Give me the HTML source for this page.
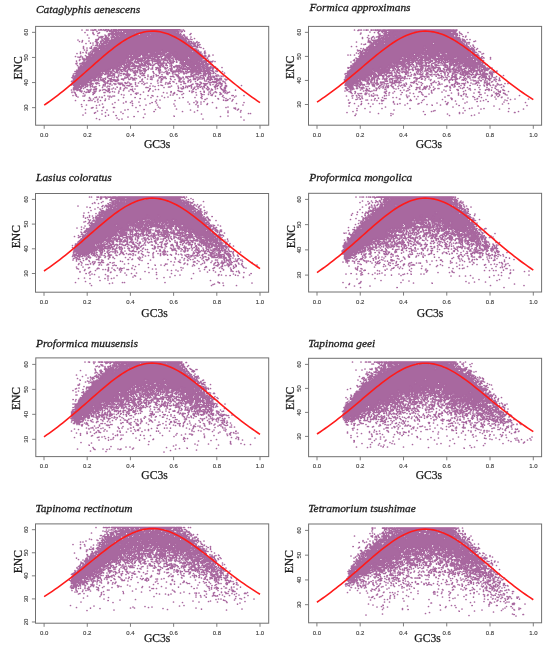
<!DOCTYPE html>
<html><head><meta charset="utf-8"><title>ENC plots</title>
<style>
html,body{margin:0;padding:0;background:#fff;}
svg{display:block;}
.ti{font-family:"Liberation Serif",serif;font-style:italic;font-size:11.4px;fill:#1a1a1a;stroke:#1a1a1a;stroke-width:0.3px;}
.lb{font-family:"Liberation Serif",serif;font-size:11.6px;fill:#1a1a1a;stroke:#1a1a1a;stroke-width:0.25px;}
.tk{font-family:"Liberation Sans",sans-serif;font-size:6.0px;fill:#2a2a2a;stroke:#555;stroke-width:0.12px;}
</style></head><body>
<svg width="550" height="648" viewBox="0 0 550 648">
<defs><filter id="bl" x="-2%" y="-2%" width="104%" height="104%"><feGaussianBlur stdDeviation="0.45"/></filter></defs>
<rect width="550" height="648" fill="#fff"/>
<g filter="url(#bl)"><path d="M94 29.5h2m4 0h2m1 0h1m1 0h2m1 0h1m2 0h1m1 0h4m1 0h62M93 30.5h1m10 0h2m2 0h4m1 0h64M107 31.5h1m1 0h8m1 0h1m2 0h1m1 0h56m2 0h2m1 0h1M112 32.5h2m1 0h4m1 0h15m1 0h40m1 0h2M93 33.5h1m4 0h1m10 0h8m1 0h1m1 0h4m2 0h53m1 0h1M108 34.5h2m1 0h8m1 0h17m3 0h10m1 0h30m9 0h1M105 35.5h1m2 0h2m2 0h2m1 0h3m1 0h32m2 0h5m1 0h22m3 0h1M101 36.5h2m2 0h2m5 0h3m1 0h3m1 0h27m1 0h35M99 37.5h1m2 0h1m2 0h3m3 0h73m1 0h1M104 38.5h5m2 0h1m2 0h70m1 0h3m6 0h1M96 39.5h3m5 0h5m3 0h74m2 0h1m2 0h1M82 40.5h1m13 0h1m5 0h2m2 0h81M82 41.5h1m13 0h1m4 0h1m2 0h4m1 0h78m1 0h4M96 42.5h1m3 0h1m3 0h86m1 0h1M90 43.5h1m6 0h1m3 0h6m1 0h88M97 44.5h1m1 0h1m1 0h3m2 0h81m1 0h3m3 0h1m2 0h1M96 45.5h2m1 0h88m2 0h3m2 0h2m1 0h2M83 46.5h1m7 0h1m8 0h98M83 47.5h1m7 0h1m2 0h3m2 0h6m1 0h87m4 0h1M83 48.5h1m6 0h2m2 0h3m1 0h95m10 0h1M93 49.5h6m1 0h97M93 50.5h101m1 0h2m1 0h1M92 51.5h69m1 0h30m2 0h5m5 0h1M80 52.5h1m5 0h1m3 0h1m1 0h1m2 0h39m2 0h19m1 0h5m1 0h5m2 0h32m3 0h1M80 53.5h1m10 0h2m3 0h52m2 0h15m2 0h8m1 0h16m1 0h8m3 0h1M89 54.5h1m1 0h57m2 0h12m1 0h2m1 0h4m2 0h30M89 55.5h39m2 0h2m1 0h8m1 0h11m1 0h4m2 0h1m2 0h37m1 0h2m2 0h1M86 56.5h5m1 0h48m3 0h2m3 0h10m1 0h4m2 0h6m2 0h33m2 0h1M79 57.5h1m2 0h1m3 0h47m1 0h4m5 0h8m3 0h6m1 0h1m3 0h6m4 0h13m1 0h13M86 58.5h43m2 0h17m1 0h1m4 0h1m2 0h2m2 0h1m2 0h2m2 0h2m1 0h2m2 0h13m2 0h13m2 0h1m1 0h1M83 59.5h43m1 0h2m2 0h3m1 0h8m1 0h2m2 0h1m3 0h4m1 0h3m2 0h4m2 0h2m3 0h1m1 0h1m1 0h25m3 0h2M79 60.5h1m4 0h1m2 0h39m1 0h6m2 0h1m1 0h8m2 0h3m1 0h2m3 0h3m5 0h4m2 0h1m2 0h1m5 0h23m2 0h3m1 0h1M76 61.5h1m9 0h39m2 0h4m3 0h8m3 0h2m1 0h1m3 0h1m3 0h1m2 0h2m8 0h2m2 0h2m1 0h1m3 0h1m1 0h2m1 0h13m1 0h8m1 0h3m1 0h1M82 62.5h1m1 0h48m4 0h3m5 0h4m4 0h1m4 0h1m1 0h2m2 0h1m3 0h1m2 0h4m2 0h1m3 0h20m1 0h6m3 0h1M76 63.5h1m3 0h43m5 0h6m4 0h1m2 0h2m1 0h5m7 0h3m1 0h2m1 0h1m6 0h2m8 0h11m1 0h12m1 0h3M82 64.5h37m1 0h5m1 0h1m1 0h3m2 0h2m4 0h4m1 0h2m1 0h4m3 0h1m3 0h1m2 0h2m3 0h1m14 0h16m1 0h6m1 0h4m1 0h1M84 65.5h38m2 0h3m1 0h2m2 0h3m4 0h6m5 0h1m1 0h2m4 0h4m1 0h1m2 0h2m3 0h1m4 0h4m2 0h4m1 0h8m1 0h5m2 0h2m1 0h2m4 0h1M80 66.5h40m1 0h1m2 0h6m2 0h9m7 0h1m10 0h2m1 0h1m8 0h1m1 0h1m1 0h3m1 0h1m1 0h1m1 0h4m3 0h10m1 0h3m1 0h3m2 0h1M78 67.5h40m1 0h2m1 0h1m1 0h6m5 0h1m2 0h1m1 0h1m11 0h1m7 0h1m4 0h1m5 0h1m5 0h1m1 0h3m1 0h1m2 0h3m1 0h11m1 0h3m1 0h5m2 0h3M78 68.5h42m3 0h4m1 0h2m4 0h1m2 0h1m6 0h1m3 0h1m3 0h1m3 0h3m6 0h2m4 0h1m5 0h1m2 0h6m1 0h3m1 0h10m2 0h3m3 0h2m1 0h2m2 0h2M79 69.5h32m1 0h2m2 0h6m2 0h2m2 0h4m6 0h2m3 0h3m2 0h1m7 0h1m1 0h1m1 0h1m9 0h2m4 0h1m1 0h2m2 0h15m1 0h4m1 0h2m1 0h1m1 0h2m2 0h1M77 70.5h29m1 0h2m3 0h2m3 0h2m2 0h1m2 0h1m2 0h1m2 0h1m1 0h1m2 0h1m1 0h1m2 0h2m2 0h3m11 0h3m9 0h2m4 0h1m1 0h3m6 0h1m2 0h12m1 0h6m1 0h3M75 71.5h34m1 0h2m4 0h2m4 0h1m2 0h1m1 0h1m6 0h1m1 0h2m6 0h2m7 0h1m5 0h1m5 0h1m5 0h1m1 0h4m1 0h4m1 0h1m2 0h1m2 0h9m1 0h11m2 0h2m3 0h1M76 72.5h25m1 0h1m2 0h2m1 0h1m1 0h2m3 0h3m9 0h1m5 0h3m6 0h1m16 0h1m7 0h1m1 0h1m2 0h2m9 0h1m3 0h2m2 0h2m3 0h5m3 0h2m1 0h4M75 73.5h28m3 0h1m1 0h1m4 0h1m9 0h1m3 0h1m6 0h2m4 0h1m1 0h1m23 0h2m16 0h1m6 0h2m3 0h1m1 0h3m2 0h3m1 0h4m2 0h1M76 74.5h26m2 0h2m7 0h2m8 0h1m1 0h1m1 0h3m5 0h1m31 0h1m7 0h2m14 0h1m2 0h5m4 0h3m2 0h3M73 75.5h1m1 0h24m1 0h2m6 0h5m1 0h1m3 0h1m7 0h4m12 0h1m10 0h1m2 0h1m1 0h1m17 0h3m12 0h3m7 0h3m1 0h1m2 0h1m1 0h1m5 0h1M73 76.5h24m2 0h2m6 0h2m5 0h1m3 0h1m8 0h1m23 0h1m18 0h1m1 0h2m3 0h2m7 0h1m1 0h6m9 0h1m4 0h3m2 0h2m1 0h1m4 0h1M72 77.5h1m1 0h23m1 0h4m5 0h1m8 0h2m8 0h2m3 0h1m13 0h1m13 0h2m4 0h1m12 0h2m3 0h1m2 0h2m8 0h1m3 0h1m6 0h2m1 0h2m1 0h2M73 78.5h23m2 0h1m5 0h2m3 0h3m12 0h1m7 0h1m3 0h1m24 0h1m4 0h1m3 0h1m8 0h3m12 0h2m6 0h1m1 0h1m2 0h2m1 0h2m3 0h1m4 0h2M73 79.5h18m2 0h3m2 0h1m3 0h2m1 0h1m4 0h2m1 0h2m6 0h3m5 0h1m3 0h2m7 0h1m7 0h2m10 0h1m16 0h2m9 0h1m3 0h2m2 0h1m5 0h1m2 0h6m1 0h4m7 0h1M73 80.5h16m1 0h1m2 0h4m4 0h4m3 0h1m1 0h1m2 0h4m1 0h1m42 0h1m17 0h1m9 0h1m7 0h1m12 0h1m5 0h3M73 81.5h16m1 0h2m11 0h2m2 0h2m1 0h1m4 0h1m24 0h1m38 0h1m3 0h1m4 0h1m19 0h1m3 0h1m2 0h2m6 0h1M72 82.5h17m1 0h1m6 0h1m6 0h1m2 0h1m17 0h1m9 0h1m64 0h1m8 0h3m2 0h3m3 0h1M74 83.5h13m3 0h3m2 0h2m1 0h1m6 0h1m4 0h1m7 0h4m3 0h2m41 0h3m5 0h1m7 0h2m10 0h1m4 0h1m2 0h1m1 0h2m11 0h3m3 0h1M71 84.5h17m2 0h2m13 0h1m14 0h1m1 0h1m7 0h1m4 0h1m56 0h1m4 0h1m1 0h1m4 0h2m4 0h1m5 0h1m4 0h1M73 85.5h7m1 0h3m1 0h1m1 0h1m2 0h1m1 0h1m6 0h1m3 0h1m20 0h1m4 0h1m28 0h1m2 0h2m27 0h2m12 0h2m9 0h1m1 0h2m7 0h1M74 86.5h10m2 0h2m2 0h1m40 0h2m50 0h1m5 0h1m1 0h1m6 0h1m2 0h1m1 0h2m10 0h1m1 0h1m2 0h1m4 0h2M74 87.5h8m3 0h1m8 0h1m7 0h1m14 0h1m2 0h1m4 0h1m20 0h2m30 0h1m4 0h1m1 0h1m1 0h1m12 0h1m6 0h1m7 0h1m4 0h1m3 0h2M73 88.5h5m2 0h2m1 0h1m12 0h1m23 0h1m3 0h1m25 0h1m27 0h1m3 0h2m10 0h1m7 0h1m3 0h1m14 0h1m2 0h2M73 89.5h4m2 0h2m6 0h1m2 0h1m2 0h2m1 0h1m6 0h2m3 0h2m20 0h3m16 0h1m8 0h1m34 0h1m13 0h2m2 0h2m8 0h1M77 90.5h1m1 0h2m7 0h1m1 0h1m9 0h1m5 0h1m1 0h2m13 0h1m8 0h1m15 0h1m74 0h3m9 0h1M80 91.5h2m6 0h1m5 0h2m11 0h2m3 0h1m35 0h1m22 0h1m7 0h1m9 0h1m3 0h1m10 0h1m10 0h1m7 0h2M74 92.5h1m11 0h1m1 0h2m14 0h1m58 0h1m40 0h1m20 0h1m1 0h2M75 93.5h1m7 0h1m9 0h2m40 0h2m36 0h2m26 0h1m8 0h1m9 0h1M75 94.5h1m17 0h1m27 0h1m14 0h1m65 0h1m5 0h1m3 0h1M152 95.5h1m58 0h1m20 0h2M76 96.5h1m80 0h1m57 0h1m6 0h1M89 97.5h1m5 0h2m5 0h1m32 0h1m28 0h1m18 0h1m17 0h1M140 98.5h1m77 0h1M205 99.5h1M75 100.5h1m8 0h1m3 0h2m15 0h1m117 0h1m1 0h1m1 0h1m4 0h1M155 101.5h1M130 102.5h1m21 0h1m44 0h1m14 0h1M207 103.5h1m28 0h1M81 104.5h1m125 0h1M132 105.5h1M92 107.5h1m20 0h2m101 0h1M234 108.5h2M144 109.5h1m93 0h1M154 111.5h1m27 0h1M95 112.5h1m9 0h1M94 113.5h1m153 0h1M108 115.5h1m7 0h1M105 116.5h1m28 0h1m39 0h1m45 0h1M143 117.5h1M96 118.5h1" stroke="#a8679f" stroke-width="1" fill="none" shape-rendering="crispEdges"/><path d="M82 30h0m4.5 0h0m1.5 0h0m3 0h0m1.5 0h0m1.5 0h0m1 0h0m.5 0h0m.5 0h0m2.5 0h0m.5 0h0m1 0h0m.5 0h0m.5 0h0m.5 0h0m1.5 0h0m.5 0h0m1 0h0m1 0h0m.5 0h0m.5 0h0m.5 0h0m.5 0h0m.5 0h0m.5 0h0m.5 0h0m2 0h0m.5 0h0m1 0h0m.5 0h0m.5 0h0m.5 0h0m.5 0h0m.5 0h0m.5 0h0m.5 0h0m.5 0h0m.5 0h0m1 0h0m.5 0h0m.5 0h0m.5 0h0m.5 0h0m.5 0h0m.5 0h0m.5 0h0m.5 0h0m.5 0h0m.5 0h0m.5 0h0m.5 0h0m.5 0h0m.5 0h0m.5 0h0m.5 0h0m.5 0h0m.5 0h0m.5 0h0m.5 0h0m.5 0h0m.5 0h0m.5 0h0m.5 0h0m.5 0h0m.5 0h0m.5 0h0m.5 0h0m.5 0h0m.5 0h0m.5 0h0m.5 0h0m.5 0h0m.5 0h0m.5 0h0m.5 0h0m.5 0h0m.5 0h0m.5 0h0m.5 0h0m.5 0h0m.5 0h0m.5 0h0m.5 0h0m.5 0h0m.5 0h0m.5 0h0m.5 0h0m.5 0h0m.5 0h0m.5 0h0m.5 0h0m.5 0h0m.5 0h0m.5 0h0m.5 0h0m.5 0h0m.5 0h0m.5 0h0m.5 0h0m.5 0h0m.5 0h0m.5 0h0m.5 0h0m.5 0h0m.5 0h0m.5 0h0m.5 0h0m.5 0h0m.5 0h0m.5 0h0m.5 0h0m.5 0h0m.5 0h0m.5 0h0m.5 0h0m.5 0h0m.5 0h0m.5 0h0m.5 0h0m.5 0h0m.5 0h0m.5 0h0m.5 0h0m.5 0h0m.5 0h0m.5 0h0m.5 0h0m.5 0h0m.5 0h0m.5 0h0m.5 0h0m.5 0h0m.5 0h0m.5 0h0m.5 0h0m.5 0h0m.5 0h0m.5 0h0m.5 0h0m.5 0h0m.5 0h0m.5 0h0m.5 0h0m.5 0h0m.5 0h0m.5 0h0m.5 0h0m.5 0h0m.5 0h0m.5 0h0m.5 0h0m.5 0h0m.5 0h0m.5 0h0m.5 0h0m.5 0h0m.5 0h0m.5 0h0m.5 0h0m.5 0h0m.5 0h0m.5 0h0m1 0h0m.5 0h0m2 0h0m.5 0h0m-90.5 .5h0m12 0h0m3.5 0h0m1.5 0h0m9.5 0h0m2.5 0h0m-3 .5h0m5 0h0m52.5 0h0m8 0h0m-87.5 .5h0m10 0h0m3 0h0m1.5 0h0m1.5 0h0m3 0h0m2 0h0m3 0h0m56 0h0m.5 0h0m1.5 0h0m2 0h0m1 0h0m-64 .5h0m7.5 0h0m8.5 0h0m.5 0h0m41 0h0m3 0h0m.5 0h0m2.5 0h0m-96.5 .5h0m8 0h0m6.5 0h0m12.5 0h0m.5 0h0m6.5 0h0m1.5 0h0m4 0h0m54 0h0m-85.5 .5h0m6 0h0m12.5 0h0m3.5 0h0m2.5 0h0m2.5 0h0m4 0h0m2.5 0h0m8 0h0m1 0h0m.5 0h0m1 0h0m13 0h0m25.5 0h0m1.5 0h0m-84 .5h0m5 0h0m11 0h0m1.5 0h0m1 0h0m7 0h0m5.5 0h0m2.5 0h0m11.5 0h0m.5 0h0m.5 0h0m11 0h0m26.5 0h0m4 0h0m10.5 0h0m-82.5 .5h0m2.5 0h0m.5 0h0m3 0h0m2 0h0m1.5 0h0m.5 0h0m.5 0h0m4 0h0m1 0h0m2.5 0h0m8.5 0h0m1 0h0m.5 0h0m4 0h0m8.5 0h0m3 0h0m.5 0h0m.5 0h0m23.5 0h0m2 0h0m-84.5 .5h0m15.5 0h0m4.5 0h0m6 0h0m.5 0h0m.5 0h0m4 0h0m27.5 0h0m6 0h0m21 0h0m1.5 0h0m3 0h0m6 0h0m-102.5 .5h0m17.5 0h0m3.5 0h0m7 0h0m2 0h0m3 0h0m4 0h0m11.5 0h0m2 0h0m2.5 0h0m9 0h0m.5 0h0m1 0h0m1.5 0h0m5 0h0m1 0h0m21 0h0m4 0h0m-86 .5h0m12 0h0m2.5 0h0m8 0h0m17 0h0m1.5 0h0m.5 0h0m11.5 0h0m9 0h0m21 0h0m4 0h0m-79 .5h0m1 0h0m2 0h0m10 0h0m.5 0h0m18.5 0h0m1 0h0m1 0h0m11 0h0m2.5 0h0m6.5 0h0m21.5 0h0m1.5 0h0m-81.5 .5h0m1 0h0m1 0h0m3 0h0m6.5 0h0m2 0h0m2 0h0m.5 0h0m1.5 0h0m2.5 0h0m25.5 0h0m2 0h0m3 0h0m.5 0h0m6.5 0h0m24 0h0m2.5 0h0m-86 .5h0m6.5 0h0m5.5 0h0m1.5 0h0m1.5 0h0m6.5 0h0m26 0h0m.5 0h0m5 0h0m30 0h0m5 0h0m4 0h0m-91 .5h0m12 0h0m1 0h0m3 0h0m31 0h0m.5 0h0m36 0h0m2 0h0m-96.5 .5h0m12.5 0h0m.5 0h0m6.5 0h0m3 0h0m3.5 0h0m5 0h0m66.5 0h0m-88 .5h0m5.5 0h0m5 0h0m5.5 0h0m69.5 0h0m2 0h0m8.5 0h0m-82.5 .5h0m72.5 0h0m3 0h0m3 0h0m-94.5 .5h0m1 0h0m1 0h0m4 0h0m3 0h0m1 0h0m6.5 0h0m1 0h0m71 0h0m3.5 0h0m4 0h0m-114 .5h0m25 0h0m5.5 0h0m.5 0h0m2 0h0m1 0h0m1 0h0m73 0h0m3 0h0m-106.5 .5h0m13.5 0h0m1 0h0m6.5 0h0m6 0h0m1.5 0h0m75.5 0h0m-97.5 .5h0m12 0h0m1 0h0m1.5 0h0m2 0h0m.5 0h0m-26.5 .5h0m16 0h0m5 0h0m1 0h0m4 0h0m2 0h0m79 0h0m2 0h0m1.5 0h0m.5 0h0m.5 0h0m6 0h0m-115 .5h0m15 0h0m8 0h0m.5 0h0m2 0h0m1.5 0h0m1 0h0m76.5 0h0m5 0h0m2 0h0m-95.5 .5h0m3 0h0m2.5 0h0m84 0h0m2 0h0m7 0h0m2.5 0h0m-108.5 .5h0m2.5 0h0m3.5 0h0m7.5 0h0m4.5 0h0m83.5 0h0m3 0h0m3 0h0m-112 .5h0m11.5 0h0m3.5 0h0m.5 0h0m1 0h0m1 0h0m1 0h0m1 0h0m1 0h0m2 0h0m79 0h0m3.5 0h0m3 0h0m1 0h0m-95.5 .5h0m3.5 0h0m.5 0h0m3 0h0m1.5 0h0m85 0h0m-85.5 .5h0m78.5 0h0m2.5 0h0m.5 0h0m1.5 0h0m3.5 0h0m1 0h0m2.5 0h0m2.5 0h0m-107 .5h0m3.5 0h0m.5 0h0m2.5 0h0m4.5 0h0m2 0h0m2 0h0m78.5 0h0m.5 0h0m4 0h0m3 0h0m5 0h0m-103.5 .5h0m4 0h0m.5 0h0m5.5 0h0m81 0h0m3 0h0m2 0h0m2.5 0h0m-96.5 .5h0m1 0h0m6 0h0m.5 0h0m.5 0h0m81.5 0h0m1.5 0h0m1 0h0m1.5 0h0m1 0h0m3.5 0h0m2 0h0m-114 .5h0m8 0h0m8.5 0h0m.5 0h0m5 0h0m.5 0h0m87.5 0h0m.5 0h0m1.5 0h0m1 0h0m-105 .5h0m14 0h0m1 0h0m86 0h0m4 0h0m3 0h0m-116 .5h0m11 0h0m.5 0h0m1.5 0h0m2.5 0h0m5 0h0m2.5 0h0m85.5 0h0m.5 0h0m5 0h0m3.5 0h0m-114 .5h0m3 0h0m4 0h0m2 0h0m1 0h0m2.5 0h0m4.5 0h0m2 0h0m.5 0h0m.5 0h0m85.5 0h0m-109 .5h0m8 0h0m4.5 0h0m2.5 0h0m93.5 0h0m.5 0h0m2.5 0h0m8.5 0h0m-109 .5h0m2 0h0m96 0h0m1 0h0m3 0h0m-103.5 .5h0m4 0h0m.5 0h0m.5 0h0m2.5 0h0m94.5 0h0m.5 0h0m.5 0h0m-111.5 .5h0m2.5 0h0m6.5 0h0m4 0h0m3 0h0m61.5 0h0m30.5 0h0m3 0h0m.5 0h0m2 0h0m-111 .5h0m106.5 0h0m-102 .5h0m.5 0h0m7.5 0h0m56 0h0m5.5 0h0m6.5 0h0m.5 0h0m.5 0h0m.5 0h0m22.5 0h0m2.5 0h0m1 0h0m.5 0h0m1.5 0h0m1.5 0h0m6.5 0h0m-112 .5h0m.5 0h0m.5 0h0m1 0h0m41 0h0m19.5 0h0m7.5 0h0m28.5 0h0m3 0h0m-114 .5h0m5.5 0h0m4.5 0h0m2.5 0h0m2 0h0m38 0h0m.5 0h0m15.5 0h0m7 0h0m.5 0h0m6 0h0m3.5 0h0m9.5 0h0m18 0h0m.5 0h0m.5 0h0m3 0h0m.5 0h0m1.5 0h0m1.5 0h0m3.5 0h0m-121.5 .5h0m7.5 0h0m5 0h0m39 0h0m1.5 0h0m12.5 0h0m7.5 0h0m.5 0h0m.5 0h0m4 0h0m2 0h0m2.5 0h0m1 0h0m2.5 0h0m6.5 0h0m.5 0h0m16.5 0h0m.5 0h0m.5 0h0m7 0h0m-114 .5h0m2.5 0h0m1.5 0h0m1.5 0h0m4 0h0m37.5 0h0m1.5 0h0m15 0h0m10 0h0m1.5 0h0m1.5 0h0m1.5 0h0m.5 0h0m4 0h0m7 0h0m.5 0h0m14.5 0h0m9 0h0m4.5 0h0m1 0h0m-128.5 .5h0m3.5 0h0m11.5 0h0m2.5 0h0m1.5 0h0m38 0h0m1 0h0m.5 0h0m12 0h0m8.5 0h0m6.5 0h0m5 0h0m1 0h0m2 0h0m4 0h0m2 0h0m16.5 0h0m.5 0h0m-105 .5h0m5.5 0h0m.5 0h0m38 0h0m8.5 0h0m10 0h0m7 0h0m1 0h0m2.5 0h0m.5 0h0m1 0h0m1.5 0h0m7 0h0m.5 0h0m20 0h0m8 0h0m.5 0h0m1.5 0h0m-112 .5h0m1.5 0h0m4 0h0m34 0h0m11.5 0h0m9 0h0m3.5 0h0m10.5 0h0m2.5 0h0m2.5 0h0m.5 0h0m.5 0h0m5.5 0h0m16.5 0h0m9 0h0m-112 .5h0m3 0h0m1 0h0m1 0h0m33 0h0m.5 0h0m3 0h0m.5 0h0m9.5 0h0m5 0h0m2.5 0h0m.5 0h0m1 0h0m2.5 0h0m1 0h0m.5 0h0m9.5 0h0m.5 0h0m.5 0h0m.5 0h0m.5 0h0m1 0h0m26.5 0h0m12.5 0h0m4 0h0m4 0h0m-127.5 .5h0m4.5 0h0m1 0h0m1 0h0m35.5 0h0m.5 0h0m.5 0h0m2 0h0m3 0h0m.5 0h0m6 0h0m3 0h0m2 0h0m.5 0h0m1.5 0h0m2.5 0h0m4.5 0h0m3 0h0m.5 0h0m3 0h0m10.5 0h0m1 0h0m.5 0h0m27 0h0m1 0h0m1.5 0h0m-121 .5h0m10 0h0m36 0h0m1 0h0m2.5 0h0m.5 0h0m9 0h0m5 0h0m3 0h0m.5 0h0m3.5 0h0m9.5 0h0m1 0h0m2.5 0h0m.5 0h0m4.5 0h0m4 0h0m1 0h0m25 0h0m3.5 0h0m1 0h0m1.5 0h0m3.5 0h0m-134 .5h0m11 0h0m2 0h0m2 0h0m2 0h0m35.5 0h0m.5 0h0m.5 0h0m3.5 0h0m.5 0h0m.5 0h0m.5 0h0m9 0h0m1 0h0m1 0h0m6.5 0h0m1 0h0m1 0h0m.5 0h0m3.5 0h0m1.5 0h0m1.5 0h0m1 0h0m4.5 0h0m4 0h0m.5 0h0m.5 0h0m2.5 0h0m15 0h0m.5 0h0m14 0h0m.5 0h0m1.5 0h0m3.5 0h0m-130.5 .5h0m2 0h0m.5 0h0m2 0h0m5 0h0m1.5 0h0m40.5 0h0m3 0h0m4.5 0h0m1 0h0m5 0h0m2 0h0m1.5 0h0m4 0h0m2 0h0m3 0h0m2 0h0m2 0h0m1.5 0h0m5 0h0m2 0h0m2.5 0h0m3 0h0m14 0h0m-108 .5h0m3 0h0m47 0h0m1 0h0m1.5 0h0m.5 0h0m10.5 0h0m2.5 0h0m2 0h0m.5 0h0m1 0h0m6 0h0m1 0h0m.5 0h0m8.5 0h0m.5 0h0m1.5 0h0m.5 0h0m7.5 0h0m.5 0h0m-89 .5h0m5 0h0m36.5 0h0m5.5 0h0m.5 0h0m.5 0h0m6 0h0m.5 0h0m1.5 0h0m3 0h0m.5 0h0m.5 0h0m.5 0h0m.5 0h0m.5 0h0m9.5 0h0m.5 0h0m1 0h0m6.5 0h0m.5 0h0m1.5 0h0m.5 0h0m3 0h0m1.5 0h0m4 0h0m11 0h0m2.5 0h0m.5 0h0m11 0h0m.5 0h0m3 0h0m2 0h0m.5 0h0m-123.5 .5h0m3 0h0m40 0h0m1 0h0m3 0h0m2.5 0h0m1.5 0h0m4 0h0m1 0h0m6.5 0h0m3 0h0m.5 0h0m1.5 0h0m1 0h0m1 0h0m.5 0h0m7.5 0h0m2.5 0h0m.5 0h0m3.5 0h0m3.5 0h0m4 0h0m12.5 0h0m2 0h0m1 0h0m12.5 0h0m1.5 0h0m-122.5 .5h0m3.5 0h0m.5 0h0m40.5 0h0m1 0h0m3.5 0h0m5 0h0m2 0h0m1 0h0m1.5 0h0m1 0h0m2.5 0h0m4 0h0m3 0h0m3.5 0h0m2.5 0h0m5 0h0m2.5 0h0m.5 0h0m3 0h0m1 0h0m3.5 0h0m.5 0h0m14.5 0h0m14 0h0m.5 0h0m-122.5 .5h0m4 0h0m1 0h0m1.5 0h0m39 0h0m2 0h0m3 0h0m3 0h0m11 0h0m3.5 0h0m5.5 0h0m3.5 0h0m6.5 0h0m5 0h0m1 0h0m.5 0h0m3.5 0h0m2.5 0h0m1.5 0h0m1 0h0m11 0h0m16.5 0h0m.5 0h0m-127 .5h0m5 0h0m.5 0h0m42.5 0h0m.5 0h0m1 0h0m2.5 0h0m1 0h0m3 0h0m12.5 0h0m4.5 0h0m2 0h0m1 0h0m2 0h0m2.5 0h0m1 0h0m1 0h0m3.5 0h0m1 0h0m3.5 0h0m11.5 0h0m3 0h0m3.5 0h0m10.5 0h0m8 0h0m2 0h0m-129 .5h0m7.5 0h0m38 0h0m2 0h0m.5 0h0m5 0h0m10 0h0m1 0h0m.5 0h0m3 0h0m2 0h0m2 0h0m1 0h0m4 0h0m1.5 0h0m1.5 0h0m5 0h0m1 0h0m1.5 0h0m1 0h0m2 0h0m.5 0h0m1 0h0m2 0h0m.5 0h0m5.5 0h0m.5 0h0m1.5 0h0m17 0h0m3.5 0h0m2.5 0h0m4 0h0m-131.5 .5h0m7 0h0m1 0h0m2.5 0h0m.5 0h0m.5 0h0m37.5 0h0m2 0h0m2 0h0m1 0h0m5 0h0m5 0h0m1.5 0h0m1 0h0m.5 0h0m.5 0h0m1.5 0h0m7.5 0h0m16.5 0h0m1 0h0m2.5 0h0m3.5 0h0m6 0h0m.5 0h0m16.5 0h0m1 0h0m2 0h0m1 0h0m9.5 0h0m-126.5 .5h0m.5 0h0m37 0h0m7 0h0m3.5 0h0m.5 0h0m1 0h0m1 0h0m3 0h0m7 0h0m1.5 0h0m.5 0h0m3.5 0h0m2 0h0m1.5 0h0m2 0h0m2.5 0h0m3 0h0m7.5 0h0m3 0h0m2.5 0h0m5.5 0h0m4 0h0m14 0h0m2 0h0m1.5 0h0m2.5 0h0m.5 0h0m2 0h0m1.5 0h0m1 0h0m4 0h0m-89 .5h0m5 0h0m3.5 0h0m7 0h0m7.5 0h0m8 0h0m2.5 0h0m.5 0h0m.5 0h0m7 0h0m3 0h0m.5 0h0m5.5 0h0m.5 0h0m3.5 0h0m1 0h0m.5 0h0m.5 0h0m.5 0h0m2.5 0h0m6 0h0m5.5 0h0m.5 0h0m.5 0h0m2 0h0m11 0h0m1 0h0m-129.5 .5h0m1.5 0h0m1.5 0h0m37.5 0h0m3 0h0m1 0h0m5.5 0h0m2.5 0h0m9 0h0m3 0h0m21 0h0m3 0h0m.5 0h0m.5 0h0m.5 0h0m.5 0h0m8.5 0h0m16.5 0h0m.5 0h0m.5 0h0m5.5 0h0m.5 0h0m5 0h0m-133 .5h0m5 0h0m37.5 0h0m5.5 0h0m2 0h0m2 0h0m3 0h0m4.5 0h0m1.5 0h0m.5 0h0m6 0h0m8 0h0m6 0h0m1 0h0m1.5 0h0m1.5 0h0m2 0h0m.5 0h0m4 0h0m4 0h0m7 0h0m1 0h0m3.5 0h0m7.5 0h0m7.5 0h0m6 0h0m.5 0h0m-130 .5h0m4 0h0m.5 0h0m3.5 0h0m38.5 0h0m2 0h0m2 0h0m6 0h0m9 0h0m.5 0h0m3 0h0m1.5 0h0m2 0h0m.5 0h0m1 0h0m5.5 0h0m2 0h0m1 0h0m2 0h0m.5 0h0m2.5 0h0m3 0h0m4 0h0m20 0h0m2 0h0m4.5 0h0m6 0h0m-126.5 .5h0m3.5 0h0m2 0h0m2 0h0m36 0h0m2.5 0h0m.5 0h0m.5 0h0m3.5 0h0m3 0h0m3 0h0m1 0h0m5.5 0h0m5 0h0m3.5 0h0m.5 0h0m.5 0h0m1 0h0m8 0h0m4.5 0h0m7.5 0h0m1.5 0h0m14.5 0h0m6 0h0m.5 0h0m4.5 0h0m3 0h0m1 0h0m1 0h0m6.5 0h0m.5 0h0m-125.5 .5h0m36 0h0m3.5 0h0m5.5 0h0m2 0h0m3 0h0m1 0h0m5 0h0m.5 0h0m.5 0h0m2 0h0m5.5 0h0m1 0h0m1 0h0m4 0h0m.5 0h0m7 0h0m20 0h0m13.5 0h0m1 0h0m.5 0h0m1.5 0h0m.5 0h0m.5 0h0m6 0h0m.5 0h0m2.5 0h0m2.5 0h0m1.5 0h0m-130 .5h0m2.5 0h0m.5 0h0m34.5 0h0m4 0h0m1 0h0m2 0h0m2.5 0h0m4 0h0m7.5 0h0m2.5 0h0m.5 0h0m.5 0h0m1 0h0m3.5 0h0m2 0h0m.5 0h0m1 0h0m6.5 0h0m1.5 0h0m1 0h0m2 0h0m2.5 0h0m19.5 0h0m2.5 0h0m7 0h0m3 0h0m.5 0h0m2.5 0h0m2.5 0h0m.5 0h0m4 0h0m-130 .5h0m3 0h0m4 0h0m41.5 0h0m1.5 0h0m4.5 0h0m3 0h0m1.5 0h0m2.5 0h0m1 0h0m1 0h0m1 0h0m4 0h0m7.5 0h0m5.5 0h0m2 0h0m5.5 0h0m.5 0h0m4.5 0h0m.5 0h0m4 0h0m.5 0h0m1.5 0h0m1 0h0m.5 0h0m.5 0h0m8 0h0m1.5 0h0m14.5 0h0m2 0h0m1 0h0m.5 0h0m-124 .5h0m.5 0h0m34 0h0m3 0h0m9 0h0m4.5 0h0m3 0h0m1.5 0h0m1.5 0h0m2.5 0h0m1.5 0h0m15 0h0m3.5 0h0m7 0h0m.5 0h0m7 0h0m.5 0h0m.5 0h0m3.5 0h0m.5 0h0m1.5 0h0m.5 0h0m1 0h0m4 0h0m1 0h0m4 0h0m2 0h0m5.5 0h0m1 0h0m1 0h0m4 0h0m4 0h0m-130.5 .5h0m.5 0h0m1 0h0m1 0h0m35 0h0m.5 0h0m2 0h0m3 0h0m7 0h0m1.5 0h0m.5 0h0m3 0h0m1 0h0m1.5 0h0m.5 0h0m8.5 0h0m12 0h0m2.5 0h0m12 0h0m1.5 0h0m5.5 0h0m2 0h0m2.5 0h0m10 0h0m4 0h0m2 0h0m1.5 0h0m2 0h0m5 0h0m-132 .5h0m1 0h0m2.5 0h0m1.5 0h0m38.5 0h0m5 0h0m11 0h0m.5 0h0m1.5 0h0m6.5 0h0m6 0h0m8 0h0m3.5 0h0m9.5 0h0m3.5 0h0m2 0h0m5 0h0m2 0h0m3.5 0h0m10.5 0h0m1 0h0m6 0h0m8.5 0h0m-136 .5h0m40.5 0h0m3 0h0m4.5 0h0m2 0h0m5.5 0h0m3.5 0h0m2.5 0h0m11.5 0h0m3.5 0h0m1.5 0h0m2.5 0h0m5 0h0m2.5 0h0m4 0h0m3 0h0m3 0h0m2.5 0h0m.5 0h0m1.5 0h0m4.5 0h0m.5 0h0m1 0h0m13 0h0m6 0h0m2.5 0h0m1.5 0h0m2 0h0m1 0h0m8 0h0m-110.5 .5h0m3 0h0m3 0h0m1.5 0h0m19 0h0m10.5 0h0m.5 0h0m3.5 0h0m5.5 0h0m.5 0h0m19 0h0m2 0h0m2 0h0m6 0h0m2.5 0h0m10.5 0h0m2.5 0h0m1 0h0m1 0h0m1.5 0h0m.5 0h0m1.5 0h0m.5 0h0m3 0h0m.5 0h0m-134 .5h0m36.5 0h0m.5 0h0m8.5 0h0m2 0h0m2.5 0h0m5 0h0m.5 0h0m.5 0h0m.5 0h0m2.5 0h0m5.5 0h0m1.5 0h0m.5 0h0m11.5 0h0m8.5 0h0m.5 0h0m1 0h0m3.5 0h0m1.5 0h0m.5 0h0m5.5 0h0m3.5 0h0m3.5 0h0m3.5 0h0m4 0h0m5 0h0m.5 0h0m3 0h0m2.5 0h0m2 0h0m5 0h0m3.5 0h0m3 0h0m1 0h0m-104.5 .5h0m2 0h0m.5 0h0m.5 0h0m1 0h0m3 0h0m5.5 0h0m3.5 0h0m1.5 0h0m2 0h0m7.5 0h0m4.5 0h0m6.5 0h0m1 0h0m.5 0h0m6 0h0m1.5 0h0m5.5 0h0m12.5 0h0m5 0h0m2 0h0m1 0h0m4 0h0m11.5 0h0m1 0h0m.5 0h0m4 0h0m1.5 0h0m1 0h0m.5 0h0m2.5 0h0m-103.5 .5h0m.5 0h0m3 0h0m7 0h0m2 0h0m1.5 0h0m6 0h0m.5 0h0m1.5 0h0m.5 0h0m7 0h0m5.5 0h0m1.5 0h0m2.5 0h0m8 0h0m16 0h0m4.5 0h0m2.5 0h0m3.5 0h0m.5 0h0m2 0h0m4.5 0h0m1 0h0m5.5 0h0m2.5 0h0m.5 0h0m4.5 0h0m.5 0h0m-127 .5h0m1.5 0h0m.5 0h0m27 0h0m1.5 0h0m2.5 0h0m3 0h0m.5 0h0m4 0h0m3 0h0m4 0h0m3 0h0m12 0h0m4.5 0h0m2 0h0m14.5 0h0m8 0h0m2 0h0m6 0h0m4 0h0m17.5 0h0m.5 0h0m5 0h0m.5 0h0m1 0h0m2.5 0h0m1 0h0m4 0h0m.5 0h0m4 0h0m-139.5 .5h0m28.5 0h0m2 0h0m.5 0h0m4 0h0m4 0h0m1 0h0m1 0h0m2.5 0h0m3 0h0m6.5 0h0m5 0h0m2 0h0m3.5 0h0m1 0h0m4 0h0m12.5 0h0m1 0h0m12 0h0m5.5 0h0m14 0h0m6 0h0m1.5 0h0m2.5 0h0m.5 0h0m5.5 0h0m3.5 0h0m1.5 0h0m.5 0h0m-136 .5h0m25 0h0m3 0h0m1.5 0h0m1.5 0h0m1 0h0m3.5 0h0m1 0h0m3.5 0h0m.5 0h0m8 0h0m.5 0h0m.5 0h0m1.5 0h0m3.5 0h0m2 0h0m1 0h0m2 0h0m4 0h0m1.5 0h0m2.5 0h0m16 0h0m6.5 0h0m4.5 0h0m2.5 0h0m1 0h0m1 0h0m3 0h0m.5 0h0m.5 0h0m1 0h0m1.5 0h0m4 0h0m11 0h0m6 0h0m.5 0h0m5 0h0m1 0h0m2.5 0h0m.5 0h0m3 0h0m-140.5 .5h0m1.5 0h0m24.5 0h0m.5 0h0m2 0h0m.5 0h0m1 0h0m1 0h0m4 0h0m4.5 0h0m7 0h0m.5 0h0m.5 0h0m3.5 0h0m10 0h0m1.5 0h0m2.5 0h0m13 0h0m12.5 0h0m7 0h0m3 0h0m1.5 0h0m3 0h0m.5 0h0m.5 0h0m2 0h0m2.5 0h0m1.5 0h0m2 0h0m1 0h0m.5 0h0m2.5 0h0m2.5 0h0m3.5 0h0m2 0h0m1.5 0h0m10.5 0h0m4 0h0m5.5 0h0m-146 .5h0m30 0h0m.5 0h0m1 0h0m.5 0h0m9 0h0m2 0h0m16.5 0h0m9 0h0m14 0h0m3 0h0m5.5 0h0m5 0h0m2 0h0m1 0h0m3 0h0m2.5 0h0m2 0h0m4 0h0m3 0h0m4 0h0m1.5 0h0m.5 0h0m1.5 0h0m-91 .5h0m4 0h0m1 0h0m4 0h0m1 0h0m17 0h0m2 0h0m2 0h0m16 0h0m6.5 0h0m4 0h0m9 0h0m8 0h0m6.5 0h0m.5 0h0m3.5 0h0m5.5 0h0m1.5 0h0m6 0h0m3 0h0m3 0h0m3 0h0m.5 0h0m-113.5 .5h0m2 0h0m3 0h0m7 0h0m5.5 0h0m9 0h0m.5 0h0m12.5 0h0m2 0h0m.5 0h0m24 0h0m1.5 0h0m1 0h0m.5 0h0m3 0h0m11 0h0m1 0h0m.5 0h0m7.5 0h0m.5 0h0m3.5 0h0m3.5 0h0m3.5 0h0m7 0h0m14 0h0m-149.5 .5h0m1 0h0m25.5 0h0m2 0h0m3 0h0m1.5 0h0m.5 0h0m2.5 0h0m3 0h0m6 0h0m1.5 0h0m2 0h0m1 0h0m10 0h0m1 0h0m6.5 0h0m2.5 0h0m9.5 0h0m5.5 0h0m19.5 0h0m7.5 0h0m5.5 0h0m7.5 0h0m1.5 0h0m2.5 0h0m2.5 0h0m1.5 0h0m3.5 0h0m2 0h0m2.5 0h0m-142 .5h0m25.5 0h0m2.5 0h0m.5 0h0m4 0h0m1.5 0h0m2.5 0h0m3.5 0h0m1 0h0m10.5 0h0m2 0h0m1.5 0h0m12 0h0m3 0h0m23.5 0h0m.5 0h0m5.5 0h0m2 0h0m9 0h0m7 0h0m4.5 0h0m2.5 0h0m.5 0h0m5.5 0h0m1.5 0h0m4.5 0h0m-133.5 .5h0m28.5 0h0m8 0h0m1 0h0m9.5 0h0m6 0h0m.5 0h0m5.5 0h0m20.5 0h0m6 0h0m6 0h0m8 0h0m18.5 0h0m.5 0h0m1.5 0h0m.5 0h0m.5 0h0m1 0h0m7 0h0m.5 0h0m3.5 0h0m-133.5 .5h0m24.5 0h0m1.5 0h0m6.5 0h0m1 0h0m4.5 0h0m.5 0h0m4 0h0m.5 0h0m7 0h0m.5 0h0m3 0h0m6.5 0h0m12 0h0m29.5 0h0m.5 0h0m13 0h0m2.5 0h0m5 0h0m6 0h0m4 0h0m8.5 0h0m1 0h0m-145 .5h0m2.5 0h0m21.5 0h0m2 0h0m2 0h0m9.5 0h0m.5 0h0m1 0h0m1 0h0m8 0h0m13.5 0h0m7.5 0h0m1.5 0h0m1 0h0m9 0h0m4.5 0h0m18.5 0h0m16 0h0m8.5 0h0m1 0h0m.5 0h0m1 0h0m7 0h0m5.5 0h0m-142 .5h0m24 0h0m2 0h0m7.5 0h0m2.5 0h0m18 0h0m1 0h0m9.5 0h0m18 0h0m16.5 0h0m5 0h0m13.5 0h0m3.5 0h0m10.5 0h0m5 0h0m2.5 0h0m6 0h0m2 0h0m2 0h0m-150 .5h0m1.5 0h0m24.5 0h0m1 0h0m7.5 0h0m1 0h0m6 0h0m4 0h0m29.5 0h0m3.5 0h0m9.5 0h0m1.5 0h0m8 0h0m1.5 0h0m5.5 0h0m8.5 0h0m2 0h0m1 0h0m2 0h0m2 0h0m7 0h0m3.5 0h0m5 0h0m1.5 0h0m3 0h0m1 0h0m.5 0h0m2 0h0m.5 0h0m6 0h0m-148.5 .5h0m22 0h0m.5 0h0m2 0h0m2 0h0m6.5 0h0m4.5 0h0m4.5 0h0m8.5 0h0m2 0h0m13 0h0m10.5 0h0m3 0h0m6 0h0m5 0h0m1 0h0m8.5 0h0m5.5 0h0m3.5 0h0m3.5 0h0m3.5 0h0m6.5 0h0m1.5 0h0m10.5 0h0m1.5 0h0m1.5 0h0m3 0h0m-142.5 .5h0m2.5 0h0m22.5 0h0m2 0h0m1 0h0m1.5 0h0m6 0h0m6.5 0h0m3 0h0m.5 0h0m13.5 0h0m1 0h0m8 0h0m5 0h0m15 0h0m3.5 0h0m15 0h0m1 0h0m3.5 0h0m3 0h0m1 0h0m11 0h0m3 0h0m3 0h0m3.5 0h0m3 0h0m3 0h0m1 0h0m-141.5 .5h0m1.5 0h0m18.5 0h0m2 0h0m5.5 0h0m5 0h0m20.5 0h0m2.5 0h0m6.5 0h0m17 0h0m7 0h0m5 0h0m14.5 0h0m.5 0h0m2 0h0m12.5 0h0m.5 0h0m2 0h0m3.5 0h0m3 0h0m5 0h0m4 0h0m9.5 0h0m-130 .5h0m1 0h0m12 0h0m5 0h0m2 0h0m13.5 0h0m8 0h0m1 0h0m3 0h0m25 0h0m4.5 0h0m4.5 0h0m9.5 0h0m1.5 0h0m6.5 0h0m6 0h0m.5 0h0m9.5 0h0m4 0h0m2.5 0h0m4.5 0h0m2 0h0m2.5 0h0m.5 0h0m-146.5 .5h0m16 0h0m4 0h0m4.5 0h0m4.5 0h0m3 0h0m4.5 0h0m.5 0h0m7.5 0h0m3.5 0h0m1 0h0m.5 0h0m7.5 0h0m12 0h0m5 0h0m3 0h0m12 0h0m17.5 0h0m1 0h0m3 0h0m11 0h0m.5 0h0m2.5 0h0m2 0h0m2 0h0m6.5 0h0m.5 0h0m7 0h0m4 0h0m.5 0h0m1 0h0m3.5 0h0m-151.5 .5h0m17.5 0h0m2.5 0h0m.5 0h0m1 0h0m1 0h0m4.5 0h0m2.5 0h0m9 0h0m1.5 0h0m1 0h0m8.5 0h0m6 0h0m5.5 0h0m7.5 0h0m10 0h0m10.5 0h0m8.5 0h0m4 0h0m15.5 0h0m3 0h0m.5 0h0m1 0h0m3 0h0m9 0h0m2 0h0m3 0h0m2.5 0h0m3.5 0h0m9 0h0m-153 .5h0m19 0h0m.5 0h0m1.5 0h0m1 0h0m2.5 0h0m3 0h0m10 0h0m4 0h0m1.5 0h0m1.5 0h0m5 0h0m9.5 0h0m2 0h0m23 0h0m3 0h0m.5 0h0m17.5 0h0m1 0h0m9 0h0m8.5 0h0m7 0h0m12.5 0h0m1.5 0h0m.5 0h0m2 0h0m5 0h0m-152.5 .5h0m15 0h0m1.5 0h0m1.5 0h0m1.5 0h0m3 0h0m1 0h0m4 0h0m1.5 0h0m2 0h0m3.5 0h0m2 0h0m3.5 0h0m28.5 0h0m68 0h0m6.5 0h0m2.5 0h0m-147 .5h0m1.5 0h0m.5 0h0m14.5 0h0m3 0h0m3 0h0m4.5 0h0m4 0h0m12 0h0m2.5 0h0m24.5 0h0m15.5 0h0m22 0h0m3.5 0h0m5 0h0m3 0h0m14 0h0m1.5 0h0m11 0h0m5.5 0h0m-151.5 .5h0m19 0h0m14.5 0h0m2.5 0h0m.5 0h0m2.5 0h0m1.5 0h0m4 0h0m24 0h0m30 0h0m3 0h0m6 0h0m5 0h0m11.5 0h0m13 0h0m4 0h0m1.5 0h0m9 0h0m-149 .5h0m17 0h0m13 0h0m1 0h0m2.5 0h0m20.5 0h0m15.5 0h0m17 0h0m1 0h0m12.5 0h0m6.5 0h0m1 0h0m6.5 0h0m2.5 0h0m9.5 0h0m8.5 0h0m4 0h0m2.5 0h0m5 0h0m4.5 0h0m.5 0h0m-152.5 .5h0m1 0h0m14 0h0m1.5 0h0m1.5 0h0m6.5 0h0m8 0h0m20 0h0m10.5 0h0m30.5 0h0m18 0h0m17 0h0m9 0h0m1 0h0m3 0h0m1 0h0m1.5 0h0m-142.5 .5h0m13 0h0m3 0h0m1 0h0m4.5 0h0m2.5 0h0m8.5 0h0m11.5 0h0m.5 0h0m1.5 0h0m2 0h0m5 0h0m2.5 0h0m9 0h0m8.5 0h0m11 0h0m10 0h0m1.5 0h0m31.5 0h0m.5 0h0m17 0h0m.5 0h0m1.5 0h0m-146.5 .5h0m1 0h0m16 0h0m1 0h0m1 0h0m5 0h0m.5 0h0m.5 0h0m9 0h0m2 0h0m.5 0h0m3.5 0h0m6 0h0m1 0h0m4.5 0h0m16.5 0h0m3 0h0m6 0h0m19 0h0m6.5 0h0m7.5 0h0m1.5 0h0m10.5 0h0m1 0h0m6.5 0h0m1.5 0h0m2.5 0h0m9.5 0h0m2.5 0h0m.5 0h0m.5 0h0m1.5 0h0m3.5 0h0m-153.5 .5h0m1.5 0h0m.5 0h0m.5 0h0m6 0h0m6 0h0m5 0h0m1.5 0h0m3.5 0h0m8.5 0h0m10 0h0m.5 0h0m.5 0h0m3 0h0m3 0h0m8.5 0h0m1 0h0m4 0h0m30 0h0m2.5 0h0m25 0h0m5 0h0m6.5 0h0m1.5 0h0m4 0h0m10.5 0h0m.5 0h0m-147.5 .5h0m7 0h0m.5 0h0m6 0h0m3.5 0h0m13 0h0m6.5 0h0m5 0h0m5 0h0m3 0h0m21 0h0m37 0h0m11 0h0m7.5 0h0m1 0h0m12.5 0h0m-141.5 .5h0m2 0h0m.5 0h0m5 0h0m2.5 0h0m2.5 0h0m.5 0h0m.5 0h0m2.5 0h0m.5 0h0m1.5 0h0m22.5 0h0m18 0h0m31 0h0m36 0h0m7.5 0h0m1.5 0h0m4.5 0h0m5 0h0m1 0h0m2 0h0m3.5 0h0m-142.5 .5h0m20 0h0m5.5 0h0m18 0h0m1.5 0h0m2.5 0h0m1 0h0m30.5 0h0m4 0h0m28 0h0m.5 0h0m8.5 0h0m5 0h0m13.5 0h0m7.5 0h0m1 0h0m15 0h0m-158 .5h0m2.5 0h0m6 0h0m.5 0h0m10.5 0h0m2 0h0m3 0h0m16.5 0h0m4.5 0h0m7 0h0m1.5 0h0m12.5 0h0m3 0h0m18.5 0h0m6.5 0h0m8 0h0m2.5 0h0m.5 0h0m.5 0h0m14.5 0h0m17.5 0h0m4.5 0h0m-146 .5h0m3.5 0h0m2.5 0h0m1.5 0h0m3 0h0m5.5 0h0m13.5 0h0m22 0h0m1 0h0m22.5 0h0m28 0h0m4.5 0h0m4 0h0m5.5 0h0m1 0h0m3.5 0h0m2 0h0m.5 0h0m3.5 0h0m7 0h0m1 0h0m1.5 0h0m3.5 0h0m6 0h0m-152.5 .5h0m.5 0h0m5 0h0m2.5 0h0m8.5 0h0m2.5 0h0m1.5 0h0m.5 0h0m12 0h0m10 0h0m51.5 0h0m1 0h0m.5 0h0m21.5 0h0m3.5 0h0m3 0h0m2 0h0m15.5 0h0m9.5 0h0m-146.5 .5h0m6.5 0h0m17.5 0h0m18 0h0m5 0h0m20.5 0h0m.5 0h0m1.5 0h0m16 0h0m14.5 0h0m7 0h0m2 0h0m17 0h0m3.5 0h0m7 0h0m5.5 0h0m4 0h0m-151 .5h0m40 0h0m13.5 0h0m54 0h0m2.5 0h0m8 0h0m2.5 0h0m8.5 0h0m23 0h0m-152 .5h0m4.5 0h0m3 0h0m2.5 0h0m12.5 0h0m.5 0h0m12.5 0h0m15.5 0h0m25.5 0h0m28.5 0h0m3.5 0h0m1.5 0h0m10.5 0h0m4 0h0m8.5 0h0m2.5 0h0m8.5 0h0m3.5 0h0m3.5 0h0m-148 .5h0m14.5 0h0m3.5 0h0m13.5 0h0m1.5 0h0m2.5 0h0m3.5 0h0m4.5 0h0m.5 0h0m3.5 0h0m8.5 0h0m2.5 0h0m15 0h0m32 0h0m21 0h0m6 0h0m2.5 0h0m4 0h0m6 0h0m-148 .5h0m.5 0h0m1.5 0h0m3.5 0h0m.5 0h0m7.5 0h0m4 0h0m2.5 0h0m1 0h0m1.5 0h0m8 0h0m1 0h0m25.5 0h0m1.5 0h0m23.5 0h0m3 0h0m34.5 0h0m3 0h0m11.5 0h0m4 0h0m11.5 0h0m2 0h0m-153.5 .5h0m2.5 0h0m3.5 0h0m1.5 0h0m1.5 0h0m7.5 0h0m1.5 0h0m10.5 0h0m2.5 0h0m105.5 0h0m4 0h0m.5 0h0m10 0h0m13 0h0m-158.5 .5h0m29 0h0m.5 0h0m2 0h0m.5 0h0m14.5 0h0m9 0h0m16.5 0h0m29 0h0m45.5 0h0m-143.5 .5h0m1 0h0m1 0h0m8.5 0h0m3.5 0h0m2 0h0m3.5 0h0m8.5 0h0m11 0h0m10 0h0m19.5 0h0m4.5 0h0m26 0h0m10.5 0h0m2.5 0h0m12 0h0m6.5 0h0m13 0h0m.5 0h0m2 0h0m-141.5 .5h0m4 0h0m7 0h0m12 0h0m.5 0h0m4.5 0h0m6.5 0h0m14.5 0h0m37.5 0h0m9.5 0h0m1.5 0h0m11.5 0h0m7 0h0m15 0h0m-143.5 .5h0m2 0h0m7.5 0h0m5.5 0h0m1.5 0h0m1 0h0m5.5 0h0m15 0h0m4.5 0h0m29 0h0m60.5 0h0m5 0h0m6 0h0m8.5 0h0m6 0h0m-157.5 .5h0m3 0h0m11 0h0m7 0h0m11 0h0m1 0h0m4.5 0h0m54 0h0m7.5 0h0m3.5 0h0m17.5 0h0m4 0h0m20.5 0h0m3.5 0h0m5.5 0h0m2 0h0m.5 0h0m-153 .5h0m19.5 0h0m24 0h0m18 0h0m1.5 0h0m29 0h0m43.5 0h0m3 0h0m7 0h0m4.5 0h0m-141.5 .5h0m10 0h0m42 0h0m.5 0h0m37.5 0h0m1 0h0m9 0h0m17.5 0h0m26 0h0m-90.5 .5h0m72 0h0m13 0h0m-145.5 .5h0m17 0h0m28.5 0h0m9.5 0h0m9.5 0h0m36.5 0h0m5 0h0m20 0h0m2 0h0m4.5 0h0m4 0h0m7.5 0h0m-144.5 .5h0m9.5 0h0m39 0h0m46.5 0h0m2.5 0h0m23.5 0h0m5 0h0m9.5 0h0m-138 .5h0m31.5 0h0m43.5 0h0m4 0h0m60 0h0m11 0h0m9 0h0m1 0h0m11 0h0m-167.5 .5h0m6.5 0h0m1.5 0h0m23.5 0h0m2 0h0m3 0h0m1.5 0h0m38.5 0h0m9 0h0m53.5 0h0m20.5 0h0m-78.5 .5h0m44.5 0h0m20.5 0h0m-144.5 .5h0m18.5 0h0m3 0h0m2.5 0h0m7.5 0h0m2 0h0m56.5 0h0m66.5 0h0m-145 .5h0m5.5 0h0m1 0h0m6 0h0m21.5 0h0m11.5 0h0m16 0h0m13.5 0h0m18.5 0h0m12 0h0m6 0h0m23 0h0m-134.5 .5h0m90 0h0m-39.5 .5h0m62 0h0m5 0h0m11 0h0m8 0h0m4 0h0m-139.5 .5h0m3 0h0m4.5 0h0m7.5 0h0m3.5 0h0m36 0h0m73.5 0h0m-13.5 .5h0m.5 0h0m22.5 0h0m5 0h0m-135.5 .5h0m21 0h0m38 0h0m3.5 0h0m63.5 0h0m4 0h0m-152 .5h0m8.5 0h0m4.5 0h0m1.5 0h0m2 0h0m8.5 0h0m4.5 0h0m70 0h0m50.5 0h0m1 0h0m-94.5 .5h0m64 0h0m36 0h0m-137 .5h0m31 0h0m6 0h0m23.5 0h0m48.5 0h0m-106 .5h0m28 0h0m13 0h0m49 0h0m9.5 0h0m3.5 0h0m-86 .5h0m15.5 0h0m21.5 0h0m42 0h0m18.5 0h0m31.5 0h0m-120.5 .5h0m33 0h0m40.5 0h0m-64.5 .5h0m17.5 0h0m57.5 0h0m29 0h0m-134 .5h0m10 0h0m61.5 0h0m15.5 0h0m11.5 0h0m-119.5 .5h0m114.5 0h0m11 0h0m-120.5 .5h0m13 0h0m46.5 0h0m11.5 0h0m85.5 0h0m-146.5 .5h0m36 0h0m7.5 0h0m58 0h0m-23 .5h0m-93 .5h0m21.5 .5h0m55 0h0m39.5 0h0m30 0h0m-135 .5h0m10 0h0m10.5 0h0m1 0h0m21.5 0h0m80.5 0h0m9.5 0h0m-134.5 .5h0m.5 0h0m4.5 0h0m63.5 0h0m56.5 0h0m17.5 0h0m1.5 0h0m-59 1h0m59 0h0m3 0h0m-153 .5h0m42.5 0h0m16 0h0m11.5 0h0m-48.5 .5h0m18 0h0m65.5 0h0m47 0h0m-135.5 .5h0m95.5 0h0m43.5 0h0m-143.5 .5h0m130.5 0h0m-90 .5h0m16 0h0m28.5 0h0m-69 .5h0m7.5 0h0m73.5 0h0m46 0h0m-145 .5h0m10 0h0m122.5 0h0m-142.5 .5h0m9 0h0m28.5 .5h0m125.5 0h0m2 0h0m-148.5 .5h0m43 0h0m56.5 0h0m-118.5 1h0m25.5 0h0m7.5 .5h0m-10.5 .5h0m68.5 0h0m54 0h0m-94 .5h0m86.5 0h0m-92.5 .5h0m113 0h0m-97.5 .5h0m-26.5 .5h0m-20.5 .5h0m25.5 .5h0m81 0h0m-103.5 .5h0m19.5 0h0m125 .5h0" stroke="#a8679f" stroke-width="1.7" stroke-linecap="round" fill="none"/></g>
<polyline points="44.2,105.14 46.9,103.27 49.6,101.35 52.29,99.38 54.99,97.37 57.69,95.32 60.39,93.23 63.08,91.09 65.78,88.91 68.48,86.7 71.18,84.45 73.87,82.16 76.57,79.85 79.27,77.51 81.97,75.15 84.66,72.77 87.36,70.38 90.06,67.99 92.76,65.6 95.45,63.21 98.15,60.84 100.85,58.49 103.55,56.18 106.24,53.9 108.94,51.68 111.64,49.51 114.34,47.42 117.03,45.41 119.73,43.49 122.43,41.68 125.13,39.97 127.82,38.39 130.52,36.95 133.22,35.64 135.92,34.49 138.61,33.49 141.31,32.66 144.01,32 146.71,31.52 149.4,31.22 152.1,31.1 154.8,31.15 157.5,31.4 160.19,31.82 162.89,32.41 165.59,33.18 168.29,34.11 170.98,35.2 173.68,36.44 176.38,37.83 179.07,39.34 181.77,40.99 184.47,42.74 187.17,44.59 189.87,46.54 192.56,48.57 195.26,50.67 197.96,52.83 200.66,55.05 203.35,57.3 206.05,59.58 208.75,61.89 211.44,64.22 214.14,66.55 216.84,68.88 219.54,71.2 222.24,73.52 224.93,75.82 227.63,78.09 230.33,80.34 233.03,82.56 235.72,84.75 238.42,86.9 241.12,89.02 243.81,91.09 246.51,93.12 249.21,95.11 251.91,97.06 254.61,98.96 257.3,100.82 260,102.63" fill="none" stroke="#ff1a1a" stroke-width="1.6" stroke-linejoin="round"/>
<rect x="35.6" y="26.4" width="233.1" height="98.8" fill="none" stroke="#707070" stroke-width="1"/>
<path d="M44.2 125.2v3.6M87.36 125.2v3.6M130.52 125.2v3.6M173.68 125.2v3.6M216.84 125.2v3.6M260 125.2v3.6M32 107.65h3.6M32 82.55h3.6M32 57.45h3.6M32 32.35h3.6" stroke="#707070" stroke-width="0.9" fill="none"/>
<text x="44.2" y="136.93" class="tk" text-anchor="middle">0.0</text>
<text x="87.36" y="136.93" class="tk" text-anchor="middle">0.2</text>
<text x="130.52" y="136.93" class="tk" text-anchor="middle">0.4</text>
<text x="173.68" y="136.93" class="tk" text-anchor="middle">0.6</text>
<text x="216.84" y="136.93" class="tk" text-anchor="middle">0.8</text>
<text x="260" y="136.93" class="tk" text-anchor="middle">1.0</text>
<text class="tk" text-anchor="middle" transform="translate(28.03 107.65) rotate(-90)">30</text>
<text class="tk" text-anchor="middle" transform="translate(28.03 82.55) rotate(-90)">40</text>
<text class="tk" text-anchor="middle" transform="translate(28.03 57.45) rotate(-90)">50</text>
<text class="tk" text-anchor="middle" transform="translate(28.03 32.35) rotate(-90)">60</text>
<text x="36" y="12.75" class="ti">Cataglyphis aenescens</text>
<text x="157.1" y="147.9" class="lb" text-anchor="middle">GC3s</text>
<text class="lb" text-anchor="middle" transform="translate(22.4 67.9) rotate(-90)">ENC</text>
<g filter="url(#bl)"><path d="M358 30.5h1m7 0h1m4 0h1m3 0h1m1 0h4m1 0h75M378 31.5h1m2 0h1m1 0h4m3 0h1m1 0h12m1 0h12m1 0h38M374 32.5h1m3 0h1m3 0h1m2 0h5m2 0h59m2 0h3m3 0h1M378 33.5h1m5 0h3m1 0h69m3 0h1M379 34.5h1m4 0h3m1 0h70M379 35.5h1m1 0h2m1 0h70m2 0h2m1 0h1M373 36.5h1m4 0h2m3 0h1m1 0h1m1 0h1m1 0h6m1 0h58m2 0h1m6 0h1m1 0h1M362 37.5h1m9 0h1m5 0h2m2 0h2m1 0h25m1 0h49M362 38.5h1m8 0h1m6 0h82M378 39.5h3m2 0h78m2 0h1M368 40.5h1m3 0h12m1 0h72m2 0h2m1 0h3M368 41.5h3m4 0h9m1 0h77m2 0h2m8 0h1M369 42.5h3m2 0h3m1 0h85m5 0h2M372 43.5h2m1 0h9m1 0h48m1 0h30m2 0h1M365 44.5h1m5 0h3m1 0h90m1 0h1M370 45.5h4m2 0h91M356 46.5h1m11 0h101m4 0h1M367 47.5h5m1 0h51m1 0h44M367 48.5h1m1 0h105m3 0h1M364 49.5h3m1 0h58m1 0h41m1 0h5m2 0h1M358 50.5h2m2 0h1m2 0h106m1 0h3M360 51.5h3m2 0h2m1 0h56m1 0h44m3 0h3M360 52.5h2m1 0h3m1 0h72m1 0h30m1 0h6M360 53.5h3m1 0h75m2 0h4m2 0h24m1 0h3M360 54.5h3m2 0h49m1 0h4m1 0h1m1 0h18m2 0h4m1 0h24m1 0h4m1 0h1M360 55.5h4m1 0h46m1 0h10m2 0h3m1 0h12m1 0h38M359 56.5h52m1 0h7m2 0h2m2 0h2m2 0h7m1 0h10m1 0h23m1 0h3m7 0h1M360 57.5h42m2 0h8m1 0h4m1 0h2m1 0h15m2 0h1m1 0h3m1 0h12m1 0h10m1 0h8m1 0h2m2 0h1m1 0h1M356 58.5h1m2 0h44m2 0h1m1 0h10m1 0h1m1 0h3m2 0h6m1 0h22m3 0h25M357 59.5h44m1 0h8m1 0h4m1 0h2m1 0h4m2 0h6m4 0h5m1 0h14m1 0h17m1 0h7M354 60.5h1m2 0h43m2 0h21m1 0h5m1 0h3m2 0h2m1 0h5m1 0h4m1 0h27m1 0h4m2 0h1M356 61.5h54m2 0h2m4 0h1m1 0h2m3 0h1m3 0h4m3 0h4m3 0h1m1 0h1m3 0h2m1 0h24m2 0h3M355 62.5h50m2 0h7m4 0h1m1 0h3m2 0h3m1 0h2m3 0h2m2 0h1m2 0h1m1 0h5m2 0h1m1 0h6m1 0h17m1 0h6M354 63.5h38m1 0h12m1 0h4m2 0h1m3 0h7m2 0h2m1 0h1m3 0h2m4 0h1m3 0h1m1 0h1m4 0h5m2 0h7m1 0h17m1 0h1M353 64.5h39m2 0h1m1 0h2m2 0h6m2 0h6m2 0h1m2 0h3m4 0h1m8 0h2m7 0h2m3 0h3m1 0h5m1 0h1m3 0h11m1 0h8M353 65.5h42m1 0h2m3 0h5m3 0h2m2 0h1m7 0h2m1 0h2m2 0h2m1 0h1m3 0h4m4 0h5m2 0h2m1 0h4m2 0h1m3 0h14m3 0h4M351 66.5h37m1 0h1m1 0h7m2 0h1m2 0h4m2 0h1m1 0h1m5 0h1m2 0h3m3 0h3m4 0h1m11 0h1m3 0h1m4 0h1m4 0h3m1 0h15m2 0h5M348 67.5h1m1 0h43m3 0h3m4 0h1m1 0h4m6 0h1m5 0h2m9 0h8m5 0h3m1 0h1m7 0h3m5 0h1m3 0h2m1 0h6m1 0h1m2 0h4M348 68.5h1m2 0h29m1 0h5m2 0h2m2 0h3m3 0h1m2 0h1m4 0h1m1 0h1m6 0h1m4 0h3m2 0h1m2 0h2m3 0h1m5 0h2m7 0h2m2 0h2m4 0h1m1 0h2m2 0h3m2 0h6m2 0h1m5 0h7M351 69.5h35m1 0h3m3 0h1m1 0h1m1 0h3m2 0h1m2 0h1m2 0h1m3 0h1m2 0h5m1 0h2m2 0h1m1 0h1m2 0h1m2 0h1m4 0h1m1 0h1m3 0h1m1 0h3m1 0h1m1 0h5m4 0h4m5 0h5m6 0h8M349 70.5h23m1 0h16m3 0h2m3 0h3m6 0h1m6 0h1m3 0h2m2 0h1m3 0h3m2 0h2m1 0h1m3 0h1m2 0h1m5 0h1m2 0h1m3 0h1m1 0h3m1 0h1m2 0h1m1 0h2m3 0h11m1 0h2m1 0h4M348 71.5h25m1 0h15m8 0h1m5 0h1m16 0h1m8 0h3m5 0h1m2 0h4m5 0h2m3 0h2m3 0h1m2 0h4m1 0h1m1 0h3m2 0h1m1 0h1m2 0h3m14 0h1M347 72.5h27m4 0h14m2 0h1m2 0h2m3 0h1m1 0h4m2 0h1m25 0h1m7 0h1m9 0h3m3 0h1m2 0h6m2 0h1m1 0h1m6 0h1m2 0h2m4 0h2m2 0h1M345 73.5h1m2 0h25m2 0h1m2 0h5m1 0h1m2 0h1m1 0h3m7 0h1m5 0h1m8 0h1m2 0h1m9 0h1m16 0h1m3 0h1m3 0h2m6 0h1m2 0h1m1 0h5m2 0h1m3 0h2m2 0h1m1 0h5m2 0h4M348 74.5h29m1 0h2m1 0h1m3 0h2m18 0h2m7 0h2m4 0h3m3 0h1m3 0h2m2 0h1m2 0h2m13 0h1m2 0h2m3 0h4m1 0h3m2 0h4m1 0h6m1 0h6m3 0h2M346 75.5h26m1 0h1m1 0h4m1 0h4m2 0h1m4 0h1m3 0h2m2 0h2m7 0h1m29 0h2m12 0h1m2 0h1m7 0h1m1 0h1m5 0h1m3 0h2m4 0h4m7 0h1M346 76.5h19m1 0h2m2 0h2m1 0h1m1 0h4m3 0h2m4 0h2m3 0h1m1 0h3m2 0h1m3 0h2m15 0h4m2 0h2m7 0h1m15 0h4m8 0h1m2 0h2m5 0h2m3 0h2m1 0h5m2 0h1m2 0h1M345 77.5h24m3 0h4m2 0h1m4 0h1m12 0h4m2 0h1m11 0h2m4 0h1m6 0h1m13 0h1m1 0h1m2 0h1m4 0h2m1 0h3m3 0h1m2 0h1m4 0h1m3 0h4m6 0h5m2 0h1M347 78.5h19m2 0h2m1 0h4m2 0h2m4 0h1m2 0h1m3 0h3m4 0h2m2 0h1m7 0h1m6 0h4m5 0h1m25 0h1m4 0h2m1 0h1m4 0h2m12 0h1m6 0h3m1 0h1m9 0h1M345 79.5h13m1 0h7m2 0h2m1 0h2m1 0h1m9 0h3m4 0h1m5 0h1m2 0h1m15 0h1m4 0h1m23 0h1m4 0h3m2 0h2m5 0h3m20 0h1m2 0h2m4 0h1m4 0h1M344 80.5h17m1 0h4m1 0h2m2 0h1m2 0h1m1 0h2m14 0h1m1 0h3m33 0h1m13 0h1m4 0h1m2 0h1m2 0h1m7 0h1m1 0h1m15 0h1m7 0h1m9 0h1M345 81.5h16m6 0h1m2 0h1m3 0h1m10 0h3m4 0h1m1 0h3m2 0h1m14 0h1m19 0h1m3 0h1m16 0h1m11 0h1M346 82.5h12m2 0h2m5 0h2m2 0h1m2 0h1m2 0h1m3 0h3m6 0h3m1 0h7m10 0h2m1 0h1m6 0h1m11 0h1m21 0h2m10 0h1m10 0h1m5 0h2M346 83.5h8m1 0h3m2 0h2m5 0h3m5 0h3m9 0h1m4 0h3m11 0h1m9 0h1m5 0h1m16 0h1m15 0h1m1 0h1m1 0h1m2 0h1m1 0h1m10 0h2m10 0h3m7 0h1M345 84.5h2m1 0h6m3 0h1m1 0h6m7 0h2m3 0h2m2 0h1m22 0h1m1 0h1m32 0h1m12 0h1m1 0h1m2 0h1m6 0h1m21 0h2m1 0h1m8 0h1M345 85.5h8m1 0h2m1 0h1m2 0h1m11 0h3m5 0h1m7 0h1m2 0h1m9 0h1m2 0h1m16 0h1m30 0h1m1 0h1m9 0h1m5 0h1m6 0h1m6 0h1m2 0h1M348 86.5h5m3 0h1m2 0h1m19 0h1m7 0h2m3 0h1m18 0h1m12 0h1m2 0h1m1 0h1m15 0h2m7 0h1m4 0h1M346 87.5h1m2 0h4m6 0h1m2 0h2m14 0h1m6 0h1m1 0h2m13 0h1m14 0h1m6 0h3m23 0h1m50 0h1M345 88.5h2m3 0h4m2 0h2m3 0h2m13 0h1m2 0h1m18 0h1m25 0h2m12 0h1m56 0h1M346 89.5h1m5 0h1m13 0h2m17 0h1m23 0h1m6 0h1m16 0h1m23 0h1m30 0h2m6 0h1M347 90.5h1m17 0h2m1 0h1m7 0h1m73 0h1m7 0h1m6 0h1m19 0h1m5 0h1m11 0h2M350 91.5h1m4 0h1m14 0h1m15 0h1m7 0h1m25 0h1m42 0h1m34 0h3M350 92.5h2m3 0h1m28 0h1m4 0h1m12 0h1m75 0h2m20 0h1M365 93.5h2m6 0h1m11 0h1m72 0h1m37 0h3m4 0h2M365 94.5h1m56 0h1m35 0h1m4 0h1m2 0h1m13 0h1m15 0h1m8 0h1M356 95.5h1m2 0h1m11 0h1m5 0h1m70 0h1m12 0h1m25 0h1m4 0h1m6 0h1m19 0h1M373 96.5h1m40 0h1m11 0h1m46 0h1m5 0h1m18 0h1M407 97.5h1m66 0h1m6 0h1M362 98.5h1m12 0h1m2 0h1m5 0h1m66 0h1m25 0h1M356 99.5h1m3 0h1m49 0h1m40 0h1m58 0h1M382 100.5h2m26 0h2m10 0h1M393 101.5h1m83 0h1m10 0h1M393 102.5h1m27 0h1m103 0h1M349 103.5h1m4 0h1m6 0h1m17 0h1m67 0h1m60 0h1M361 104.5h1m35 0h1M432 105.5h1m26 0h1M370 106.5h1M469 108.5h1M423 111.5h1m7 0h1m76 0h1m9 0h1M514 112.5h1M459 113.5h1M425 114.5h1M355 115.5h1m115 0h1" stroke="#a8679f" stroke-width="1" fill="none" shape-rendering="crispEdges"/><path d="M354.5 30h0m4 0h0m1.5 0h0m1.5 0h0m2.5 0h0m2 0h0m.5 0h0m.5 0h0m1 0h0m3 0h0m.5 0h0m.5 0h0m1.5 0h0m1.5 0h0m.5 0h0m.5 0h0m1 0h0m.5 0h0m.5 0h0m.5 0h0m1 0h0m.5 0h0m.5 0h0m1.5 0h0m1 0h0m.5 0h0m.5 0h0m.5 0h0m.5 0h0m.5 0h0m1 0h0m1 0h0m.5 0h0m.5 0h0m.5 0h0m.5 0h0m.5 0h0m.5 0h0m.5 0h0m.5 0h0m.5 0h0m.5 0h0m.5 0h0m.5 0h0m.5 0h0m.5 0h0m.5 0h0m.5 0h0m.5 0h0m.5 0h0m.5 0h0m.5 0h0m.5 0h0m.5 0h0m.5 0h0m.5 0h0m.5 0h0m.5 0h0m.5 0h0m.5 0h0m.5 0h0m.5 0h0m.5 0h0m.5 0h0m.5 0h0m.5 0h0m.5 0h0m.5 0h0m.5 0h0m.5 0h0m.5 0h0m.5 0h0m.5 0h0m.5 0h0m.5 0h0m.5 0h0m.5 0h0m.5 0h0m.5 0h0m.5 0h0m.5 0h0m.5 0h0m.5 0h0m.5 0h0m.5 0h0m.5 0h0m.5 0h0m.5 0h0m.5 0h0m.5 0h0m.5 0h0m.5 0h0m.5 0h0m.5 0h0m.5 0h0m.5 0h0m.5 0h0m.5 0h0m.5 0h0m.5 0h0m.5 0h0m.5 0h0m.5 0h0m.5 0h0m.5 0h0m.5 0h0m.5 0h0m.5 0h0m.5 0h0m.5 0h0m.5 0h0m.5 0h0m.5 0h0m.5 0h0m.5 0h0m.5 0h0m.5 0h0m.5 0h0m.5 0h0m.5 0h0m.5 0h0m.5 0h0m.5 0h0m.5 0h0m.5 0h0m.5 0h0m.5 0h0m.5 0h0m.5 0h0m.5 0h0m.5 0h0m.5 0h0m.5 0h0m.5 0h0m.5 0h0m.5 0h0m.5 0h0m.5 0h0m.5 0h0m.5 0h0m.5 0h0m.5 0h0m.5 0h0m.5 0h0m.5 0h0m.5 0h0m.5 0h0m.5 0h0m.5 0h0m.5 0h0m.5 0h0m.5 0h0m.5 0h0m.5 0h0m.5 0h0m.5 0h0m.5 0h0m.5 0h0m.5 0h0m.5 0h0m1 0h0m.5 0h0m.5 0h0m.5 0h0m1 0h0m1 0h0m.5 0h0m.5 0h0m-99 .5h0m18 0h0m8.5 0h0m7 0h0m3.5 0h0m.5 0h0m2.5 0h0m1 0h0m1 0h0m1 0h0m2 0h0m2.5 0h0m.5 0h0m.5 0h0m1 0h0m.5 0h0m1 0h0m2 0h0m1.5 0h0m.5 0h0m1 0h0m.5 0h0m1 0h0m1 0h0m1 0h0m.5 0h0m.5 0h0m.5 0h0m.5 0h0m1.5 0h0m.5 0h0m1 0h0m.5 0h0m1 0h0m.5 0h0m.5 0h0m.5 0h0m1 0h0m.5 0h0m2 0h0m.5 0h0m1 0h0m2.5 0h0m.5 0h0m.5 0h0m.5 0h0m.5 0h0m1 0h0m2.5 0h0m1.5 0h0m.5 0h0m.5 0h0m1 0h0m.5 0h0m.5 0h0m1 0h0m.5 0h0m1 0h0m1 0h0m.5 0h0m1 0h0m.5 0h0m.5 0h0m1.5 0h0m3 0h0m2 0h0m-77 .5h0m1 0h0m3.5 0h0m1.5 0h0m1 0h0m1 0h0m4.5 0h0m1 0h0m1 0h0m2.5 0h0m4 0h0m1 0h0m3.5 0h0m1.5 0h0m3 0h0m3 0h0m.5 0h0m1.5 0h0m3 0h0m.5 0h0m.5 0h0m1.5 0h0m1 0h0m2.5 0h0m3 0h0m2 0h0m.5 0h0m7 0h0m1.5 0h0m1 0h0m.5 0h0m.5 0h0m.5 0h0m1 0h0m1 0h0m.5 0h0m2 0h0m2 0h0m.5 0h0m.5 0h0m.5 0h0m1 0h0m2.5 0h0m3 0h0m1 0h0m-75.5 .5h0m2.5 0h0m1 0h0m1.5 0h0m5 0h0m14.5 0h0m15 0h0m32.5 0h0m1 0h0m4 0h0m-86 .5h0m15 0h0m5 0h0m3 0h0m10.5 0h0m1 0h0m1.5 0h0m49.5 0h0m4 0h0m-85 .5h0m3.5 0h0m4.5 0h0m4.5 0h0m1.5 0h0m.5 0h0m1 0h0m1.5 0h0m.5 0h0m12 0h0m1 0h0m12 0h0m38.5 0h0m12.5 0h0m-107 .5h0m24 0h0m1.5 0h0m4.5 0h0m.5 0h0m58.5 0h0m3 0h0m2.5 0h0m-77 .5h0m5.5 0h0m.5 0h0m6 0h0m.5 0h0m1 0h0m59.5 0h0m.5 0h0m5 0h0m3 0h0m1 0h0m-100.5 .5h0m18.5 0h0m1 0h0m4 0h0m1 0h0m1 0h0m.5 0h0m2 0h0m68.5 0h0m.5 0h0m-78 .5h0m7.5 0h0m68.5 0h0m6.5 0h0m-77 .5h0m2.5 0h0m.5 0h0m7.5 0h0m60.5 0h0m-87.5 .5h0m11 0h0m1.5 0h0m1.5 0h0m3.5 0h0m.5 0h0m1 0h0m.5 0h0m65.5 0h0m2.5 0h0m1 0h0m2.5 0h0m-80.5 .5h0m4.5 0h0m.5 0h0m1.5 0h0m.5 0h0m1.5 0h0m2.5 0h0m20.5 0h0m.5 0h0m42 0h0m13 0h0m-92.5 .5h0m4.5 0h0m3 0h0m4 0h0m5 0h0m4 0h0m2 0h0m.5 0h0m14 0h0m46 0h0m6.5 0h0m-90.5 .5h0m4 0h0m3 0h0m3.5 0h0m4.5 0h0m1.5 0h0m.5 0h0m.5 0h0m5 0h0m1 0h0m13 0h0m2.5 0h0m42 0h0m1.5 0h0m1 0h0m9.5 0h0m-103 .5h0m5 0h0m11 0h0m1 0h0m2 0h0m1 0h0m2.5 0h0m1 0h0m.5 0h0m.5 0h0m1 0h0m.5 0h0m20.5 0h0m.5 0h0m46 0h0m1.5 0h0m1 0h0m1.5 0h0m-88 .5h0m3 0h0m7 0h0m.5 0h0m1.5 0h0m2 0h0m10 0h0m13.5 0h0m1.5 0h0m1 0h0m44 0h0m-93 .5h0m6.5 0h0m9.5 0h0m2.5 0h0m1.5 0h0m2 0h0m26.5 0h0m-39.5 .5h0m11 0h0m.5 0h0m27.5 0h0m47.5 0h0m.5 0h0m.5 0h0m1.5 0h0m2 0h0m-84.5 .5h0m2 0h0m.5 0h0m3.5 0h0m73.5 0h0m1 0h0m5.5 0h0m3 0h0m3 0h0m-101.5 .5h0m3.5 0h0m2 0h0m2 0h0m1 0h0m1.5 0h0m1.5 0h0m2.5 0h0m1 0h0m2 0h0m73 0h0m1 0h0m3 0h0m2 0h0m-96 .5h0m6 0h0m.5 0h0m6.5 0h0m1 0h0m.5 0h0m2.5 0h0m70.5 0h0m1 0h0m2 0h0m1 0h0m.5 0h0m2.5 0h0m2 0h0m-95 .5h0m3.5 0h0m1.5 0h0m2 0h0m.5 0h0m3.5 0h0m4.5 0h0m70.5 0h0m1.5 0h0m2.5 0h0m15.5 0h0m-105 .5h0m5 0h0m1.5 0h0m.5 0h0m.5 0h0m5 0h0m.5 0h0m.5 0h0m.5 0h0m73.5 0h0m1 0h0m3 0h0m2 0h0m1.5 0h0m8.5 0h0m-117.5 .5h0m11.5 0h0m1 0h0m6 0h0m1 0h0m2 0h0m5.5 0h0m.5 0h0m.5 0h0m49 0h0m.5 0h0m27.5 0h0m4 0h0m-96 .5h0m2 0h0m2 0h0m1.5 0h0m3.5 0h0m89.5 0h0m1 0h0m.5 0h0m-99 .5h0m1 0h0m3 0h0m11 0h0m49 0h0m29.5 0h0m2.5 0h0m-94 .5h0m3 0h0m2 0h0m8 0h0m.5 0h0m49 0h0m28.5 0h0m3 0h0m-105 .5h0m4 0h0m9.5 0h0m8 0h0m.5 0h0m1.5 0h0m47.5 0h0m34.5 0h0m2 0h0m-105 .5h0m7.5 0h0m2 0h0m10.5 0h0m.5 0h0m48.5 0h0m1 0h0m30 0h0m.5 0h0m-94.5 .5h0m.5 0h0m3 0h0m3 0h0m7.5 0h0m.5 0h0m.5 0h0m48 0h0m.5 0h0m33 0h0m6.5 0h0m-96.5 .5h0m89 0h0m1.5 0h0m-97.5 .5h0m6 0h0m49.5 0h0m40.5 0h0m5 0h0m3 0h0m-122 .5h0m5 0h0m12 0h0m3.5 0h0m3 0h0m.5 0h0m48.5 0h0m.5 0h0m42.5 0h0m.5 0h0m.5 0h0m-99.5 .5h0m2.5 0h0m.5 0h0m3.5 0h0m50.5 0h0m43 0h0m-101.5 .5h0m1 0h0m5.5 0h0m51.5 0h0m43.5 0h0m3.5 0h0m2.5 0h0m-102 .5h0m51 0h0m2 0h0m43 0h0m1 0h0m-108.5 .5h0m2.5 0h0m4 0h0m2 0h0m.5 0h0m2.5 0h0m.5 0h0m52 0h0m1 0h0m.5 0h0m42 0h0m2.5 0h0m2.5 0h0m4 0h0m-111 .5h0m2.5 0h0m3.5 0h0m.5 0h0m52 0h0m1 0h0m42 0h0m1.5 0h0m-104 .5h0m3 0h0m103.5 0h0m2 0h0m2.5 0h0m-119 .5h0m5.5 0h0m1.5 0h0m3 0h0m.5 0h0m56.5 0h0m1 0h0m42 0h0m6.5 0h0m-115 .5h0m1 0h0m5 0h0m.5 0h0m.5 0h0m102 0h0m1 0h0m1.5 0h0m2 0h0m2 0h0m-116.5 .5h0m2.5 0h0m62.5 0h0m4 0h0m-65 .5h0m4 0h0m2 0h0m55.5 0h0m2 0h0m14 0h0m.5 0h0m28 0h0m.5 0h0m4 0h0m6.5 0h0m-116 .5h0m2.5 0h0m2 0h0m55.5 0h0m1.5 0h0m20.5 0h0m.5 0h0m1 0h0m22 0h0m.5 0h0m3 0h0m3 0h0m5.5 0h0m-120.5 .5h0m1 0h0m3 0h0m.5 0h0m.5 0h0m2.5 0h0m.5 0h0m56 0h0m14 0h0m8.5 0h0m.5 0h0m22 0h0m2 0h0m5 0h0m.5 0h0m-120 .5h0m9.5 0h0m.5 0h0m53 0h0m1.5 0h0m17.5 0h0m.5 0h0m1.5 0h0m.5 0h0m.5 0h0m28 0h0m-111 .5h0m3.5 0h0m.5 0h0m1.5 0h0m2.5 0h0m47.5 0h0m5.5 0h0m.5 0h0m1 0h0m17 0h0m6 0h0m1 0h0m2.5 0h0m23.5 0h0m2 0h0m10.5 0h0m-123 .5h0m4 0h0m1.5 0h0m.5 0h0m52.5 0h0m1.5 0h0m1 0h0m.5 0h0m1 0h0m16.5 0h0m3 0h0m30.5 0h0m1.5 0h0m3.5 0h0m4 0h0m-117 .5h0m1 0h0m45.5 0h0m4.5 0h0m2 0h0m.5 0h0m2 0h0m2 0h0m5 0h0m15 0h0m4.5 0h0m.5 0h0m22.5 0h0m2 0h0m.5 0h0m3 0h0m1.5 0h0m-129 .5h0m2.5 0h0m4 0h0m5.5 0h0m.5 0h0m5 0h0m44.5 0h0m1.5 0h0m.5 0h0m3.5 0h0m3.5 0h0m1 0h0m4.5 0h0m2 0h0m10 0h0m2.5 0h0m3 0h0m3.5 0h0m1 0h0m1.5 0h0m22.5 0h0m2.5 0h0m3 0h0m-115.5 .5h0m2.5 0h0m.5 0h0m2.5 0h0m46 0h0m.5 0h0m2.5 0h0m6 0h0m5 0h0m11 0h0m4 0h0m.5 0h0m.5 0h0m4.5 0h0m.5 0h0m24 0h0m7 0h0m-117 .5h0m3.5 0h0m39 0h0m.5 0h0m6 0h0m.5 0h0m1.5 0h0m3 0h0m2.5 0h0m2 0h0m2.5 0h0m2 0h0m1 0h0m3.5 0h0m1 0h0m6 0h0m4.5 0h0m.5 0h0m.5 0h0m6.5 0h0m22.5 0h0m5 0h0m2 0h0m2 0h0m-120 .5h0m.5 0h0m5 0h0m.5 0h0m37 0h0m1 0h0m7.5 0h0m1.5 0h0m5.5 0h0m3.5 0h0m.5 0h0m4.5 0h0m.5 0h0m3 0h0m.5 0h0m5.5 0h0m2 0h0m2 0h0m4 0h0m.5 0h0m4.5 0h0m.5 0h0m18.5 0h0m6.5 0h0m8 0h0m-122 .5h0m43.5 0h0m.5 0h0m.5 0h0m6 0h0m.5 0h0m.5 0h0m1 0h0m1 0h0m5 0h0m.5 0h0m3.5 0h0m.5 0h0m.5 0h0m.5 0h0m3 0h0m4.5 0h0m8.5 0h0m.5 0h0m2 0h0m.5 0h0m14 0h0m1 0h0m16.5 0h0m3 0h0m-76 .5h0m9.5 0h0m8 0h0m1.5 0h0m7 0h0m.5 0h0m1 0h0m11.5 0h0m4.5 0h0m2.5 0h0m7.5 0h0m2 0h0m.5 0h0m9 0h0m4.5 0h0m.5 0h0m.5 0h0m3.5 0h0m2.5 0h0m1 0h0m4.5 0h0m7 0h0m-134.5 .5h0m3.5 0h0m42 0h0m3 0h0m6 0h0m.5 0h0m9.5 0h0m2.5 0h0m.5 0h0m1.5 0h0m3.5 0h0m2 0h0m1 0h0m2.5 0h0m6 0h0m14 0h0m3.5 0h0m9.5 0h0m8.5 0h0m1.5 0h0m2.5 0h0m.5 0h0m.5 0h0m.5 0h0m3 0h0m-127 .5h0m2 0h0m42.5 0h0m6 0h0m3.5 0h0m1.5 0h0m2.5 0h0m1.5 0h0m1.5 0h0m4.5 0h0m12 0h0m2 0h0m3 0h0m4 0h0m10 0h0m4 0h0m24.5 0h0m-124 .5h0m42 0h0m2 0h0m1 0h0m.5 0h0m12.5 0h0m.5 0h0m5.5 0h0m3 0h0m.5 0h0m4.5 0h0m3.5 0h0m3.5 0h0m.5 0h0m1.5 0h0m5 0h0m12 0h0m11.5 0h0m5 0h0m4 0h0m4.5 0h0m9.5 0h0m-136 .5h0m2.5 0h0m.5 0h0m1 0h0m41.5 0h0m.5 0h0m2 0h0m2 0h0m2 0h0m2.5 0h0m2.5 0h0m3 0h0m2 0h0m.5 0h0m2.5 0h0m5.5 0h0m.5 0h0m4.5 0h0m5 0h0m1 0h0m3.5 0h0m2 0h0m2.5 0h0m5 0h0m-90 .5h0m43.5 0h0m8 0h0m1 0h0m5.5 0h0m5.5 0h0m5 0h0m3 0h0m4 0h0m4.5 0h0m1 0h0m.5 0h0m4 0h0m2 0h0m1 0h0m7.5 0h0m.5 0h0m1 0h0m18.5 0h0m.5 0h0m1.5 0h0m-123.5 .5h0m1 0h0m2 0h0m.5 0h0m.5 0h0m.5 0h0m45 0h0m7.5 0h0m4.5 0h0m1 0h0m1.5 0h0m1 0h0m5.5 0h0m.5 0h0m1.5 0h0m1.5 0h0m3.5 0h0m.5 0h0m.5 0h0m.5 0h0m3.5 0h0m2.5 0h0m3 0h0m.5 0h0m4 0h0m.5 0h0m.5 0h0m2.5 0h0m1.5 0h0m22 0h0m7.5 0h0m.5 0h0m1.5 0h0m1 0h0m-126.5 .5h0m49.5 0h0m3 0h0m4.5 0h0m4 0h0m2 0h0m9 0h0m7 0h0m6.5 0h0m7.5 0h0m-50 .5h0m.5 0h0m.5 0h0m1 0h0m4 0h0m.5 0h0m3 0h0m3 0h0m1 0h0m2 0h0m6 0h0m.5 0h0m7.5 0h0m1.5 0h0m.5 0h0m.5 0h0m3.5 0h0m1 0h0m1 0h0m4 0h0m2 0h0m2 0h0m3 0h0m.5 0h0m2 0h0m1.5 0h0m22.5 0h0m-124 .5h0m4 0h0m1.5 0h0m49 0h0m6 0h0m2 0h0m5 0h0m2 0h0m4.5 0h0m5 0h0m9.5 0h0m8 0h0m.5 0h0m3 0h0m3 0h0m.5 0h0m3 0h0m1.5 0h0m16 0h0m2.5 0h0m.5 0h0m3 0h0m-77 .5h0m.5 0h0m3.5 0h0m2 0h0m6 0h0m6 0h0m1 0h0m2.5 0h0m1 0h0m1.5 0h0m7 0h0m.5 0h0m.5 0h0m5 0h0m3.5 0h0m1.5 0h0m4 0h0m2 0h0m3 0h0m5 0h0m16.5 0h0m5 0h0m1.5 0h0m-128 .5h0m36.5 0h0m.5 0h0m1.5 0h0m2.5 0h0m2 0h0m1.5 0h0m5 0h0m3 0h0m9.5 0h0m.5 0h0m.5 0h0m1.5 0h0m1.5 0h0m4.5 0h0m1 0h0m7 0h0m4.5 0h0m1 0h0m2 0h0m2 0h0m9.5 0h0m3.5 0h0m4 0h0m.5 0h0m.5 0h0m13.5 0h0m-120.5 .5h0m.5 0h0m36.5 0h0m4 0h0m3 0h0m1.5 0h0m7.5 0h0m2.5 0h0m7 0h0m1.5 0h0m4.5 0h0m3 0h0m1 0h0m2.5 0h0m3.5 0h0m6 0h0m4 0h0m2.5 0h0m4.5 0h0m2 0h0m1.5 0h0m8 0h0m.5 0h0m1.5 0h0m11 0h0m2 0h0m7 0h0m-130.5 .5h0m1.5 0h0m37 0h0m.5 0h0m3 0h0m1 0h0m.5 0h0m1 0h0m1 0h0m1.5 0h0m1 0h0m5.5 0h0m2 0h0m1.5 0h0m2 0h0m.5 0h0m.5 0h0m4 0h0m.5 0h0m2 0h0m12.5 0h0m3.5 0h0m14.5 0h0m1.5 0h0m2 0h0m5 0h0m1 0h0m.5 0h0m1.5 0h0m4 0h0m11 0h0m1.5 0h0m4.5 0h0m-91 .5h0m.5 0h0m.5 0h0m5 0h0m3 0h0m.5 0h0m4.5 0h0m5 0h0m9 0h0m7 0h0m9 0h0m.5 0h0m1 0h0m8 0h0m.5 0h0m8 0h0m.5 0h0m1.5 0h0m.5 0h0m.5 0h0m3.5 0h0m3.5 0h0m10.5 0h0m.5 0h0m1.5 0h0m3.5 0h0m2.5 0h0m4 0h0m1.5 0h0m-133 .5h0m36.5 0h0m3 0h0m1 0h0m2 0h0m.5 0h0m1 0h0m4 0h0m6.5 0h0m4.5 0h0m.5 0h0m6.5 0h0m.5 0h0m1 0h0m.5 0h0m2 0h0m7.5 0h0m3.5 0h0m2 0h0m4 0h0m2 0h0m3.5 0h0m3.5 0h0m1 0h0m2 0h0m4.5 0h0m5.5 0h0m.5 0h0m11.5 0h0m3 0h0m1 0h0m1 0h0m2.5 0h0m-131.5 .5h0m2.5 0h0m35.5 0h0m1 0h0m2 0h0m1.5 0h0m1 0h0m3 0h0m4.5 0h0m3 0h0m4.5 0h0m.5 0h0m.5 0h0m6 0h0m8 0h0m1.5 0h0m2.5 0h0m1 0h0m2.5 0h0m4 0h0m2 0h0m1 0h0m5 0h0m1 0h0m2.5 0h0m3.5 0h0m2.5 0h0m3 0h0m2.5 0h0m4 0h0m1 0h0m10.5 0h0m.5 0h0m1.5 0h0m.5 0h0m4 0h0m3 0h0m-132 .5h0m.5 0h0m38 0h0m.5 0h0m3 0h0m1 0h0m.5 0h0m.5 0h0m10.5 0h0m7.5 0h0m9 0h0m2 0h0m2 0h0m1.5 0h0m.5 0h0m7 0h0m8.5 0h0m3 0h0m7 0h0m5.5 0h0m1.5 0h0m3 0h0m4 0h0m2.5 0h0m3.5 0h0m2 0h0m5 0h0m3 0h0m-133.5 .5h0m40 0h0m.5 0h0m3 0h0m2.5 0h0m2 0h0m1.5 0h0m3 0h0m3.5 0h0m2 0h0m2.5 0h0m5 0h0m1 0h0m2.5 0h0m6.5 0h0m2 0h0m4.5 0h0m16.5 0h0m.5 0h0m5 0h0m3.5 0h0m.5 0h0m.5 0h0m1 0h0m3 0h0m2.5 0h0m1 0h0m1 0h0m3 0h0m6 0h0m2.5 0h0m5.5 0h0m-104.5 .5h0m7 0h0m1 0h0m.5 0h0m3.5 0h0m1 0h0m3.5 0h0m.5 0h0m1 0h0m.5 0h0m3.5 0h0m.5 0h0m.5 0h0m1 0h0m1 0h0m10 0h0m5.5 0h0m1 0h0m7 0h0m2 0h0m1 0h0m2 0h0m12.5 0h0m3.5 0h0m4.5 0h0m2.5 0h0m1 0h0m1 0h0m6.5 0h0m.5 0h0m1.5 0h0m1 0h0m1 0h0m2.5 0h0m5 0h0m1 0h0m1.5 0h0m2.5 0h0m-134 .5h0m2 0h0m41 0h0m.5 0h0m5.5 0h0m1 0h0m9.5 0h0m.5 0h0m1 0h0m4 0h0m2 0h0m.5 0h0m6.5 0h0m.5 0h0m.5 0h0m10 0h0m1.5 0h0m1 0h0m.5 0h0m.5 0h0m1.5 0h0m1.5 0h0m5.5 0h0m2.5 0h0m6 0h0m5 0h0m11.5 0h0m3 0h0m3 0h0m.5 0h0m-128.5 .5h0m.5 0h0m30.5 0h0m7.5 0h0m1.5 0h0m1.5 0h0m1 0h0m2 0h0m2 0h0m11.5 0h0m1 0h0m1 0h0m.5 0h0m12.5 0h0m.5 0h0m1.5 0h0m2.5 0h0m3.5 0h0m9.5 0h0m1.5 0h0m8 0h0m1 0h0m8 0h0m.5 0h0m1.5 0h0m.5 0h0m1 0h0m.5 0h0m.5 0h0m13 0h0m1 0h0m.5 0h0m1 0h0m2.5 0h0m.5 0h0m1 0h0m2.5 0h0m2.5 0h0m1.5 0h0m2 0h0m.5 0h0m2 0h0m-140.5 .5h0m30 0h0m12.5 0h0m.5 0h0m.5 0h0m3 0h0m3.5 0h0m1.5 0h0m9.5 0h0m9.5 0h0m.5 0h0m5.5 0h0m1 0h0m2 0h0m2 0h0m.5 0h0m1.5 0h0m5 0h0m3.5 0h0m4 0h0m1 0h0m.5 0h0m.5 0h0m.5 0h0m11.5 0h0m3 0h0m1 0h0m1 0h0m2.5 0h0m2 0h0m1 0h0m2.5 0h0m12 0h0m1 0h0m2 0h0m-138.5 .5h0m29 0h0m.5 0h0m.5 0h0m4.5 0h0m.5 0h0m2 0h0m1 0h0m4.5 0h0m2 0h0m2.5 0h0m3.5 0h0m2 0h0m1.5 0h0m11 0h0m1.5 0h0m.5 0h0m.5 0h0m2 0h0m2 0h0m3 0h0m2 0h0m1.5 0h0m.5 0h0m1 0h0m8 0h0m1.5 0h0m12 0h0m2 0h0m.5 0h0m1 0h0m3 0h0m2.5 0h0m3 0h0m10.5 0h0m3.5 0h0m6 0h0m-132.5 .5h0m21.5 0h0m7.5 0h0m5 0h0m.5 0h0m1.5 0h0m.5 0h0m7.5 0h0m2 0h0m11.5 0h0m1 0h0m2 0h0m1 0h0m2.5 0h0m.5 0h0m3 0h0m2.5 0h0m12 0h0m10.5 0h0m.5 0h0m2 0h0m4 0h0m5 0h0m1 0h0m2.5 0h0m2 0h0m1.5 0h0m2 0h0m15 0h0m2 0h0m1.5 0h0m5.5 0h0m-138.5 .5h0m23 0h0m7.5 0h0m12.5 0h0m5.5 0h0m1 0h0m2.5 0h0m4 0h0m.5 0h0m2 0h0m.5 0h0m4 0h0m4.5 0h0m3.5 0h0m5 0h0m1.5 0h0m3.5 0h0m2 0h0m4.5 0h0m1 0h0m6 0h0m3.5 0h0m1.5 0h0m5.5 0h0m1 0h0m3 0h0m1.5 0h0m4 0h0m4 0h0m4 0h0m.5 0h0m2 0h0m3.5 0h0m4 0h0m4 0h0m-137 .5h0m1.5 0h0m36 0h0m3 0h0m4 0h0m3.5 0h0m1.5 0h0m7 0h0m7 0h0m6 0h0m7.5 0h0m4 0h0m3.5 0h0m6.5 0h0m1.5 0h0m13 0h0m1.5 0h0m1 0h0m4.5 0h0m2.5 0h0m8 0h0m1.5 0h0m1.5 0h0m1 0h0m1 0h0m3.5 0h0m3.5 0h0m3 0h0m6.5 0h0m-146 .5h0m1 0h0m2 0h0m21.5 0h0m2 0h0m1.5 0h0m13 0h0m3 0h0m4.5 0h0m3.5 0h0m4 0h0m13.5 0h0m3 0h0m2 0h0m2 0h0m1.5 0h0m2.5 0h0m2.5 0h0m15.5 0h0m3 0h0m1.5 0h0m2 0h0m.5 0h0m1 0h0m5 0h0m3 0h0m3.5 0h0m3.5 0h0m6.5 0h0m1 0h0m5 0h0m3 0h0m6 0h0m6 0h0m-149 .5h0m.5 0h0m26 0h0m1.5 0h0m1 0h0m1 0h0m10.5 0h0m14.5 0h0m3 0h0m2 0h0m12.5 0h0m9.5 0h0m1 0h0m4 0h0m2 0h0m2.5 0h0m2 0h0m1.5 0h0m.5 0h0m6 0h0m6 0h0m3 0h0m4 0h0m1.5 0h0m4 0h0m3 0h0m2.5 0h0m.5 0h0m2 0h0m3.5 0h0m.5 0h0m1 0h0m12 0h0m-145.5 .5h0m25.5 0h0m1.5 0h0m3 0h0m17 0h0m2.5 0h0m4.5 0h0m3 0h0m2.5 0h0m9.5 0h0m2 0h0m12 0h0m1 0h0m.5 0h0m4.5 0h0m8.5 0h0m4.5 0h0m1 0h0m4 0h0m1.5 0h0m5 0h0m1.5 0h0m4.5 0h0m2 0h0m2 0h0m2.5 0h0m3.5 0h0m3 0h0m3 0h0m1.5 0h0m5 0h0m6.5 0h0m-148 .5h0m37.5 0h0m3 0h0m1 0h0m1 0h0m1 0h0m3 0h0m4.5 0h0m3.5 0h0m8 0h0m10.5 0h0m6 0h0m8.5 0h0m8.5 0h0m3.5 0h0m6.5 0h0m2 0h0m1.5 0h0m3 0h0m4 0h0m4 0h0m8.5 0h0m3 0h0m10 0h0m1 0h0m2.5 0h0m.5 0h0m-145.5 .5h0m29.5 0h0m3 0h0m2.5 0h0m4 0h0m.5 0h0m4 0h0m3.5 0h0m3 0h0m7.5 0h0m1 0h0m1.5 0h0m8.5 0h0m6 0h0m3.5 0h0m1.5 0h0m17 0h0m7.5 0h0m5.5 0h0m5.5 0h0m1.5 0h0m3.5 0h0m4 0h0m4 0h0m6.5 0h0m.5 0h0m1 0h0m7.5 0h0m-146 .5h0m1.5 0h0m1 0h0m24.5 0h0m1.5 0h0m.5 0h0m.5 0h0m14 0h0m1.5 0h0m8.5 0h0m6.5 0h0m8.5 0h0m26.5 0h0m7.5 0h0m5 0h0m6.5 0h0m2.5 0h0m3 0h0m.5 0h0m11.5 0h0m3 0h0m2 0h0m3 0h0m1 0h0m3 0h0m2.5 0h0m-147 .5h0m27.5 0h0m.5 0h0m6.5 0h0m5 0h0m2 0h0m5.5 0h0m4.5 0h0m9 0h0m9.5 0h0m2.5 0h0m1.5 0h0m.5 0h0m1 0h0m7.5 0h0m4 0h0m6 0h0m7 0h0m8 0h0m2 0h0m6 0h0m6.5 0h0m1.5 0h0m.5 0h0m.5 0h0m6 0h0m1.5 0h0m7.5 0h0m1 0h0m1 0h0m.5 0h0m3.5 0h0m-142.5 .5h0m25.5 0h0m2 0h0m2.5 0h0m2.5 0h0m.5 0h0m5 0h0m19.5 0h0m5.5 0h0m8.5 0h0m2 0h0m.5 0h0m3.5 0h0m.5 0h0m3.5 0h0m4 0h0m1 0h0m2 0h0m11 0h0m4.5 0h0m3 0h0m1 0h0m4 0h0m.5 0h0m4.5 0h0m.5 0h0m6 0h0m1.5 0h0m2 0h0m3.5 0h0m1.5 0h0m5 0h0m1.5 0h0m.5 0h0m3.5 0h0m1.5 0h0m-145 .5h0m.5 0h0m.5 0h0m19.5 0h0m3 0h0m2.5 0h0m5.5 0h0m2 0h0m4.5 0h0m.5 0h0m6 0h0m3 0h0m13 0h0m6 0h0m1.5 0h0m11 0h0m4 0h0m8 0h0m6.5 0h0m11 0h0m.5 0h0m5.5 0h0m1 0h0m1 0h0m1.5 0h0m6 0h0m4.5 0h0m.5 0h0m5 0h0m.5 0h0m.5 0h0m2 0h0m7 0h0m-145.5 .5h0m19.5 0h0m4 0h0m5.5 0h0m.5 0h0m1.5 0h0m3 0h0m3.5 0h0m3 0h0m2.5 0h0m1.5 0h0m1.5 0h0m4.5 0h0m2.5 0h0m.5 0h0m.5 0h0m.5 0h0m38.5 0h0m.5 0h0m2 0h0m6 0h0m4.5 0h0m3 0h0m.5 0h0m16 0h0m20.5 0h0m11.5 0h0m-155.5 .5h0m27.5 0h0m1.5 0h0m1 0h0m.5 0h0m4 0h0m.5 0h0m1 0h0m4.5 0h0m6 0h0m3 0h0m3 0h0m7.5 0h0m2 0h0m1 0h0m10 0h0m2 0h0m5 0h0m4 0h0m4 0h0m16.5 0h0m12 0h0m3 0h0m1.5 0h0m6 0h0m.5 0h0m10.5 0h0m3 0h0m.5 0h0m-143.5 .5h0m1 0h0m19 0h0m1 0h0m1 0h0m2.5 0h0m.5 0h0m2.5 0h0m2 0h0m7.5 0h0m4 0h0m2 0h0m4 0h0m3 0h0m4.5 0h0m4 0h0m.5 0h0m17 0h0m3 0h0m2 0h0m15.5 0h0m6.5 0h0m6.5 0h0m12 0h0m1 0h0m5.5 0h0m6.5 0h0m2 0h0m2.5 0h0m1 0h0m6 0h0m4.5 0h0m-151 .5h0m19.5 0h0m1 0h0m.5 0h0m7 0h0m1 0h0m8.5 0h0m5.5 0h0m8.5 0h0m3 0h0m2 0h0m18.5 0h0m1 0h0m3 0h0m2.5 0h0m1.5 0h0m.5 0h0m12.5 0h0m4 0h0m6.5 0h0m2 0h0m2.5 0h0m3.5 0h0m.5 0h0m.5 0h0m9 0h0m4 0h0m1.5 0h0m4 0h0m6.5 0h0m3.5 0h0m2.5 0h0m-146 .5h0m.5 0h0m.5 0h0m18 0h0m1 0h0m.5 0h0m2.5 0h0m6 0h0m1 0h0m2 0h0m5.5 0h0m14.5 0h0m1 0h0m6 0h0m9.5 0h0m1 0h0m25.5 0h0m2.5 0h0m3.5 0h0m4.5 0h0m3 0h0m9 0h0m4.5 0h0m4.5 0h0m.5 0h0m.5 0h0m1.5 0h0m7.5 0h0m.5 0h0m1 0h0m2 0h0m8 0h0m-148.5 .5h0m1 0h0m1 0h0m11 0h0m7.5 0h0m1.5 0h0m.5 0h0m1 0h0m2.5 0h0m1 0h0m14 0h0m8.5 0h0m1.5 0h0m2 0h0m.5 0h0m3 0h0m1.5 0h0m10.5 0h0m3 0h0m2.5 0h0m18.5 0h0m1.5 0h0m7.5 0h0m4.5 0h0m4 0h0m10 0h0m13 0h0m.5 0h0m2.5 0h0m5 0h0m9 0h0m4 0h0m-152.5 .5h0m.5 0h0m.5 0h0m10.5 0h0m14.5 0h0m.5 0h0m4 0h0m1 0h0m5.5 0h0m2 0h0m1 0h0m3 0h0m1 0h0m1 0h0m1 0h0m7.5 0h0m4.5 0h0m2 0h0m2.5 0h0m8 0h0m4.5 0h0m3.5 0h0m26 0h0m5 0h0m3 0h0m5 0h0m5.5 0h0m8.5 0h0m7 0h0m2 0h0m2 0h0m1.5 0h0m-144 .5h0m10 0h0m.5 0h0m2 0h0m9 0h0m.5 0h0m5.5 0h0m5 0h0m3 0h0m.5 0h0m8 0h0m6.5 0h0m7 0h0m11.5 0h0m5.5 0h0m1 0h0m6.5 0h0m13 0h0m15.5 0h0m9 0h0m22 0h0m-144 .5h0m1 0h0m1.5 0h0m10.5 0h0m2.5 0h0m1.5 0h0m.5 0h0m4 0h0m5.5 0h0m2.5 0h0m11 0h0m1 0h0m.5 0h0m3 0h0m11 0h0m16.5 0h0m14 0h0m14 0h0m2 0h0m3 0h0m.5 0h0m1.5 0h0m1 0h0m2 0h0m1 0h0m.5 0h0m6.5 0h0m1.5 0h0m18.5 0h0m2.5 0h0m9 0h0m2 0h0m3 0h0m-142.5 .5h0m7.5 0h0m3 0h0m1 0h0m1.5 0h0m2 0h0m4.5 0h0m1 0h0m15 0h0m3.5 0h0m2 0h0m27 0h0m25 0h0m2.5 0h0m9.5 0h0m1.5 0h0m7.5 0h0m2 0h0m6.5 0h0m10.5 0h0m4 0h0m1 0h0m-136.5 .5h0m1.5 0h0m2.5 0h0m1.5 0h0m8 0h0m22.5 0h0m2 0h0m4 0h0m.5 0h0m2 0h0m27.5 0h0m14 0h0m4.5 0h0m16.5 0h0m9.5 0h0m6 0h0m4 0h0m4.5 0h0m9.5 0h0m1 0h0m-155.5 .5h0m.5 0h0m14 0h0m6.5 0h0m1.5 0h0m7.5 0h0m10.5 0h0m1.5 0h0m1 0h0m2.5 0h0m2.5 0h0m22.5 0h0m1.5 0h0m18 0h0m14.5 0h0m6.5 0h0m18.5 0h0m2 0h0m2 0h0m3 0h0m6 0h0m-128.5 .5h0m9.5 0h0m2.5 0h0m6.5 0h0m22.5 0h0m14.5 0h0m24.5 0h0m29 0h0m25 0h0m3.5 0h0m-138 .5h0m1 0h0m1.5 0h0m6.5 0h0m4.5 0h0m9 0h0m1.5 0h0m1.5 0h0m8.5 0h0m2.5 0h0m2.5 0h0m1.5 0h0m1 0h0m19.5 0h0m15 0h0m21.5 0h0m1 0h0m28 0h0m.5 0h0m2 0h0m4.5 0h0m-145.5 .5h0m1 0h0m7.5 0h0m7 0h0m9.5 0h0m1 0h0m2 0h0m.5 0h0m9.5 0h0m6 0h0m.5 0h0m1 0h0m4.5 0h0m1 0h0m3 0h0m1 0h0m10 0h0m1 0h0m2.5 0h0m6.5 0h0m12 0h0m3 0h0m13.5 0h0m6 0h0m2 0h0m10.5 0h0m8.5 0h0m1.5 0h0m.5 0h0m7 0h0m-139.5 .5h0m.5 0h0m8 0h0m6.5 0h0m7 0h0m8.5 0h0m.5 0h0m.5 0h0m3 0h0m1.5 0h0m2 0h0m8.5 0h0m.5 0h0m6 0h0m.5 0h0m6.5 0h0m7.5 0h0m26 0h0m18.5 0h0m7.5 0h0m5.5 0h0m5.5 0h0m2.5 0h0m5.5 0h0m5 0h0m-144 .5h0m1.5 0h0m6 0h0m1 0h0m1.5 0h0m2 0h0m.5 0h0m2.5 0h0m7 0h0m2 0h0m6 0h0m.5 0h0m9 0h0m2 0h0m1 0h0m6 0h0m.5 0h0m22 0h0m6 0h0m8.5 0h0m.5 0h0m7.5 0h0m16 0h0m4.5 0h0m2.5 0h0m1.5 0h0m12 0h0m12 0h0m.5 0h0m9.5 0h0m7.5 0h0m3 0h0m-159.5 .5h0m4.5 0h0m.5 0h0m2.5 0h0m1 0h0m1.5 0h0m.5 0h0m2.5 0h0m.5 0h0m5 0h0m5 0h0m1.5 0h0m4 0h0m.5 0h0m.5 0h0m13.5 0h0m12 0h0m2.5 0h0m35.5 0h0m12.5 0h0m2.5 0h0m2 0h0m5 0h0m9 0h0m2 0h0m11.5 0h0m.5 0h0m.5 0h0m1 0h0m-142.5 .5h0m1 0h0m2 0h0m13.5 0h0m2 0h0m4.5 0h0m8 0h0m5 0h0m35.5 0h0m22.5 0h0m12 0h0m2 0h0m10.5 0h0m25 0h0m9 0h0m3 0h0m-156.5 .5h0m2 0h0m1 0h0m4.5 0h0m1.5 0h0m6.5 0h0m2 0h0m1 0h0m1 0h0m8.5 0h0m.5 0h0m1 0h0m2.5 0h0m4 0h0m3 0h0m2.5 0h0m5 0h0m4 0h0m3.5 0h0m3 0h0m2.5 0h0m6 0h0m11 0h0m10 0h0m6.5 0h0m13.5 0h0m26 0h0m6.5 0h0m9 0h0m.5 0h0m3.5 0h0m3 0h0m-153.5 .5h0m.5 0h0m.5 0h0m8 0h0m1 0h0m1 0h0m15 0h0m7.5 0h0m8.5 0h0m2.5 0h0m13 0h0m43 0h0m5.5 0h0m8.5 0h0m3.5 0h0m5.5 0h0m10 0h0m7 0h0m3.5 0h0m-143 .5h0m5 0h0m6 0h0m1 0h0m13.5 0h0m27.5 0h0m4 0h0m1 0h0m6 0h0m15.5 0h0m2.5 0h0m18 0h0m7.5 0h0m29.5 0h0m11 0h0m8 0h0m-154.5 .5h0m3.5 0h0m4 0h0m9.5 0h0m2 0h0m6.5 0h0m4.5 0h0m4 0h0m4 0h0m.5 0h0m1 0h0m3.5 0h0m1 0h0m5 0h0m26.5 0h0m20.5 0h0m1 0h0m4 0h0m5 0h0m4 0h0m37 0h0m8 0h0m-156 .5h0m.5 0h0m4.5 0h0m4 0h0m2.5 0h0m3.5 0h0m18 0h0m2.5 0h0m2 0h0m24 0h0m10.5 0h0m5.5 0h0m8 0h0m20.5 0h0m-108.5 .5h0m.5 0h0m3 0h0m1 0h0m9.5 0h0m2 0h0m17 0h0m9 0h0m.5 0h0m5 0h0m9.5 0h0m14 0h0m1.5 0h0m6 0h0m2.5 0h0m3.5 0h0m20 0h0m13.5 0h0m.5 0h0m3.5 0h0m11.5 0h0m8 0h0m5 0h0m9.5 0h0m-152 .5h0m3.5 0h0m8 0h0m1.5 0h0m1.5 0h0m12 0h0m7 0h0m34 0h0m2.5 0h0m6 0h0m25 0h0m10 0h0m34.5 0h0m-149.5 .5h0m.5 0h0m.5 0h0m5 0h0m5 0h0m.5 0h0m.5 0h0m9 0h0m3 0h0m7.5 0h0m2.5 0h0m14.5 0h0m4.5 0h0m9.5 0h0m17.5 0h0m9.5 0h0m3 0h0m1 0h0m23.5 0h0m7.5 0h0m-123.5 .5h0m3.5 0h0m4 0h0m8 0h0m.5 0h0m22.5 0h0m1 0h0m10 0h0m24 0h0m3.5 0h0m2 0h0m3.5 0h0m40 0h0m19.5 0h0m.5 0h0m-141 .5h0m4.5 0h0m14 0h0m1 0h0m9 0h0m8.5 0h0m24.5 0h0m6.5 0h0m.5 0h0m6 0h0m11.5 0h0m23 0h0m1 0h0m17 0h0m5 0h0m6.5 0h0m1.5 0h0m8.5 0h0m6.5 0h0m-152 .5h0m9.5 0h0m13.5 0h0m30 0h0m29.5 0h0m10.5 0h0m6 0h0m20.5 0h0m15 0h0m3.5 0h0m2.5 0h0m6.5 0h0m5 0h0m-156 .5h0m18.5 0h0m2.5 0h0m1 0h0m5 0h0m2 0h0m24.5 0h0m7.5 0h0m23.5 0h0m26.5 0h0m7.5 0h0m23.5 0h0m15.5 0h0m-159.5 .5h0m5.5 0h0m13 0h0m3 0h0m2.5 0h0m3 0h0m14.5 0h0m20 0h0m39.5 0h0m54.5 0h0m-151.5 .5h0m6 0h0m15.5 0h0m24 0h0m25.5 0h0m43.5 0h0m35 0h0m10 0h0m-157.5 .5h0m4.5 0h0m29 0h0m1 0h0m33.5 0h0m12.5 0h0m10.5 0h0m36.5 0h0m1 0h0m14.5 0h0m5.5 0h0m.5 0h0m-149.5 .5h0m34 0h0m5 0h0m12.5 0h0m19.5 0h0m58 0h0m-114 .5h0m1.5 0h0m22 0h0m4 0h0m17 0h0m22 0h0m19.5 0h0m7 0h0m15.5 0h0m11 0h0m11.5 0h0m7 0h0m-151.5 .5h0m3 0h0m3 0h0m2 0h0m1.5 0h0m12 0h0m12.5 0h0m27.5 0h0m45 0h0m5.5 0h0m31.5 0h0m3 0h0m6 0h0m.5 0h0m-140 .5h0m4 0h0m53 0h0m7 0h0m37 0h0m31 0h0m-131.5 .5h0m.5 0h0m35 0h0m62.5 0h0m16.5 0h0m1 0h0m18.5 0h0m6 0h0m-147 .5h0m13 0h0m3.5 0h0m2 0h0m12 0h0m17.5 0h0m16.5 0h0m35.5 0h0m33.5 0h0m4.5 0h0m10.5 0h0m-154 .5h0m3.5 0h0m21 0h0m7 0h0m2 0h0m61.5 0h0m1 0h0m12 0h0m26.5 0h0m12 0h0m20 0h0m-173 .5h0m5.5 0h0m8 0h0m2 0h0m7.5 0h0m2.5 0h0m1.5 0h0m11 0h0m24.5 0h0m52.5 0h0m4.5 0h0m25.5 0h0m-84.5 .5h0m7.5 0h0m3.5 0h0m7 0h0m1.5 0h0m46.5 0h0m6 0h0m19 0h0m-141 .5h0m88 0h0m22.5 0h0m27.5 0h0m7 0h0m-143 .5h0m3 0h0m20.5 0h0m10.5 0h0m3.5 0h0m11 0h0m67 0h0m7 0h0m20 0h0m-149 .5h0m26 0h0m72.5 0h0m57 0h0m-145.5 .5h0m12.5 0h0m9.5 0h0m1.5 0h0m66 0h0m25.5 0h0m-120 .5h0m2.5 0h0m.5 0h0m39 0h0m.5 0h0m16.5 0h0m46.5 0h0m14 0h0m19 0h0m19 0h0m13.5 0h0m-172.5 .5h0m54.5 0h0m13.5 0h0m18.5 0h0m9.5 0h0m23 0h0m11 0h0m24.5 0h0m-162 .5h0m17.5 0h0m1.5 0h0m4 0h0m3 0h0m7 0h0m123.5 0h0m-128 .5h0m6.5 0h0m26.5 0h0m1 0h0m11.5 0h0m61 0h0m23.5 0h0m-125 .5h0m73.5 0h0m25 0h0m-119 .5h0m32 0h0m52 0h0m31.5 0h0m11 0h0m-21 .5h0m37 0h0m-154 .5h0m43.5 0h0m28 0h0m26.5 0h0m77.5 0h0m-176.5 .5h0m88 0h0m28 0h0m-110.5 .5h0m7 0h0m7 0h0m11 0h0m2.5 0h0m18 0h0m7.5 0h0m11.5 0h0m28.5 0h0m61 0h0m-135.5 .5h0m21.5 0h0m3 0h0m20.5 0h0m28.5 0h0m10 0h0m46 0h0m-141.5 .5h0m66 0h0m20 0h0m-42 .5h0m27 0h0m8.5 0h0m18.5 .5h0m68 0h0m-178 .5h0m9.5 0h0m119.5 0h0m16 0h0m-123.5 .5h0m15 .5h0m67.5 0h0m10.5 1h0m8.5 0h0m-115 .5h0m8 0h0m17 0h0m28 0h0m59.5 0h0m14.5 0h0m25 0h0m-28 .5h0m18.5 0h0m24 0h0m-129.5 1h0m-37 .5h0m78 0h0m30 0h0m-31.5 .5h0m-80.5 .5h0m70.5 0h0m8 0h0m77 0h0m10 0h0m-148.5 .5h0m-23 .5h0m112.5 0h0m55 0h0m.5 0h0m-52 .5h0m16 0h0m-100.5 .5h0m12.5 0h0m68.5 0h0m-103.5 .5h0m37 0h0m54.5 0h0m-22.5 .5h0m49.5 .5h0m-119.5 .5h0m36 0h0m58.5 0h0m22 0h0" stroke="#a8679f" stroke-width="1.7" stroke-linecap="round" fill="none"/></g>
<polyline points="317,102.09 319.7,100.3 322.41,98.46 325.11,96.58 327.81,94.65 330.52,92.69 333.22,90.68 335.93,88.63 338.63,86.54 341.33,84.42 344.04,82.27 346.74,80.08 349.44,77.86 352.15,75.62 354.85,73.36 357.56,71.08 360.26,68.79 362.96,66.5 365.67,64.2 368.37,61.92 371.07,59.65 373.78,57.4 376.48,55.18 379.19,53 381.89,50.87 384.59,48.8 387.3,46.79 390,44.86 392.7,43.03 395.41,41.29 398.11,39.65 400.82,38.14 403.52,36.75 406.22,35.5 408.93,34.4 411.63,33.44 414.33,32.65 417.04,32.02 419.74,31.56 422.45,31.26 425.15,31.15 427.85,31.2 430.56,31.44 433.26,31.84 435.96,32.41 438.67,33.14 441.37,34.04 444.08,35.08 446.78,36.27 449.48,37.6 452.19,39.05 454.89,40.62 457.59,42.3 460.3,44.08 463,45.95 465.71,47.89 468.41,49.91 471.11,51.98 473.82,54.1 476.52,56.25 479.22,58.44 481.93,60.66 484.63,62.88 487.34,65.12 490.04,67.35 492.74,69.58 495.45,71.8 498.15,74 500.86,76.18 503.56,78.33 506.26,80.46 508.97,82.56 511.67,84.62 514.37,86.65 517.08,88.63 519.78,90.58 522.49,92.49 525.19,94.35 527.89,96.18 530.6,97.95 533.3,99.69" fill="none" stroke="#ff1a1a" stroke-width="1.6" stroke-linejoin="round"/>
<rect x="308.5" y="26.4" width="233.1" height="98.8" fill="none" stroke="#707070" stroke-width="1"/>
<path d="M317 125.2v3.6M360.26 125.2v3.6M403.52 125.2v3.6M446.78 125.2v3.6M490.04 125.2v3.6M533.3 125.2v3.6M304.9 104.5h3.6M304.9 80.45h3.6M304.9 56.4h3.6M304.9 32.35h3.6" stroke="#707070" stroke-width="0.9" fill="none"/>
<text x="317" y="136.93" class="tk" text-anchor="middle">0.0</text>
<text x="360.26" y="136.93" class="tk" text-anchor="middle">0.2</text>
<text x="403.52" y="136.93" class="tk" text-anchor="middle">0.4</text>
<text x="446.78" y="136.93" class="tk" text-anchor="middle">0.6</text>
<text x="490.04" y="136.93" class="tk" text-anchor="middle">0.8</text>
<text x="533.3" y="136.93" class="tk" text-anchor="middle">1.0</text>
<text class="tk" text-anchor="middle" transform="translate(300.93 104.5) rotate(-90)">30</text>
<text class="tk" text-anchor="middle" transform="translate(300.93 80.45) rotate(-90)">40</text>
<text class="tk" text-anchor="middle" transform="translate(300.93 56.4) rotate(-90)">50</text>
<text class="tk" text-anchor="middle" transform="translate(300.93 32.35) rotate(-90)">60</text>
<text x="309.4" y="10.75" class="ti">Formica approximans</text>
<text x="428.9" y="147.7" class="lb" text-anchor="middle">GC3s</text>
<text class="lb" text-anchor="middle" transform="translate(294.1 67.45) rotate(-90)">ENC</text>
<g filter="url(#bl)"><path d="M97 197.5h2m1 0h2m3 0h2m1 0h77M101 198.5h1m4 0h1m4 0h3m1 0h10m2 0h53M110 199.5h2m4 0h9m2 0h1m1 0h15m2 0h35M111 200.5h1m3 0h1m1 0h2m1 0h64M112 201.5h2m1 0h4m1 0h2m2 0h1m1 0h56m2 0h1m2 0h2M112 202.5h2m1 0h10m1 0h63m1 0h3M92 203.5h1m15 0h1m3 0h2m1 0h74M112 204.5h1m2 0h1m1 0h68m1 0h3m1 0h1m3 0h1m2 0h1M105 205.5h2m2 0h2m1 0h1m2 0h76m2 0h1M102 206.5h1m3 0h4m1 0h2m2 0h79m5 0h1M90 207.5h1m17 0h1m1 0h6m1 0h78m3 0h1M102 208.5h1m7 0h2m1 0h83M100 209.5h1m5 0h88m2 0h1m3 0h1M101 210.5h3m3 0h85m2 0h1m3 0h1m1 0h1M101 211.5h95m1 0h4M88 212.5h1m10 0h95m1 0h6m4 0h1M99 213.5h1m2 0h90m1 0h9m4 0h1M99 214.5h3m2 0h98m2 0h1M83 215.5h1m5 0h1m7 0h6m1 0h98M96 216.5h1m2 0h48m1 0h10m1 0h43m10 0h1M93 217.5h1m1 0h6m2 0h99m1 0h1m3 0h1M85 218.5h1m10 0h110m2 0h1M96 219.5h50m4 0h52m1 0h3m2 0h2M89 220.5h1m3 0h1m2 0h47m2 0h1m2 0h2m1 0h22m1 0h33M85 221.5h1m3 0h1m5 0h4m1 0h38m1 0h7m1 0h5m2 0h13m1 0h7m1 0h28m3 0h1M89 222.5h1m1 0h1m4 0h42m1 0h5m2 0h12m1 0h2m1 0h42m2 0h3M91 223.5h1m1 0h36m1 0h5m1 0h8m2 0h8m1 0h3m1 0h1m2 0h2m1 0h3m1 0h38m2 0h1M91 224.5h37m2 0h6m1 0h5m1 0h5m1 0h11m2 0h1m2 0h2m2 0h40M89 225.5h27m1 0h23m1 0h2m1 0h21m1 0h2m1 0h5m2 0h5m2 0h24m2 0h3m1 0h2M90 226.5h39m3 0h1m2 0h8m4 0h2m1 0h15m3 0h6m1 0h6m2 0h25m1 0h3M90 227.5h39m1 0h1m2 0h1m1 0h7m1 0h4m1 0h4m5 0h6m1 0h1m3 0h4m3 0h2m1 0h30m1 0h2m2 0h1m2 0h1M89 228.5h40m4 0h1m1 0h1m2 0h3m1 0h7m12 0h1m2 0h1m1 0h2m2 0h2m3 0h1m4 0h3m1 0h2m1 0h24m2 0h3M86 229.5h35m1 0h9m1 0h4m4 0h1m1 0h7m1 0h1m12 0h1m2 0h1m3 0h2m4 0h1m2 0h4m1 0h3m1 0h25m2 0h1M86 230.5h1m1 0h31m1 0h12m3 0h4m3 0h2m2 0h5m4 0h5m2 0h6m5 0h1m3 0h3m2 0h5m1 0h3m1 0h14m1 0h5m3 0h3m2 0h1M84 231.5h38m1 0h2m5 0h3m3 0h1m4 0h4m3 0h3m4 0h5m3 0h2m1 0h3m4 0h1m10 0h27m1 0h1m4 0h1m2 0h1M81 232.5h1m2 0h2m1 0h30m2 0h8m3 0h1m1 0h1m3 0h1m5 0h2m2 0h1m2 0h2m6 0h3m1 0h1m1 0h5m2 0h2m1 0h2m3 0h2m1 0h2m2 0h1m2 0h23m1 0h2m3 0h1m1 0h1M87 233.5h30m2 0h8m3 0h1m4 0h4m2 0h3m4 0h2m3 0h2m3 0h1m5 0h2m1 0h1m3 0h2m1 0h1m1 0h7m2 0h1m3 0h3m3 0h21M85 234.5h1m1 0h29m1 0h1m2 0h7m4 0h2m2 0h2m2 0h2m1 0h2m2 0h2m5 0h2m3 0h1m1 0h1m1 0h4m3 0h1m4 0h3m3 0h1m1 0h1m2 0h8m4 0h18m1 0h1m2 0h2M83 235.5h36m1 0h7m7 0h3m1 0h1m4 0h2m1 0h3m2 0h1m1 0h2m3 0h1m3 0h3m2 0h1m1 0h1m7 0h2m1 0h1m1 0h5m1 0h5m2 0h1m1 0h17m2 0h5m2 0h1M82 236.5h31m2 0h1m3 0h4m3 0h2m1 0h1m2 0h1m4 0h2m14 0h2m8 0h2m1 0h2m6 0h1m6 0h4m2 0h6m2 0h2m1 0h2m4 0h12m1 0h3M78 237.5h1m3 0h25m1 0h4m2 0h1m3 0h2m3 0h1m1 0h2m2 0h3m5 0h2m14 0h1m1 0h1m9 0h2m1 0h1m5 0h1m1 0h1m3 0h1m5 0h7m3 0h5m1 0h14m1 0h3M81 238.5h1m1 0h23m2 0h3m1 0h4m2 0h2m6 0h2m1 0h3m6 0h1m8 0h1m6 0h1m2 0h1m6 0h2m2 0h1m2 0h1m6 0h1m6 0h3m5 0h2m3 0h4m3 0h3m1 0h2m1 0h2m1 0h1m1 0h1m1 0h2M80 239.5h31m3 0h7m6 0h1m2 0h3m2 0h1m8 0h1m3 0h2m7 0h1m5 0h1m7 0h1m8 0h1m1 0h1m13 0h2m2 0h2m1 0h1m2 0h12m1 0h2m6 0h1M79 240.5h33m4 0h2m2 0h2m2 0h2m1 0h1m3 0h1m13 0h1m9 0h1m10 0h1m2 0h1m11 0h2m1 0h1m2 0h1m2 0h2m1 0h5m3 0h5m1 0h11m1 0h2M78 241.5h26m2 0h8m2 0h2m2 0h2m1 0h5m2 0h1m20 0h1m2 0h2m14 0h1m10 0h1m2 0h1m3 0h1m2 0h2m6 0h6m2 0h1m1 0h3m1 0h5M79 242.5h1m1 0h21m5 0h1m1 0h1m2 0h2m13 0h1m4 0h2m6 0h1m8 0h1m5 0h1m4 0h1m14 0h1m1 0h1m2 0h2m2 0h1m2 0h3m2 0h1m7 0h8m2 0h1m2 0h6m1 0h2m4 0h1M77 243.5h22m1 0h2m7 0h1m3 0h1m13 0h1m5 0h1m3 0h1m1 0h1m4 0h1m11 0h1m10 0h1m8 0h2m5 0h1m2 0h1m2 0h1m5 0h1m5 0h12m2 0h7m4 0h1M75 244.5h20m1 0h1m1 0h1m2 0h5m4 0h4m2 0h1m2 0h1m1 0h2m2 0h3m5 0h2m26 0h1m2 0h3m5 0h1m4 0h1m2 0h1m1 0h1m6 0h2m1 0h1m5 0h2m4 0h3m1 0h4m1 0h1m1 0h2m1 0h4M72 245.5h1m2 0h1m1 0h18m2 0h8m3 0h4m2 0h1m8 0h3m26 0h1m18 0h2m4 0h1m13 0h1m4 0h1m3 0h1m2 0h1m1 0h2m1 0h2m1 0h4m1 0h1m1 0h4m2 0h2m3 0h1M75 246.5h21m1 0h13m1 0h1m2 0h1m16 0h1m2 0h3m4 0h1m12 0h1m3 0h2m6 0h1m6 0h1m4 0h1m5 0h1m6 0h1m3 0h2m4 0h1m4 0h4m1 0h2m2 0h5m1 0h2m1 0h3m1 0h2M75 247.5h28m1 0h2m2 0h5m3 0h1m2 0h3m9 0h2m21 0h2m6 0h1m16 0h1m3 0h3m5 0h1m2 0h1m1 0h1m9 0h1m1 0h2m1 0h1m4 0h2m1 0h1m1 0h2m3 0h1M73 248.5h24m1 0h5m1 0h4m2 0h1m2 0h1m2 0h1m2 0h1m2 0h1m5 0h2m7 0h2m13 0h1m1 0h1m23 0h1m6 0h1m1 0h1m1 0h1m2 0h1m3 0h1m1 0h1m7 0h1m9 0h1m1 0h2m1 0h1m4 0h1M74 249.5h24m2 0h3m9 0h1m24 0h1m7 0h1m1 0h1m24 0h1m1 0h1m7 0h1m2 0h1m10 0h2m9 0h1m5 0h4m1 0h2m1 0h1m2 0h2m2 0h1M74 250.5h23m2 0h4m1 0h1m3 0h1m6 0h1m5 0h1m7 0h1m2 0h2m26 0h1m3 0h1m7 0h1m2 0h1m11 0h1m9 0h2m2 0h1m1 0h1m4 0h1m2 0h1m2 0h1m2 0h6m1 0h2M74 251.5h19m1 0h1m5 0h1m1 0h1m4 0h1m7 0h1m5 0h1m9 0h2m1 0h1m7 0h1m13 0h1m7 0h2m18 0h1m13 0h1m1 0h1m3 0h2m1 0h1m5 0h1m5 0h2m4 0h3m1 0h3m1 0h1M73 252.5h1m3 0h16m1 0h1m1 0h1m3 0h3m4 0h1m7 0h1m1 0h1m3 0h2m15 0h1m14 0h1m42 0h4m4 0h1m4 0h1m8 0h3m3 0h2M76 253.5h10m1 0h1m1 0h1m1 0h4m6 0h1m3 0h1m2 0h1m11 0h1m12 0h1m42 0h1m17 0h1m2 0h2m5 0h3m3 0h4m4 0h2m5 0h4M74 254.5h3m1 0h11m2 0h1m1 0h2m6 0h1m6 0h1m14 0h1m4 0h1m13 0h1m17 0h1m2 0h3m4 0h1m16 0h2m8 0h1m4 0h1m7 0h2m6 0h3m1 0h2m2 0h5m2 0h1M73 255.5h8m1 0h3m1 0h1m6 0h3m1 0h1m6 0h1m3 0h3m5 0h1m43 0h1m6 0h1m3 0h1m13 0h1m5 0h2m3 0h2m4 0h1m7 0h2m2 0h3m1 0h4m2 0h1m3 0h3m6 0h1M72 256.5h1m1 0h1m2 0h3m1 0h2m5 0h1m9 0h2m5 0h1m3 0h1m76 0h1m1 0h1m2 0h1m13 0h1m5 0h2m1 0h1m3 0h4m2 0h1m3 0h3m7 0h1M75 257.5h2m2 0h1m8 0h1m1 0h1m8 0h1m9 0h1m3 0h1m11 0h1m27 0h1m33 0h1m12 0h1m2 0h1m8 0h1m1 0h4m1 0h3m2 0h2m3 0h1M86 258.5h1m11 0h1m9 0h1m5 0h1m23 0h1m36 0h1m8 0h1m23 0h1m15 0h2m4 0h1m7 0h2M78 259.5h2m6 0h1m9 0h3m33 0h1m6 0h1m50 0h1m15 0h3m15 0h1m1 0h1m2 0h2M83 260.5h1m18 0h1m94 0h1m5 0h1m20 0h1m1 0h3m1 0h1m6 0h1M101 261.5h1m18 0h1m73 0h1m41 0h1m5 0h1M81 262.5h1m17 0h1m2 0h2m6 0h1m68 0h2m23 0h1m10 0h1m1 0h1m3 0h1m1 0h2m4 0h1m1 0h2M90 263.5h1m3 0h1m33 0h1m19 0h1m35 0h1m29 0h1m7 0h2m14 0h1M78 264.5h1m8 0h1m5 0h1m14 0h1m56 0h1m21 0h1m5 0h1m24 0h1m9 0h1m1 0h1m4 0h1m5 0h1M116 265.5h1m38 0h1m61 0h1m4 0h1m5 0h2m6 0h1m5 0h1M135 266.5h1m70 0h1m14 0h2m5 0h1m4 0h1m2 0h1M205 267.5h1m8 0h1m19 0h1m8 0h1M77 268.5h1m19 0h1m10 0h1m11 0h1m1 0h1m90 0h1m8 0h1m10 0h1M105 269.5h1m2 0h1m10 0h1m7 0h2m5 0h1m69 0h1m26 0h1M95 270.5h1m12 0h1m62 0h1m37 0h1m21 0h1M90 271.5h1m129 0h1m11 0h1m3 0h1M89 272.5h1m20 0h1m128 0h1M86 273.5h1m44 0h1m61 0h1m57 0h1M105 274.5h1m50 0h1M218 275.5h1m11 0h1m4 0h1M243 277.5h1M78 278.5h1M210 280.5h1M122 282.5h1m1 0h1m93 0h2M109 283.5h1M91 285.5h1m119 0h1m11 0h1m12 0h1" stroke="#a8679f" stroke-width="1" fill="none" shape-rendering="crispEdges"/><path d="M89.5 197h0m2 0h0m5.5 0h0m1 0h0m.5 0h0m2 0h0m.5 0h0m.5 0h0m1.5 0h0m1.5 0h0m.5 0h0m.5 0h0m.5 0h0m1.5 0h0m1 0h0m1 0h0m1 0h0m.5 0h0m1.5 0h0m.5 0h0m.5 0h0m.5 0h0m.5 0h0m.5 0h0m.5 0h0m.5 0h0m1 0h0m1 0h0m.5 0h0m.5 0h0m.5 0h0m.5 0h0m.5 0h0m.5 0h0m.5 0h0m.5 0h0m.5 0h0m.5 0h0m.5 0h0m.5 0h0m.5 0h0m.5 0h0m.5 0h0m.5 0h0m.5 0h0m.5 0h0m.5 0h0m.5 0h0m.5 0h0m.5 0h0m.5 0h0m.5 0h0m.5 0h0m.5 0h0m.5 0h0m.5 0h0m.5 0h0m.5 0h0m.5 0h0m.5 0h0m.5 0h0m.5 0h0m.5 0h0m.5 0h0m.5 0h0m.5 0h0m.5 0h0m.5 0h0m.5 0h0m.5 0h0m.5 0h0m.5 0h0m.5 0h0m.5 0h0m.5 0h0m.5 0h0m.5 0h0m.5 0h0m.5 0h0m.5 0h0m.5 0h0m.5 0h0m.5 0h0m.5 0h0m.5 0h0m.5 0h0m.5 0h0m.5 0h0m.5 0h0m.5 0h0m.5 0h0m.5 0h0m.5 0h0m.5 0h0m.5 0h0m.5 0h0m.5 0h0m.5 0h0m.5 0h0m.5 0h0m.5 0h0m.5 0h0m.5 0h0m.5 0h0m.5 0h0m.5 0h0m.5 0h0m.5 0h0m.5 0h0m.5 0h0m.5 0h0m.5 0h0m.5 0h0m.5 0h0m.5 0h0m.5 0h0m.5 0h0m.5 0h0m.5 0h0m.5 0h0m.5 0h0m.5 0h0m.5 0h0m.5 0h0m.5 0h0m.5 0h0m.5 0h0m.5 0h0m.5 0h0m.5 0h0m.5 0h0m.5 0h0m.5 0h0m.5 0h0m.5 0h0m.5 0h0m.5 0h0m.5 0h0m.5 0h0m.5 0h0m.5 0h0m.5 0h0m.5 0h0m.5 0h0m.5 0h0m.5 0h0m.5 0h0m.5 0h0m.5 0h0m.5 0h0m.5 0h0m.5 0h0m.5 0h0m.5 0h0m.5 0h0m1.5 0h0m.5 0h0m.5 0h0m.5 0h0m2 0h0m-86 .5h0m12 0h0m1 0h0m4.5 0h0m3.5 0h0m1 0h0m3.5 0h0m1 0h0m1 0h0m1 0h0m1 0h0m1.5 0h0m1 0h0m.5 0h0m2 0h0m3.5 0h0m1.5 0h0m1 0h0m2 0h0m1 0h0m2.5 0h0m.5 0h0m.5 0h0m1.5 0h0m1.5 0h0m.5 0h0m.5 0h0m1.5 0h0m1 0h0m1 0h0m.5 0h0m2.5 0h0m.5 0h0m.5 0h0m.5 0h0m.5 0h0m1 0h0m.5 0h0m3.5 0h0m.5 0h0m1 0h0m2 0h0m.5 0h0m3 0h0m.5 0h0m.5 0h0m1.5 0h0m.5 0h0m4.5 0h0m2 0h0m.5 0h0m.5 0h0m-69.5 .5h0m1 0h0m1.5 0h0m2.5 0h0m3.5 0h0m2 0h0m1 0h0m3 0h0m6.5 0h0m8 0h0m1.5 0h0m.5 0h0m1 0h0m.5 0h0m.5 0h0m.5 0h0m2.5 0h0m.5 0h0m3 0h0m.5 0h0m1.5 0h0m.5 0h0m1.5 0h0m1 0h0m2.5 0h0m.5 0h0m.5 0h0m1.5 0h0m1 0h0m.5 0h0m.5 0h0m1.5 0h0m1 0h0m1 0h0m1.5 0h0m3 0h0m3 0h0m1 0h0m1 0h0m-76 .5h0m4.5 0h0m1 0h0m4 0h0m1 0h0m1.5 0h0m.5 0h0m13 0h0m.5 0h0m1 0h0m51.5 0h0m5 0h0m6 0h0m-90.5 .5h0m10.5 0h0m8 0h0m5.5 0h0m.5 0h0m2 0h0m.5 0h0m.5 0h0m1.5 0h0m.5 0h0m16 0h0m1 0h0m32.5 0h0m-82.5 .5h0m19 0h0m10.5 0h0m16.5 0h0m.5 0h0m2.5 0h0m42.5 0h0m4.5 0h0m-83 .5h0m1 0h0m.5 0h0m6.5 0h0m2.5 0h0m2 0h0m2.5 0h0m.5 0h0m.5 0h0m18.5 0h0m1 0h0m34.5 0h0m.5 0h0m1.5 0h0m1 0h0m3.5 0h0m-72.5 .5h0m1.5 0h0m4.5 0h0m2.5 0h0m1 0h0m1.5 0h0m.5 0h0m1 0h0m1.5 0h0m.5 0h0m.5 0h0m15 0h0m37.5 0h0m2 0h0m.5 0h0m2 0h0m-74 .5h0m.5 0h0m1.5 0h0m2.5 0h0m2 0h0m3.5 0h0m4 0h0m2 0h0m55.5 0h0m-80.5 .5h0m12.5 0h0m1 0h0m.5 0h0m1 0h0m6 0h0m2.5 0h0m54.5 0h0m.5 0h0m2.5 0h0m.5 0h0m3 0h0m6 0h0m10 0h0m-91 .5h0m1 0h0m5.5 0h0m1.5 0h0m1.5 0h0m1.5 0h0m.5 0h0m2 0h0m55.5 0h0m.5 0h0m4 0h0m2.5 0h0m1.5 0h0m-95.5 .5h0m7 0h0m8.5 0h0m5.5 0h0m3.5 0h0m4.5 0h0m2.5 0h0m.5 0h0m55.5 0h0m1 0h0m.5 0h0m5 0h0m-93.5 .5h0m16.5 0h0m.5 0h0m.5 0h0m1 0h0m1 0h0m1 0h0m1 0h0m5.5 0h0m.5 0h0m.5 0h0m1.5 0h0m1 0h0m.5 0h0m56 0h0m1 0h0m1 0h0m1.5 0h0m3 0h0m2.5 0h0m1 0h0m.5 0h0m-100 .5h0m6 0h0m9.5 0h0m17.5 0h0m63 0h0m-80 .5h0m4 0h0m2.5 0h0m2.5 0h0m.5 0h0m7.5 0h0m60.5 0h0m2.5 0h0m2 0h0m-80 .5h0m2.5 0h0m1.5 0h0m2.5 0h0m69.5 0h0m4 0h0m4 0h0m3 0h0m-88.5 .5h0m.5 0h0m.5 0h0m.5 0h0m1.5 0h0m.5 0h0m.5 0h0m2 0h0m.5 0h0m2 0h0m66.5 0h0m2.5 0h0m3.5 0h0m5 0h0m6 0h0m-98 .5h0m2.5 0h0m.5 0h0m.5 0h0m.5 0h0m3.5 0h0m2.5 0h0m2 0h0m.5 0h0m1.5 0h0m68.5 0h0m.5 0h0m3 0h0m2.5 0h0m2 0h0m-115.5 .5h0m28 0h0m.5 0h0m2.5 0h0m2.5 0h0m.5 0h0m4 0h0m73.5 0h0m1 0h0m3 0h0m3 0h0m3 0h0m-97.5 .5h0m6 0h0m3.5 0h0m3.5 0h0m1.5 0h0m.5 0h0m75.5 0h0m-105.5 .5h0m17.5 0h0m2.5 0h0m.5 0h0m1 0h0m2 0h0m2.5 0h0m1 0h0m1.5 0h0m83 0h0m5.5 0h0m-114 .5h0m8 0h0m12.5 0h0m1.5 0h0m1.5 0h0m.5 0h0m1 0h0m2.5 0h0m77 0h0m4 0h0m-90 .5h0m2 0h0m3.5 0h0m1 0h0m.5 0h0m83.5 0h0m-96.5 .5h0m9 0h0m5 0h0m78.5 0h0m-100 .5h0m5 0h0m6.5 0h0m3 0h0m.5 0h0m1.5 0h0m4.5 0h0m76.5 0h0m1 0h0m.5 0h0m2 0h0m4.5 0h0m.5 0h0m-94.5 .5h0m1 0h0m1 0h0m1 0h0m3.5 0h0m83 0h0m1.5 0h0m-96.5 .5h0m6.5 0h0m1 0h0m.5 0h0m91 0h0m-109 .5h0m10.5 0h0m1.5 0h0m4 0h0m84 0h0m.5 0h0m3 0h0m10 0h0m-102 .5h0m2.5 0h0m1.5 0h0m85 0h0m.5 0h0m1.5 0h0m.5 0h0m.5 0h0m1 0h0m3 0h0m2.5 0h0m-96 .5h0m1 0h0m89.5 0h0m2 0h0m2 0h0m-100 .5h0m1.5 0h0m3 0h0m1.5 0h0m87 0h0m9.5 0h0m5 0h0m-118.5 .5h0m11.5 0h0m1.5 0h0m91.5 0h0m3 0h0m4.5 0h0m4.5 0h0m-121 .5h0m15 0h0m.5 0h0m94 0h0m.5 0h0m1.5 0h0m1 0h0m-100.5 .5h0m3.5 0h0m2 0h0m.5 0h0m1.5 0h0m88.5 0h0m1.5 0h0m13 0h0m-107 .5h0m.5 0h0m2 0h0m1.5 0h0m.5 0h0m87 0h0m1.5 0h0m.5 0h0m1.5 0h0m6.5 0h0m3.5 0h0m-106.5 1h0m3.5 0h0m.5 0h0m45.5 0h0m11 0h0m34.5 0h0m8.5 0h0m.5 0h0m.5 0h0m-119 .5h0m6 0h0m9.5 0h0m4 0h0m1 0h0m1 0h0m43 0h0m11 0h0m-66.5 .5h0m3.5 0h0m6 0h0m.5 0h0m1 0h0m.5 0h0m97 0h0m1 0h0m-102.5 .5h0m2 0h0m1.5 0h0m1 0h0m42.5 0h0m1.5 0h0m.5 0h0m.5 0h0m10 0h0m.5 0h0m44.5 0h0m8 0h0m-128.5 .5h0m6 0h0m8 0h0m60.5 0h0m1.5 0h0m47.5 0h0m.5 0h0m-120 .5h0m8 0h0m2.5 0h0m.5 0h0m2 0h0m3 0h0m.5 0h0m43.5 0h0m55.5 0h0m4 0h0m-121.5 .5h0m7.5 0h0m.5 0h0m4 0h0m3.5 0h0m3 0h0m45 0h0m9.5 0h0m43.5 0h0m2 0h0m1.5 0h0m2.5 0h0m-112 .5h0m5.5 0h0m1 0h0m43.5 0h0m.5 0h0m1 0h0m56.5 0h0m-108 .5h0m.5 0h0m6.5 0h0m43 0h0m.5 0h0m.5 0h0m1 0h0m2 0h0m.5 0h0m23 0h0m32 0h0m3 0h0m-120 .5h0m8 0h0m46.5 0h0m.5 0h0m1 0h0m.5 0h0m.5 0h0m5 0h0m51.5 0h0m1 0h0m2.5 0h0m.5 0h0m-115.5 .5h0m3 0h0m.5 0h0m44 0h0m.5 0h0m7.5 0h0m3.5 0h0m2.5 0h0m.5 0h0m1.5 0h0m13 0h0m5.5 0h0m2.5 0h0m27 0h0m.5 0h0m1.5 0h0m4.5 0h0m1 0h0m.5 0h0m-117 .5h0m3.5 0h0m.5 0h0m2.5 0h0m43 0h0m5.5 0h0m.5 0h0m3 0h0m2 0h0m18.5 0h0m4 0h0m28 0h0m1.5 0h0m1 0h0m3.5 0h0m6 0h0m-126.5 .5h0m4 0h0m1.5 0h0m.5 0h0m5.5 0h0m38.5 0h0m5.5 0h0m2 0h0m.5 0h0m1.5 0h0m2 0h0m11 0h0m12 0h0m3 0h0m27 0h0m.5 0h0m-119 .5h0m10 0h0m41.5 0h0m9.5 0h0m.5 0h0m4.5 0h0m1.5 0h0m5.5 0h0m7.5 0h0m.5 0h0m2.5 0h0m6.5 0h0m29 0h0m3 0h0m-123.5 .5h0m8 0h0m4.5 0h0m.5 0h0m2.5 0h0m.5 0h0m29.5 0h0m6.5 0h0m3.5 0h0m.5 0h0m4 0h0m2 0h0m.5 0h0m8 0h0m.5 0h0m2 0h0m2 0h0m8.5 0h0m.5 0h0m.5 0h0m.5 0h0m4 0h0m.5 0h0m34 0h0m1 0h0m-119.5 .5h0m.5 0h0m2 0h0m5 0h0m.5 0h0m33 0h0m8.5 0h0m1 0h0m4 0h0m.5 0h0m10 0h0m1 0h0m2.5 0h0m2 0h0m5 0h0m3 0h0m1 0h0m7.5 0h0m27 0h0m3.5 0h0m2 0h0m-113.5 .5h0m.5 0h0m.5 0h0m3.5 0h0m.5 0h0m28.5 0h0m2 0h0m4 0h0m.5 0h0m3 0h0m1.5 0h0m3.5 0h0m2.5 0h0m7 0h0m2.5 0h0m.5 0h0m2 0h0m2.5 0h0m1.5 0h0m1 0h0m5.5 0h0m1.5 0h0m6 0h0m29 0h0m.5 0h0m.5 0h0m.5 0h0m3 0h0m-121 .5h0m2.5 0h0m1 0h0m1.5 0h0m1 0h0m1 0h0m1 0h0m32 0h0m.5 0h0m1.5 0h0m1 0h0m3 0h0m2.5 0h0m.5 0h0m6 0h0m3 0h0m1 0h0m1.5 0h0m7.5 0h0m1.5 0h0m2 0h0m3.5 0h0m4.5 0h0m2 0h0m35.5 0h0m.5 0h0m-114 .5h0m2 0h0m1.5 0h0m32 0h0m3.5 0h0m10 0h0m1 0h0m2 0h0m3 0h0m.5 0h0m.5 0h0m1.5 0h0m6.5 0h0m6.5 0h0m3 0h0m1 0h0m3.5 0h0m5 0h0m30.5 0h0m1 0h0m1.5 0h0m1.5 0h0m-117 .5h0m24.5 0h0m.5 0h0m12.5 0h0m.5 0h0m.5 0h0m6.5 0h0m.5 0h0m.5 0h0m2 0h0m5 0h0m1 0h0m4 0h0m4.5 0h0m4.5 0h0m7 0h0m.5 0h0m2.5 0h0m.5 0h0m.5 0h0m5 0h0m.5 0h0m6 0h0m1.5 0h0m25 0h0m-118.5 .5h0m2 0h0m1.5 0h0m22.5 0h0m2.5 0h0m10 0h0m2 0h0m1.5 0h0m5 0h0m.5 0h0m4 0h0m.5 0h0m1 0h0m1.5 0h0m1.5 0h0m4.5 0h0m11 0h0m2 0h0m1.5 0h0m5 0h0m6.5 0h0m4 0h0m30.5 0h0m.5 0h0m2 0h0m5 0h0m-128 .5h0m28 0h0m10.5 0h0m1 0h0m1.5 0h0m.5 0h0m3 0h0m5 0h0m2.5 0h0m.5 0h0m4 0h0m.5 0h0m1 0h0m1.5 0h0m.5 0h0m11.5 0h0m.5 0h0m2 0h0m3.5 0h0m5.5 0h0m.5 0h0m3 0h0m4 0h0m3 0h0m.5 0h0m25 0h0m1 0h0m4.5 0h0m-129.5 .5h0m30.5 0h0m2 0h0m10.5 0h0m.5 0h0m.5 0h0m2 0h0m.5 0h0m8 0h0m13.5 0h0m4 0h0m4 0h0m1 0h0m1 0h0m.5 0h0m1.5 0h0m1.5 0h0m1 0h0m1 0h0m.5 0h0m3.5 0h0m.5 0h0m.5 0h0m7 0h0m.5 0h0m26 0h0m2 0h0m2 0h0m9.5 0h0m-130 .5h0m.5 0h0m25.5 0h0m16.5 0h0m2 0h0m1 0h0m4.5 0h0m4.5 0h0m2.5 0h0m3.5 0h0m2 0h0m.5 0h0m1.5 0h0m1 0h0m12 0h0m.5 0h0m.5 0h0m6.5 0h0m7.5 0h0m.5 0h0m23.5 0h0m1.5 0h0m.5 0h0m.5 0h0m.5 0h0m1 0h0m2 0h0m-131.5 .5h0m46.5 0h0m.5 0h0m5 0h0m3 0h0m6 0h0m1.5 0h0m.5 0h0m1.5 0h0m2.5 0h0m3 0h0m7.5 0h0m1.5 0h0m8 0h0m13 0h0m1 0h0m1 0h0m-93 .5h0m40 0h0m5 0h0m1 0h0m.5 0h0m.5 0h0m3.5 0h0m9 0h0m.5 0h0m.5 0h0m.5 0h0m10.5 0h0m2 0h0m3.5 0h0m13.5 0h0m2 0h0m24 0h0m2 0h0m1 0h0m4 0h0m2 0h0m.5 0h0m-139.5 .5h0m7 0h0m5.5 0h0m41.5 0h0m2 0h0m2.5 0h0m11 0h0m9.5 0h0m1.5 0h0m.5 0h0m4.5 0h0m2 0h0m1.5 0h0m1.5 0h0m1 0h0m.5 0h0m3 0h0m3 0h0m1.5 0h0m3 0h0m1 0h0m1 0h0m1 0h0m1 0h0m2 0h0m1.5 0h0m23 0h0m.5 0h0m3.5 0h0m-127 .5h0m2 0h0m33 0h0m6.5 0h0m7 0h0m2.5 0h0m1 0h0m1.5 0h0m2 0h0m6 0h0m12 0h0m.5 0h0m.5 0h0m.5 0h0m4 0h0m6 0h0m10 0h0m2 0h0m.5 0h0m1 0h0m1.5 0h0m23.5 0h0m2.5 0h0m1.5 0h0m1 0h0m-129 .5h0m1 0h0m.5 0h0m1.5 0h0m30.5 0h0m9.5 0h0m4.5 0h0m1 0h0m.5 0h0m4 0h0m.5 0h0m7.5 0h0m.5 0h0m15.5 0h0m3.5 0h0m3 0h0m1 0h0m.5 0h0m4 0h0m.5 0h0m6 0h0m2 0h0m23 0h0m8.5 0h0m-134 .5h0m5 0h0m33.5 0h0m.5 0h0m1.5 0h0m8 0h0m2 0h0m3 0h0m6 0h0m1 0h0m1 0h0m8 0h0m12 0h0m3.5 0h0m5 0h0m4.5 0h0m3.5 0h0m1 0h0m.5 0h0m1.5 0h0m2.5 0h0m1 0h0m2 0h0m.5 0h0m.5 0h0m2.5 0h0m14.5 0h0m5.5 0h0m1.5 0h0m3 0h0m-128.5 .5h0m31 0h0m2.5 0h0m1 0h0m3 0h0m3.5 0h0m2 0h0m1 0h0m3 0h0m.5 0h0m3.5 0h0m4 0h0m3 0h0m1 0h0m2.5 0h0m.5 0h0m3.5 0h0m2.5 0h0m.5 0h0m2.5 0h0m1 0h0m7 0h0m5 0h0m2 0h0m2.5 0h0m1 0h0m.5 0h0m3 0h0m.5 0h0m2 0h0m.5 0h0m31.5 0h0m2 0h0m3.5 0h0m1 0h0m-135.5 .5h0m2.5 0h0m.5 0h0m31.5 0h0m2.5 0h0m2.5 0h0m1 0h0m.5 0h0m1 0h0m1 0h0m6.5 0h0m1 0h0m.5 0h0m1.5 0h0m.5 0h0m3.5 0h0m.5 0h0m1 0h0m5 0h0m1.5 0h0m5 0h0m1.5 0h0m2 0h0m3.5 0h0m1.5 0h0m1 0h0m2.5 0h0m6 0h0m.5 0h0m5 0h0m3.5 0h0m4 0h0m4 0h0m2.5 0h0m14.5 0h0m.5 0h0m3.5 0h0m.5 0h0m-127 .5h0m32 0h0m.5 0h0m.5 0h0m.5 0h0m6.5 0h0m2 0h0m3 0h0m2 0h0m.5 0h0m.5 0h0m3 0h0m1.5 0h0m2 0h0m.5 0h0m1.5 0h0m1 0h0m4 0h0m1.5 0h0m1.5 0h0m6 0h0m2 0h0m.5 0h0m6 0h0m2 0h0m1 0h0m6 0h0m5 0h0m1.5 0h0m5.5 0h0m1 0h0m1 0h0m1.5 0h0m2.5 0h0m1 0h0m13.5 0h0m6.5 0h0m3.5 0h0m1 0h0m1.5 0h0m2 0h0m-135.5 .5h0m2 0h0m.5 0h0m30 0h0m2 0h0m2 0h0m.5 0h0m1.5 0h0m7.5 0h0m1 0h0m4.5 0h0m8.5 0h0m3.5 0h0m2.5 0h0m6 0h0m3 0h0m5 0h0m2.5 0h0m4 0h0m13.5 0h0m7 0h0m18.5 0h0m3 0h0m4 0h0m4.5 0h0m-140.5 .5h0m7 0h0m28 0h0m1 0h0m1.5 0h0m6 0h0m24 0h0m9 0h0m2 0h0m1.5 0h0m2 0h0m3.5 0h0m2 0h0m4.5 0h0m1.5 0h0m7.5 0h0m3.5 0h0m3 0h0m6 0h0m11.5 0h0m.5 0h0m.5 0h0m-123 .5h0m.5 0h0m.5 0h0m2.5 0h0m29 0h0m2.5 0h0m3 0h0m3.5 0h0m1 0h0m4 0h0m2 0h0m10 0h0m1 0h0m3 0h0m17 0h0m2 0h0m2.5 0h0m2 0h0m1.5 0h0m1.5 0h0m4.5 0h0m.5 0h0m1 0h0m.5 0h0m1.5 0h0m2 0h0m3 0h0m7 0h0m2 0h0m15.5 0h0m2 0h0m1 0h0m4 0h0m2 0h0m-137.5 .5h0m34 0h0m3.5 0h0m6.5 0h0m1 0h0m3 0h0m8 0h0m3.5 0h0m5 0h0m4 0h0m.5 0h0m3.5 0h0m7 0h0m3.5 0h0m3 0h0m3 0h0m3.5 0h0m4 0h0m.5 0h0m1 0h0m2 0h0m1 0h0m1 0h0m6 0h0m4.5 0h0m2.5 0h0m15 0h0m2 0h0m.5 0h0m10 0h0m-138 .5h0m30 0h0m3 0h0m.5 0h0m21 0h0m2 0h0m5.5 0h0m1 0h0m3.5 0h0m1.5 0h0m3.5 0h0m9 0h0m4.5 0h0m1.5 0h0m3.5 0h0m1 0h0m1.5 0h0m2 0h0m8.5 0h0m4.5 0h0m1.5 0h0m16 0h0m3.5 0h0m.5 0h0m-128.5 .5h0m30.5 0h0m2.5 0h0m6.5 0h0m6 0h0m2.5 0h0m1 0h0m2.5 0h0m.5 0h0m3.5 0h0m11.5 0h0m6 0h0m2 0h0m1.5 0h0m4.5 0h0m6.5 0h0m1 0h0m4.5 0h0m.5 0h0m1.5 0h0m3 0h0m4 0h0m1 0h0m7 0h0m22.5 0h0m-138 .5h0m1 0h0m3 0h0m31.5 0h0m11.5 0h0m2 0h0m.5 0h0m3.5 0h0m2 0h0m2.5 0h0m1.5 0h0m2.5 0h0m3 0h0m1 0h0m6.5 0h0m4.5 0h0m2 0h0m1.5 0h0m4.5 0h0m3.5 0h0m4.5 0h0m11.5 0h0m1 0h0m1.5 0h0m7 0h0m1.5 0h0m1 0h0m17 0h0m2 0h0m3 0h0m-136.5 .5h0m.5 0h0m1.5 0h0m28.5 0h0m.5 0h0m2.5 0h0m1 0h0m.5 0h0m5.5 0h0m1.5 0h0m8 0h0m2 0h0m5.5 0h0m4 0h0m2 0h0m.5 0h0m4.5 0h0m3.5 0h0m1.5 0h0m6 0h0m5 0h0m2 0h0m4.5 0h0m2 0h0m1.5 0h0m3 0h0m2.5 0h0m3.5 0h0m6 0h0m8.5 0h0m1 0h0m1 0h0m.5 0h0m10 0h0m3 0h0m2 0h0m2 0h0m.5 0h0m1.5 0h0m-144 .5h0m5.5 0h0m2 0h0m28 0h0m2.5 0h0m3.5 0h0m6 0h0m9 0h0m8 0h0m4 0h0m1.5 0h0m10 0h0m3.5 0h0m2 0h0m14.5 0h0m1.5 0h0m4 0h0m1.5 0h0m3.5 0h0m3.5 0h0m4 0h0m3.5 0h0m1.5 0h0m1 0h0m15.5 0h0m1 0h0m2 0h0m-136.5 .5h0m2 0h0m27 0h0m7 0h0m9.5 0h0m2.5 0h0m3.5 0h0m1.5 0h0m.5 0h0m3 0h0m2 0h0m7.5 0h0m1.5 0h0m.5 0h0m1 0h0m.5 0h0m1 0h0m7 0h0m4.5 0h0m1 0h0m1.5 0h0m13 0h0m3 0h0m3.5 0h0m4 0h0m3.5 0h0m1.5 0h0m.5 0h0m.5 0h0m4.5 0h0m2 0h0m9 0h0m1.5 0h0m.5 0h0m2 0h0m.5 0h0m1.5 0h0m3.5 0h0m-149 .5h0m6 0h0m2 0h0m25 0h0m5 0h0m6.5 0h0m3 0h0m.5 0h0m4 0h0m.5 0h0m1 0h0m4.5 0h0m.5 0h0m5 0h0m1 0h0m10 0h0m11 0h0m3.5 0h0m1.5 0h0m6 0h0m3 0h0m8 0h0m1.5 0h0m1 0h0m2.5 0h0m1 0h0m5 0h0m2 0h0m.5 0h0m1 0h0m2 0h0m.5 0h0m.5 0h0m18 0h0m.5 0h0m-138.5 .5h0m27 0h0m.5 0h0m1.5 0h0m3 0h0m4.5 0h0m2.5 0h0m.5 0h0m.5 0h0m9.5 0h0m2 0h0m6.5 0h0m15.5 0h0m12 0h0m.5 0h0m1 0h0m1.5 0h0m.5 0h0m6.5 0h0m.5 0h0m4.5 0h0m1 0h0m4 0h0m2 0h0m5 0h0m.5 0h0m4 0h0m2.5 0h0m1.5 0h0m1 0h0m2.5 0h0m.5 0h0m4.5 0h0m6 0h0m.5 0h0m4.5 0h0m-141.5 .5h0m4.5 0h0m25.5 0h0m2.5 0h0m.5 0h0m7 0h0m5 0h0m1 0h0m1.5 0h0m3.5 0h0m.5 0h0m.5 0h0m8 0h0m6.5 0h0m8.5 0h0m2 0h0m2.5 0h0m16 0h0m2.5 0h0m2 0h0m10 0h0m2 0h0m.5 0h0m7 0h0m2 0h0m2 0h0m1.5 0h0m5.5 0h0m2.5 0h0m3 0h0m.5 0h0m2.5 0h0m.5 0h0m1 0h0m.5 0h0m2.5 0h0m-138.5 .5h0m25 0h0m3 0h0m2 0h0m1 0h0m8.5 0h0m4.5 0h0m3.5 0h0m.5 0h0m.5 0h0m3.5 0h0m3 0h0m5 0h0m4 0h0m.5 0h0m3 0h0m14.5 0h0m3 0h0m2 0h0m14.5 0h0m1.5 0h0m3 0h0m1 0h0m2.5 0h0m.5 0h0m11 0h0m.5 0h0m5 0h0m3 0h0m4.5 0h0m-134 .5h0m.5 0h0m21.5 0h0m2.5 0h0m5 0h0m.5 0h0m.5 0h0m2 0h0m3.5 0h0m7 0h0m3 0h0m8.5 0h0m16 0h0m3.5 0h0m6.5 0h0m7.5 0h0m2.5 0h0m4 0h0m2.5 0h0m6 0h0m.5 0h0m.5 0h0m6.5 0h0m5 0h0m.5 0h0m.5 0h0m6 0h0m3.5 0h0m7 0h0m4 0h0m-139.5 .5h0m.5 0h0m1 0h0m23 0h0m1 0h0m4 0h0m2 0h0m2.5 0h0m2 0h0m1 0h0m2.5 0h0m9.5 0h0m.5 0h0m1.5 0h0m10 0h0m2.5 0h0m1.5 0h0m10 0h0m2.5 0h0m2.5 0h0m2 0h0m5.5 0h0m10.5 0h0m2 0h0m1 0h0m1 0h0m3 0h0m.5 0h0m10.5 0h0m.5 0h0m3.5 0h0m6.5 0h0m4 0h0m.5 0h0m1.5 0h0m1.5 0h0m1 0h0m1 0h0m2 0h0m.5 0h0m8 0h0m-145.5 .5h0m.5 0h0m25 0h0m7.5 0h0m2 0h0m2 0h0m.5 0h0m2.5 0h0m3 0h0m2.5 0h0m8 0h0m9 0h0m4 0h0m.5 0h0m2.5 0h0m20.5 0h0m8 0h0m.5 0h0m2 0h0m14 0h0m1 0h0m2.5 0h0m1 0h0m1 0h0m1.5 0h0m2.5 0h0m2.5 0h0m3 0h0m4.5 0h0m1 0h0m5 0h0m-116 .5h0m2 0h0m6 0h0m2 0h0m4 0h0m5 0h0m7 0h0m.5 0h0m5 0h0m7.5 0h0m1 0h0m11.5 0h0m6 0h0m3 0h0m18 0h0m3 0h0m2.5 0h0m3.5 0h0m1.5 0h0m5 0h0m2.5 0h0m2.5 0h0m2 0h0m1.5 0h0m4 0h0m6.5 0h0m1 0h0m1 0h0m2 0h0m2 0h0m-145.5 .5h0m25 0h0m.5 0h0m6.5 0h0m.5 0h0m9 0h0m3.5 0h0m1 0h0m29.5 0h0m12 0h0m2.5 0h0m5.5 0h0m6 0h0m1.5 0h0m1.5 0h0m1 0h0m1.5 0h0m.5 0h0m4 0h0m2 0h0m1 0h0m3 0h0m1 0h0m2 0h0m2.5 0h0m.5 0h0m2.5 0h0m11.5 0h0m2.5 0h0m1 0h0m-117 .5h0m10 0h0m3 0h0m3.5 0h0m3.5 0h0m.5 0h0m.5 0h0m1 0h0m1.5 0h0m.5 0h0m3.5 0h0m6.5 0h0m5.5 0h0m2.5 0h0m9 0h0m1.5 0h0m32 0h0m.5 0h0m3.5 0h0m4 0h0m1.5 0h0m4 0h0m6 0h0m4 0h0m1.5 0h0m6.5 0h0m.5 0h0m8 0h0m-147.5 .5h0m22 0h0m.5 0h0m3.5 0h0m.5 0h0m4 0h0m6.5 0h0m2 0h0m1 0h0m1 0h0m5 0h0m4 0h0m21 0h0m11 0h0m3.5 0h0m4 0h0m11 0h0m1 0h0m1.5 0h0m8 0h0m8.5 0h0m4 0h0m2.5 0h0m1 0h0m2 0h0m4.5 0h0m3.5 0h0m-139.5 .5h0m1.5 0h0m20 0h0m2 0h0m7.5 0h0m3 0h0m11 0h0m1 0h0m3 0h0m4 0h0m1.5 0h0m1 0h0m6.5 0h0m7.5 0h0m2.5 0h0m2 0h0m9 0h0m14 0h0m2 0h0m3 0h0m4.5 0h0m8.5 0h0m6.5 0h0m5 0h0m2 0h0m3.5 0h0m4.5 0h0m7 0h0m4.5 0h0m-147 .5h0m2.5 0h0m18 0h0m1.5 0h0m2 0h0m2 0h0m4 0h0m.5 0h0m3 0h0m1 0h0m16 0h0m2.5 0h0m4 0h0m3.5 0h0m.5 0h0m5 0h0m10.5 0h0m4.5 0h0m21 0h0m3.5 0h0m2.5 0h0m1 0h0m1 0h0m1 0h0m2.5 0h0m8.5 0h0m4.5 0h0m2 0h0m3 0h0m2.5 0h0m5 0h0m2 0h0m1.5 0h0m5 0h0m-147.5 .5h0m1 0h0m1.5 0h0m.5 0h0m16 0h0m9.5 0h0m6 0h0m6.5 0h0m7.5 0h0m5 0h0m8 0h0m8 0h0m8 0h0m5.5 0h0m5.5 0h0m9 0h0m.5 0h0m18 0h0m7 0h0m4 0h0m2 0h0m3 0h0m.5 0h0m6.5 0h0m.5 0h0m1.5 0h0m1.5 0h0m1.5 0h0m4 0h0m-149.5 .5h0m2.5 0h0m15.5 0h0m.5 0h0m2.5 0h0m.5 0h0m2 0h0m5.5 0h0m3 0h0m.5 0h0m3 0h0m14 0h0m6 0h0m4.5 0h0m2 0h0m5 0h0m11.5 0h0m9 0h0m2 0h0m16 0h0m3 0h0m.5 0h0m2.5 0h0m.5 0h0m.5 0h0m12.5 0h0m9.5 0h0m3.5 0h0m4 0h0m2 0h0m4 0h0m4.5 0h0m-154.5 .5h0m.5 0h0m20 0h0m5.5 0h0m2 0h0m1 0h0m2.5 0h0m3.5 0h0m9.5 0h0m2 0h0m5 0h0m6 0h0m1 0h0m5 0h0m27.5 0h0m10.5 0h0m18 0h0m3 0h0m1.5 0h0m2 0h0m6.5 0h0m1.5 0h0m1 0h0m.5 0h0m.5 0h0m1.5 0h0m3.5 0h0m2 0h0m2.5 0h0m5 0h0m-127.5 .5h0m2.5 0h0m1 0h0m4 0h0m5 0h0m.5 0h0m.5 0h0m1.5 0h0m2.5 0h0m.5 0h0m.5 0h0m4.5 0h0m.5 0h0m.5 0h0m3 0h0m1.5 0h0m1 0h0m30 0h0m3.5 0h0m3 0h0m1 0h0m6.5 0h0m.5 0h0m4.5 0h0m3.5 0h0m8 0h0m2 0h0m1.5 0h0m7 0h0m5 0h0m2.5 0h0m2 0h0m7.5 0h0m6 0h0m4 0h0m-150.5 .5h0m21.5 0h0m3 0h0m4.5 0h0m3.5 0h0m2.5 0h0m4.5 0h0m3 0h0m5 0h0m6 0h0m6 0h0m8.5 0h0m2 0h0m6 0h0m1 0h0m18.5 0h0m1.5 0h0m10 0h0m6.5 0h0m9.5 0h0m5 0h0m.5 0h0m4.5 0h0m1 0h0m3 0h0m.5 0h0m1 0h0m.5 0h0m2 0h0m4.5 0h0m4.5 0h0m4 0h0m-157 .5h0m5 0h0m.5 0h0m16.5 0h0m2.5 0h0m.5 0h0m2 0h0m.5 0h0m9.5 0h0m.5 0h0m14 0h0m1 0h0m6 0h0m8 0h0m3 0h0m29 0h0m1 0h0m1 0h0m3.5 0h0m1 0h0m14 0h0m4.5 0h0m4 0h0m5.5 0h0m2.5 0h0m1.5 0h0m2 0h0m2 0h0m.5 0h0m2 0h0m2.5 0h0m2 0h0m1.5 0h0m1.5 0h0m1.5 0h0m-150 .5h0m2 0h0m17 0h0m.5 0h0m.5 0h0m2.5 0h0m2 0h0m4.5 0h0m13 0h0m18 0h0m1.5 0h0m18 0h0m7 0h0m4 0h0m11.5 0h0m7.5 0h0m7 0h0m4 0h0m6 0h0m4.5 0h0m5.5 0h0m1 0h0m2 0h0m2.5 0h0m.5 0h0m1 0h0m.5 0h0m1 0h0m.5 0h0m4 0h0m1.5 0h0m7.5 0h0m-157 .5h0m19 0h0m8 0h0m2 0h0m1.5 0h0m2 0h0m2.5 0h0m2.5 0h0m5.5 0h0m8 0h0m4 0h0m3 0h0m6.5 0h0m17 0h0m2 0h0m6.5 0h0m12 0h0m.5 0h0m22.5 0h0m5.5 0h0m2.5 0h0m2 0h0m3.5 0h0m2.5 0h0m2 0h0m2 0h0m1 0h0m1.5 0h0m4.5 0h0m1 0h0m-153.5 .5h0m20 0h0m1 0h0m5.5 0h0m3 0h0m5.5 0h0m1.5 0h0m9 0h0m11 0h0m3.5 0h0m.5 0h0m.5 0h0m3.5 0h0m14 0h0m1 0h0m18 0h0m6 0h0m6.5 0h0m11 0h0m9.5 0h0m1.5 0h0m4 0h0m4.5 0h0m9 0h0m2 0h0m2 0h0m-157 .5h0m32.5 0h0m4.5 0h0m1 0h0m1.5 0h0m7 0h0m1.5 0h0m11.5 0h0m6.5 0h0m23 0h0m.5 0h0m.5 0h0m21 0h0m1 0h0m1 0h0m6 0h0m2.5 0h0m15 0h0m2 0h0m10.5 0h0m1 0h0m3.5 0h0m-151.5 .5h0m.5 0h0m1 0h0m20 0h0m2 0h0m1 0h0m3 0h0m1 0h0m2 0h0m.5 0h0m.5 0h0m1.5 0h0m.5 0h0m.5 0h0m1.5 0h0m6.5 0h0m.5 0h0m3 0h0m1.5 0h0m.5 0h0m2.5 0h0m4 0h0m5.5 0h0m3 0h0m1 0h0m5.5 0h0m14.5 0h0m7 0h0m5.5 0h0m7 0h0m1.5 0h0m17 0h0m2.5 0h0m4.5 0h0m3 0h0m3 0h0m1 0h0m6 0h0m3.5 0h0m.5 0h0m1 0h0m2.5 0h0m3 0h0m-153 .5h0m25 0h0m.5 0h0m7 0h0m7.5 0h0m2.5 0h0m3.5 0h0m8.5 0h0m1.5 0h0m9.5 0h0m13.5 0h0m2.5 0h0m16.5 0h0m3.5 0h0m6 0h0m4 0h0m2 0h0m2.5 0h0m3 0h0m22 0h0m1 0h0m2.5 0h0m1 0h0m3 0h0m4.5 0h0m-130 .5h0m1 0h0m6.5 0h0m3.5 0h0m.5 0h0m2 0h0m2.5 0h0m1.5 0h0m23 0h0m5.5 0h0m11.5 0h0m19.5 0h0m5.5 0h0m6 0h0m3 0h0m9 0h0m2 0h0m8 0h0m6 0h0m1.5 0h0m.5 0h0m.5 0h0m1 0h0m2.5 0h0m3 0h0m2 0h0m4.5 0h0m-153.5 .5h0m25.5 0h0m3 0h0m9 0h0m7.5 0h0m2 0h0m15 0h0m8.5 0h0m2 0h0m12.5 0h0m12 0h0m10 0h0m14 0h0m7.5 0h0m5 0h0m5 0h0m.5 0h0m1 0h0m7 0h0m2.5 0h0m1 0h0m-151 .5h0m.5 0h0m21 0h0m1 0h0m2.5 0h0m1.5 0h0m.5 0h0m1 0h0m12.5 0h0m.5 0h0m6 0h0m7.5 0h0m4.5 0h0m30.5 0h0m.5 0h0m7.5 0h0m2 0h0m1.5 0h0m16.5 0h0m5 0h0m9.5 0h0m2 0h0m2 0h0m.5 0h0m4 0h0m3 0h0m.5 0h0m1 0h0m9 0h0m-154.5 .5h0m21.5 0h0m3.5 0h0m10 0h0m32 0h0m31.5 0h0m13 0h0m2.5 0h0m7 0h0m2.5 0h0m.5 0h0m1 0h0m2.5 0h0m10.5 0h0m2 0h0m3 0h0m3.5 0h0m.5 0h0m3 0h0m-132 .5h0m1.5 0h0m2.5 0h0m8.5 0h0m3 0h0m.5 0h0m8 0h0m1 0h0m8 0h0m5 0h0m2 0h0m1 0h0m23.5 0h0m3 0h0m1 0h0m4.5 0h0m11.5 0h0m4.5 0h0m2.5 0h0m1 0h0m3 0h0m15.5 0h0m1 0h0m1.5 0h0m7 0h0m2.5 0h0m2 0h0m2 0h0m1 0h0m2.5 0h0m3.5 0h0m3.5 0h0m-155 .5h0m1.5 0h0m16 0h0m2 0h0m6 0h0m2.5 0h0m5 0h0m3.5 0h0m2 0h0m2 0h0m6 0h0m10.5 0h0m3 0h0m1.5 0h0m3 0h0m3.5 0h0m21 0h0m4 0h0m17.5 0h0m15.5 0h0m7 0h0m1.5 0h0m4 0h0m6.5 0h0m.5 0h0m6 0h0m.5 0h0m1 0h0m2.5 0h0m1.5 0h0m2 0h0m-160 .5h0m1.5 0h0m2 0h0m13 0h0m11.5 0h0m1 0h0m4.5 0h0m6 0h0m8 0h0m1 0h0m16.5 0h0m9 0h0m15 0h0m1.5 0h0m1.5 0h0m19 0h0m9 0h0m2.5 0h0m3 0h0m.5 0h0m5.5 0h0m19.5 0h0m1 0h0m15 0h0m-167 .5h0m3.5 0h0m11.5 0h0m2.5 0h0m6 0h0m12.5 0h0m8 0h0m5.5 0h0m26 0h0m4.5 0h0m40.5 0h0m5.5 0h0m10.5 0h0m1 0h0m1.5 0h0m2.5 0h0m3.5 0h0m.5 0h0m1 0h0m.5 0h0m12.5 0h0m-159.5 .5h0m3 0h0m9.5 0h0m1 0h0m2.5 0h0m3 0h0m1.5 0h0m.5 0h0m1.5 0h0m4.5 0h0m1.5 0h0m6 0h0m7 0h0m.5 0h0m23 0h0m37.5 0h0m21.5 0h0m1 0h0m6 0h0m7 0h0m3 0h0m4 0h0m6 0h0m1 0h0m3 0h0m-152 .5h0m8.5 0h0m2.5 0h0m5.5 0h0m.5 0h0m.5 0h0m7 0h0m4 0h0m15.5 0h0m2 0h0m4 0h0m6.5 0h0m8.5 0h0m11.5 0h0m5 0h0m2.5 0h0m3.5 0h0m29.5 0h0m.5 0h0m11 0h0m1 0h0m.5 0h0m7 0h0m3 0h0m9.5 0h0m1 0h0m.5 0h0m1.5 0h0m4 0h0m-159 .5h0m2 0h0m12.5 0h0m3 0h0m2.5 0h0m7.5 0h0m7 0h0m15 0h0m6 0h0m1 0h0m3 0h0m29.5 0h0m3 0h0m10 0h0m5 0h0m12 0h0m17.5 0h0m1.5 0h0m1 0h0m5.5 0h0m8 0h0m3 0h0m-154.5 .5h0m.5 0h0m.5 0h0m2.5 0h0m6.5 0h0m1 0h0m.5 0h0m1.5 0h0m3.5 0h0m3 0h0m2 0h0m12.5 0h0m10.5 0h0m4.5 0h0m4.5 0h0m2.5 0h0m11.5 0h0m18 0h0m4.5 0h0m5.5 0h0m8 0h0m8.5 0h0m1.5 0h0m9 0h0m5 0h0m.5 0h0m15.5 0h0m1.5 0h0m2 0h0m1 0h0m1 0h0m3.5 0h0m2 0h0m-156.5 .5h0m2 0h0m1.5 0h0m6.5 0h0m3 0h0m8 0h0m3.5 0h0m2.5 0h0m1.5 0h0m.5 0h0m8 0h0m.5 0h0m1 0h0m4.5 0h0m19.5 0h0m8 0h0m9.5 0h0m11 0h0m3.5 0h0m4 0h0m10.5 0h0m3 0h0m4 0h0m10.5 0h0m9 0h0m1.5 0h0m4.5 0h0m.5 0h0m1.5 0h0m1 0h0m3.5 0h0m3 0h0m3.5 0h0m1.5 0h0m1.5 0h0m3 0h0m4 0h0m-164 .5h0m2 0h0m1.5 0h0m3 0h0m3.5 0h0m.5 0h0m.5 0h0m4.5 0h0m4 0h0m4.5 0h0m6.5 0h0m.5 0h0m12.5 0h0m16 0h0m15.5 0h0m12 0h0m30.5 0h0m1.5 0h0m3 0h0m1 0h0m5.5 0h0m9 0h0m.5 0h0m3.5 0h0m1 0h0m5.5 0h0m9 0h0m-153 .5h0m1.5 0h0m3.5 0h0m4.5 0h0m8 0h0m13 0h0m1.5 0h0m36 0h0m40.5 0h0m8 0h0m3 0h0m1 0h0m12.5 0h0m.5 0h0m2 0h0m1.5 0h0m10 0h0m4 0h0m5.5 0h0m4 0h0m-165.5 .5h0m2 0h0m3 0h0m1 0h0m2.5 0h0m.5 0h0m1 0h0m2.5 0h0m3.5 0h0m10 0h0m7 0h0m83 0h0m3 0h0m11.5 0h0m2 0h0m13 0h0m3 0h0m2 0h0m5.5 0h0m2.5 0h0m-142.5 .5h0m1.5 0h0m6.5 0h0m2.5 0h0m.5 0h0m1 0h0m9.5 0h0m3 0h0m26.5 0h0m3 0h0m10.5 0h0m.5 0h0m34 0h0m2.5 0h0m16 0h0m6 0h0m8 0h0m1 0h0m-145.5 .5h0m.5 0h0m3.5 0h0m11 0h0m8.5 0h0m6 0h0m4.5 0h0m3.5 0h0m12.5 0h0m4.5 0h0m23.5 0h0m21.5 0h0m7 0h0m5.5 0h0m13 0h0m3 0h0m5 0h0m3.5 0h0m1.5 0h0m.5 0h0m1.5 0h0m1.5 0h0m7 0h0m2 0h0m3 0h0m-154 .5h0m2 0h0m9.5 0h0m.5 0h0m3 0h0m9 0h0m39 0h0m2.5 0h0m54 0h0m1 0h0m7.5 0h0m16 0h0m2 0h0m2 0h0m1.5 0h0m1 0h0m7.5 0h0m-159.5 .5h0m4 0h0m5.5 0h0m3.5 0h0m12 0h0m10 0h0m6 0h0m70 0h0m4.5 0h0m20 0h0m15.5 0h0m1.5 0h0m4 0h0m.5 0h0m8.5 0h0m-160 .5h0m7 0h0m1 0h0m21.5 0h0m24 0h0m6.5 0h0m36.5 0h0m26.5 0h0m24.5 0h0m9 0h0m2.5 0h0m-161.5 .5h0m2 0h0m1.5 0h0m6 0h0m10.5 0h0m1.5 0h0m30 0h0m.5 0h0m3.5 0h0m36 0h0m22.5 0h0m2.5 0h0m13 0h0m1 0h0m1.5 0h0m15.5 0h0m6 0h0m-157 .5h0m26 0h0m2.5 0h0m.5 0h0m38 0h0m10.5 0h0m29.5 0h0m4 0h0m3.5 0h0m28 0h0m.5 0h0m1.5 0h0m10.5 0h0m1 0h0m1.5 0h0m7 0h0m3 0h0m1.5 0h0m-158.5 .5h0m5.5 0h0m14 0h0m39 0h0m46 0h0m9.5 0h0m6 0h0m3.5 0h0m17.5 0h0m2 0h0m.5 0h0m1 0h0m9 0h0m-160.5 .5h0m44 0h0m91.5 0h0m10 0h0m13.5 0h0m-155 .5h0m9 0h0m3.5 0h0m2 0h0m27.5 0h0m48.5 0h0m7.5 0h0m16 0h0m4.5 0h0m30 0h0m2 0h0m3 0h0m3 0h0m5.5 0h0m-147.5 .5h0m6.5 0h0m.5 0h0m72.5 0h0m5 0h0m14 0h0m1.5 0h0m9.5 0h0m13 0h0m4.5 0h0m2.5 0h0m1.5 0h0m-144.5 .5h0m11 0h0m6 0h0m1 0h0m3.5 0h0m.5 0h0m6.5 0h0m4 0h0m66.5 0h0m30.5 0h0m4.5 0h0m8 0h0m8.5 0h0m20 0h0m-170 .5h0m12.5 0h0m6 0h0m12 0h0m72.5 0h0m19.5 0h0m10.5 0h0m3.5 0h0m2.5 0h0m8.5 0h0m1.5 0h0m7.5 0h0m-159.5 .5h0m11.5 0h0m38 0h0m19.5 0h0m49 0h0m5.5 0h0m20 0h0m1 0h0m4 0h0m14.5 0h0m-151.5 .5h0m3 0h0m14.5 0h0m16.5 0h0m41 0h0m1.5 0h0m17 0h0m3.5 0h0m26.5 0h0m25 0h0m-160.5 .5h0m7.5 0h0m2 0h0m5.5 0h0m6 0h0m9 0h0m30.5 0h0m48.5 0h0m6 0h0m7.5 0h0m17 0h0m1 0h0m9.5 0h0m2 0h0m1 0h0m4 0h0m6 0h0m-160 .5h0m17.5 0h0m2.5 0h0m5.5 0h0m7.5 0h0m40.5 0h0m6 0h0m12.5 0h0m40.5 0h0m8.5 0h0m4.5 0h0m1.5 0h0m1 0h0m27.5 0h0m-144 .5h0m3 0h0m17 0h0m31.5 0h0m30 0h0m21.5 0h0m1.5 0h0m.5 0h0m7 0h0m4 0h0m7 0h0m6.5 0h0m-50 .5h0m25 0h0m4.5 0h0m11.5 0h0m-98 .5h0m70.5 0h0m15.5 0h0m1 0h0m6 0h0m7.5 0h0m7 0h0m-166.5 .5h0m6.5 0h0m123.5 0h0m14.5 0h0m-131.5 .5h0m19 0h0m40 0h0m32.5 0h0m24 0h0m9.5 0h0m20 0h0m9.5 0h0m-155.5 .5h0m9.5 0h0m14 0h0m5.5 0h0m3 0h0m3.5 0h0m8 0h0m51 0h0m31 0h0m5.5 0h0m11 0h0m3 0h0m12.5 0h0m-169 .5h0m22 0h0m23 0h0m10 0h0m67 0h0m14 0h0m9 0h0m-143.5 .5h0m18.5 0h0m11.5 0h0m11 0h0m1.5 0h0m31.5 0h0m3.5 0h0m-71 .5h0m18 0h0m2.5 0h0m8.5 0h0m13 0h0m1.5 0h0m6 0h0m70 0h0m19 0h0m7.5 0h0m-123 .5h0m11.5 0h0m48 0h0m8.5 0h0m5.5 0h0m28 0h0m14 0h0m-139 .5h0m11 0h0m13 0h0m6.5 0h0m6.5 0h0m50 0h0m42 0h0m-105.5 .5h0m70 0h0m22 0h0m31 0h0m1 0h0m6.5 0h0m-158.5 .5h0m10.5 0h0m54.5 0h0m75.5 0h0m12.5 0h0m3.5 0h0m-156.5 .5h0m10 0h0m21 0h0m9.5 0h0m87 0h0m8 0h0m23.5 0h0m-128.5 .5h0m38.5 0h0m7.5 0h0m87.5 0h0m-155 .5h0m36 0h0m11.5 0h0m103 0h0m-153.5 .5h0m45.5 0h0m40 0h0m22 0h0m57.5 0h0m-159 .5h0m141.5 0h0m-139 .5h0m11 0h0m51 0h0m62.5 0h0m-129 .5h0m36.5 0h0m53.5 0h0m38.5 0h0m3 0h0m14 0h0m14 0h0m-132.5 .5h0m17.5 0h0m40.5 0h0m43.5 0h0m7.5 0h0m4 0h0m8 0h0m-130.5 .5h0m1 0h0m27 0h0m-36.5 1h0m34 0h0m37 0h0m73.5 0h0m-79.5 .5h0m79.5 0h0m-159 .5h0m23.5 0h0m6 0h0m-35.5 .5h0m11.5 0h0m15 0h0m6.5 0h0m45.5 0h0m34.5 0h0m-51 .5h0m-32.5 1h0m-8 .5h0m110.5 0h0m-125 1h0m132.5 .5h0m-142.5 .5h0m47 0h0m2 0h0m40.5 0h0m53.5 0h0m-106 .5h0m107 0h0m3.5 0h0m29 0h0m-162 .5h0m19.5 0h0m105 .5h0m-1.5 .5h0m-121.5 1h0m120 0h0m12 0h0m13 0h0" stroke="#a8679f" stroke-width="1.7" stroke-linecap="round" fill="none"/></g>
<polyline points="44,271.03 46.7,269.19 49.4,267.3 52.1,265.36 54.8,263.39 57.5,261.37 60.2,259.3 62.9,257.2 65.6,255.06 68.3,252.88 71,250.66 73.7,248.42 76.4,246.14 79.1,243.84 81.8,241.52 84.5,239.18 87.2,236.83 89.9,234.47 92.6,232.12 95.3,229.77 98,227.43 100.7,225.12 103.4,222.85 106.1,220.61 108.8,218.42 111.5,216.29 114.2,214.23 116.9,212.25 119.6,210.36 122.3,208.58 125,206.9 127.7,205.35 130.4,203.92 133.1,202.64 135.8,201.5 138.5,200.52 141.2,199.71 143.9,199.06 146.6,198.58 149.3,198.29 152,198.16 154.7,198.22 157.4,198.46 160.1,198.87 162.8,199.46 165.5,200.21 168.2,201.13 170.9,202.21 173.6,203.43 176.3,204.79 179,206.28 181.7,207.9 184.4,209.62 187.1,211.45 189.8,213.37 192.5,215.36 195.2,217.43 197.9,219.56 200.6,221.73 203.3,223.95 206,226.2 208.7,228.47 211.4,230.76 214.1,233.05 216.8,235.35 219.5,237.63 222.2,239.91 224.9,242.17 227.6,244.41 230.3,246.63 233,248.81 235.7,250.97 238.4,253.08 241.1,255.16 243.8,257.21 246.5,259.21 249.2,261.16 251.9,263.08 254.6,264.95 257.3,266.78 260,268.56" fill="none" stroke="#ff1a1a" stroke-width="1.6" stroke-linejoin="round"/>
<rect x="35.5" y="193.5" width="233.1" height="98.7" fill="none" stroke="#707070" stroke-width="1"/>
<path d="M44 292.2v3.6M87.2 292.2v3.6M130.4 292.2v3.6M173.6 292.2v3.6M216.8 292.2v3.6M260 292.2v3.6M31.9 273.5h3.6M31.9 248.8h3.6M31.9 224.1h3.6M31.9 199.4h3.6" stroke="#707070" stroke-width="0.9" fill="none"/>
<text x="44" y="303.93" class="tk" text-anchor="middle">0.0</text>
<text x="87.2" y="303.93" class="tk" text-anchor="middle">0.2</text>
<text x="130.4" y="303.93" class="tk" text-anchor="middle">0.4</text>
<text x="173.6" y="303.93" class="tk" text-anchor="middle">0.6</text>
<text x="216.8" y="303.93" class="tk" text-anchor="middle">0.8</text>
<text x="260" y="303.93" class="tk" text-anchor="middle">1.0</text>
<text class="tk" text-anchor="middle" transform="translate(27.93 273.5) rotate(-90)">30</text>
<text class="tk" text-anchor="middle" transform="translate(27.93 248.8) rotate(-90)">40</text>
<text class="tk" text-anchor="middle" transform="translate(27.93 224.1) rotate(-90)">50</text>
<text class="tk" text-anchor="middle" transform="translate(27.93 199.4) rotate(-90)">60</text>
<text x="36.1" y="180.5" class="ti">Lasius coloratus</text>
<text x="154.5" y="316.7" class="lb" text-anchor="middle">GC3s</text>
<text class="lb" text-anchor="middle" transform="translate(19.75 236.7) rotate(-90)">ENC</text>
<g filter="url(#bl)"><path d="M370 197.5h1m3 0h80m1 0h1M381 198.5h1m3 0h4m1 0h63M381 199.5h1m1 0h2m1 0h4m1 0h23m1 0h40m1 0h1M384 200.5h3m1 0h64m2 0h4M377 201.5h1m2 0h1m3 0h68m2 0h3m3 0h1M372 202.5h1m7 0h1m2 0h1m1 0h72m2 0h2M369 203.5h1m11 0h1m2 0h1m1 0h66m2 0h4M380 204.5h78m1 0h1m3 0h1M374 205.5h1m2 0h1m2 0h3m1 0h11m2 0h55m1 0h1m1 0h2m2 0h3M380 206.5h3m1 0h72m3 0h3M369 207.5h1m5 0h1m3 0h79m1 0h3M369 208.5h1m5 0h1m2 0h80m1 0h5M373 209.5h1m1 0h78m1 0h6m2 0h1m1 0h2m2 0h1M370 210.5h2m1 0h80m2 0h5m1 0h1m2 0h2M368 211.5h4m1 0h1m1 0h91m2 0h1M357 212.5h1m4 0h1m3 0h3m3 0h64m1 0h29m1 0h1M352 213.5h1m12 0h1m1 0h1m4 0h87m2 0h8M368 214.5h1m2 0h96m3 0h1M351 215.5h1m13 0h1m2 0h2m2 0h95m7 0h1M368 216.5h53m1 0h48M365 217.5h1m2 0h64m1 0h38M363 218.5h5m1 0h57m2 0h42m3 0h1M350 219.5h1m12 0h1m1 0h49m1 0h12m1 0h13m1 0h26m1 0h3m1 0h1M363 220.5h1m2 0h48m1 0h14m2 0h39m2 0h2M361 221.5h2m1 0h48m2 0h1m1 0h3m2 0h3m4 0h1m2 0h39m2 0h1M362 222.5h50m2 0h1m1 0h9m1 0h1m2 0h1m2 0h3m3 0h3m1 0h8m1 0h22M361 223.5h63m1 0h2m2 0h1m2 0h1m1 0h2m2 0h1m3 0h8m1 0h22M361 224.5h42m1 0h12m4 0h5m3 0h3m3 0h6m2 0h1m2 0h31M359 225.5h45m1 0h10m8 0h2m1 0h2m1 0h2m1 0h3m1 0h6m1 0h31M359 226.5h42m4 0h7m1 0h6m1 0h11m1 0h2m2 0h2m1 0h2m2 0h24m2 0h2m1 0h3m1 0h1M348 227.5h1m5 0h1m2 0h55m2 0h20m3 0h1m2 0h2m2 0h5m2 0h13m1 0h10M357 228.5h3m2 0h47m3 0h4m3 0h1m2 0h1m5 0h2m6 0h3m1 0h7m1 0h23m1 0h3m10 0h1M354 229.5h1m2 0h34m1 0h3m1 0h2m2 0h1m2 0h1m2 0h1m5 0h4m3 0h1m2 0h1m5 0h2m6 0h1m1 0h2m1 0h6m1 0h1m2 0h1m2 0h14m1 0h8m2 0h1M348 230.5h1m5 0h47m2 0h2m1 0h1m2 0h1m2 0h3m2 0h2m4 0h1m1 0h2m1 0h5m1 0h1m2 0h3m1 0h4m10 0h19m1 0h2M355 231.5h32m1 0h15m3 0h2m5 0h1m6 0h2m1 0h1m5 0h1m3 0h2m2 0h3m6 0h2m1 0h1m2 0h1m1 0h4m1 0h7m1 0h2m1 0h3m2 0h1m1 0h1M353 232.5h34m3 0h4m5 0h3m1 0h1m2 0h1m1 0h1m3 0h2m1 0h2m1 0h1m9 0h3m6 0h2m5 0h5m3 0h2m1 0h5m3 0h2m2 0h9m1 0h3M344 233.5h1m4 0h1m2 0h1m2 0h35m1 0h2m1 0h2m7 0h1m2 0h1m5 0h1m1 0h1m2 0h1m7 0h3m2 0h1m7 0h1m5 0h7m1 0h3m2 0h3m1 0h1m2 0h1m2 0h10m2 0h1m2 0h1M350 234.5h1m1 0h40m2 0h2m6 0h3m3 0h1m5 0h1m1 0h1m7 0h3m6 0h4m6 0h2m1 0h2m4 0h15m1 0h4m1 0h3m1 0h4M351 235.5h1m1 0h34m1 0h6m1 0h4m2 0h2m1 0h1m5 0h1m12 0h2m1 0h1m3 0h4m1 0h2m3 0h3m2 0h2m3 0h1m3 0h2m1 0h6m1 0h5m2 0h1m1 0h5m3 0h1m2 0h1M351 236.5h36m2 0h8m4 0h1m2 0h1m14 0h1m3 0h2m8 0h1m1 0h2m5 0h2m1 0h1m3 0h3m6 0h2m1 0h1m2 0h3m1 0h1m2 0h8m2 0h3M347 237.5h2m2 0h37m3 0h3m1 0h2m4 0h1m3 0h1m2 0h3m1 0h1m2 0h3m2 0h1m10 0h1m2 0h2m4 0h1m1 0h1m6 0h4m9 0h3m3 0h2m1 0h1m1 0h5m3 0h3m1 0h1m3 0h1M348 238.5h37m2 0h1m3 0h1m1 0h2m2 0h1m1 0h1m3 0h2m1 0h1m5 0h2m6 0h1m10 0h2m2 0h4m2 0h2m4 0h1m1 0h4m3 0h3m3 0h1m2 0h1m3 0h3m1 0h7m1 0h2m2 0h1M347 239.5h30m2 0h8m3 0h1m7 0h2m2 0h1m11 0h2m20 0h1m1 0h1m2 0h1m7 0h3m3 0h1m2 0h2m1 0h2m2 0h1m3 0h3m1 0h3m1 0h3m1 0h2m1 0h2M348 240.5h25m2 0h4m10 0h2m11 0h1m6 0h2m3 0h2m6 0h2m3 0h1m8 0h1m7 0h1m6 0h1m3 0h1m3 0h4m2 0h10m2 0h3M348 241.5h24m2 0h2m1 0h4m2 0h2m3 0h1m1 0h1m2 0h2m4 0h1m2 0h2m5 0h1m22 0h2m4 0h1m1 0h1m20 0h2m2 0h1m1 0h2m2 0h4m1 0h3m1 0h1m1 0h1m1 0h1m1 0h1M345 242.5h1m2 0h22m1 0h4m2 0h1m4 0h1m1 0h4m4 0h1m1 0h1m4 0h2m1 0h3m2 0h2m7 0h2m32 0h1m5 0h1m2 0h1m1 0h2m4 0h2m6 0h2m1 0h1m5 0h3m1 0h1m10 0h1M345 243.5h27m2 0h2m1 0h2m1 0h8m7 0h3m1 0h2m2 0h1m4 0h1m9 0h2m10 0h1m2 0h1m11 0h2m13 0h1m1 0h1m4 0h2m2 0h1m1 0h1m2 0h1m1 0h3m3 0h2M344 244.5h29m2 0h2m1 0h3m5 0h3m5 0h1m2 0h1m3 0h2m2 0h1m7 0h2m9 0h1m1 0h2m11 0h1m5 0h2m20 0h3m3 0h1m2 0h3m1 0h1m1 0h1m2 0h2m2 0h1m3 0h1M343 245.5h27m5 0h2m2 0h2m4 0h2m1 0h1m2 0h2m3 0h1m8 0h1m2 0h1m4 0h1m7 0h1m4 0h1m18 0h1m3 0h1m12 0h1m6 0h1m2 0h1m4 0h1m1 0h1m2 0h6m5 0h2M343 246.5h21m2 0h1m2 0h1m5 0h1m5 0h1m1 0h1m2 0h1m1 0h1m2 0h4m3 0h1m2 0h1m2 0h1m21 0h1m3 0h1m14 0h2m4 0h1m8 0h1m2 0h1m13 0h1m1 0h1m3 0h7m4 0h1M343 247.5h23m1 0h1m1 0h2m2 0h1m1 0h1m11 0h1m16 0h1m10 0h1m18 0h1m11 0h1m12 0h4m5 0h1m6 0h2m2 0h1m4 0h5m3 0h1m2 0h2M344 248.5h22m2 0h5m12 0h1m16 0h1m2 0h2m2 0h2m4 0h1m5 0h2m9 0h1m11 0h1m3 0h1m5 0h1m12 0h2m7 0h1m2 0h2m3 0h1m1 0h1m4 0h2m1 0h4M343 249.5h18m1 0h1m2 0h1m2 0h1m1 0h3m13 0h1m5 0h1m3 0h2m4 0h1m8 0h1m10 0h1m16 0h1m15 0h2m11 0h1m1 0h1m3 0h1m1 0h1m4 0h2m2 0h1m5 0h3M343 250.5h15m1 0h2m2 0h3m3 0h1m11 0h1m4 0h1m8 0h1m5 0h2m3 0h1m4 0h2m10 0h1m3 0h1m3 0h2m24 0h1m12 0h1m4 0h1m2 0h1m3 0h2m3 0h1m3 0h1m4 0h2M342 251.5h16m2 0h5m5 0h1m12 0h3m9 0h2m12 0h1m21 0h1m22 0h1m20 0h3m8 0h2m8 0h3M342 252.5h16m1 0h3m13 0h1m3 0h1m5 0h1m2 0h2m5 0h1m25 0h1m24 0h1m26 0h2m1 0h2m1 0h3m13 0h1m1 0h2M342 253.5h1m1 0h9m2 0h2m1 0h1m11 0h1m13 0h1m1 0h1m1 0h1m2 0h1m9 0h1m15 0h1m24 0h1m3 0h1m5 0h1m13 0h2m3 0h2m7 0h1m1 0h1m12 0h1M344 254.5h12m5 0h1m2 0h1m5 0h1m13 0h4m23 0h2m15 0h2m4 0h1m14 0h1m11 0h1m9 0h1m20 0h1m5 0h1M345 255.5h10m9 0h1m43 0h1m58 0h1m3 0h1m10 0h1m6 0h1m4 0h1m1 0h1M344 256.5h7m5 0h1m5 0h1m22 0h1m12 0h1m9 0h2m6 0h1m41 0h1m12 0h1m7 0h2m13 0h1M344 257.5h9m22 0h1m15 0h1m17 0h1m13 0h1m10 0h1m44 0h2m25 0h1M344 258.5h6m3 0h1m7 0h2m10 0h1m4 0h1m18 0h1m6 0h1m47 0h1m38 0h1m17 0h1M345 259.5h2m13 0h1m20 0h1m9 0h1m85 0h1m16 0h1M346 260.5h3m14 0h2m8 0h1m17 0h2m33 0h1m9 0h1m3 0h2m20 0h1m25 0h1m5 0h1M346 261.5h2m6 0h1m3 0h2m18 0h1m8 0h1m8 0h1m45 0h1m7 0h1m13 0h1M375 262.5h1m1 0h1m18 0h1m104 0h1M377 263.5h3m29 0h1m10 0h1m81 0h1M361 264.5h1m22 0h1m3 0h1m9 0h1m4 0h2m8 0h1m26 0h1m31 0h1m12 0h1m19 0h1M390 265.5h1m4 0h2m6 0h1m38 0h1m41 0h1m24 0h1M436 266.5h1M502 267.5h1M357 268.5h1m3 0h1m31 0h1m5 0h1m2 0h1m8 0h1m9 0h1m37 0h1m46 0h1M356 269.5h2M364 270.5h2m11 0h1m7 0h1m23 0h1m17 0h1m56 0h1m4 0h1m13 0h1M452 271.5h1m71 0h1M449 272.5h1M351 273.5h1m27 0h1m130 0h1M362 274.5h1m9 0h1m38 0h1M391 275.5h1m78 0h1M489 277.5h1M499 279.5h1M360 282.5h1M359 283.5h1m72 0h1M349 284.5h1M360 287.5h1m36 0h1" stroke="#a8679f" stroke-width="1" fill="none" shape-rendering="crispEdges"/><path d="M356 197h0m4 0h0m2 0h0m1.5 0h0m3 0h0m2 0h0m1.5 0h0m.5 0h0m2 0h0m1 0h0m.5 0h0m.5 0h0m2 0h0m1 0h0m.5 0h0m.5 0h0m.5 0h0m.5 0h0m.5 0h0m.5 0h0m.5 0h0m.5 0h0m.5 0h0m.5 0h0m.5 0h0m.5 0h0m.5 0h0m.5 0h0m.5 0h0m.5 0h0m.5 0h0m.5 0h0m.5 0h0m.5 0h0m.5 0h0m.5 0h0m.5 0h0m.5 0h0m.5 0h0m.5 0h0m.5 0h0m.5 0h0m.5 0h0m.5 0h0m.5 0h0m.5 0h0m.5 0h0m.5 0h0m.5 0h0m.5 0h0m.5 0h0m.5 0h0m.5 0h0m.5 0h0m.5 0h0m.5 0h0m.5 0h0m.5 0h0m.5 0h0m.5 0h0m.5 0h0m.5 0h0m.5 0h0m.5 0h0m.5 0h0m.5 0h0m.5 0h0m.5 0h0m.5 0h0m.5 0h0m.5 0h0m.5 0h0m.5 0h0m.5 0h0m.5 0h0m.5 0h0m.5 0h0m.5 0h0m.5 0h0m.5 0h0m.5 0h0m.5 0h0m.5 0h0m.5 0h0m.5 0h0m.5 0h0m.5 0h0m.5 0h0m.5 0h0m.5 0h0m.5 0h0m.5 0h0m.5 0h0m.5 0h0m.5 0h0m.5 0h0m.5 0h0m.5 0h0m.5 0h0m.5 0h0m.5 0h0m.5 0h0m.5 0h0m.5 0h0m.5 0h0m.5 0h0m.5 0h0m.5 0h0m.5 0h0m.5 0h0m.5 0h0m.5 0h0m.5 0h0m.5 0h0m.5 0h0m.5 0h0m.5 0h0m.5 0h0m.5 0h0m.5 0h0m.5 0h0m.5 0h0m.5 0h0m.5 0h0m.5 0h0m.5 0h0m.5 0h0m.5 0h0m.5 0h0m.5 0h0m.5 0h0m.5 0h0m.5 0h0m.5 0h0m.5 0h0m.5 0h0m.5 0h0m.5 0h0m.5 0h0m.5 0h0m.5 0h0m.5 0h0m.5 0h0m.5 0h0m.5 0h0m.5 0h0m.5 0h0m.5 0h0m.5 0h0m.5 0h0m.5 0h0m.5 0h0m.5 0h0m.5 0h0m.5 0h0m.5 0h0m.5 0h0m.5 0h0m.5 0h0m.5 0h0m.5 0h0m.5 0h0m.5 0h0m.5 0h0m1 0h0m.5 0h0m1.5 0h0m-74.5 .5h0m3.5 0h0m.5 0h0m2.5 0h0m7 0h0m3 0h0m.5 0h0m1.5 0h0m1 0h0m1 0h0m1 0h0m1.5 0h0m.5 0h0m.5 0h0m3 0h0m.5 0h0m.5 0h0m1.5 0h0m1.5 0h0m1 0h0m2 0h0m.5 0h0m4 0h0m.5 0h0m.5 0h0m.5 0h0m.5 0h0m2 0h0m1 0h0m1 0h0m.5 0h0m1 0h0m.5 0h0m1.5 0h0m3 0h0m1 0h0m1 0h0m2.5 0h0m.5 0h0m.5 0h0m.5 0h0m1.5 0h0m.5 0h0m.5 0h0m1 0h0m.5 0h0m2 0h0m6 0h0m2 0h0m-77 .5h0m10.5 0h0m4 0h0m2 0h0m1 0h0m.5 0h0m2.5 0h0m1 0h0m.5 0h0m1.5 0h0m1 0h0m1.5 0h0m1.5 0h0m8.5 0h0m2.5 0h0m.5 0h0m.5 0h0m.5 0h0m.5 0h0m2 0h0m5.5 0h0m2.5 0h0m2 0h0m.5 0h0m1 0h0m.5 0h0m3 0h0m1 0h0m1.5 0h0m1.5 0h0m2.5 0h0m3 0h0m2.5 0h0m.5 0h0m.5 0h0m.5 0h0m1 0h0m5.5 0h0m-71 .5h0m9 0h0m.5 0h0m24 0h0m40 0h0m3 0h0m-73.5 .5h0m3 0h0m.5 0h0m.5 0h0m25.5 0h0m1 0h0m.5 0h0m37.5 0h0m-71.5 .5h0m2 0h0m1.5 0h0m1 0h0m.5 0h0m4.5 0h0m24.5 0h0m41 0h0m-73 .5h0m5 0h0m.5 0h0m1.5 0h0m61.5 0h0m2 0h0m1 0h0m.5 0h0m-79.5 .5h0m3.5 0h0m4.5 0h0m1 0h0m3.5 0h0m1.5 0h0m.5 0h0m64 0h0m-92 .5h0m9 0h0m9 0h0m4.5 0h0m2 0h0m1.5 0h0m2 0h0m24 0h0m.5 0h0m40 0h0m2.5 0h0m3.5 0h0m-93 .5h0m8.5 0h0m3.5 0h0m4 0h0m3.5 0h0m64.5 0h0m4 0h0m4.5 0h0m-82.5 .5h0m5 0h0m.5 0h0m.5 0h0m67.5 0h0m1 0h0m2.5 0h0m8 0h0m-103 .5h0m12.5 0h0m3 0h0m5.5 0h0m2.5 0h0m2 0h0m66.5 0h0m1.5 0h0m3.5 0h0m2.5 0h0m1.5 0h0m-91.5 .5h0m15.5 0h0m69.5 0h0m4.5 0h0m2.5 0h0m1 0h0m-81 .5h0m3 0h0m2.5 0h0m64 0h0m.5 0h0m2.5 0h0m.5 0h0m3 0h0m-89 .5h0m10 0h0m4 0h0m4 0h0m66 0h0m1 0h0m1 0h0m.5 0h0m2 0h0m-79.5 .5h0m3 0h0m1.5 0h0m.5 0h0m.5 0h0m1 0h0m1.5 0h0m.5 0h0m9 0h0m.5 0h0m.5 0h0m57.5 0h0m4 0h0m2 0h0m.5 0h0m3.5 0h0m-97.5 .5h0m5.5 0h0m3 0h0m6 0h0m5 0h0m11.5 0h0m62 0h0m-84.5 .5h0m2.5 0h0m7.5 0h0m12.5 0h0m.5 0h0m53.5 0h0m.5 0h0m4 0h0m.5 0h0m3.5 0h0m1.5 0h0m.5 0h0m-89.5 .5h0m2.5 0h0m.5 0h0m5 0h0m.5 0h0m4.5 0h0m10.5 0h0m1.5 0h0m1 0h0m53 0h0m.5 0h0m.5 0h0m2.5 0h0m.5 0h0m1 0h0m1.5 0h0m3 0h0m3.5 0h0m2.5 0h0m-82 .5h0m68.5 0h0m2 0h0m.5 0h0m-93 .5h0m7 0h0m.5 0h0m9.5 0h0m1.5 0h0m1 0h0m1 0h0m1.5 0h0m11 0h0m.5 0h0m.5 0h0m55.5 0h0m5 0h0m2.5 0h0m2 0h0m3 0h0m6.5 0h0m-99 .5h0m3.5 0h0m7.5 0h0m1 0h0m73.5 0h0m1.5 0h0m.5 0h0m1.5 0h0m.5 0h0m-92.5 .5h0m5 0h0m1.5 0h0m2.5 0h0m1.5 0h0m.5 0h0m73.5 0h0m3.5 0h0m4 0h0m-92 .5h0m6.5 0h0m3 0h0m74.5 0h0m.5 0h0m3.5 0h0m2 0h0m.5 0h0m.5 0h0m.5 0h0m2 0h0m4.5 0h0m-94 .5h0m.5 0h0m2.5 0h0m1 0h0m1 0h0m74.5 0h0m2 0h0m4.5 0h0m.5 0h0m2.5 0h0m.5 0h0m1 0h0m.5 0h0m4 0h0m-108 .5h0m15.5 0h0m1 0h0m76 0h0m.5 0h0m1.5 0h0m.5 0h0m7 0h0m3 0h0m.5 0h0m2.5 0h0m-98 .5h0m3 0h0m1 0h0m1.5 0h0m1.5 0h0m81 0h0m-86.5 .5h0m80.5 0h0m.5 0h0m2 0h0m.5 0h0m.5 0h0m4 0h0m1.5 0h0m.5 0h0m4 0h0m-97 .5h0m4.5 0h0m2.5 0h0m77.5 0h0m.5 0h0m1.5 0h0m4.5 0h0m1 0h0m3 0h0m.5 0h0m.5 0h0m.5 0h0m1 0h0m2 0h0m-99.5 .5h0m.5 0h0m1 0h0m1.5 0h0m82 0h0m1 0h0m9.5 0h0m-106.5 .5h0m8.5 0h0m2.5 0h0m4.5 0h0m.5 0h0m62 0h0m1.5 0h0m22 0h0m.5 0h0m1.5 0h0m1 0h0m.5 0h0m3 0h0m-103 .5h0m4 0h0m2 0h0m4 0h0m2.5 0h0m60.5 0h0m2.5 0h0m29 0h0m.5 0h0m-30 .5h0m-85 .5h0m13 0h0m2.5 0h0m4 0h0m.5 0h0m63.5 0h0m25 0h0m5.5 0h0m1 0h0m1 0h0m-103.5 .5h0m5.5 0h0m1.5 0h0m.5 0h0m.5 0h0m64 0h0m21 0h0m.5 0h0m1.5 0h0m2 0h0m4 0h0m9 0h0m-118 .5h0m14.5 0h0m88 0h0m.5 0h0m1 0h0m5 0h0m.5 0h0m3.5 0h0m-118.5 .5h0m17 0h0m.5 0h0m2.5 0h0m.5 0h0m49 0h0m38.5 0h0m7 0h0m-101.5 .5h0m3.5 0h0m1 0h0m52 0h0m.5 0h0m44 0h0m2 0h0m6.5 0h0m-107 .5h0m3 0h0m52 0h0m44 0h0m1 0h0m.5 0h0m1 0h0m-107 .5h0m58 0h0m13 0h0m37 0h0m-104 .5h0m2.5 0h0m52 0h0m1 0h0m.5 0h0m5 0h0m6 0h0m34.5 0h0m-99.5 .5h0m58 0h0m1.5 0h0m6.5 0h0m36.5 0h0m.5 0h0m-108 .5h0m.5 0h0m.5 0h0m2 0h0m1 0h0m1 0h0m1.5 0h0m45 0h0m.5 0h0m17 0h0m1 0h0m1 0h0m34.5 0h0m4.5 0h0m-117 .5h0m8.5 0h0m3 0h0m2.5 0h0m55.5 0h0m3 0h0m13 0h0m28 0h0m-104 .5h0m1 0h0m1 0h0m2 0h0m43.5 0h0m2.5 0h0m10 0h0m7 0h0m9.5 0h0m1 0h0m26.5 0h0m.5 0h0m3.5 0h0m.5 0h0m-123.5 .5h0m12.5 0h0m5 0h0m45 0h0m2 0h0m11 0h0m3 0h0m.5 0h0m10.5 0h0m2.5 0h0m27 0h0m2 0h0m.5 0h0m1 0h0m6.5 0h0m-116.5 .5h0m.5 0h0m2.5 0h0m49 0h0m5 0h0m1 0h0m5.5 0h0m1 0h0m3 0h0m9.5 0h0m29 0h0m-110 .5h0m8 0h0m46 0h0m.5 0h0m2 0h0m9 0h0m1 0h0m2 0h0m1 0h0m3.5 0h0m37 0h0m5 0h0m1.5 0h0m-114.5 .5h0m4.5 0h0m46 0h0m3 0h0m.5 0h0m3.5 0h0m.5 0h0m1.5 0h0m3 0h0m.5 0h0m2 0h0m2 0h0m9 0h0m4.5 0h0m.5 0h0m27 0h0m3.5 0h0m.5 0h0m-111 .5h0m.5 0h0m2 0h0m.5 0h0m46.5 0h0m20 0h0m3.5 0h0m.5 0h0m1.5 0h0m.5 0h0m4.5 0h0m8 0h0m19 0h0m.5 0h0m2.5 0h0m.5 0h0m-110 .5h0m1.5 0h0m.5 0h0m47.5 0h0m2 0h0m.5 0h0m2 0h0m1.5 0h0m3.5 0h0m2 0h0m2.5 0h0m2.5 0h0m8.5 0h0m1 0h0m1 0h0m.5 0h0m10 0h0m.5 0h0m1 0h0m-90.5 .5h0m51.5 0h0m2.5 0h0m5 0h0m1.5 0h0m3.5 0h0m1.5 0h0m2.5 0h0m1 0h0m4.5 0h0m.5 0h0m4.5 0h0m10 0h0m.5 0h0m2.5 0h0m19 0h0m1.5 0h0m-112 .5h0m1.5 0h0m.5 0h0m41.5 0h0m8.5 0h0m1.5 0h0m1 0h0m1 0h0m2 0h0m2 0h0m5.5 0h0m4 0h0m.5 0h0m2 0h0m3 0h0m5 0h0m.5 0h0m1.5 0h0m2 0h0m.5 0h0m7.5 0h0m18.5 0h0m2 0h0m4.5 0h0m-118.5 .5h0m3 0h0m51 0h0m1 0h0m1.5 0h0m1.5 0h0m.5 0h0m2 0h0m1 0h0m5.5 0h0m.5 0h0m3 0h0m3.5 0h0m2.5 0h0m1 0h0m2.5 0h0m4 0h0m9 0h0m21 0h0m.5 0h0m-111 .5h0m42.5 0h0m11 0h0m4.5 0h0m1.5 0h0m.5 0h0m6 0h0m4.5 0h0m1.5 0h0m2.5 0h0m.5 0h0m5.5 0h0m2 0h0m6 0h0m22.5 0h0m-117.5 .5h0m6 0h0m43.5 0h0m17 0h0m.5 0h0m1.5 0h0m6.5 0h0m5 0h0m4.5 0h0m5 0h0m29 0h0m1 0h0m1.5 0h0m-115.5 .5h0m.5 0h0m40.5 0h0m.5 0h0m18.5 0h0m1 0h0m2.5 0h0m2.5 0h0m2 0h0m5.5 0h0m2.5 0h0m.5 0h0m1.5 0h0m.5 0h0m2.5 0h0m.5 0h0m.5 0h0m8 0h0m22.5 0h0m-114 .5h0m42 0h0m.5 0h0m1 0h0m9 0h0m2.5 0h0m.5 0h0m9.5 0h0m1.5 0h0m1 0h0m5.5 0h0m2 0h0m6 0h0m3 0h0m.5 0h0m.5 0h0m24 0h0m3 0h0m.5 0h0m1.5 0h0m-113.5 .5h0m.5 0h0m51.5 0h0m5 0h0m.5 0h0m7.5 0h0m2.5 0h0m3 0h0m2 0h0m1 0h0m3 0h0m1 0h0m1.5 0h0m10.5 0h0m15.5 0h0m4.5 0h0m.5 0h0m2.5 0h0m4 0h0m-117 .5h0m.5 0h0m40.5 0h0m1.5 0h0m3.5 0h0m6 0h0m2 0h0m2.5 0h0m2 0h0m4 0h0m3.5 0h0m3.5 0h0m7.5 0h0m4 0h0m2.5 0h0m6.5 0h0m1.5 0h0m13.5 0h0m4 0h0m.5 0h0m-112 .5h0m1.5 0h0m2.5 0h0m41 0h0m3 0h0m.5 0h0m9.5 0h0m2 0h0m1.5 0h0m1 0h0m1 0h0m1 0h0m8.5 0h0m2 0h0m3 0h0m2 0h0m3.5 0h0m3 0h0m5 0h0m3 0h0m15 0h0m2.5 0h0m.5 0h0m2 0h0m3.5 0h0m-126.5 .5h0m6 0h0m2.5 0h0m1.5 0h0m2 0h0m.5 0h0m1 0h0m40 0h0m.5 0h0m.5 0h0m.5 0h0m1.5 0h0m5 0h0m1.5 0h0m4.5 0h0m2.5 0h0m2 0h0m3 0h0m.5 0h0m1.5 0h0m.5 0h0m2 0h0m2 0h0m1 0h0m1.5 0h0m1 0h0m6.5 0h0m1 0h0m3 0h0m3 0h0m.5 0h0m18 0h0m2 0h0m.5 0h0m3 0h0m-113.5 .5h0m3 0h0m2 0h0m29.5 0h0m6.5 0h0m2.5 0h0m1 0h0m2 0h0m4 0h0m1 0h0m1 0h0m1 0h0m6 0h0m2.5 0h0m1 0h0m6.5 0h0m4 0h0m6.5 0h0m1 0h0m1.5 0h0m2 0h0m4.5 0h0m1.5 0h0m1 0h0m1.5 0h0m2 0h0m11 0h0m1 0h0m3 0h0m1 0h0m2 0h0m-113 .5h0m5.5 0h0m32 0h0m3.5 0h0m1 0h0m.5 0h0m1.5 0h0m5.5 0h0m6.5 0h0m.5 0h0m2 0h0m6.5 0h0m6.5 0h0m1 0h0m6 0h0m3.5 0h0m3 0h0m4 0h0m3 0h0m.5 0h0m3 0h0m11.5 0h0m.5 0h0m7.5 0h0m4 0h0m.5 0h0m8.5 0h0m.5 0h0m-129 .5h0m5.5 0h0m28 0h0m10 0h0m1 0h0m2.5 0h0m2 0h0m2 0h0m4.5 0h0m16.5 0h0m.5 0h0m4 0h0m8.5 0h0m7 0h0m1.5 0h0m2 0h0m2 0h0m16 0h0m1.5 0h0m1 0h0m2 0h0m.5 0h0m.5 0h0m4 0h0m1 0h0m3.5 0h0m-131.5 .5h0m1.5 0h0m3.5 0h0m3 0h0m.5 0h0m.5 0h0m28.5 0h0m2 0h0m4 0h0m7 0h0m.5 0h0m2 0h0m7 0h0m2.5 0h0m.5 0h0m3 0h0m4 0h0m11 0h0m2 0h0m2 0h0m1.5 0h0m6.5 0h0m5 0h0m3.5 0h0m12.5 0h0m2.5 0h0m2 0h0m4.5 0h0m3 0h0m-122.5 .5h0m4 0h0m26.5 0h0m.5 0h0m3 0h0m.5 0h0m1 0h0m2.5 0h0m3.5 0h0m1.5 0h0m1.5 0h0m9 0h0m2 0h0m5 0h0m2 0h0m6.5 0h0m1 0h0m2 0h0m1.5 0h0m2 0h0m3 0h0m2.5 0h0m4 0h0m.5 0h0m.5 0h0m6.5 0h0m17.5 0h0m1.5 0h0m2 0h0m3 0h0m6.5 0h0m.5 0h0m-131.5 .5h0m6 0h0m1 0h0m.5 0h0m31.5 0h0m7.5 0h0m.5 0h0m3 0h0m2.5 0h0m2 0h0m3.5 0h0m6 0h0m5.5 0h0m5 0h0m2 0h0m4 0h0m1 0h0m.5 0h0m.5 0h0m1 0h0m3 0h0m4.5 0h0m2 0h0m1 0h0m10.5 0h0m5 0h0m10.5 0h0m1 0h0m6 0h0m.5 0h0m-121 .5h0m.5 0h0m.5 0h0m31 0h0m1 0h0m.5 0h0m3 0h0m5.5 0h0m1.5 0h0m1 0h0m1.5 0h0m3.5 0h0m2.5 0h0m2.5 0h0m4 0h0m.5 0h0m18.5 0h0m4.5 0h0m.5 0h0m2 0h0m2 0h0m1 0h0m1 0h0m2.5 0h0m6 0h0m8.5 0h0m1 0h0m5.5 0h0m.5 0h0m1 0h0m4 0h0m4.5 0h0m.5 0h0m3.5 0h0m-92 .5h0m.5 0h0m5 0h0m1 0h0m.5 0h0m5 0h0m1 0h0m.5 0h0m4.5 0h0m10.5 0h0m3.5 0h0m.5 0h0m7.5 0h0m.5 0h0m3.5 0h0m4 0h0m9 0h0m1.5 0h0m.5 0h0m1.5 0h0m5 0h0m2.5 0h0m.5 0h0m.5 0h0m4 0h0m3 0h0m2 0h0m1.5 0h0m2 0h0m2.5 0h0m1.5 0h0m.5 0h0m-121.5 .5h0m1.5 0h0m.5 0h0m.5 0h0m31 0h0m7 0h0m.5 0h0m12 0h0m4 0h0m2.5 0h0m5.5 0h0m2 0h0m.5 0h0m2.5 0h0m5.5 0h0m1 0h0m4.5 0h0m3 0h0m9 0h0m11 0h0m5.5 0h0m1 0h0m2.5 0h0m.5 0h0m2 0h0m6 0h0m.5 0h0m-89.5 .5h0m4 0h0m3.5 0h0m2.5 0h0m3 0h0m1.5 0h0m.5 0h0m2 0h0m.5 0h0m5 0h0m4 0h0m3 0h0m.5 0h0m10.5 0h0m1.5 0h0m1.5 0h0m1 0h0m7 0h0m.5 0h0m.5 0h0m6 0h0m.5 0h0m3.5 0h0m4 0h0m.5 0h0m.5 0h0m2.5 0h0m2.5 0h0m.5 0h0m4 0h0m10.5 0h0m1 0h0m2.5 0h0m.5 0h0m1 0h0m1 0h0m2.5 0h0m3 0h0m-141 .5h0m2 0h0m3.5 0h0m3.5 0h0m34.5 0h0m.5 0h0m1.5 0h0m3 0h0m11 0h0m2.5 0h0m8.5 0h0m4.5 0h0m6 0h0m2.5 0h0m10 0h0m7.5 0h0m.5 0h0m3 0h0m2 0h0m1 0h0m.5 0h0m5 0h0m1.5 0h0m.5 0h0m5.5 0h0m4.5 0h0m3.5 0h0m.5 0h0m1 0h0m.5 0h0m1.5 0h0m7 0h0m-128 .5h0m32.5 0h0m15.5 0h0m3.5 0h0m3.5 0h0m1.5 0h0m3 0h0m2.5 0h0m10 0h0m.5 0h0m.5 0h0m2 0h0m2.5 0h0m6 0h0m10 0h0m4.5 0h0m1.5 0h0m4.5 0h0m6 0h0m2 0h0m11.5 0h0m4 0h0m12.5 0h0m-146 .5h0m3.5 0h0m2.5 0h0m.5 0h0m33 0h0m6.5 0h0m10.5 0h0m3 0h0m4 0h0m5.5 0h0m6 0h0m2 0h0m1 0h0m8.5 0h0m1 0h0m6.5 0h0m.5 0h0m.5 0h0m8 0h0m.5 0h0m5 0h0m3 0h0m.5 0h0m.5 0h0m1 0h0m2 0h0m6 0h0m1 0h0m1 0h0m4.5 0h0m2 0h0m.5 0h0m.5 0h0m-130 .5h0m2 0h0m1 0h0m.5 0h0m.5 0h0m1 0h0m32 0h0m.5 0h0m3.5 0h0m1 0h0m2.5 0h0m1.5 0h0m6.5 0h0m1.5 0h0m2.5 0h0m10 0h0m7.5 0h0m1 0h0m1.5 0h0m7.5 0h0m3 0h0m7 0h0m2.5 0h0m1.5 0h0m4.5 0h0m2.5 0h0m1 0h0m6 0h0m2 0h0m1 0h0m.5 0h0m1 0h0m2 0h0m.5 0h0m1.5 0h0m5 0h0m4 0h0m-128.5 .5h0m36.5 0h0m4.5 0h0m4 0h0m1 0h0m1 0h0m.5 0h0m.5 0h0m2 0h0m3 0h0m10 0h0m2 0h0m.5 0h0m13.5 0h0m1.5 0h0m1 0h0m.5 0h0m2.5 0h0m6 0h0m1 0h0m8.5 0h0m4.5 0h0m2 0h0m3 0h0m1.5 0h0m1 0h0m4 0h0m.5 0h0m.5 0h0m1 0h0m4 0h0m.5 0h0m4 0h0m4 0h0m.5 0h0m-131 .5h0m.5 0h0m1.5 0h0m35.5 0h0m5 0h0m1 0h0m1 0h0m.5 0h0m.5 0h0m.5 0h0m5.5 0h0m6 0h0m2 0h0m.5 0h0m9 0h0m3.5 0h0m9 0h0m1 0h0m2 0h0m5 0h0m1 0h0m1 0h0m2.5 0h0m1.5 0h0m3 0h0m.5 0h0m4 0h0m8.5 0h0m.5 0h0m4.5 0h0m5 0h0m1 0h0m2.5 0h0m8 0h0m-131 .5h0m.5 0h0m32.5 0h0m1 0h0m7.5 0h0m2 0h0m3.5 0h0m5 0h0m4 0h0m1.5 0h0m12.5 0h0m1.5 0h0m2 0h0m3 0h0m.5 0h0m6 0h0m1 0h0m8.5 0h0m.5 0h0m9 0h0m6 0h0m4.5 0h0m3.5 0h0m2 0h0m.5 0h0m5.5 0h0m1 0h0m.5 0h0m2.5 0h0m1.5 0h0m8.5 0h0m-139.5 .5h0m.5 0h0m1 0h0m36.5 0h0m1 0h0m5.5 0h0m5.5 0h0m3.5 0h0m14 0h0m4 0h0m.5 0h0m9.5 0h0m6.5 0h0m3.5 0h0m.5 0h0m7.5 0h0m7 0h0m2 0h0m4.5 0h0m2 0h0m2 0h0m2.5 0h0m1 0h0m.5 0h0m8 0h0m3 0h0m-132 .5h0m.5 0h0m33.5 0h0m1 0h0m1.5 0h0m2 0h0m3 0h0m9 0h0m7 0h0m1.5 0h0m5.5 0h0m1 0h0m3 0h0m8.5 0h0m3 0h0m3 0h0m1 0h0m14 0h0m2 0h0m1 0h0m6.5 0h0m5 0h0m.5 0h0m.5 0h0m1 0h0m2 0h0m.5 0h0m.5 0h0m2 0h0m.5 0h0m2 0h0m4 0h0m4.5 0h0m3 0h0m8 0h0m-145.5 .5h0m3.5 0h0m36 0h0m8.5 0h0m1 0h0m8.5 0h0m.5 0h0m2.5 0h0m2 0h0m2.5 0h0m3 0h0m1.5 0h0m23.5 0h0m2 0h0m6 0h0m13.5 0h0m1.5 0h0m1 0h0m4 0h0m.5 0h0m1.5 0h0m1.5 0h0m5 0h0m1 0h0m2 0h0m6 0h0m3.5 0h0m.5 0h0m-141.5 .5h0m43 0h0m5.5 0h0m.5 0h0m2 0h0m1 0h0m.5 0h0m.5 0h0m2 0h0m7 0h0m.5 0h0m2.5 0h0m4 0h0m3.5 0h0m4.5 0h0m.5 0h0m6.5 0h0m2.5 0h0m.5 0h0m6.5 0h0m3 0h0m2.5 0h0m1 0h0m1.5 0h0m10 0h0m2.5 0h0m7 0h0m1 0h0m.5 0h0m5 0h0m2.5 0h0m3 0h0m1.5 0h0m-134 .5h0m1 0h0m.5 0h0m26.5 0h0m10 0h0m1.5 0h0m.5 0h0m4.5 0h0m1.5 0h0m2.5 0h0m7.5 0h0m1.5 0h0m4.5 0h0m1.5 0h0m3 0h0m15.5 0h0m1 0h0m3.5 0h0m1 0h0m1 0h0m1 0h0m3.5 0h0m14 0h0m1 0h0m1.5 0h0m7.5 0h0m3.5 0h0m1 0h0m1 0h0m1.5 0h0m.5 0h0m3.5 0h0m1.5 0h0m1 0h0m2 0h0m1 0h0m2.5 0h0m-137.5 .5h0m3 0h0m22.5 0h0m1 0h0m.5 0h0m2 0h0m8 0h0m1 0h0m.5 0h0m4.5 0h0m.5 0h0m2 0h0m6.5 0h0m14 0h0m.5 0h0m5.5 0h0m18.5 0h0m3 0h0m5.5 0h0m9.5 0h0m2.5 0h0m1.5 0h0m1.5 0h0m14 0h0m1.5 0h0m2.5 0h0m3 0h0m2 0h0m.5 0h0m.5 0h0m8.5 0h0m-120.5 .5h0m.5 0h0m4.5 0h0m.5 0h0m2 0h0m1.5 0h0m3 0h0m13 0h0m1 0h0m3 0h0m6 0h0m6.5 0h0m11 0h0m16 0h0m1.5 0h0m6 0h0m3.5 0h0m9 0h0m10 0h0m3.5 0h0m2.5 0h0m3.5 0h0m3 0h0m.5 0h0m-140.5 .5h0m3 0h0m28.5 0h0m.5 0h0m2 0h0m5 0h0m3 0h0m2.5 0h0m1.5 0h0m3.5 0h0m12 0h0m8.5 0h0m8 0h0m13.5 0h0m9 0h0m6 0h0m4 0h0m4 0h0m1.5 0h0m2 0h0m2 0h0m1.5 0h0m3 0h0m.5 0h0m3.5 0h0m1.5 0h0m3 0h0m4.5 0h0m-133.5 .5h0m24 0h0m5 0h0m.5 0h0m15.5 0h0m3.5 0h0m5 0h0m.5 0h0m6.5 0h0m1.5 0h0m13.5 0h0m3.5 0h0m6 0h0m3 0h0m7.5 0h0m7.5 0h0m3.5 0h0m7.5 0h0m5.5 0h0m11 0h0m.5 0h0m5.5 0h0m-136 .5h0m26 0h0m1 0h0m3.5 0h0m4.5 0h0m.5 0h0m9 0h0m3 0h0m7 0h0m11 0h0m1 0h0m2.5 0h0m13.5 0h0m2 0h0m5.5 0h0m21 0h0m5.5 0h0m1.5 0h0m1 0h0m3 0h0m1.5 0h0m.5 0h0m3.5 0h0m.5 0h0m.5 0h0m2.5 0h0m6.5 0h0m-138.5 .5h0m.5 0h0m22 0h0m1 0h0m2.5 0h0m1 0h0m2 0h0m1 0h0m2.5 0h0m3 0h0m5 0h0m1.5 0h0m4.5 0h0m5 0h0m3 0h0m7.5 0h0m2 0h0m20 0h0m6.5 0h0m1.5 0h0m1 0h0m6.5 0h0m12 0h0m2 0h0m1 0h0m2.5 0h0m3 0h0m3.5 0h0m1 0h0m2 0h0m3.5 0h0m2 0h0m2.5 0h0m2 0h0m-139 .5h0m.5 0h0m2.5 0h0m22 0h0m.5 0h0m.5 0h0m1.5 0h0m4.5 0h0m4.5 0h0m2 0h0m2 0h0m1 0h0m1 0h0m3.5 0h0m1 0h0m8.5 0h0m2.5 0h0m.5 0h0m3.5 0h0m9 0h0m1 0h0m27 0h0m6 0h0m8.5 0h0m3 0h0m3 0h0m10.5 0h0m1.5 0h0m1 0h0m6 0h0m.5 0h0m1 0h0m2 0h0m1 0h0m-140.5 .5h0m.5 0h0m22.5 0h0m.5 0h0m2 0h0m1 0h0m3 0h0m2 0h0m5 0h0m1 0h0m1.5 0h0m.5 0h0m7.5 0h0m3.5 0h0m1 0h0m3 0h0m6 0h0m5.5 0h0m3 0h0m17.5 0h0m8 0h0m14 0h0m4.5 0h0m.5 0h0m.5 0h0m7 0h0m6.5 0h0m3 0h0m7.5 0h0m2.5 0h0m7.5 0h0m3.5 0h0m-155 .5h0m3 0h0m.5 0h0m1 0h0m25 0h0m.5 0h0m.5 0h0m3.5 0h0m13.5 0h0m5 0h0m.5 0h0m3 0h0m3 0h0m14 0h0m1 0h0m1.5 0h0m5.5 0h0m5 0h0m7 0h0m2.5 0h0m5.5 0h0m4 0h0m4 0h0m3.5 0h0m2 0h0m8 0h0m.5 0h0m8.5 0h0m2.5 0h0m.5 0h0m1.5 0h0m.5 0h0m4 0h0m-140 .5h0m1 0h0m1 0h0m.5 0h0m.5 0h0m23 0h0m2.5 0h0m1.5 0h0m5.5 0h0m1 0h0m1.5 0h0m1 0h0m.5 0h0m1.5 0h0m1 0h0m8 0h0m1 0h0m3 0h0m1 0h0m8.5 0h0m2 0h0m7.5 0h0m13 0h0m2.5 0h0m12 0h0m.5 0h0m9.5 0h0m5 0h0m5.5 0h0m2 0h0m3.5 0h0m2 0h0m3.5 0h0m1.5 0h0m.5 0h0m5.5 0h0m1 0h0m-141 .5h0m2 0h0m23.5 0h0m1 0h0m.5 0h0m.5 0h0m3 0h0m2 0h0m1 0h0m4 0h0m1.5 0h0m4 0h0m3 0h0m4 0h0m2.5 0h0m.5 0h0m4 0h0m.5 0h0m1 0h0m.5 0h0m8 0h0m3.5 0h0m4 0h0m1 0h0m31.5 0h0m11 0h0m8.5 0h0m5.5 0h0m1 0h0m.5 0h0m8.5 0h0m3 0h0m3.5 0h0m-148.5 .5h0m27 0h0m4 0h0m4 0h0m9 0h0m13.5 0h0m3 0h0m8.5 0h0m.5 0h0m7.5 0h0m3 0h0m1.5 0h0m1 0h0m12 0h0m6 0h0m2 0h0m14 0h0m6.5 0h0m.5 0h0m1.5 0h0m3 0h0m.5 0h0m1 0h0m3.5 0h0m3 0h0m2 0h0m4.5 0h0m-143 .5h0m23.5 0h0m2 0h0m3 0h0m3 0h0m1 0h0m4 0h0m5 0h0m1.5 0h0m4.5 0h0m1 0h0m1.5 0h0m2 0h0m1 0h0m5 0h0m6.5 0h0m7.5 0h0m23.5 0h0m6.5 0h0m3.5 0h0m26.5 0h0m1.5 0h0m1.5 0h0m4.5 0h0m4 0h0m6 0h0m3 0h0m1.5 0h0m-129 .5h0m7 0h0m3.5 0h0m6 0h0m.5 0h0m2 0h0m16 0h0m2 0h0m2.5 0h0m4.5 0h0m8.5 0h0m5 0h0m11 0h0m3.5 0h0m21.5 0h0m7 0h0m2.5 0h0m7.5 0h0m2.5 0h0m3 0h0m3 0h0m6.5 0h0m-151.5 .5h0m20.5 0h0m5.5 0h0m1 0h0m9 0h0m4.5 0h0m5 0h0m.5 0h0m1 0h0m2.5 0h0m12 0h0m1.5 0h0m14.5 0h0m6 0h0m19 0h0m6 0h0m2 0h0m16 0h0m7.5 0h0m3 0h0m9.5 0h0m-126.5 .5h0m3.5 0h0m.5 0h0m6 0h0m2.5 0h0m6 0h0m5 0h0m2 0h0m5 0h0m1 0h0m2.5 0h0m1.5 0h0m.5 0h0m2.5 0h0m9.5 0h0m19.5 0h0m1 0h0m3 0h0m7.5 0h0m5 0h0m2 0h0m9.5 0h0m2 0h0m3 0h0m8 0h0m5.5 0h0m6.5 0h0m5 0h0m4 0h0m2 0h0m2 0h0m-133 .5h0m1.5 0h0m4.5 0h0m5.5 0h0m.5 0h0m1.5 0h0m2 0h0m4.5 0h0m3 0h0m.5 0h0m1 0h0m3.5 0h0m2 0h0m5.5 0h0m5 0h0m21.5 0h0m8.5 0h0m4 0h0m19 0h0m2 0h0m1 0h0m2 0h0m3 0h0m14.5 0h0m5 0h0m.5 0h0m9.5 0h0m-151 .5h0m20.5 0h0m1 0h0m2.5 0h0m3.5 0h0m2.5 0h0m16.5 0h0m17 0h0m8 0h0m19.5 0h0m26.5 0h0m7.5 0h0m.5 0h0m7 0h0m10 0h0m1.5 0h0m.5 0h0m4.5 0h0m3.5 0h0m-134 .5h0m3 0h0m.5 0h0m2.5 0h0m4.5 0h0m4 0h0m4 0h0m7.5 0h0m14.5 0h0m22 0h0m21.5 0h0m1 0h0m7 0h0m.5 0h0m3 0h0m9.5 0h0m2 0h0m6 0h0m4.5 0h0m1 0h0m6.5 0h0m1.5 0h0m3.5 0h0m3.5 0h0m-151 .5h0m17 0h0m3 0h0m.5 0h0m4 0h0m1 0h0m1 0h0m.5 0h0m1 0h0m3.5 0h0m9.5 0h0m17.5 0h0m2 0h0m1 0h0m3 0h0m1 0h0m1 0h0m4 0h0m6.5 0h0m1 0h0m2.5 0h0m6.5 0h0m1 0h0m12 0h0m4 0h0m13.5 0h0m3 0h0m3 0h0m.5 0h0m3.5 0h0m4.5 0h0m3 0h0m5 0h0m6.5 0h0m3 0h0m2 0h0m1.5 0h0m-139 .5h0m3.5 0h0m6.5 0h0m.5 0h0m1.5 0h0m.5 0h0m21.5 0h0m.5 0h0m6 0h0m16.5 0h0m2.5 0h0m4 0h0m1 0h0m5 0h0m9.5 0h0m11 0h0m3 0h0m4 0h0m12.5 0h0m.5 0h0m8 0h0m4.5 0h0m1 0h0m3.5 0h0m5.5 0h0m1.5 0h0m-148.5 .5h0m16 0h0m.5 0h0m2 0h0m3 0h0m5.5 0h0m2 0h0m9 0h0m4 0h0m10 0h0m1.5 0h0m5 0h0m37 0h0m17.5 0h0m13.5 0h0m4 0h0m7.5 0h0m3 0h0m2 0h0m-144 .5h0m20 0h0m1.5 0h0m3 0h0m3 0h0m4 0h0m4.5 0h0m3.5 0h0m13 0h0m6 0h0m1 0h0m9 0h0m1.5 0h0m57 0h0m4 0h0m1.5 0h0m2.5 0h0m4 0h0m1 0h0m1 0h0m7 0h0m1.5 0h0m1 0h0m3 0h0m-139 .5h0m1.5 0h0m.5 0h0m5.5 0h0m12 0h0m4 0h0m.5 0h0m25 0h0m16.5 0h0m4.5 0h0m3.5 0h0m1.5 0h0m22 0h0m24 0h0m1.5 0h0m2.5 0h0m5.5 0h0m3 0h0m-149 .5h0m.5 0h0m15 0h0m3.5 0h0m2.5 0h0m1 0h0m1 0h0m3.5 0h0m1 0h0m16 0h0m1 0h0m9 0h0m15.5 0h0m3 0h0m1.5 0h0m37.5 0h0m4.5 0h0m5.5 0h0m6 0h0m1.5 0h0m4.5 0h0m1 0h0m1.5 0h0m5 0h0m3.5 0h0m.5 0h0m10 0h0m.5 0h0m.5 0h0m-140.5 .5h0m2.5 0h0m2 0h0m.5 0h0m21 0h0m1 0h0m10.5 0h0m14.5 0h0m28 0h0m11 0h0m5.5 0h0m13 0h0m25 0h0m7 0h0m-146 .5h0m4 0h0m1 0h0m3 0h0m3 0h0m7 0h0m8 0h0m9.5 0h0m1 0h0m7 0h0m7 0h0m28 0h0m12.5 0h0m29 0h0m1.5 0h0m1.5 0h0m1.5 0h0m17 0h0m.5 0h0m-152.5 .5h0m12 0h0m2.5 0h0m2.5 0h0m2.5 0h0m13 0h0m4 0h0m9.5 0h0m6.5 0h0m17 0h0m9.5 0h0m24.5 0h0m15 0h0m12 0h0m3 0h0m.5 0h0m3.5 0h0m1.5 0h0m16 0h0m1 0h0m8.5 0h0m-154.5 .5h0m2.5 0h0m15 0h0m1 0h0m8.5 0h0m6.5 0h0m.5 0h0m15 0h0m41 0h0m4 0h0m5.5 0h0m15.5 0h0m5 0h0m5.5 0h0m1 0h0m1 0h0m2 0h0m4 0h0m9.5 0h0m-153 .5h0m2 0h0m10.5 0h0m.5 0h0m3 0h0m7.5 0h0m18 0h0m4.5 0h0m3 0h0m26 0h0m2 0h0m11.5 0h0m.5 0h0m11 0h0m4.5 0h0m5 0h0m5 0h0m9 0h0m5 0h0m1 0h0m2.5 0h0m8.5 0h0m6 0h0m-146 .5h0m.5 0h0m1 0h0m.5 0h0m7.5 0h0m1.5 0h0m1.5 0h0m1 0h0m5 0h0m2.5 0h0m5 0h0m1.5 0h0m21 0h0m18.5 0h0m2.5 0h0m9 0h0m2 0h0m6 0h0m20 0h0m30.5 0h0m2.5 0h0m-138 .5h0m.5 0h0m9.5 0h0m11 0h0m5 0h0m14 0h0m1 0h0m1 0h0m1 0h0m3.5 0h0m2 0h0m18 0h0m17.5 0h0m5.5 0h0m26.5 0h0m10.5 0h0m15.5 0h0m.5 0h0m1.5 0h0m3.5 0h0m6 0h0m1 0h0m4 0h0m-157 .5h0m5.5 0h0m1.5 0h0m1 0h0m.5 0h0m.5 0h0m9 0h0m14 0h0m30.5 0h0m53 0h0m3 0h0m28 0h0m2.5 0h0m-143.5 .5h0m1 0h0m2 0h0m10 0h0m33 0h0m21 0h0m6.5 0h0m34 0h0m8.5 0h0m4.5 0h0m10.5 0h0m6 0h0m2 0h0m5.5 0h0m4.5 0h0m-156 .5h0m.5 0h0m1 0h0m8 0h0m8.5 0h0m2.5 0h0m6.5 0h0m21.5 0h0m3 0h0m2 0h0m18.5 0h0m6.5 0h0m45 0h0m12 0h0m9.5 0h0m5 0h0m9 0h0m-159 .5h0m6 0h0m5.5 0h0m20 0h0m9.5 0h0m23 0h0m49.5 0h0m1 0h0m3.5 0h0m.5 0h0m8.5 0h0m8 0h0m15 0h0m3.5 0h0m-148 .5h0m16 0h0m4 0h0m5.5 0h0m3.5 0h0m3 0h0m9 0h0m12.5 0h0m5.5 0h0m.5 0h0m6.5 0h0m7 0h0m11.5 0h0m38.5 0h0m1.5 0h0m4.5 0h0m2 0h0m6 0h0m8 0h0m-150.5 .5h0m.5 0h0m5.5 0h0m1 0h0m3.5 0h0m8 0h0m12 0h0m.5 0h0m63.5 0h0m14.5 0h0m26.5 0h0m.5 0h0m25.5 0h0m-161.5 .5h0m3.5 0h0m1 0h0m3.5 0h0m12.5 0h0m11 0h0m2.5 0h0m5.5 0h0m20.5 0h0m54 0h0m10 0h0m21 0h0m2 0h0m18 0h0m-165 .5h0m3.5 0h0m.5 0h0m1.5 0h0m4 0h0m7 0h0m1 0h0m11 0h0m24.5 0h0m54.5 0h0m17 0h0m28 0h0m-140 .5h0m5 0h0m14 0h0m23 0h0m6 0h0m54.5 0h0m2 0h0m15 0h0m11 0h0m7 0h0m-149 .5h0m14.5 0h0m1 0h0m20.5 0h0m9.5 0h0m78 0h0m3.5 0h0m2 0h0m2.5 0h0m6 0h0m31 0h0m-167.5 .5h0m1 0h0m8.5 0h0m7.5 0h0m10 0h0m9.5 0h0m9.5 0h0m48 0h0m1 0h0m53.5 0h0m9.5 0h0m-158.5 .5h0m3 0h0m30.5 0h0m11.5 0h0m3 0h0m8 0h0m24.5 0h0m10 0h0m26 0h0m9.5 0h0m16.5 0h0m5 0h0m-144.5 .5h0m3.5 0h0m.5 0h0m11.5 0h0m1.5 0h0m1 0h0m1.5 0h0m16.5 0h0m2.5 0h0m4.5 0h0m40 0h0m18.5 0h0m9.5 0h0m12 0h0m-124.5 .5h0m7 0h0m3.5 0h0m1 0h0m11.5 0h0m7.5 0h0m18.5 0h0m4 0h0m42 0h0m22 0h0m40 0h0m-161.5 .5h0m3 0h0m29.5 0h0m2 0h0m49.5 0h0m42.5 0h0m.5 0h0m19 0h0m-122.5 .5h0m13.5 0h0m9 0h0m22.5 0h0m40.5 0h0m21.5 0h0m26 0h0m2 0h0m-154 .5h0m7 0h0m17.5 0h0m18.5 0h0m5.5 0h0m14 0h0m6.5 0h0m2.5 0h0m1.5 0h0m30 0h0m6 0h0m17.5 0h0m28 0h0m-144 .5h0m18.5 0h0m1.5 0h0m1 0h0m14 0h0m16 0h0m99 0h0m-148 .5h0m28.5 0h0m15.5 0h0m.5 0h0m90 0h0m8 0h0m3.5 0h0m-145 .5h0m23 0h0m4.5 0h0m9.5 0h0m5.5 0h0m9.5 0h0m17 0h0m10.5 0h0m32 0h0m4.5 0h0m8.5 0h0m5.5 0h0m6 0h0m8.5 0h0m-130 .5h0m21.5 0h0m11.5 0h0m2.5 0h0m1.5 0h0m1 0h0m1 0h0m45 0h0m3 0h0m22 0h0m21 0h0m-115.5 .5h0m5.5 0h0m8 0h0m34 0h0m5 0h0m67 0h0m-160.5 .5h0m36.5 0h0m36.5 0h0m80 0h0m-144 .5h0m25.5 0h0m26 0h0m27 0h0m20.5 0h0m10.5 0h0m28.5 0h0m8.5 0h0m-130 .5h0m23.5 0h0m2.5 0h0m-6.5 .5h0m55 0h0m37 0h0m14.5 0h0m2 0h0m-147 .5h0m2 0h0m36 0h0m70.5 0h0m-103 .5h0m31 0h0m7.5 0h0m3 0h0m9 0h0m10 0h0m31.5 0h0m6.5 0h0m3 0h0m29.5 0h0m14 0h0m1 0h0m-151 .5h0m6 0h0m25 0h0m39 0h0m-68.5 1h0m7.5 0h0m20 0h0m6 0h0m18.5 0h0m16 0h0m78 0h0m7 0h0m3 0h0m-149.5 .5h0m13.5 0h0m50 0h0m57 0h0m5 0h0m4 0h0m2.5 0h0m-136 .5h0m1 0h0m18.5 0h0m47.5 0h0m25 0h0m77 0h0m-118 .5h0m113.5 0h0m-98 .5h0m26 0h0m-90.5 .5h0m76 0h0m11.5 0h0m4.5 0h0m47.5 0h0m9 0h0m-135.5 .5h0m7 0h0m128.5 0h0m-159.5 .5h0m10 0h0m7.5 0h0m11 0h0m28 0h0m102.5 0h0m-164 .5h0m10.5 0h0m21 0h0m21.5 0h0m5.5 0h0m6.5 0h0m10 0h0m3 0h0m-61.5 .5h0m10 0h0m30.5 0h0m-42 .5h0m24 0h0m6.5 0h0m107 0h0m30.5 0h0m-128 .5h0m69.5 0h0m23.5 0h0m7.5 0h0m-50.5 .5h0m8.5 0h0m6 0h0m24 1h0m-16.5 1h0m36 0h0m-134 .5h0m-18 .5h0m122 .5h0m20.5 0h0m-96.5 .5h0m-22 .5h0m116 0h0m-88 .5h0m-48 .5h0m105 0h0m8.5 .5h0m11 0h0m-142.5 .5h0m17.5 0h0m40.5 0h0m-41 .5h0m53.5 0h0m18.5 0h0m37 0h0m-119.5 .5h0m9.5 0h0m155.5 .5h0m-165.5 .5h0m141.5 1h0m33.5 0h0m-169.5 .5h0m15.5 0h0m-24 1.5h0m14.5 0h0m36.5 0h0m107 0h0" stroke="#a8679f" stroke-width="1.7" stroke-linecap="round" fill="none"/></g>
<polyline points="317,272.58 319.7,270.69 322.41,268.76 325.11,266.79 327.81,264.77 330.52,262.71 333.22,260.6 335.93,258.45 338.63,256.26 341.33,254.03 344.04,251.77 346.74,249.48 349.44,247.15 352.15,244.8 354.85,242.43 357.56,240.04 360.26,237.64 362.96,235.23 365.67,232.82 368.37,230.42 371.07,228.04 373.78,225.68 376.48,223.35 379.19,221.07 381.89,218.83 384.59,216.66 387.3,214.55 390,212.53 392.7,210.6 395.41,208.78 398.11,207.06 400.82,205.47 403.52,204.02 406.22,202.71 408.93,201.55 411.63,200.55 414.33,199.71 417.04,199.05 419.74,198.57 422.45,198.26 425.15,198.14 427.85,198.2 430.56,198.44 433.26,198.86 435.96,199.46 438.67,200.23 441.37,201.17 444.08,202.27 446.78,203.51 449.48,204.91 452.19,206.43 454.89,208.08 457.59,209.84 460.3,211.71 463,213.67 465.71,215.71 468.41,217.82 471.11,219.99 473.82,222.22 476.52,224.48 479.22,226.78 481.93,229.1 484.63,231.43 487.34,233.78 490.04,236.12 492.74,238.46 495.45,240.79 498.15,243.1 500.86,245.38 503.56,247.65 506.26,249.88 508.97,252.08 511.67,254.24 514.37,256.37 517.08,258.45 519.78,260.5 522.49,262.5 525.19,264.45 527.89,266.37 530.6,268.23 533.3,270.05" fill="none" stroke="#ff1a1a" stroke-width="1.6" stroke-linejoin="round"/>
<rect x="308.6" y="193.3" width="233" height="98.7" fill="none" stroke="#707070" stroke-width="1"/>
<path d="M317 292v3.6M360.26 292v3.6M403.52 292v3.6M446.78 292v3.6M490.04 292v3.6M533.3 292v3.6M305 275.1h3.6M305 249.87h3.6M305 224.63h3.6M305 199.4h3.6" stroke="#707070" stroke-width="0.9" fill="none"/>
<text x="317" y="303.73" class="tk" text-anchor="middle">0.0</text>
<text x="360.26" y="303.73" class="tk" text-anchor="middle">0.2</text>
<text x="403.52" y="303.73" class="tk" text-anchor="middle">0.4</text>
<text x="446.78" y="303.73" class="tk" text-anchor="middle">0.6</text>
<text x="490.04" y="303.73" class="tk" text-anchor="middle">0.8</text>
<text x="533.3" y="303.73" class="tk" text-anchor="middle">1.0</text>
<text class="tk" text-anchor="middle" transform="translate(301.03 275.1) rotate(-90)">30</text>
<text class="tk" text-anchor="middle" transform="translate(301.03 249.87) rotate(-90)">40</text>
<text class="tk" text-anchor="middle" transform="translate(301.03 224.63) rotate(-90)">50</text>
<text class="tk" text-anchor="middle" transform="translate(301.03 199.4) rotate(-90)">60</text>
<text x="309.2" y="180.5" class="ti">Proformica mongolica</text>
<text x="430" y="316.9" class="lb" text-anchor="middle">GC3s</text>
<text class="lb" text-anchor="middle" transform="translate(295.05 236.55) rotate(-90)">ENC</text>
<g filter="url(#bl)"><path d="M89 362.5h1m9 0h1m1 0h2m2 0h4m1 0h2m1 0h69m4 0h1M110 363.5h1m3 0h1m1 0h4m1 0h6m1 0h12m1 0h25m1 0h13m1 0h1M114 364.5h1m1 0h1m1 0h6m2 0h53m3 0h2M101 365.5h2m7 0h1m2 0h4m2 0h60m2 0h3M96 366.5h1m2 0h1m8 0h3m3 0h23m1 0h43m1 0h3M108 367.5h1m1 0h4m2 0h2m1 0h9m1 0h52m1 0h1m1 0h1M105 368.5h1m2 0h2m1 0h3m1 0h2m1 0h65m2 0h2M95 369.5h1m8 0h79m1 0h1m1 0h1m3 0h2m4 0h1M80 370.5h1m14 0h1m4 0h2m3 0h80m1 0h1m5 0h2M100 371.5h2m3 0h1m1 0h7m1 0h67m1 0h6m3 0h1m1 0h1M96 372.5h1m3 0h2m4 0h7m1 0h69m1 0h2m2 0h1M103 373.5h83m2 0h2M98 374.5h2m2 0h86m1 0h3M96 375.5h1m3 0h1m1 0h89M82 376.5h1m12 0h4m2 0h92m2 0h2m1 0h1M90 377.5h1m2 0h1m2 0h2m3 0h92M92 378.5h2m4 0h97m1 0h1M92 379.5h1m6 0h92m1 0h3m1 0h1M80 380.5h1m15 0h49m2 0h17m1 0h33m4 0h1M93 381.5h103m1 0h2m1 0h1M90 382.5h65m1 0h38m1 0h1m2 0h1m1 0h1M92 383.5h62m2 0h40m1 0h3m1 0h2M79 384.5h1m12 0h54m2 0h11m1 0h4m3 0h31m4 0h3M78 385.5h1m13 0h43m1 0h9m1 0h4m2 0h14m1 0h31M91 386.5h42m1 0h8m1 0h6m1 0h6m1 0h47M86 387.5h53m1 0h2m1 0h4m1 0h8m2 0h44m3 0h1M76 388.5h1m9 0h1m2 0h42m1 0h3m2 0h7m1 0h13m1 0h4m1 0h16m1 0h1m2 0h10m1 0h12m1 0h1m1 0h1M89 389.5h42m1 0h2m2 0h3m1 0h2m1 0h4m1 0h5m1 0h1m2 0h6m1 0h5m3 0h7m3 0h12m1 0h2m2 0h1m1 0h3m1 0h1m2 0h1M87 390.5h42m1 0h4m2 0h5m2 0h5m1 0h4m3 0h5m1 0h1m3 0h3m2 0h31m1 0h2M83 391.5h1m2 0h41m1 0h8m1 0h2m3 0h2m1 0h3m2 0h1m2 0h2m1 0h5m3 0h1m1 0h3m2 0h3m2 0h1m1 0h21m1 0h2m1 0h2M82 392.5h2m2 0h33m2 0h6m1 0h8m1 0h2m3 0h1m2 0h1m1 0h2m1 0h4m4 0h1m2 0h4m1 0h7m2 0h4m2 0h15m1 0h8M84 393.5h35m2 0h8m1 0h6m3 0h1m4 0h2m1 0h5m1 0h3m1 0h2m1 0h1m5 0h1m5 0h1m2 0h2m3 0h4m2 0h19m1 0h2m5 0h2M83 394.5h51m5 0h1m3 0h10m2 0h2m3 0h1m1 0h1m3 0h1m5 0h1m3 0h1m1 0h6m2 0h19M82 395.5h36m1 0h7m1 0h2m1 0h2m4 0h1m3 0h2m1 0h1m1 0h5m2 0h1m3 0h1m1 0h2m5 0h4m1 0h3m7 0h1m1 0h3m1 0h1m1 0h4m1 0h1m1 0h10m1 0h2m1 0h2M82 396.5h37m1 0h6m1 0h2m3 0h1m1 0h1m1 0h1m3 0h2m5 0h2m1 0h1m4 0h1m6 0h1m5 0h7m1 0h2m2 0h1m2 0h10m2 0h4m2 0h6m2 0h1M80 397.5h1m1 0h32m1 0h4m1 0h2m2 0h4m2 0h1m2 0h1m4 0h3m2 0h1m4 0h3m3 0h2m5 0h1m1 0h8m5 0h1m4 0h12m1 0h5m2 0h9m1 0h1M80 398.5h39m5 0h5m2 0h1m1 0h3m2 0h1m1 0h1m4 0h1m8 0h4m1 0h5m4 0h2m6 0h1m4 0h20m1 0h4m1 0h5M73 399.5h1m5 0h41m1 0h8m2 0h1m1 0h3m1 0h5m3 0h2m5 0h1m4 0h2m3 0h2m4 0h1m1 0h1m1 0h2m4 0h1m2 0h4m1 0h2m1 0h12m1 0h1m3 0h4m2 0h1m1 0h1M79 400.5h43m1 0h1m2 0h1m1 0h4m2 0h1m5 0h1m3 0h1m1 0h2m2 0h3m4 0h2m11 0h1m1 0h1m8 0h4m2 0h2m1 0h4m1 0h9m2 0h4m2 0h1M78 401.5h46m2 0h3m3 0h3m16 0h1m5 0h1m1 0h1m2 0h1m7 0h2m2 0h1m7 0h1m1 0h1m2 0h6m2 0h9m2 0h6M78 402.5h24m1 0h1m1 0h5m1 0h3m6 0h4m5 0h6m3 0h1m2 0h1m4 0h1m1 0h2m4 0h3m7 0h1m3 0h1m9 0h1m1 0h2m3 0h4m1 0h3m3 0h2m2 0h1m1 0h3m1 0h5M77 403.5h24m3 0h5m3 0h3m3 0h1m1 0h3m2 0h1m2 0h1m4 0h3m4 0h2m2 0h2m2 0h2m5 0h2m7 0h1m2 0h1m9 0h2m2 0h1m1 0h1m1 0h2m2 0h3m3 0h3m5 0h13M75 404.5h30m2 0h4m3 0h2m1 0h1m1 0h10m5 0h3m1 0h1m1 0h1m5 0h1m1 0h1m6 0h2m4 0h3m3 0h1m5 0h1m3 0h1m7 0h1m4 0h2m4 0h6m1 0h1m2 0h1m1 0h1m2 0h4M75 405.5h27m1 0h5m8 0h1m2 0h4m7 0h1m3 0h3m4 0h1m1 0h1m2 0h1m10 0h1m2 0h2m1 0h1m1 0h1m1 0h1m3 0h1m1 0h1m1 0h2m5 0h1m7 0h1m3 0h6m2 0h2m1 0h7m1 0h1m2 0h1M75 406.5h18m1 0h8m2 0h2m3 0h4m4 0h1m3 0h2m2 0h1m3 0h1m2 0h1m1 0h1m1 0h1m1 0h1m4 0h1m2 0h2m2 0h1m9 0h2m2 0h1m1 0h1m11 0h1m13 0h4m2 0h2m1 0h4m2 0h2m2 0h3m2 0h2M73 407.5h1m1 0h29m1 0h1m4 0h3m1 0h1m1 0h1m1 0h1m2 0h1m14 0h1m3 0h1m1 0h2m1 0h1m30 0h1m1 0h2m5 0h1m4 0h3m2 0h3m2 0h2m4 0h1m1 0h2m3 0h1M75 408.5h25m1 0h2m2 0h3m3 0h1m4 0h3m4 0h1m9 0h1m4 0h4m37 0h1m1 0h1m3 0h1m4 0h3m1 0h3m2 0h2m8 0h3m12 0h1M73 409.5h21m1 0h3m3 0h1m5 0h1m5 0h1m14 0h1m2 0h2m7 0h1m13 0h1m3 0h2m10 0h1m10 0h1m3 0h1m1 0h1m4 0h1m6 0h2m2 0h1m1 0h1m1 0h1m1 0h3M72 410.5h1m2 0h19m1 0h3m2 0h1m8 0h1m5 0h3m2 0h1m2 0h3m2 0h4m1 0h1m40 0h1m12 0h3m4 0h1m2 0h2m5 0h1m3 0h1m1 0h2M72 411.5h22m1 0h4m3 0h1m5 0h1m5 0h1m1 0h1m2 0h2m2 0h1m3 0h1m5 0h3m5 0h1m31 0h2m3 0h1m10 0h1m4 0h2m1 0h1m1 0h1m1 0h3m1 0h1m1 0h3m1 0h1m4 0h2m5 0h1M71 412.5h20m1 0h4m2 0h2m2 0h1m2 0h1m1 0h1m2 0h1m7 0h1m4 0h1m9 0h2m17 0h1m9 0h1m6 0h1m7 0h2m9 0h1m6 0h1m1 0h1m5 0h2m1 0h2m1 0h1m1 0h1M71 413.5h21m1 0h1m3 0h2m5 0h2m4 0h1m7 0h1m2 0h1m6 0h1m7 0h1m3 0h1m9 0h3m27 0h1m2 0h1m1 0h1m7 0h1m1 0h1m2 0h1m5 0h1m1 0h1m4 0h3m4 0h1M71 414.5h18m2 0h1m7 0h1m4 0h2m4 0h3m3 0h1m3 0h1m5 0h1m1 0h1m22 0h4m8 0h1m1 0h1m16 0h1m5 0h1m4 0h2m3 0h1m2 0h3m7 0h3m4 0h1m5 0h1M72 415.5h18m1 0h3m2 0h1m2 0h5m3 0h1m2 0h2m14 0h1m4 0h1m17 0h2m16 0h1m6 0h1m7 0h1m4 0h1m5 0h2m6 0h1m6 0h2m2 0h1m7 0h1m1 0h2m3 0h1M72 416.5h10m1 0h7m1 0h3m2 0h4m1 0h2m16 0h1m6 0h1m29 0h1m26 0h1m7 0h1m4 0h1m25 0h1M72 417.5h14m1 0h3m6 0h1m7 0h1m12 0h1m44 0h1m10 0h1m1 0h1m8 0h1m6 0h1m14 0h1M71 418.5h1m1 0h11m4 0h1m8 0h1m6 0h1m4 0h1m13 0h1m20 0h1m55 0h1m16 0h2m5 0h1M74 419.5h10m13 0h1m10 0h1m26 0h1m33 0h1m6 0h1m9 0h1m15 0h1m10 0h1m2 0h1m1 0h1M72 420.5h1m1 0h6m3 0h1m28 0h1m14 0h1m13 0h1m8 0h2m50 0h1m4 0h1m4 0h1m8 0h4M74 421.5h9m8 0h1m5 0h1m29 0h1m13 0h1m28 0h2m2 0h1m9 0h1m24 0h1M74 422.5h1m1 0h5m15 0h1m25 0h1m4 0h1m42 0h1m3 0h2m8 0h1m15 0h1m8 0h1m12 0h1m1 0h1M73 423.5h2m2 0h1m1 0h1m6 0h2m33 0h1m7 0h1m6 0h1m3 0h1m38 0h2m2 0h1m19 0h1m5 0h1m1 0h1m10 0h1m3 0h1M79 424.5h1m2 0h1m4 0h1m22 0h1m19 0h1m6 0h2m9 0h1m20 0h1M81 425.5h2m5 0h1m10 0h1m7 0h2m28 0h1m20 0h1m20 0h1m3 0h1m20 0h1m14 0h1m5 0h1m1 0h1M194 426.5h2M92 427.5h1m5 0h1m19 0h1m14 0h1m59 0h1m28 0h1M119 428.5h1m31 0h1m5 0h1m6 0h1m5 0h1M78 429.5h1m55 0h1m3 0h1m9 0h1m60 0h1M98 430.5h1m38 0h2m9 0h1M156 431.5h1m1 0h1m53 0h1m22 0h1M96 432.5h1m2 0h1m20 0h1m112 0h1M80 433.5h1m6 0h1m45 0h1m96 0h1M192 434.5h1M80 435.5h1m59 0h1m9 0h1m11 0h1M104 436.5h1m99 0h1M74 437.5h1m22 0h2m14 0h1m90 0h1m33 0h1M105 438.5h1m15 0h1m22 0h1m42 0h1m50 0h1M153 439.5h1m29 0h1m54 0h1M108 440.5h1m30 0h1M184 441.5h1M230 442.5h1M230 443.5h1M250 444.5h1M89 445.5h1M93 448.5h1m93 0h1m28 0h1M94 449.5h1m25 0h1M170 450.5h1" stroke="#a8679f" stroke-width="1" fill="none" shape-rendering="crispEdges"/><path d="M85 362h0m3.5 0h0m1 0h0m4 0h0m1.5 0h0m3.5 0h0m1 0h0m.5 0h0m1 0h0m.5 0h0m.5 0h0m.5 0h0m2 0h0m1 0h0m1 0h0m.5 0h0m.5 0h0m1 0h0m1 0h0m.5 0h0m.5 0h0m1 0h0m1 0h0m.5 0h0m1 0h0m1 0h0m.5 0h0m.5 0h0m.5 0h0m.5 0h0m.5 0h0m.5 0h0m.5 0h0m.5 0h0m.5 0h0m.5 0h0m.5 0h0m.5 0h0m.5 0h0m.5 0h0m.5 0h0m.5 0h0m.5 0h0m.5 0h0m.5 0h0m.5 0h0m.5 0h0m.5 0h0m.5 0h0m.5 0h0m.5 0h0m.5 0h0m.5 0h0m.5 0h0m.5 0h0m.5 0h0m.5 0h0m.5 0h0m.5 0h0m.5 0h0m.5 0h0m.5 0h0m.5 0h0m.5 0h0m.5 0h0m.5 0h0m.5 0h0m.5 0h0m.5 0h0m.5 0h0m.5 0h0m.5 0h0m.5 0h0m.5 0h0m.5 0h0m.5 0h0m.5 0h0m.5 0h0m.5 0h0m.5 0h0m.5 0h0m.5 0h0m.5 0h0m.5 0h0m.5 0h0m.5 0h0m.5 0h0m.5 0h0m.5 0h0m.5 0h0m.5 0h0m.5 0h0m.5 0h0m.5 0h0m.5 0h0m.5 0h0m.5 0h0m.5 0h0m.5 0h0m.5 0h0m.5 0h0m.5 0h0m.5 0h0m.5 0h0m.5 0h0m.5 0h0m.5 0h0m.5 0h0m.5 0h0m.5 0h0m.5 0h0m.5 0h0m.5 0h0m.5 0h0m.5 0h0m.5 0h0m.5 0h0m.5 0h0m.5 0h0m.5 0h0m.5 0h0m.5 0h0m.5 0h0m.5 0h0m.5 0h0m.5 0h0m.5 0h0m.5 0h0m.5 0h0m.5 0h0m.5 0h0m.5 0h0m.5 0h0m.5 0h0m.5 0h0m.5 0h0m.5 0h0m.5 0h0m.5 0h0m.5 0h0m.5 0h0m.5 0h0m.5 0h0m.5 0h0m.5 0h0m.5 0h0m.5 0h0m.5 0h0m.5 0h0m.5 0h0m.5 0h0m.5 0h0m.5 0h0m.5 0h0m.5 0h0m.5 0h0m1 0h0m.5 0h0m.5 0h0m-68.5 .5h0m1 0h0m1.5 0h0m2.5 0h0m1 0h0m3 0h0m1.5 0h0m1 0h0m.5 0h0m1 0h0m1 0h0m1.5 0h0m1 0h0m3.5 0h0m1 0h0m1 0h0m1 0h0m1 0h0m3.5 0h0m3 0h0m1 0h0m2.5 0h0m.5 0h0m3 0h0m1 0h0m.5 0h0m1.5 0h0m1 0h0m1 0h0m1 0h0m.5 0h0m2 0h0m1 0h0m.5 0h0m1.5 0h0m1 0h0m.5 0h0m.5 0h0m2.5 0h0m1 0h0m.5 0h0m2.5 0h0m1.5 0h0m.5 0h0m.5 0h0m1.5 0h0m.5 0h0m1 0h0m1 0h0m3.5 0h0m5 0h0m.5 0h0m-79 .5h0m3 0h0m5 0h0m.5 0h0m2 0h0m3 0h0m3 0h0m.5 0h0m.5 0h0m.5 0h0m3 0h0m.5 0h0m1.5 0h0m2 0h0m2 0h0m1 0h0m1 0h0m1 0h0m1 0h0m5.5 0h0m1.5 0h0m2 0h0m1.5 0h0m.5 0h0m1 0h0m6 0h0m1 0h0m.5 0h0m2.5 0h0m1.5 0h0m.5 0h0m3.5 0h0m1 0h0m1 0h0m1 0h0m2.5 0h0m1 0h0m2 0h0m.5 0h0m-81 .5h0m12 0h0m4 0h0m4 0h0m3.5 0h0m7 0h0m1 0h0m2.5 0h0m11.5 0h0m40 0h0m1.5 0h0m-65 .5h0m5.5 0h0m5 0h0m1 0h0m.5 0h0m13.5 0h0m23.5 0h0m3 0h0m11 0h0m.5 0h0m2.5 0h0m1.5 0h0m-82.5 .5h0m13 0h0m4.5 0h0m2 0h0m3 0h0m17 0h0m.5 0h0m26 0h0m15.5 0h0m-80 .5h0m10 0h0m3 0h0m10.5 0h0m11.5 0h0m29.5 0h0m14.5 0h0m1.5 0h0m.5 0h0m-82 .5h0m9 0h0m2.5 0h0m3.5 0h0m.5 0h0m2 0h0m.5 0h0m5 0h0m.5 0h0m12 0h0m41.5 0h0m.5 0h0m2 0h0m7.5 0h0m-91 .5h0m5.5 0h0m11 0h0m2 0h0m12.5 0h0m7.5 0h0m44.5 0h0m-84.5 .5h0m3.5 0h0m5.5 0h0m3 0h0m1 0h0m1 0h0m4 0h0m1 0h0m1 0h0m1.5 0h0m1 0h0m18.5 0h0m43.5 0h0m2 0h0m1 0h0m1 0h0m3 0h0m-88.5 .5h0m13 0h0m.5 0h0m1.5 0h0m2.5 0h0m.5 0h0m1.5 0h0m.5 0h0m18 0h0m.5 0h0m.5 0h0m.5 0h0m41.5 0h0m3 0h0m.5 0h0m.5 0h0m-79 .5h0m3.5 0h0m2 0h0m1 0h0m2 0h0m3.5 0h0m2.5 0h0m8 0h0m9.5 0h0m44 0h0m-73 .5h0m3 0h0m1 0h0m1.5 0h0m2.5 0h0m.5 0h0m12 0h0m.5 0h0m8.5 0h0m42.5 0h0m1 0h0m1.5 0h0m2.5 0h0m-79 .5h0m2.5 0h0m2 0h0m.5 0h0m.5 0h0m7.5 0h0m63.5 0h0m3 0h0m.5 0h0m4 0h0m-95 .5h0m9.5 0h0m4 0h0m1 0h0m5.5 0h0m1.5 0h0m1.5 0h0m1 0h0m10 0h0m52.5 0h0m4.5 0h0m4.5 0h0m-83.5 .5h0m1 0h0m2.5 0h0m7 0h0m66.5 0h0m7.5 0h0m4.5 0h0m1 0h0m-96 .5h0m5.5 0h0m8 0h0m67.5 0h0m1 0h0m4 0h0m-106.5 .5h0m15 0h0m4.5 0h0m5.5 0h0m1 0h0m8 0h0m69 0h0m.5 0h0m2 0h0m1 0h0m5.5 0h0m.5 0h0m-93 .5h0m1 0h0m6.5 0h0m5.5 0h0m1.5 0h0m1 0h0m67 0h0m.5 0h0m.5 0h0m3 0h0m8 0h0m-93.5 .5h0m1.5 0h0m3.5 0h0m2 0h0m5 0h0m2.5 0h0m.5 0h0m70 0h0m2 0h0m4 0h0m-96 .5h0m5 0h0m.5 0h0m4 0h0m2 0h0m7.5 0h0m70.5 0h0m.5 0h0m2 0h0m5.5 0h0m-93 .5h0m5 0h0m1.5 0h0m5.5 0h0m2 0h0m68.5 0h0m2 0h0m3 0h0m.5 0h0m.5 0h0m-94 .5h0m2.5 0h0m3 0h0m3.5 0h0m9.5 0h0m1.5 0h0m67.5 0h0m1 0h0m.5 0h0m.5 0h0m.5 0h0m.5 0h0m-84 .5h0m1.5 0h0m1 0h0m1.5 0h0m7.5 0h0m.5 0h0m.5 0h0m69.5 0h0m2.5 0h0m2 0h0m1 0h0m-5.5 .5h0m3 0h0m3 0h0m1 0h0m4.5 0h0m-96.5 .5h0m.5 0h0m87 0h0m.5 0h0m.5 0h0m2.5 0h0m.5 0h0m.5 0h0m.5 0h0m-114.5 .5h0m9.5 0h0m10.5 0h0m3.5 0h0m2 0h0m84.5 0h0m5 0h0m-91.5 .5h0m2 0h0m86.5 0h0m2 0h0m3.5 0h0m-98.5 .5h0m2.5 0h0m2.5 0h0m97.5 0h0m-115.5 .5h0m12 0h0m4 0h0m2.5 0h0m91 0h0m3 0h0m1.5 0h0m-106 .5h0m6.5 0h0m4 0h0m-8.5 .5h0m1 0h0m3 0h0m1.5 0h0m3.5 0h0m91 0h0m2.5 0h0m2.5 0h0m-109.5 .5h0m3 0h0m1 0h0m6.5 0h0m1 0h0m.5 0h0m.5 0h0m.5 0h0m93.5 0h0m2 0h0m1.5 0h0m1 0h0m-121.5 .5h0m15 0h0m1.5 0h0m6 0h0m93.5 0h0m-94.5 .5h0m.5 0h0m.5 0h0m45.5 0h0m19 0h0m27.5 0h0m-99.5 .5h0m7 0h0m91 0h0m1.5 0h0m2.5 0h0m1.5 0h0m-116 .5h0m10.5 0h0m6.5 0h0m.5 0h0m2 0h0m.5 0h0m44 0h0m2.5 0h0m1 0h0m16 0h0m28 0h0m4.5 0h0m1.5 0h0m6 0h0m-107.5 .5h0m.5 0h0m48 0h0m3 0h0m16 0h0m2.5 0h0m25 0h0m5 0h0m6.5 0h0m-115 .5h0m6 0h0m.5 0h0m2 0h0m1.5 0h0m47 0h0m.5 0h0m2.5 0h0m7.5 0h0m8.5 0h0m1.5 0h0m1 0h0m25 0h0m3.5 0h0m1 0h0m.5 0h0m1 0h0m-108 .5h0m5 0h0m.5 0h0m.5 0h0m1 0h0m50 0h0m10 0h0m39 0h0m.5 0h0m2.5 0h0m2.5 0h0m.5 0h0m-115.5 .5h0m5.5 0h0m1 0h0m1 0h0m52 0h0m11 0h0m39 0h0m2.5 0h0m-106.5 .5h0m63.5 0h0m44 0h0m1.5 0h0m4 0h0m1 0h0m-116 .5h0m3.5 0h0m.5 0h0m53 0h0m1 0h0m.5 0h0m9 0h0m.5 0h0m8 0h0m1 0h0m.5 0h0m27 0h0m1.5 0h0m2.5 0h0m1 0h0m3 0h0m-54 .5h0m16.5 0h0m.5 0h0m2 0h0m.5 0h0m27.5 0h0m4 0h0m1 0h0m2.5 0h0m1 0h0m-123.5 .5h0m12.5 0h0m60 0h0m8 0h0m1 0h0m5.5 0h0m28 0h0m1 0h0m1.5 0h0m1 0h0m4.5 0h0m-109.5 .5h0m55 0h0m2 0h0m1 0h0m3.5 0h0m.5 0h0m.5 0h0m.5 0h0m2.5 0h0m2 0h0m3.5 0h0m3 0h0m1 0h0m29.5 0h0m4.5 0h0m1 0h0m1 0h0m6.5 0h0m-132.5 .5h0m1 0h0m54.5 0h0m3.5 0h0m7 0h0m2 0h0m2.5 0h0m8 0h0m4 0h0m7 0h0m29.5 0h0m8 0h0m-112.5 .5h0m.5 0h0m41 0h0m2.5 0h0m6 0h0m4 0h0m1 0h0m1.5 0h0m3 0h0m.5 0h0m4.5 0h0m7.5 0h0m1 0h0m34.5 0h0m-108.5 .5h0m.5 0h0m40 0h0m.5 0h0m9 0h0m1 0h0m.5 0h0m2 0h0m6.5 0h0m4 0h0m1 0h0m2.5 0h0m.5 0h0m5 0h0m33.5 0h0m.5 0h0m2.5 0h0m-117 .5h0m7 0h0m1 0h0m43 0h0m.5 0h0m.5 0h0m7.5 0h0m.5 0h0m4 0h0m2.5 0h0m.5 0h0m4.5 0h0m2.5 0h0m8.5 0h0m.5 0h0m32.5 0h0m1.5 0h0m1.5 0h0m-115.5 .5h0m2 0h0m1 0h0m41 0h0m3 0h0m1 0h0m.5 0h0m11.5 0h0m1 0h0m1 0h0m.5 0h0m45 0h0m.5 0h0m3.5 0h0m2 0h0m.5 0h0m2.5 0h0m1.5 0h0m1 0h0m-118.5 .5h0m.5 0h0m2.5 0h0m41 0h0m2 0h0m.5 0h0m2.5 0h0m1.5 0h0m2.5 0h0m1 0h0m1.5 0h0m.5 0h0m1.5 0h0m4 0h0m.5 0h0m5.5 0h0m8 0h0m17.5 0h0m.5 0h0m1 0h0m.5 0h0m12 0h0m7 0h0m-122.5 .5h0m7.5 0h0m2 0h0m1.5 0h0m40.5 0h0m8 0h0m2.5 0h0m.5 0h0m2 0h0m2 0h0m8 0h0m2 0h0m2 0h0m1 0h0m3.5 0h0m1.5 0h0m.5 0h0m16 0h0m.5 0h0m1.5 0h0m.5 0h0m11.5 0h0m1 0h0m.5 0h0m2.5 0h0m.5 0h0m5 0h0m2.5 0h0m2 0h0m-131.5 .5h0m56 0h0m5 0h0m.5 0h0m1.5 0h0m.5 0h0m2.5 0h0m1 0h0m2 0h0m2.5 0h0m7.5 0h0m1 0h0m6 0h0m2 0h0m.5 0h0m5 0h0m.5 0h0m9.5 0h0m2 0h0m2 0h0m1 0h0m8.5 0h0m7 0h0m1.5 0h0m2.5 0h0m2 0h0m4 0h0m-135 .5h0m11 0h0m3 0h0m39.5 0h0m1.5 0h0m2 0h0m2 0h0m2.5 0h0m2 0h0m2.5 0h0m.5 0h0m3.5 0h0m12 0h0m1.5 0h0m1 0h0m2 0h0m.5 0h0m2 0h0m1 0h0m3.5 0h0m3 0h0m6.5 0h0m15 0h0m3.5 0h0m2 0h0m3.5 0h0m6 0h0m-125.5 .5h0m6 0h0m40.5 0h0m.5 0h0m.5 0h0m2.5 0h0m3.5 0h0m.5 0h0m1.5 0h0m2 0h0m3 0h0m4 0h0m14 0h0m.5 0h0m2.5 0h0m.5 0h0m7 0h0m6.5 0h0m.5 0h0m2.5 0h0m1 0h0m.5 0h0m.5 0h0m10.5 0h0m2.5 0h0m2 0h0m3 0h0m2 0h0m2.5 0h0m-117 .5h0m39.5 0h0m2 0h0m1.5 0h0m8.5 0h0m.5 0h0m6 0h0m2.5 0h0m3 0h0m.5 0h0m1 0h0m2.5 0h0m2 0h0m.5 0h0m3.5 0h0m.5 0h0m1.5 0h0m4 0h0m6 0h0m3.5 0h0m.5 0h0m1 0h0m.5 0h0m1 0h0m1.5 0h0m1 0h0m11.5 0h0m1.5 0h0m.5 0h0m.5 0h0m2 0h0m4 0h0m-130.5 .5h0m14.5 0h0m1 0h0m39 0h0m3 0h0m.5 0h0m.5 0h0m2 0h0m1 0h0m5 0h0m1 0h0m2 0h0m1.5 0h0m5 0h0m7 0h0m4.5 0h0m5.5 0h0m9 0h0m2 0h0m4.5 0h0m.5 0h0m12 0h0m.5 0h0m.5 0h0m3 0h0m.5 0h0m2 0h0m3.5 0h0m.5 0h0m-126 .5h0m8 0h0m.5 0h0m1 0h0m32.5 0h0m.5 0h0m10 0h0m5 0h0m.5 0h0m.5 0h0m3 0h0m3 0h0m1 0h0m1 0h0m2 0h0m2.5 0h0m19.5 0h0m2 0h0m.5 0h0m2.5 0h0m4 0h0m3 0h0m17 0h0m3.5 0h0m2 0h0m1 0h0m2 0h0m-123 .5h0m2.5 0h0m34.5 0h0m.5 0h0m5 0h0m2.5 0h0m6.5 0h0m2 0h0m1 0h0m4 0h0m.5 0h0m3 0h0m1 0h0m1 0h0m3 0h0m2 0h0m1 0h0m.5 0h0m2.5 0h0m1.5 0h0m2 0h0m3 0h0m1.5 0h0m2 0h0m2.5 0h0m2.5 0h0m7.5 0h0m2 0h0m19.5 0h0m4 0h0m-128.5 .5h0m50 0h0m.5 0h0m2 0h0m1 0h0m9 0h0m6.5 0h0m6 0h0m1.5 0h0m.5 0h0m5.5 0h0m3 0h0m.5 0h0m1 0h0m.5 0h0m2.5 0h0m2 0h0m5 0h0m3.5 0h0m2.5 0h0m2 0h0m3 0h0m2 0h0m11.5 0h0m1.5 0h0m2 0h0m2.5 0h0m-121.5 .5h0m.5 0h0m35.5 0h0m3 0h0m6 0h0m2 0h0m.5 0h0m5.5 0h0m.5 0h0m1.5 0h0m.5 0h0m1.5 0h0m6 0h0m2 0h0m1 0h0m4 0h0m4 0h0m6 0h0m1 0h0m1 0h0m3.5 0h0m.5 0h0m2 0h0m1 0h0m4.5 0h0m2.5 0h0m3.5 0h0m2.5 0h0m.5 0h0m15 0h0m3 0h0m2 0h0m4.5 0h0m-125.5 .5h0m1 0h0m1 0h0m1 0h0m31.5 0h0m8 0h0m1 0h0m.5 0h0m1 0h0m6.5 0h0m1 0h0m4.5 0h0m1.5 0h0m1 0h0m2.5 0h0m.5 0h0m1.5 0h0m2.5 0h0m2 0h0m1 0h0m1 0h0m6.5 0h0m3 0h0m5 0h0m3.5 0h0m5 0h0m.5 0h0m3 0h0m.5 0h0m.5 0h0m.5 0h0m1 0h0m1 0h0m13 0h0m2 0h0m1 0h0m6.5 0h0m4 0h0m3.5 0h0m-94.5 .5h0m2.5 0h0m23 0h0m.5 0h0m9.5 0h0m3 0h0m8 0h0m1 0h0m5.5 0h0m2 0h0m1 0h0m.5 0h0m.5 0h0m4 0h0m24 0h0m3 0h0m6 0h0m1 0h0m-130.5 .5h0m1 0h0m33.5 0h0m.5 0h0m1.5 0h0m1 0h0m18 0h0m.5 0h0m4.5 0h0m1 0h0m2 0h0m2 0h0m1.5 0h0m3 0h0m3 0h0m3.5 0h0m6 0h0m9.5 0h0m3 0h0m8.5 0h0m.5 0h0m8.5 0h0m-77 .5h0m6.5 0h0m.5 0h0m3.5 0h0m3 0h0m2.5 0h0m.5 0h0m3.5 0h0m2.5 0h0m1 0h0m.5 0h0m7 0h0m2 0h0m2.5 0h0m1 0h0m6.5 0h0m9.5 0h0m4 0h0m2.5 0h0m1 0h0m2 0h0m.5 0h0m1 0h0m.5 0h0m.5 0h0m2.5 0h0m1 0h0m5.5 0h0m1 0h0m.5 0h0m.5 0h0m10 0h0m-129 .5h0m1 0h0m40.5 0h0m1.5 0h0m9 0h0m5.5 0h0m3 0h0m.5 0h0m9.5 0h0m2.5 0h0m2.5 0h0m4.5 0h0m.5 0h0m.5 0h0m1.5 0h0m6.5 0h0m1.5 0h0m.5 0h0m.5 0h0m3 0h0m.5 0h0m1 0h0m6.5 0h0m2 0h0m3 0h0m2.5 0h0m.5 0h0m1.5 0h0m11.5 0h0m5 0h0m2.5 0h0m3 0h0m.5 0h0m-128.5 .5h0m1 0h0m34 0h0m3 0h0m6 0h0m1.5 0h0m1 0h0m2 0h0m6.5 0h0m3 0h0m.5 0h0m.5 0h0m4.5 0h0m.5 0h0m3 0h0m3.5 0h0m7 0h0m8.5 0h0m4.5 0h0m8 0h0m6 0h0m2 0h0m2.5 0h0m.5 0h0m2 0h0m2 0h0m3.5 0h0m1 0h0m7 0h0m.5 0h0m3 0h0m-87 .5h0m1.5 0h0m3.5 0h0m3 0h0m5 0h0m4.5 0h0m2.5 0h0m2 0h0m1 0h0m1 0h0m2.5 0h0m5 0h0m1 0h0m13 0h0m4 0h0m7.5 0h0m4 0h0m1.5 0h0m6.5 0h0m3 0h0m5.5 0h0m4.5 0h0m2 0h0m1.5 0h0m-95 .5h0m1 0h0m3.5 0h0m4 0h0m1.5 0h0m1.5 0h0m1 0h0m1.5 0h0m4 0h0m2 0h0m6.5 0h0m2 0h0m20.5 0h0m7 0h0m2 0h0m.5 0h0m2 0h0m2 0h0m1 0h0m5.5 0h0m.5 0h0m1.5 0h0m.5 0h0m9 0h0m1.5 0h0m2.5 0h0m7 0h0m.5 0h0m3.5 0h0m.5 0h0m5 0h0m-132 .5h0m31 0h0m4 0h0m2.5 0h0m1 0h0m.5 0h0m2 0h0m1.5 0h0m1 0h0m1 0h0m5.5 0h0m5 0h0m2 0h0m2 0h0m5.5 0h0m.5 0h0m2.5 0h0m3 0h0m2 0h0m5.5 0h0m4 0h0m1 0h0m1.5 0h0m1.5 0h0m5 0h0m2.5 0h0m1 0h0m1 0h0m4 0h0m5 0h0m4.5 0h0m2.5 0h0m6.5 0h0m.5 0h0m3.5 0h0m1 0h0m2.5 0h0m3.5 0h0m-131.5 .5h0m1.5 0h0m36 0h0m3 0h0m.5 0h0m8.5 0h0m14 0h0m4 0h0m.5 0h0m2.5 0h0m10 0h0m2 0h0m1 0h0m1.5 0h0m1 0h0m4.5 0h0m5 0h0m3 0h0m1.5 0h0m1.5 0h0m10.5 0h0m2 0h0m3.5 0h0m9 0h0m10 0h0m-135.5 .5h0m32 0h0m.5 0h0m2 0h0m4.5 0h0m4.5 0h0m3.5 0h0m.5 0h0m1.5 0h0m3 0h0m1.5 0h0m3.5 0h0m1.5 0h0m5.5 0h0m4 0h0m5 0h0m.5 0h0m1.5 0h0m4 0h0m1.5 0h0m1.5 0h0m7 0h0m12 0h0m3.5 0h0m6 0h0m6 0h0m.5 0h0m2 0h0m9 0h0m1.5 0h0m3 0h0m-96 .5h0m.5 0h0m2.5 0h0m10 0h0m9.5 0h0m6.5 0h0m7 0h0m2 0h0m1.5 0h0m.5 0h0m3.5 0h0m8 0h0m5 0h0m1.5 0h0m5.5 0h0m.5 0h0m17 0h0m.5 0h0m3.5 0h0m1 0h0m1 0h0m.5 0h0m4.5 0h0m3.5 0h0m4.5 0h0m-138.5 .5h0m1.5 0h0m.5 0h0m42.5 0h0m1.5 0h0m2.5 0h0m.5 0h0m2.5 0h0m2 0h0m1 0h0m3.5 0h0m1.5 0h0m6.5 0h0m7 0h0m1 0h0m1 0h0m.5 0h0m4.5 0h0m.5 0h0m1.5 0h0m.5 0h0m1.5 0h0m3 0h0m2.5 0h0m3.5 0h0m9.5 0h0m12.5 0h0m11 0h0m1.5 0h0m.5 0h0m5 0h0m-139.5 .5h0m3 0h0m43.5 0h0m2.5 0h0m1 0h0m2.5 0h0m2.5 0h0m3 0h0m5 0h0m1.5 0h0m.5 0h0m1.5 0h0m2 0h0m10 0h0m5.5 0h0m6 0h0m5 0h0m4.5 0h0m5.5 0h0m1 0h0m5 0h0m.5 0h0m1.5 0h0m3.5 0h0m13 0h0m6.5 0h0m3 0h0m2 0h0m-135 .5h0m.5 0h0m39.5 0h0m2 0h0m7.5 0h0m1.5 0h0m1.5 0h0m8 0h0m5 0h0m1 0h0m1 0h0m11.5 0h0m12.5 0h0m3 0h0m3 0h0m.5 0h0m1.5 0h0m3.5 0h0m2 0h0m3.5 0h0m1.5 0h0m13.5 0h0m.5 0h0m3 0h0m.5 0h0m3 0h0m-85.5 .5h0m2.5 0h0m3.5 0h0m2 0h0m1.5 0h0m1.5 0h0m9 0h0m2.5 0h0m1.5 0h0m2 0h0m2.5 0h0m.5 0h0m4.5 0h0m1 0h0m9.5 0h0m4.5 0h0m6.5 0h0m1.5 0h0m3 0h0m4 0h0m.5 0h0m2.5 0h0m11.5 0h0m2 0h0m8.5 0h0m-137 .5h0m3 0h0m23.5 0h0m2.5 0h0m6 0h0m4 0h0m1 0h0m2 0h0m3 0h0m2 0h0m5 0h0m1.5 0h0m5.5 0h0m5.5 0h0m.5 0h0m11 0h0m5.5 0h0m5 0h0m7.5 0h0m1 0h0m3.5 0h0m8.5 0h0m7.5 0h0m.5 0h0m2.5 0h0m2.5 0h0m4.5 0h0m1 0h0m8.5 0h0m.5 0h0m1.5 0h0m6 0h0m-115 .5h0m8 0h0m4 0h0m1.5 0h0m1 0h0m.5 0h0m2 0h0m3 0h0m5 0h0m1 0h0m3.5 0h0m2 0h0m4.5 0h0m1.5 0h0m11.5 0h0m5.5 0h0m2 0h0m6 0h0m5.5 0h0m.5 0h0m3.5 0h0m10.5 0h0m2 0h0m5 0h0m.5 0h0m3 0h0m3.5 0h0m2.5 0h0m5 0h0m.5 0h0m4 0h0m-132 .5h0m24 0h0m2 0h0m1 0h0m3.5 0h0m6.5 0h0m2 0h0m2 0h0m2.5 0h0m1 0h0m2.5 0h0m6 0h0m.5 0h0m5 0h0m1.5 0h0m2.5 0h0m2 0h0m.5 0h0m2.5 0h0m2 0h0m.5 0h0m2.5 0h0m2.5 0h0m8 0h0m9 0h0m4.5 0h0m4.5 0h0m2 0h0m4 0h0m1.5 0h0m5 0h0m.5 0h0m6 0h0m1 0h0m3 0h0m1 0h0m2 0h0m7 0h0m-110 .5h0m2.5 0h0m6 0h0m2 0h0m16 0h0m2 0h0m1 0h0m.5 0h0m2 0h0m3 0h0m7.5 0h0m10 0h0m1 0h0m9.5 0h0m2 0h0m10.5 0h0m11.5 0h0m2.5 0h0m4 0h0m1.5 0h0m12.5 0h0m-132.5 .5h0m23 0h0m4 0h0m13 0h0m2.5 0h0m8 0h0m9.5 0h0m3.5 0h0m.5 0h0m2.5 0h0m4 0h0m.5 0h0m1.5 0h0m5 0h0m8.5 0h0m4 0h0m12.5 0h0m3 0h0m2 0h0m.5 0h0m1 0h0m2 0h0m6 0h0m.5 0h0m2 0h0m10.5 0h0m1.5 0h0m2 0h0m1 0h0m-135 .5h0m22.5 0h0m.5 0h0m4 0h0m.5 0h0m.5 0h0m1 0h0m.5 0h0m2 0h0m1.5 0h0m2 0h0m1.5 0h0m11.5 0h0m7.5 0h0m1 0h0m1.5 0h0m5 0h0m5 0h0m.5 0h0m11 0h0m8 0h0m2.5 0h0m2.5 0h0m6.5 0h0m4.5 0h0m2 0h0m3.5 0h0m3.5 0h0m5 0h0m8.5 0h0m1 0h0m1.5 0h0m4.5 0h0m1.5 0h0m.5 0h0m2 0h0m1 0h0m-142.5 .5h0m1.5 0h0m1.5 0h0m28 0h0m.5 0h0m.5 0h0m2.5 0h0m1 0h0m.5 0h0m.5 0h0m1 0h0m.5 0h0m2 0h0m1.5 0h0m.5 0h0m2.5 0h0m1.5 0h0m1 0h0m2.5 0h0m1 0h0m1 0h0m3.5 0h0m8 0h0m2.5 0h0m1.5 0h0m6.5 0h0m15 0h0m1.5 0h0m2 0h0m8.5 0h0m4 0h0m1.5 0h0m2.5 0h0m3.5 0h0m7 0h0m8 0h0m8.5 0h0m3 0h0m2.5 0h0m3 0h0m8 0h0m-148.5 .5h0m25.5 0h0m.5 0h0m.5 0h0m4.5 0h0m2 0h0m1.5 0h0m4 0h0m.5 0h0m7.5 0h0m1 0h0m2.5 0h0m1 0h0m.5 0h0m1 0h0m6 0h0m13.5 0h0m7 0h0m.5 0h0m3 0h0m8.5 0h0m9.5 0h0m.5 0h0m17 0h0m2 0h0m2.5 0h0m2 0h0m3 0h0m4 0h0m6 0h0m-137.5 .5h0m25 0h0m.5 0h0m1.5 0h0m3 0h0m6 0h0m1.5 0h0m2.5 0h0m6 0h0m1 0h0m1.5 0h0m4.5 0h0m4 0h0m3 0h0m3 0h0m6.5 0h0m10.5 0h0m6 0h0m1 0h0m10 0h0m2 0h0m10 0h0m4.5 0h0m1 0h0m5.5 0h0m2.5 0h0m3.5 0h0m7.5 0h0m1.5 0h0m-135.5 .5h0m27.5 0h0m1.5 0h0m1 0h0m13 0h0m1 0h0m1 0h0m9.5 0h0m4.5 0h0m1.5 0h0m5 0h0m15.5 0h0m3.5 0h0m1 0h0m3.5 0h0m.5 0h0m2 0h0m2 0h0m2 0h0m2.5 0h0m4 0h0m4 0h0m12 0h0m1.5 0h0m8 0h0m1 0h0m2 0h0m7 0h0m3 0h0m-141.5 .5h0m17 0h0m3 0h0m6.5 0h0m3 0h0m1 0h0m.5 0h0m1.5 0h0m3.5 0h0m9.5 0h0m14 0h0m3 0h0m1 0h0m4.5 0h0m.5 0h0m3 0h0m4 0h0m10.5 0h0m6 0h0m3.5 0h0m5.5 0h0m4 0h0m12.5 0h0m1 0h0m9 0h0m.5 0h0m2 0h0m2.5 0h0m3.5 0h0m-136 .5h0m.5 0h0m16.5 0h0m.5 0h0m11.5 0h0m1.5 0h0m.5 0h0m3 0h0m.5 0h0m1 0h0m1.5 0h0m4.5 0h0m5 0h0m1.5 0h0m2.5 0h0m3.5 0h0m3.5 0h0m14.5 0h0m.5 0h0m17 0h0m2 0h0m11.5 0h0m6.5 0h0m7.5 0h0m2.5 0h0m1 0h0m.5 0h0m2 0h0m3 0h0m7 0h0m3.5 0h0m.5 0h0m1 0h0m3.5 0h0m1 0h0m-142.5 .5h0m.5 0h0m18.5 0h0m14 0h0m3 0h0m1 0h0m.5 0h0m.5 0h0m.5 0h0m.5 0h0m1.5 0h0m1 0h0m1 0h0m1.5 0h0m6.5 0h0m1 0h0m5 0h0m5 0h0m4 0h0m3.5 0h0m5.5 0h0m4.5 0h0m6 0h0m7 0h0m9.5 0h0m1.5 0h0m2 0h0m6 0h0m2 0h0m4 0h0m1.5 0h0m2 0h0m.5 0h0m1 0h0m1 0h0m1.5 0h0m3 0h0m1 0h0m.5 0h0m2 0h0m1 0h0m1.5 0h0m7 0h0m-142.5 .5h0m2 0h0m.5 0h0m18.5 0h0m9 0h0m2.5 0h0m8.5 0h0m10.5 0h0m11.5 0h0m4 0h0m2 0h0m.5 0h0m.5 0h0m2.5 0h0m9.5 0h0m2 0h0m18.5 0h0m3 0h0m.5 0h0m7 0h0m4.5 0h0m1.5 0h0m5.5 0h0m3.5 0h0m4.5 0h0m3.5 0h0m1 0h0m3.5 0h0m-138 .5h0m18.5 0h0m10 0h0m6 0h0m6 0h0m5.5 0h0m1 0h0m1 0h0m.5 0h0m9.5 0h0m5.5 0h0m28.5 0h0m26.5 0h0m6.5 0h0m6 0h0m2.5 0h0m2.5 0h0m-135.5 .5h0m19 0h0m3 0h0m1.5 0h0m1.5 0h0m.5 0h0m.5 0h0m3 0h0m.5 0h0m.5 0h0m.5 0h0m1 0h0m4 0h0m2.5 0h0m2.5 0h0m1.5 0h0m9 0h0m2 0h0m3 0h0m6 0h0m1.5 0h0m2 0h0m17.5 0h0m20.5 0h0m2 0h0m4 0h0m2.5 0h0m3.5 0h0m3.5 0h0m1.5 0h0m3 0h0m1 0h0m10.5 0h0m.5 0h0m13 0h0m-131 .5h0m1 0h0m3.5 0h0m.5 0h0m4 0h0m3 0h0m2 0h0m24.5 0h0m.5 0h0m3.5 0h0m5 0h0m9.5 0h0m15.5 0h0m4.5 0h0m17.5 0h0m2 0h0m2.5 0h0m2.5 0h0m1 0h0m9.5 0h0m4 0h0m2 0h0m-137 .5h0m.5 0h0m18.5 0h0m4.5 0h0m3 0h0m12 0h0m15.5 0h0m1.5 0h0m24.5 0h0m3.5 0h0m1.5 0h0m10 0h0m12.5 0h0m17.5 0h0m3.5 0h0m4 0h0m2 0h0m-136.5 .5h0m.5 0h0m3 0h0m23.5 0h0m1 0h0m9 0h0m2.5 0h0m.5 0h0m2 0h0m9 0h0m7.5 0h0m.5 0h0m8.5 0h0m39 0h0m6 0h0m1.5 0h0m.5 0h0m4.5 0h0m6.5 0h0m1.5 0h0m1 0h0m4 0h0m3 0h0m4.5 0h0m1 0h0m7.5 0h0m-145 .5h0m18 0h0m2 0h0m2.5 0h0m2.5 0h0m2 0h0m2 0h0m11 0h0m.5 0h0m1.5 0h0m.5 0h0m2.5 0h0m4 0h0m1 0h0m3.5 0h0m4.5 0h0m2 0h0m4.5 0h0m34.5 0h0m6.5 0h0m7.5 0h0m1 0h0m5 0h0m2.5 0h0m.5 0h0m1 0h0m2.5 0h0m10 0h0m-138.5 .5h0m2.5 0h0m18 0h0m3 0h0m.5 0h0m1 0h0m10.5 0h0m1 0h0m.5 0h0m5.5 0h0m1 0h0m.5 0h0m6.5 0h0m6.5 0h0m4.5 0h0m3.5 0h0m3.5 0h0m9 0h0m10 0h0m6 0h0m7 0h0m1 0h0m1 0h0m14 0h0m10 0h0m2 0h0m1 0h0m2 0h0m1.5 0h0m2.5 0h0m2.5 0h0m1.5 0h0m4.5 0h0m.5 0h0m6.5 0h0m-151 .5h0m1 0h0m1 0h0m.5 0h0m16.5 0h0m.5 0h0m1 0h0m.5 0h0m1.5 0h0m3 0h0m.5 0h0m4 0h0m6 0h0m.5 0h0m5.5 0h0m2 0h0m3 0h0m1 0h0m7.5 0h0m5 0h0m2.5 0h0m6.5 0h0m10 0h0m26.5 0h0m13.5 0h0m2 0h0m2 0h0m5 0h0m2 0h0m6 0h0m9 0h0m4 0h0m-150.5 .5h0m1 0h0m1.5 0h0m1 0h0m17 0h0m.5 0h0m2.5 0h0m15.5 0h0m8 0h0m4.5 0h0m3.5 0h0m6.5 0h0m19.5 0h0m3.5 0h0m2 0h0m4.5 0h0m6.5 0h0m20 0h0m8.5 0h0m2 0h0m4 0h0m2.5 0h0m1 0h0m4.5 0h0m5.5 0h0m2 0h0m-126 .5h0m1 0h0m5 0h0m.5 0h0m5.5 0h0m.5 0h0m2 0h0m16 0h0m11 0h0m43 0h0m1 0h0m9.5 0h0m7.5 0h0m8 0h0m.5 0h0m.5 0h0m2.5 0h0m2.5 0h0m9.5 0h0m-123.5 .5h0m1.5 0h0m1 0h0m.5 0h0m3.5 0h0m3.5 0h0m4.5 0h0m17 0h0m1 0h0m1.5 0h0m11 0h0m40 0h0m2.5 0h0m15 0h0m9 0h0m4.5 0h0m5.5 0h0m-145 .5h0m18 0h0m.5 0h0m1 0h0m2 0h0m.5 0h0m10.5 0h0m1 0h0m12.5 0h0m3 0h0m8 0h0m7 0h0m2.5 0h0m12 0h0m1.5 0h0m31 0h0m1.5 0h0m.5 0h0m8.5 0h0m2 0h0m3 0h0m6 0h0m2 0h0m5.5 0h0m1.5 0h0m4.5 0h0m-146.5 .5h0m22.5 0h0m13.5 0h0m4 0h0m.5 0h0m2 0h0m6.5 0h0m8 0h0m25.5 0h0m25.5 0h0m2.5 0h0m6.5 0h0m4.5 0h0m1.5 0h0m2.5 0h0m6.5 0h0m1 0h0m6 0h0m10.5 0h0m-132.5 .5h0m2.5 0h0m5 0h0m3 0h0m3 0h0m1 0h0m2 0h0m1.5 0h0m3 0h0m1.5 0h0m5.5 0h0m7 0h0m2.5 0h0m9 0h0m17 0h0m11.5 0h0m1.5 0h0m6 0h0m12 0h0m17.5 0h0m1.5 0h0m6.5 0h0m10.5 0h0m4 0h0m1.5 0h0m-141.5 .5h0m13 0h0m4 0h0m4 0h0m2.5 0h0m3 0h0m2 0h0m.5 0h0m39 0h0m2.5 0h0m11 0h0m29 0h0m5 0h0m3 0h0m1.5 0h0m6 0h0m4.5 0h0m2.5 0h0m6.5 0h0m1.5 0h0m2 0h0m6 0h0m-160 .5h0m.5 0h0m9.5 0h0m.5 0h0m.5 0h0m6.5 0h0m2.5 0h0m.5 0h0m1 0h0m7 0h0m.5 0h0m6.5 0h0m19 0h0m3.5 0h0m1.5 0h0m18 0h0m1.5 0h0m9 0h0m7.5 0h0m7 0h0m8 0h0m5 0h0m21 0h0m4 0h0m7.5 0h0m.5 0h0m.5 0h0m6 0h0m1.5 0h0m-157 .5h0m20 0h0m1 0h0m4 0h0m2.5 0h0m3.5 0h0m8 0h0m9 0h0m7 0h0m44.5 0h0m20 0h0m3.5 0h0m15 0h0m13 0h0m-150 .5h0m14 0h0m.5 0h0m5 0h0m1 0h0m.5 0h0m4.5 0h0m4 0h0m7.5 0h0m5 0h0m5 0h0m.5 0h0m25 0h0m11 0h0m27.5 0h0m7.5 0h0m5 0h0m14.5 0h0m11.5 0h0m-149.5 .5h0m11 0h0m1.5 0h0m1.5 0h0m2.5 0h0m5 0h0m2 0h0m.5 0h0m3 0h0m2.5 0h0m1 0h0m1.5 0h0m2 0h0m27 0h0m12 0h0m6 0h0m4 0h0m7 0h0m1 0h0m21 0h0m2.5 0h0m19.5 0h0m4 0h0m-114.5 .5h0m16 0h0m3 0h0m2 0h0m5 0h0m51 0h0m2 0h0m14 0h0m2.5 0h0m15 0h0m13.5 0h0m9 0h0m-157.5 .5h0m1 0h0m9.5 0h0m.5 0h0m1.5 0h0m1 0h0m3 0h0m1.5 0h0m8.5 0h0m6 0h0m3 0h0m7 0h0m3 0h0m27 0h0m49.5 0h0m19 0h0m5 0h0m1 0h0m-147.5 .5h0m2.5 0h0m10 0h0m4.5 0h0m9 0h0m11.5 0h0m1.5 0h0m13.5 0h0m7.5 0h0m36 0h0m19 0h0m14.5 0h0m4 0h0m6.5 0h0m11.5 0h0m2 0h0m.5 0h0m-153 .5h0m9.5 0h0m1.5 0h0m1 0h0m19.5 0h0m1 0h0m4.5 0h0m20 0h0m12 0h0m8 0h0m35.5 0h0m2 0h0m15.5 0h0m1 0h0m6 0h0m5 0h0m2.5 0h0m2 0h0m6 0h0m-150.5 .5h0m1 0h0m5 0h0m2 0h0m1 0h0m.5 0h0m9 0h0m5 0h0m3.5 0h0m15 0h0m12.5 0h0m7 0h0m2 0h0m3.5 0h0m28.5 0h0m6 0h0m1.5 0h0m9 0h0m26.5 0h0m3.5 0h0m-141 .5h0m4 0h0m4 0h0m2.5 0h0m23 0h0m12 0h0m4 0h0m1 0h0m25 0h0m4.5 0h0m63.5 0h0m5 0h0m-151.5 .5h0m.5 0h0m1.5 0h0m9 0h0m5 0h0m2.5 0h0m.5 0h0m11.5 0h0m10 0h0m14.5 0h0m14.5 0h0m57.5 0h0m3.5 0h0m5 0h0m5 0h0m8.5 0h0m.5 0h0m1 0h0m-146.5 .5h0m4 0h0m3 0h0m20 0h0m35 0h0m4 0h0m7.5 0h0m2 0h0m22.5 0h0m5 0h0m6 0h0m4.5 0h0m27 0h0m8 0h0m2.5 0h0m-151 .5h0m5 0h0m.5 0h0m.5 0h0m9.5 0h0m5.5 0h0m1 0h0m9.5 0h0m20 0h0m7 0h0m7.5 0h0m24 0h0m5 0h0m38.5 0h0m-138 .5h0m3.5 0h0m1.5 0h0m5.5 0h0m11 0h0m17 0h0m17 0h0m14 0h0m11.5 0h0m6.5 0h0m12.5 0h0m4.5 0h0m8.5 0h0m15.5 0h0m9 0h0m1 0h0m8 0h0m5 0h0m1.5 0h0m-150 .5h0m3.5 0h0m8.5 0h0m10 0h0m26.5 0h0m8 0h0m39.5 0h0m4 0h0m47.5 0h0m5.5 0h0m-151 .5h0m2.5 0h0m.5 0h0m5 0h0m2 0h0m34.5 0h0m8 0h0m7 0h0m10.5 0h0m37 0h0m6.5 0h0m19.5 0h0m17 0h0m4 0h0m-157 .5h0m.5 0h0m.5 0h0m3.5 0h0m9.5 0h0m13.5 0h0m1.5 0h0m2.5 0h0m16 0h0m19.5 0h0m22.5 0h0m14.5 0h0m1.5 0h0m1 0h0m23.5 0h0m8 0h0m11 0h0m-145.5 .5h0m9 0h0m43.5 0h0m1 0h0m7 0h0m32 0h0m18 0h0m8 0h0m9 0h0m5 0h0m5.5 0h0m8.5 0h0m-146.5 .5h0m2 0h0m.5 0h0m3 0h0m5 0h0m23 0h0m1.5 0h0m36.5 0h0m11.5 0h0m61 0h0m-139.5 .5h0m18 0h0m7 0h0m1.5 0h0m23 0h0m5.5 0h0m2 0h0m20 0h0m7.5 0h0m7.5 0h0m6 0h0m4 0h0m7.5 0h0m23 0h0m5.5 0h0m5 0h0m3 0h0m4 0h0m-149.5 .5h0m6.5 0h0m19 0h0m1.5 0h0m29 0h0m19.5 0h0m18 0h0m18.5 0h0m10.5 0h0m21.5 0h0m-144 .5h0m12.5 0h0m5 0h0m80.5 0h0m3 0h0m15 0h0m2 0h0m5 0h0m13 0h0m3 0h0m-98 .5h0m60 0h0m10.5 0h0m2 0h0m-77.5 .5h0m15.5 0h0m66.5 0h0m22.5 0h0m7.5 0h0m1.5 0h0m3 0h0m-142 .5h0m5.5 0h0m11.5 0h0m84 0h0m21.5 0h0m-128.5 .5h0m4.5 0h0m2 0h0m3 0h0m7 0h0m19 0h0m8.5 0h0m.5 0h0m9 0h0m17 0h0m7.5 0h0m2.5 0h0m3.5 0h0m16 0h0m15.5 0h0m21 0h0m2 0h0m-136 .5h0m12 0h0m18 0h0m32.5 0h0m41.5 0h0m13 0h0m-131.5 .5h0m14.5 0h0m39 0h0m61.5 0h0m18 0h0m-129 .5h0m26.5 0h0m29.5 0h0m4 0h0m10 0h0m55.5 0h0m4.5 0h0m1 0h0m16.5 0h0m-132 .5h0m43.5 0h0m7.5 0h0m47 0h0m22 0h0m10 0h0m-126 .5h0m40.5 0h0m10 0h0m50 0h0m-127 .5h0m27.5 0h0m5 0h0m3 0h0m10.5 0h0m2.5 0h0m11 0h0m4.5 0h0m21 0h0m2 0h0m11 0h0m22.5 0h0m9 0h0m24.5 0h0m10.5 0h0m-94 .5h0m52 0h0m18.5 0h0m23.5 0h0m-149 .5h0m3.5 0h0m6 0h0m2.5 0h0m21 0h0m6.5 0h0m93.5 0h0m-124 .5h0m4.5 0h0m130.5 0h0m2.5 0h0m-157 .5h0m83.5 0h0m58.5 0h0m15.5 0h0m4 0h0m-157.5 .5h0m6.5 0h0m7.5 0h0m38.5 0h0m44 0h0m53 0h0m6 0h0m-123 .5h0m72.5 0h0m4 0h0m1.5 0h0m13 0h0m23 0h0m2.5 0h0m-112 .5h0m75 0h0m-112 .5h0m40.5 0h0m2 0h0m17.5 0h0m35.5 0h0m5.5 0h0m10.5 0h0m38.5 0h0m-138 .5h0m23 0h0m2 0h0m26.5 0h0m6.5 0h0m12 0h0m51.5 0h0m13.5 0h0m-136 .5h0m113 0h0m-100 .5h0m69.5 0h0m-75 .5h0m3 0h0m135 0h0m-162.5 .5h0m23 0h0m11 0h0m5 0h0m70.5 0h0m20.5 0h0m27 0h0m7 0h0m-102.5 .5h0m119 0h0m-149.5 .5h0m16 0h0m23 0h0m40.5 0h0m2.5 0h0m48.5 0h0m-123 .5h0m40.5 0h0m30 0h0m55 0h0m-127.5 .5h0m9.5 0h0m32.5 0h0m63.5 0h0m22 0h0m-139.5 .5h0m9.5 0h0m31 0h0m103 0h0m-31.5 .5h0m-26.5 .5h0m14 0h0m-49.5 .5h0m81.5 0h0m0 .5h0m-149.5 .5h0m10.5 .5h0m139 .5h0m10.5 0h0m-46 .5h0m13.5 0h0m22.5 0h0m-82.5 .5h0m96 0h0m6 0h0m-161.5 .5h0m87 0h0m21.5 0h0m21 0h0m-45 1h0m-62.5 .5h0m15 .5h0m4 0h0m-37 .5h0m73.5 0h0m-33 .5h0m53.5 0h0m-7.5 .5h0m37 0h0m-139 .5h0m16.5 0h0m9 0h0m6.5 0h0m8.5 0h0m3 0h0m11.5 0h0m43 0h0m-80.5 .5h0m12 0h0m13 0h0m76.5 .5h0m-26 .5h0m-80 .5h0m15.5 .5h0m58 .5h0" stroke="#a8679f" stroke-width="1.7" stroke-linecap="round" fill="none"/></g>
<polyline points="44,436.8 46.7,434.94 49.4,433.03 52.1,431.08 54.8,429.08 57.5,427.04 60.2,424.95 62.9,422.83 65.6,420.66 68.3,418.46 71,416.22 73.7,413.95 76.4,411.65 79.1,409.32 81.8,406.97 84.5,404.61 87.2,402.23 89.9,399.85 92.6,397.47 95.3,395.1 98,392.74 100.7,390.4 103.4,388.1 106.1,385.84 108.8,383.62 111.5,381.47 114.2,379.39 116.9,377.39 119.6,375.48 122.3,373.68 125,371.98 127.7,370.41 130.4,368.97 133.1,367.67 135.8,366.53 138.5,365.54 141.2,364.71 143.9,364.06 146.6,363.58 149.3,363.27 152,363.15 154.7,363.21 157.4,363.45 160.1,363.87 162.8,364.46 165.5,365.22 168.2,366.15 170.9,367.24 173.6,368.47 176.3,369.85 179,371.36 181.7,372.99 184.4,374.73 187.1,376.58 189.8,378.52 192.5,380.54 195.2,382.63 197.9,384.78 200.6,386.98 203.3,389.22 206,391.49 208.7,393.78 211.4,396.1 214.1,398.41 216.8,400.73 219.5,403.05 222.2,405.35 224.9,407.63 227.6,409.9 230.3,412.14 233,414.35 235.7,416.52 238.4,418.66 241.1,420.77 243.8,422.83 246.5,424.85 249.2,426.83 251.9,428.77 254.6,430.66 257.3,432.51 260,434.31" fill="none" stroke="#ff1a1a" stroke-width="1.6" stroke-linejoin="round"/>
<rect x="35.8" y="357.9" width="232.9" height="98.7" fill="none" stroke="#707070" stroke-width="1"/>
<path d="M44 456.6v3.6M87.2 456.6v3.6M130.4 456.6v3.6M173.6 456.6v3.6M216.8 456.6v3.6M260 456.6v3.6M32.2 439.3h3.6M32.2 414.33h3.6M32.2 389.37h3.6M32.2 364.4h3.6" stroke="#707070" stroke-width="0.9" fill="none"/>
<text x="44" y="468.33" class="tk" text-anchor="middle">0.0</text>
<text x="87.2" y="468.33" class="tk" text-anchor="middle">0.2</text>
<text x="130.4" y="468.33" class="tk" text-anchor="middle">0.4</text>
<text x="173.6" y="468.33" class="tk" text-anchor="middle">0.6</text>
<text x="216.8" y="468.33" class="tk" text-anchor="middle">0.8</text>
<text x="260" y="468.33" class="tk" text-anchor="middle">1.0</text>
<text class="tk" text-anchor="middle" transform="translate(28.23 439.3) rotate(-90)">30</text>
<text class="tk" text-anchor="middle" transform="translate(28.23 414.33) rotate(-90)">40</text>
<text class="tk" text-anchor="middle" transform="translate(28.23 389.37) rotate(-90)">50</text>
<text class="tk" text-anchor="middle" transform="translate(28.23 364.4) rotate(-90)">60</text>
<text x="36.1" y="347" class="ti">Proformica muusensis</text>
<text x="154.5" y="478.6" class="lb" text-anchor="middle">GC3s</text>
<text class="lb" text-anchor="middle" transform="translate(19.75 398.5) rotate(-90)">ENC</text>
<g filter="url(#bl)"><path d="M374 362.5h1m1 0h7m1 0h72M378 363.5h2m4 0h3m1 0h27m1 0h32m2 0h1m2 0h3m1 0h1M384 364.5h2m2 0h4m2 0h4m1 0h19m1 0h10m1 0h24m1 0h1m1 0h1m4 0h1M380 365.5h3m1 0h2m2 0h5m2 0h59m1 0h1M383 366.5h3m2 0h5m1 0h61m2 0h3M378 367.5h1m4 0h3m5 0h64m1 0h1m3 0h1M375 368.5h2m4 0h1m1 0h3m1 0h48m1 0h23m1 0h2m3 0h2M370 369.5h2m4 0h1m4 0h86M377 370.5h1m2 0h5m2 0h71m2 0h6m3 0h2M375 371.5h1m2 0h3m2 0h2m1 0h72m1 0h4m4 0h2m1 0h2M369 372.5h1m4 0h8m1 0h80m4 0h4M371 373.5h2m5 0h86m1 0h6M367 374.5h2m6 0h1m2 0h89m1 0h3M367 375.5h1m2 0h3m3 0h91m1 0h6M359 376.5h1m9 0h4m1 0h96m2 0h2M368 377.5h2m1 0h1m2 0h96m1 0h1m2 0h2M362 378.5h1m1 0h1m5 0h3m1 0h102m6 0h2M363 379.5h1m1 0h1m2 0h3m1 0h53m1 0h48M364 380.5h2m3 0h1m1 0h102m2 0h1m1 0h1M366 381.5h1m2 0h105m3 0h2m2 0h1m1 0h1M366 382.5h49m1 0h62m2 0h2M362 383.5h76m1 0h37m3 0h3m5 0h1M363 384.5h114m2 0h2M363 385.5h81m1 0h33M357 386.5h1m1 0h1m2 0h59m1 0h22m1 0h34m1 0h2m3 0h2M361 387.5h2m1 0h46m1 0h16m1 0h48m2 0h4M360 388.5h69m1 0h5m2 0h5m1 0h43M359 389.5h70m1 0h5m5 0h2m2 0h44M361 390.5h74m1 0h2m1 0h2m2 0h44M356 391.5h42m1 0h22m1 0h3m2 0h2m2 0h9m2 0h42m5 0h1M356 392.5h54m1 0h2m1 0h18m1 0h7m2 0h28m1 0h12m6 0h1M356 393.5h43m2 0h2m1 0h6m2 0h1m1 0h4m3 0h3m1 0h1m3 0h11m2 0h11m1 0h29m2 0h1m1 0h2M354 394.5h45m1 0h3m2 0h11m1 0h1m2 0h2m1 0h2m4 0h2m3 0h2m2 0h6m1 0h7m3 0h34M351 395.5h1m4 0h35m2 0h9m3 0h5m1 0h2m1 0h4m1 0h3m1 0h5m2 0h6m2 0h4m3 0h3m2 0h1m2 0h11m1 0h22m2 0h4m2 0h1M351 396.5h1m2 0h48m3 0h4m2 0h7m7 0h1m2 0h1m1 0h1m3 0h3m1 0h4m2 0h4m2 0h43M350 397.5h1m2 0h44m4 0h3m2 0h1m2 0h1m3 0h3m1 0h2m2 0h1m3 0h3m8 0h1m2 0h23m1 0h3m1 0h23m1 0h1M350 398.5h1m1 0h37m1 0h3m1 0h5m2 0h4m3 0h3m3 0h1m1 0h2m4 0h1m2 0h1m1 0h1m4 0h2m6 0h1m3 0h1m1 0h4m1 0h2m2 0h1m4 0h2m1 0h9m1 0h11m1 0h5m1 0h1m2 0h1M350 399.5h52m1 0h2m4 0h3m1 0h3m7 0h3m1 0h1m5 0h3m4 0h2m2 0h3m1 0h1m2 0h4m1 0h16m1 0h10m2 0h8m5 0h1M352 400.5h43m1 0h4m3 0h3m3 0h2m3 0h1m8 0h2m11 0h3m1 0h2m2 0h2m4 0h42m1 0h3M351 401.5h28m1 0h11m2 0h2m2 0h3m1 0h1m1 0h1m2 0h2m1 0h2m1 0h5m1 0h1m2 0h1m2 0h1m3 0h1m3 0h1m6 0h3m2 0h1m5 0h7m2 0h11m1 0h10m1 0h9m3 0h2M346 402.5h2m2 0h30m2 0h2m1 0h18m7 0h1m1 0h2m1 0h3m2 0h2m12 0h1m9 0h1m3 0h2m3 0h4m2 0h1m2 0h2m2 0h9m1 0h4m2 0h2m2 0h11M347 403.5h33m1 0h9m2 0h1m1 0h4m2 0h1m1 0h2m4 0h1m5 0h3m2 0h3m15 0h2m7 0h4m1 0h9m2 0h1m3 0h11m1 0h1m1 0h1m1 0h2m1 0h3m1 0h1m2 0h5m2 0h1M346 404.5h32m1 0h2m1 0h4m1 0h3m5 0h3m2 0h1m2 0h1m4 0h1m2 0h1m1 0h3m9 0h1m5 0h2m9 0h1m2 0h1m1 0h1m1 0h2m1 0h5m3 0h1m3 0h2m1 0h2m1 0h7m1 0h9m6 0h1m2 0h1M346 405.5h29m1 0h4m3 0h1m1 0h4m2 0h1m3 0h1m2 0h1m1 0h1m3 0h2m2 0h1m9 0h1m3 0h1m6 0h1m1 0h4m3 0h1m13 0h4m3 0h2m2 0h3m1 0h1m5 0h14m6 0h1m2 0h1m2 0h1m4 0h2M346 406.5h22m2 0h4m1 0h2m2 0h1m6 0h2m3 0h5m1 0h3m1 0h1m2 0h1m4 0h1m7 0h2m13 0h2m5 0h1m6 0h1m4 0h2m6 0h1m2 0h2m3 0h5m1 0h3m2 0h7m1 0h2m1 0h2m4 0h3m1 0h1m2 0h2M344 407.5h22m1 0h1m1 0h8m1 0h3m3 0h1m1 0h1m3 0h1m2 0h3m1 0h1m1 0h1m1 0h1m1 0h1m1 0h2m7 0h1m4 0h1m9 0h1m2 0h1m7 0h1m5 0h7m2 0h1m3 0h1m2 0h2m1 0h1m1 0h3m2 0h7m1 0h1m1 0h5m1 0h2m2 0h6m5 0h2M344 408.5h30m1 0h7m2 0h1m1 0h1m3 0h1m3 0h1m6 0h2m3 0h3m1 0h1m1 0h3m15 0h3m3 0h1m9 0h2m3 0h5m9 0h5m3 0h1m1 0h2m2 0h4m2 0h3m1 0h1m1 0h2m2 0h4M344 409.5h30m1 0h4m2 0h3m1 0h3m5 0h1m2 0h2m1 0h1m6 0h3m8 0h1m7 0h1m3 0h1m3 0h1m22 0h2m3 0h1m3 0h1m2 0h4m1 0h4m2 0h3m3 0h6m1 0h2m1 0h4m5 0h1M343 410.5h32m1 0h1m2 0h1m2 0h2m1 0h1m2 0h1m2 0h3m2 0h1m5 0h1m3 0h2m10 0h1m6 0h1m18 0h1m4 0h1m5 0h3m1 0h4m3 0h2m3 0h1m4 0h3m3 0h1m1 0h1m2 0h5m2 0h3m1 0h1m5 0h1M342 411.5h24m2 0h2m3 0h2m1 0h1m1 0h1m1 0h2m1 0h1m5 0h2m7 0h3m8 0h1m35 0h1m7 0h5m2 0h2m1 0h2m1 0h1m10 0h1m5 0h2m4 0h3m2 0h3m2 0h3m5 0h1M344 412.5h17m3 0h1m2 0h1m2 0h1m2 0h1m2 0h5m5 0h1m2 0h1m7 0h1m2 0h1m1 0h1m1 0h1m8 0h1m22 0h1m5 0h1m3 0h2m2 0h1m4 0h1m1 0h1m2 0h4m12 0h1m6 0h4m1 0h1m1 0h4m2 0h8m3 0h1M343 413.5h18m6 0h3m3 0h1m4 0h2m3 0h2m1 0h1m2 0h2m2 0h2m5 0h1m14 0h1m23 0h1m1 0h2m8 0h1m3 0h1m2 0h1m1 0h1m5 0h1m1 0h1m8 0h7m2 0h1m1 0h5m6 0h2m2 0h1m2 0h1M343 414.5h20m2 0h2m1 0h2m3 0h1m17 0h1m4 0h1m13 0h1m12 0h1m15 0h1m15 0h2m9 0h2m12 0h3m4 0h2m2 0h2m6 0h2m2 0h2m1 0h1M343 415.5h16m3 0h1m1 0h2m2 0h1m2 0h1m2 0h1m2 0h1m3 0h1m6 0h1m30 0h1m4 0h1m10 0h1m2 0h1m26 0h3m4 0h2m3 0h2m1 0h3m7 0h4m6 0h3m1 0h2m4 0h2M343 416.5h20m1 0h1m4 0h1m1 0h1m2 0h1m1 0h1m1 0h1m4 0h2m7 0h1m6 0h1m16 0h1m10 0h1m7 0h1m2 0h1m21 0h1m1 0h1m3 0h1m5 0h1m1 0h1m2 0h1m3 0h1m1 0h1m2 0h4m2 0h2m2 0h2m2 0h4m5 0h1M343 417.5h7m1 0h4m1 0h3m1 0h5m2 0h1m2 0h1m2 0h2m1 0h1m4 0h1m2 0h1m8 0h3m1 0h1m6 0h1m3 0h1m7 0h2m3 0h1m5 0h1m8 0h1m2 0h1m32 0h1m9 0h3m4 0h1m5 0h1m1 0h3m2 0h1M344 418.5h11m2 0h2m2 0h1m2 0h1m2 0h1m5 0h4m4 0h3m2 0h1m2 0h1m10 0h1m16 0h1m6 0h1m29 0h1m16 0h2m4 0h1m5 0h1m2 0h2m1 0h1m3 0h2m2 0h1m3 0h1m2 0h1M345 419.5h5m1 0h5m2 0h1m5 0h1m2 0h1m2 0h4m2 0h1m1 0h1m1 0h2m4 0h1m55 0h2m6 0h1m6 0h1m14 0h1m4 0h1m2 0h1m1 0h2m1 0h2m2 0h4m3 0h2m1 0h2m1 0h3m5 0h1M344 420.5h1m1 0h1m1 0h1m2 0h3m5 0h1m4 0h2m16 0h1m20 0h1m15 0h1m21 0h2m4 0h2m1 0h1m9 0h1m7 0h1m1 0h1m17 0h1m3 0h6m2 0h1m1 0h2m4 0h1m1 0h1M346 421.5h1m1 0h1m2 0h2m15 0h1m1 0h1m9 0h4m1 0h1m6 0h1m10 0h1m15 0h1m29 0h1m16 0h1m2 0h1m14 0h1m4 0h1m5 0h3m2 0h2m2 0h1m1 0h2m1 0h1M345 422.5h3m36 0h2m18 0h1m23 0h2m33 0h4m28 0h1m4 0h2m9 0h1M361 423.5h3m12 0h1m18 0h2m7 0h1m24 0h1m20 0h3m13 0h1m14 0h1m7 0h1m13 0h2m15 0h1M347 424.5h1m6 0h1m30 0h1m4 0h1m7 0h1m60 0h1m10 0h1m11 0h1m12 0h1m7 0h1m9 0h1M354 425.5h1m25 0h1m24 0h1m1 0h1m66 0h2m6 0h1m1 0h1m5 0h1m4 0h1m7 0h1M367 426.5h2m4 0h1m36 0h1m39 0h1m12 0h1m9 0h1m7 0h2M387 427.5h1m6 0h1m3 0h1m14 0h1m42 0h1m5 0h2m7 0h1m35 0h2M402 428.5h1m10 0h1m62 0h1m23 0h1m5 0h1M357 429.5h1m68 0h2m71 0h1m5 0h1m10 0h2M374 430.5h1m77 0h2m2 0h1m11 0h1m6 0h1m8 0h1m20 0h1M376 431.5h1m11 0h1m19 0h1m54 0h1m51 0h1m2 0h1M347 432.5h1m21 0h1m27 0h1m6 0h2m97 0h1m5 0h1m4 0h2M361 433.5h1m94 0h1m25 0h1M403 434.5h1m86 0h1m9 0h1M402 435.5h1m5 0h1m76 0h1M372 436.5h1m44 0h1m83 0h1M417 437.5h1m88 0h1M484 438.5h1M499 439.5h1M354 440.5h1m30 0h1m132 0h1M354 441.5h1M524 442.5h1M379 443.5h1m74 0h1M412 444.5h1M483 445.5h1M383 446.5h1M367 447.5h1m60 0h1m42 0h1M464 448.5h1" stroke="#a8679f" stroke-width="1" fill="none" shape-rendering="crispEdges"/><path d="M352.5 362h0m8.5 0h0m4.5 0h0m1 0h0m2 0h0m1 0h0m1 0h0m4 0h0m1.5 0h0m1.5 0h0m1 0h0m1 0h0m.5 0h0m1 0h0m.5 0h0m.5 0h0m1 0h0m1 0h0m.5 0h0m1 0h0m.5 0h0m.5 0h0m.5 0h0m1.5 0h0m.5 0h0m.5 0h0m.5 0h0m.5 0h0m.5 0h0m.5 0h0m.5 0h0m.5 0h0m1 0h0m.5 0h0m.5 0h0m.5 0h0m.5 0h0m.5 0h0m.5 0h0m.5 0h0m.5 0h0m.5 0h0m.5 0h0m.5 0h0m.5 0h0m.5 0h0m.5 0h0m.5 0h0m.5 0h0m.5 0h0m.5 0h0m.5 0h0m.5 0h0m.5 0h0m.5 0h0m.5 0h0m.5 0h0m.5 0h0m.5 0h0m.5 0h0m.5 0h0m.5 0h0m.5 0h0m.5 0h0m.5 0h0m.5 0h0m.5 0h0m.5 0h0m.5 0h0m.5 0h0m.5 0h0m.5 0h0m.5 0h0m.5 0h0m.5 0h0m.5 0h0m.5 0h0m.5 0h0m.5 0h0m.5 0h0m.5 0h0m.5 0h0m.5 0h0m.5 0h0m.5 0h0m.5 0h0m.5 0h0m.5 0h0m.5 0h0m.5 0h0m.5 0h0m.5 0h0m.5 0h0m.5 0h0m.5 0h0m.5 0h0m.5 0h0m.5 0h0m.5 0h0m.5 0h0m.5 0h0m.5 0h0m.5 0h0m.5 0h0m.5 0h0m.5 0h0m.5 0h0m.5 0h0m.5 0h0m.5 0h0m.5 0h0m.5 0h0m.5 0h0m.5 0h0m.5 0h0m.5 0h0m.5 0h0m.5 0h0m.5 0h0m.5 0h0m.5 0h0m.5 0h0m.5 0h0m.5 0h0m.5 0h0m.5 0h0m.5 0h0m.5 0h0m.5 0h0m.5 0h0m.5 0h0m.5 0h0m.5 0h0m.5 0h0m.5 0h0m.5 0h0m.5 0h0m.5 0h0m.5 0h0m.5 0h0m.5 0h0m.5 0h0m.5 0h0m.5 0h0m.5 0h0m.5 0h0m.5 0h0m.5 0h0m.5 0h0m.5 0h0m.5 0h0m.5 0h0m.5 0h0m.5 0h0m.5 0h0m.5 0h0m1 0h0m4 0h0m.5 0h0m5 0h0m-88 .5h0m7.5 0h0m2.5 0h0m9 0h0m1.5 0h0m1 0h0m1.5 0h0m1 0h0m1 0h0m.5 0h0m.5 0h0m1 0h0m1 0h0m1 0h0m.5 0h0m.5 0h0m.5 0h0m1 0h0m3 0h0m4.5 0h0m.5 0h0m.5 0h0m1 0h0m1 0h0m1 0h0m1 0h0m2 0h0m3 0h0m.5 0h0m.5 0h0m1 0h0m1 0h0m.5 0h0m.5 0h0m.5 0h0m.5 0h0m.5 0h0m1 0h0m1.5 0h0m1.5 0h0m.5 0h0m2 0h0m2 0h0m3 0h0m2 0h0m.5 0h0m.5 0h0m3 0h0m4.5 0h0m-76 .5h0m1.5 0h0m2.5 0h0m4.5 0h0m1.5 0h0m2 0h0m5 0h0m2 0h0m1 0h0m3 0h0m2.5 0h0m2 0h0m1 0h0m1 0h0m3 0h0m.5 0h0m1.5 0h0m1 0h0m.5 0h0m3 0h0m1 0h0m.5 0h0m2.5 0h0m1.5 0h0m1 0h0m3 0h0m.5 0h0m.5 0h0m1 0h0m.5 0h0m3.5 0h0m1.5 0h0m2 0h0m3 0h0m1 0h0m1 0h0m3 0h0m1 0h0m2.5 0h0m4 0h0m3 0h0m1.5 0h0m7.5 0h0m-70.5 .5h0m23.5 0h0m12.5 0h0m.5 0h0m17.5 0h0m4 0h0m2.5 0h0m4 0h0m14.5 0h0m-100 .5h0m1.5 0h0m6 0h0m4.5 0h0m1 0h0m3 0h0m.5 0h0m5.5 0h0m3.5 0h0m2 0h0m15 0h0m.5 0h0m.5 0h0m1 0h0m3 0h0m29 0h0m.5 0h0m1.5 0h0m2 0h0m.5 0h0m1 0h0m1.5 0h0m2 0h0m4.5 0h0m-80.5 .5h0m2.5 0h0m1 0h0m.5 0h0m6 0h0m23.5 0h0m13 0h0m2 0h0m1 0h0m17.5 0h0m1.5 0h0m2 0h0m1 0h0m.5 0h0m3.5 0h0m6 0h0m7 0h0m-85 .5h0m3 0h0m9 0h0m.5 0h0m2.5 0h0m19 0h0m.5 0h0m8.5 0h0m2.5 0h0m17.5 0h0m1.5 0h0m3 0h0m-72 .5h0m1 0h0m1 0h0m5.5 0h0m4.5 0h0m.5 0h0m2 0h0m1 0h0m2.5 0h0m19.5 0h0m.5 0h0m10.5 0h0m.5 0h0m.5 0h0m25.5 0h0m.5 0h0m-72.5 .5h0m.5 0h0m4 0h0m.5 0h0m6.5 0h0m4 0h0m20 0h0m39.5 0h0m5 0h0m-84.5 .5h0m4 0h0m.5 0h0m1.5 0h0m.5 0h0m4.5 0h0m.5 0h0m.5 0h0m1.5 0h0m2 0h0m60 0h0m.5 0h0m2.5 0h0m2.5 0h0m11 0h0m-85 .5h0m3 0h0m2 0h0m.5 0h0m.5 0h0m1.5 0h0m61 0h0m4 0h0m-80.5 .5h0m1 0h0m2.5 0h0m9.5 0h0m1 0h0m64.5 0h0m3.5 0h0m7 0h0m-91.5 .5h0m.5 0h0m3.5 0h0m1.5 0h0m8 0h0m3 0h0m2 0h0m41 0h0m.5 0h0m29.5 0h0m.5 0h0m.5 0h0m-94 .5h0m9 0h0m2 0h0m4.5 0h0m.5 0h0m2.5 0h0m.5 0h0m45.5 0h0m21 0h0m1 0h0m2 0h0m1 0h0m-96.5 .5h0m5 0h0m7 0h0m6.5 0h0m1.5 0h0m.5 0h0m.5 0h0m1.5 0h0m1.5 0h0m1 0h0m68 0h0m.5 0h0m1 0h0m1 0h0m.5 0h0m2 0h0m1 0h0m-92.5 .5h0m.5 0h0m4 0h0m.5 0h0m4.5 0h0m1 0h0m.5 0h0m4 0h0m48.5 0h0m23 0h0m1 0h0m.5 0h0m2.5 0h0m.5 0h0m2 0h0m2 0h0m-110.5 .5h0m6 0h0m18.5 0h0m1.5 0h0m3.5 0h0m49.5 0h0m.5 0h0m22.5 0h0m4 0h0m.5 0h0m6.5 0h0m-91.5 .5h0m3.5 0h0m.5 0h0m1 0h0m1.5 0h0m3 0h0m70 0h0m6.5 0h0m1.5 0h0m5.5 0h0m.5 0h0m-95 .5h0m5.5 0h0m3.5 0h0m2.5 0h0m70 0h0m5.5 0h0m2 0h0m6 0h0m-92.5 .5h0m1.5 0h0m3 0h0m.5 0h0m1.5 0h0m1.5 0h0m71.5 0h0m4.5 0h0m5 0h0m.5 0h0m.5 0h0m.5 0h0m2.5 0h0m4.5 0h0m-109 .5h0m2.5 0h0m4.5 0h0m1 0h0m3.5 0h0m2.5 0h0m3.5 0h0m1 0h0m.5 0h0m.5 0h0m.5 0h0m72 0h0m15 0h0m-105 .5h0m7 0h0m.5 0h0m.5 0h0m4 0h0m4.5 0h0m72.5 0h0m.5 0h0m8.5 0h0m2.5 0h0m1 0h0m-99.5 .5h0m.5 0h0m5.5 0h0m.5 0h0m1 0h0m.5 0h0m2.5 0h0m.5 0h0m1.5 0h0m2 0h0m77.5 0h0m3 0h0m-99 .5h0m5 0h0m7 0h0m3 0h0m83.5 0h0m-99.5 .5h0m7 0h0m6 0h0m84.5 0h0m.5 0h0m.5 0h0m2 0h0m4.5 0h0m-103.5 .5h0m1 0h0m6.5 0h0m.5 0h0m3 0h0m-7 .5h0m5.5 0h0m.5 0h0m87 0h0m2 0h0m2 0h0m2 0h0m2 0h0m-105 .5h0m2.5 0h0m2.5 0h0m3.5 0h0m.5 0h0m1 0h0m88.5 0h0m2 0h0m2 0h0m2 0h0m.5 0h0m.5 0h0m.5 0h0m.5 0h0m-103.5 .5h0m1.5 0h0m.5 0h0m3 0h0m92 0h0m-108 .5h0m10 0h0m.5 0h0m4.5 0h0m1 0h0m91.5 0h0m1 0h0m1.5 0h0m2 0h0m.5 0h0m1.5 0h0m2 0h0m-106.5 .5h0m2 0h0m2.5 0h0m.5 0h0m.5 0h0m105 0h0m-116.5 .5h0m1 0h0m4 0h0m6.5 0h0m.5 0h0m96 0h0m4 0h0m2.5 0h0m-107.5 .5h0m1.5 0h0m.5 0h0m2 0h0m1 0h0m94 0h0m.5 0h0m2 0h0m1.5 0h0m1.5 0h0m1 0h0m5 0h0m2 0h0m-120.5 .5h0m2 0h0m8 0h0m3 0h0m97 0h0m.5 0h0m1 0h0m2 0h0m-109.5 .5h0m2.5 0h0m1 0h0m.5 0h0m103.5 0h0m.5 0h0m2.5 0h0m2.5 0h0m4.5 0h0m-120 .5h0m2.5 0h0m2.5 0h0m.5 0h0m.5 0h0m.5 0h0m2 0h0m1 0h0m.5 0h0m51 0h0m2 0h0m-68.5 .5h0m6 0h0m1.5 0h0m4 0h0m2 0h0m2.5 0h0m52.5 0h0m51 0h0m5.5 0h0m-118.5 .5h0m5 0h0m56 0h0m.5 0h0m47 0h0m2 0h0m-108.5 .5h0m3 0h0m.5 0h0m45.5 0h0m57 0h0m4.5 0h0m1 0h0m1 0h0m2 0h0m.5 0h0m-121 .5h0m9 0h0m.5 0h0m1 0h0m45 0h0m57 0h0m3.5 0h0m1.5 0h0m5 0h0m-119.5 .5h0m5 0h0m47.5 0h0m23 0h0m36.5 0h0m.5 0h0m4.5 0h0m4 0h0m-119 .5h0m1 0h0m1 0h0m48.5 0h0m59 0h0m3 0h0m3 0h0m-119 .5h0m53.5 0h0m.5 0h0m.5 0h0m60 0h0m-115 .5h0m2 0h0m.5 0h0m1.5 0h0m50 0h0m22 0h0m2.5 0h0m35.5 0h0m4 0h0m2.5 0h0m5.5 0h0m-125 .5h0m53.5 0h0m29 0h0m30.5 0h0m-112.5 .5h0m.5 0h0m81 0h0m.5 0h0m31.5 0h0m2.5 0h0m1 0h0m9.5 0h0m-126.5 .5h0m75 0h0m5 0h0m1 0h0m1.5 0h0m.5 0h0m30.5 0h0m15 0h0m-134.5 .5h0m86.5 0h0m34 0h0m6.5 0h0m3 0h0m-129.5 .5h0m2.5 0h0m1.5 0h0m.5 0h0m1.5 0h0m.5 0h0m56 0h0m1.5 0h0m6 0h0m16 0h0m2.5 0h0m30.5 0h0m.5 0h0m.5 0h0m2.5 0h0m5 0h0m1 0h0m-126.5 .5h0m3 0h0m47.5 0h0m12 0h0m.5 0h0m20.5 0h0m.5 0h0m.5 0h0m1.5 0h0m36 0h0m.5 0h0m-124 .5h0m3.5 0h0m48.5 0h0m18.5 0h0m13.5 0h0m2 0h0m1.5 0h0m33 0h0m1.5 0h0m1 0h0m-119.5 .5h0m.5 0h0m1 0h0m1 0h0m1 0h0m44.5 0h0m2 0h0m10 0h0m4.5 0h0m3.5 0h0m6 0h0m1 0h0m5.5 0h0m33.5 0h0m.5 0h0m1.5 0h0m.5 0h0m.5 0h0m1.5 0h0m8 0h0m-127 .5h0m1 0h0m1 0h0m2 0h0m44.5 0h0m18 0h0m.5 0h0m.5 0h0m1.5 0h0m5 0h0m.5 0h0m1 0h0m5 0h0m2 0h0m34 0h0m1 0h0m3.5 0h0m2 0h0m1 0h0m1 0h0m-135.5 .5h0m9.5 0h0m.5 0h0m3 0h0m.5 0h0m46.5 0h0m17.5 0h0m6 0h0m.5 0h0m3 0h0m2 0h0m4.5 0h0m32.5 0h0m1.5 0h0m6.5 0h0m-124.5 .5h0m.5 0h0m.5 0h0m3 0h0m63.5 0h0m1 0h0m2.5 0h0m9 0h0m1.5 0h0m3 0h0m31.5 0h0m1 0h0m5.5 0h0m.5 0h0m.5 0h0m2.5 0h0m6.5 0h0m-145 .5h0m12 0h0m.5 0h0m70.5 0h0m13 0h0m1.5 0h0m41.5 0h0m1 0h0m-89 .5h0m27.5 0h0m.5 0h0m7.5 0h0m2 0h0m.5 0h0m3 0h0m.5 0h0m1 0h0m3 0h0m42 0h0m.5 0h0m-125.5 .5h0m.5 0h0m60.5 0h0m3 0h0m.5 0h0m5 0h0m7 0h0m1.5 0h0m2 0h0m2 0h0m41.5 0h0m1.5 0h0m-129 .5h0m2 0h0m39.5 0h0m22 0h0m1 0h0m2.5 0h0m4.5 0h0m.5 0h0m3.5 0h0m6.5 0h0m4 0h0m40.5 0h0m6 0h0m-133 .5h0m.5 0h0m1.5 0h0m1.5 0h0m1 0h0m36.5 0h0m2.5 0h0m13 0h0m1 0h0m6.5 0h0m3.5 0h0m.5 0h0m2.5 0h0m4 0h0m5 0h0m6 0h0m1 0h0m27.5 0h0m-114.5 .5h0m1.5 0h0m40 0h0m3.5 0h0m8 0h0m1 0h0m1.5 0h0m8 0h0m4.5 0h0m6.5 0h0m1 0h0m1.5 0h0m2 0h0m3.5 0h0m4.5 0h0m26.5 0h0m.5 0h0m12 0h0m4 0h0m4.5 0h0m-92.5 .5h0m1 0h0m1.5 0h0m12 0h0m2 0h0m4 0h0m1.5 0h0m.5 0h0m.5 0h0m3.5 0h0m.5 0h0m2.5 0h0m.5 0h0m1 0h0m.5 0h0m4 0h0m6.5 0h0m13 0h0m1 0h0m15 0h0m.5 0h0m13.5 0h0m6.5 0h0m-133 .5h0m42 0h0m.5 0h0m1.5 0h0m.5 0h0m3 0h0m5 0h0m3 0h0m.5 0h0m5 0h0m1 0h0m1 0h0m1.5 0h0m4.5 0h0m.5 0h0m3.5 0h0m1.5 0h0m2.5 0h0m.5 0h0m5.5 0h0m2.5 0h0m.5 0h0m10 0h0m1.5 0h0m.5 0h0m17.5 0h0m10.5 0h0m2.5 0h0m3.5 0h0m-133.5 .5h0m1 0h0m44.5 0h0m.5 0h0m1 0h0m2 0h0m.5 0h0m4.5 0h0m3 0h0m2.5 0h0m2 0h0m4.5 0h0m1.5 0h0m.5 0h0m2 0h0m4.5 0h0m.5 0h0m2.5 0h0m1.5 0h0m3.5 0h0m2 0h0m2.5 0h0m1 0h0m9 0h0m2 0h0m16 0h0m.5 0h0m.5 0h0m12 0h0m4 0h0m.5 0h0m-133 .5h0m1 0h0m.5 0h0m36.5 0h0m6 0h0m6.5 0h0m.5 0h0m5.5 0h0m12.5 0h0m7 0h0m5 0h0m12.5 0h0m4 0h0m18.5 0h0m12.5 0h0m1.5 0h0m.5 0h0m1.5 0h0m.5 0h0m7 0h0m-138 .5h0m35.5 0h0m.5 0h0m6.5 0h0m2.5 0h0m1.5 0h0m.5 0h0m2 0h0m.5 0h0m4.5 0h0m2 0h0m1.5 0h0m1.5 0h0m2 0h0m.5 0h0m2.5 0h0m1.5 0h0m2.5 0h0m4.5 0h0m.5 0h0m6 0h0m.5 0h0m2.5 0h0m3 0h0m1 0h0m1.5 0h0m2.5 0h0m2 0h0m1.5 0h0m.5 0h0m5 0h0m1 0h0m27 0h0m5.5 0h0m2.5 0h0m2.5 0h0m-142.5 .5h0m39.5 0h0m2.5 0h0m7 0h0m1 0h0m8.5 0h0m2 0h0m1 0h0m2 0h0m7 0h0m2.5 0h0m1 0h0m1.5 0h0m1 0h0m.5 0h0m2 0h0m1.5 0h0m1 0h0m2.5 0h0m5.5 0h0m1.5 0h0m3 0h0m5.5 0h0m3 0h0m9.5 0h0m.5 0h0m1.5 0h0m1 0h0m18 0h0m3 0h0m2 0h0m-137.5 .5h0m2.5 0h0m1.5 0h0m1.5 0h0m33.5 0h0m.5 0h0m2.5 0h0m.5 0h0m5 0h0m1 0h0m1.5 0h0m16 0h0m2 0h0m1.5 0h0m7 0h0m2.5 0h0m.5 0h0m.5 0h0m7 0h0m3 0h0m6.5 0h0m4.5 0h0m2 0h0m10.5 0h0m.5 0h0m24 0h0m.5 0h0m1.5 0h0m1 0h0m3 0h0m-140.5 .5h0m1.5 0h0m33.5 0h0m3 0h0m5.5 0h0m1 0h0m2 0h0m3.5 0h0m2 0h0m5 0h0m2.5 0h0m5.5 0h0m3.5 0h0m10.5 0h0m2 0h0m8 0h0m4 0h0m17 0h0m.5 0h0m.5 0h0m20.5 0h0m-135 .5h0m3.5 0h0m43 0h0m2 0h0m.5 0h0m1 0h0m6 0h0m.5 0h0m1 0h0m2 0h0m2 0h0m3.5 0h0m1.5 0h0m7.5 0h0m3 0h0m2 0h0m4.5 0h0m1.5 0h0m1.5 0h0m3.5 0h0m3 0h0m3.5 0h0m2.5 0h0m.5 0h0m.5 0h0m.5 0h0m11 0h0m1.5 0h0m23 0h0m.5 0h0m1 0h0m3 0h0m-138.5 .5h0m1 0h0m37 0h0m6.5 0h0m1.5 0h0m.5 0h0m1.5 0h0m.5 0h0m1.5 0h0m8.5 0h0m1 0h0m.5 0h0m.5 0h0m1.5 0h0m1.5 0h0m5 0h0m2 0h0m1 0h0m.5 0h0m2.5 0h0m7 0h0m1.5 0h0m2 0h0m2.5 0h0m1.5 0h0m6 0h0m4 0h0m1.5 0h0m2 0h0m1 0h0m5 0h0m3 0h0m2 0h0m5 0h0m13 0h0m11 0h0m-150 .5h0m4.5 0h0m39 0h0m.5 0h0m3 0h0m8.5 0h0m.5 0h0m.5 0h0m.5 0h0m3.5 0h0m2.5 0h0m.5 0h0m.5 0h0m8 0h0m3.5 0h0m5 0h0m6.5 0h0m2 0h0m6 0h0m2.5 0h0m2 0h0m4.5 0h0m7.5 0h0m.5 0h0m2 0h0m1 0h0m2.5 0h0m4 0h0m5 0h0m12 0h0m.5 0h0m4.5 0h0m6 0h0m6 0h0m-148.5 .5h0m36.5 0h0m1 0h0m1.5 0h0m4.5 0h0m2 0h0m3.5 0h0m2 0h0m2 0h0m8.5 0h0m3 0h0m.5 0h0m1.5 0h0m6.5 0h0m.5 0h0m13.5 0h0m7 0h0m3 0h0m1 0h0m1.5 0h0m2.5 0h0m3 0h0m7.5 0h0m1 0h0m.5 0h0m16.5 0h0m.5 0h0m1.5 0h0m6 0h0m3 0h0m-142.5 .5h0m1 0h0m35 0h0m6.5 0h0m3.5 0h0m3 0h0m7.5 0h0m2 0h0m6 0h0m6 0h0m2 0h0m3 0h0m5 0h0m.5 0h0m.5 0h0m10.5 0h0m2.5 0h0m2.5 0h0m.5 0h0m2 0h0m1 0h0m.5 0h0m7 0h0m1 0h0m2 0h0m3.5 0h0m4.5 0h0m2 0h0m10 0h0m6.5 0h0m2.5 0h0m6.5 0h0m-151 .5h0m3 0h0m.5 0h0m1 0h0m36.5 0h0m4.5 0h0m7.5 0h0m2 0h0m2 0h0m3 0h0m6 0h0m1.5 0h0m.5 0h0m.5 0h0m8.5 0h0m.5 0h0m5.5 0h0m.5 0h0m2 0h0m.5 0h0m2 0h0m6 0h0m4.5 0h0m.5 0h0m8 0h0m2 0h0m1 0h0m4.5 0h0m1.5 0h0m.5 0h0m9.5 0h0m16.5 0h0m-96 .5h0m1 0h0m1 0h0m5.5 0h0m2.5 0h0m5.5 0h0m3.5 0h0m5 0h0m3 0h0m2 0h0m2.5 0h0m9.5 0h0m5.5 0h0m1.5 0h0m6 0h0m4 0h0m1.5 0h0m.5 0h0m3 0h0m1 0h0m1.5 0h0m3.5 0h0m19 0h0m3.5 0h0m5 0h0m.5 0h0m1 0h0m.5 0h0m5.5 0h0m-106 .5h0m2 0h0m5 0h0m7 0h0m3.5 0h0m2 0h0m2.5 0h0m10.5 0h0m2.5 0h0m8 0h0m.5 0h0m1 0h0m1.5 0h0m.5 0h0m.5 0h0m5.5 0h0m.5 0h0m5.5 0h0m1 0h0m3 0h0m1.5 0h0m3 0h0m.5 0h0m2.5 0h0m9.5 0h0m1.5 0h0m10 0h0m1.5 0h0m.5 0h0m1 0h0m9 0h0m-116 .5h0m1 0h0m14.5 0h0m2 0h0m3 0h0m4 0h0m1.5 0h0m4.5 0h0m1 0h0m13 0h0m9 0h0m4 0h0m.5 0h0m6.5 0h0m1.5 0h0m.5 0h0m5 0h0m5 0h0m2 0h0m.5 0h0m14.5 0h0m9 0h0m.5 0h0m1 0h0m1 0h0m10 0h0m-145 .5h0m2.5 0h0m.5 0h0m.5 0h0m27.5 0h0m4.5 0h0m7 0h0m1 0h0m2 0h0m5 0h0m4 0h0m2.5 0h0m3.5 0h0m4.5 0h0m.5 0h0m4 0h0m3 0h0m7 0h0m10 0h0m1.5 0h0m.5 0h0m.5 0h0m.5 0h0m16 0h0m2.5 0h0m5 0h0m7 0h0m.5 0h0m3 0h0m9.5 0h0m1 0h0m8.5 0h0m3.5 0h0m-147 .5h0m27 0h0m2.5 0h0m1.5 0h0m17.5 0h0m2 0h0m1.5 0h0m4.5 0h0m2 0h0m3 0h0m1 0h0m1.5 0h0m1 0h0m2 0h0m1 0h0m2 0h0m3.5 0h0m3.5 0h0m4.5 0h0m2.5 0h0m4 0h0m2.5 0h0m3 0h0m5 0h0m1 0h0m1 0h0m5 0h0m.5 0h0m2.5 0h0m.5 0h0m5 0h0m4 0h0m2 0h0m10 0h0m14.5 0h0m-148 .5h0m32.5 0h0m.5 0h0m1.5 0h0m1 0h0m1 0h0m1.5 0h0m4.5 0h0m.5 0h0m2 0h0m1 0h0m2 0h0m2.5 0h0m.5 0h0m1.5 0h0m1.5 0h0m14.5 0h0m4 0h0m2 0h0m9 0h0m1.5 0h0m1 0h0m1 0h0m6 0h0m18.5 0h0m.5 0h0m.5 0h0m1.5 0h0m.5 0h0m2 0h0m1.5 0h0m.5 0h0m10 0h0m1.5 0h0m2.5 0h0m3 0h0m3.5 0h0m2 0h0m1.5 0h0m.5 0h0m1 0h0m3.5 0h0m1.5 0h0m-146.5 .5h0m29 0h0m.5 0h0m3 0h0m7.5 0h0m2 0h0m1.5 0h0m.5 0h0m2 0h0m2.5 0h0m.5 0h0m1 0h0m.5 0h0m1.5 0h0m8.5 0h0m2 0h0m.5 0h0m2.5 0h0m2 0h0m4.5 0h0m4 0h0m12 0h0m6.5 0h0m4.5 0h0m7 0h0m1 0h0m5.5 0h0m1 0h0m10.5 0h0m.5 0h0m1.5 0h0m1 0h0m5 0h0m2 0h0m2.5 0h0m4 0h0m1 0h0m2 0h0m2.5 0h0m-150 .5h0m1.5 0h0m2 0h0m32 0h0m2 0h0m.5 0h0m2 0h0m1 0h0m5.5 0h0m1 0h0m7 0h0m1.5 0h0m1 0h0m5.5 0h0m.5 0h0m.5 0h0m3 0h0m2 0h0m2.5 0h0m10 0h0m7.5 0h0m.5 0h0m13 0h0m2 0h0m2 0h0m7.5 0h0m4 0h0m6.5 0h0m1 0h0m4 0h0m2 0h0m1.5 0h0m5 0h0m2.5 0h0m.5 0h0m2 0h0m1 0h0m1 0h0m1.5 0h0m.5 0h0m2 0h0m7 0h0m-153 .5h0m.5 0h0m.5 0h0m28.5 0h0m2.5 0h0m5.5 0h0m7 0h0m1.5 0h0m3 0h0m2.5 0h0m2.5 0h0m.5 0h0m.5 0h0m16 0h0m.5 0h0m.5 0h0m1 0h0m16 0h0m1 0h0m7.5 0h0m1 0h0m.5 0h0m1 0h0m3 0h0m1.5 0h0m4.5 0h0m1 0h0m2 0h0m5.5 0h0m9 0h0m1.5 0h0m2 0h0m2 0h0m6.5 0h0m7.5 0h0m5 0h0m-151 .5h0m30.5 0h0m1.5 0h0m1 0h0m.5 0h0m2.5 0h0m1 0h0m11.5 0h0m.5 0h0m2.5 0h0m2.5 0h0m3.5 0h0m5 0h0m.5 0h0m4 0h0m.5 0h0m9.5 0h0m6 0h0m6 0h0m3.5 0h0m2 0h0m3 0h0m1.5 0h0m1.5 0h0m.5 0h0m3 0h0m7.5 0h0m1 0h0m1.5 0h0m2.5 0h0m1.5 0h0m.5 0h0m3 0h0m13 0h0m.5 0h0m1 0h0m8 0h0m2.5 0h0m1 0h0m1 0h0m5.5 0h0m4.5 0h0m-160 .5h0m28.5 0h0m2 0h0m2 0h0m6 0h0m1.5 0h0m2 0h0m1 0h0m2 0h0m3 0h0m1 0h0m.5 0h0m.5 0h0m11 0h0m4 0h0m1.5 0h0m.5 0h0m8.5 0h0m1 0h0m7 0h0m1.5 0h0m.5 0h0m2 0h0m8 0h0m5 0h0m2.5 0h0m2 0h0m16 0h0m3.5 0h0m7.5 0h0m2 0h0m3.5 0h0m2 0h0m7 0h0m11.5 0h0m-159.5 .5h0m1.5 0h0m21.5 0h0m8.5 0h0m.5 0h0m2.5 0h0m3 0h0m3.5 0h0m1.5 0h0m3 0h0m.5 0h0m6.5 0h0m5.5 0h0m1.5 0h0m.5 0h0m2.5 0h0m6 0h0m11 0h0m1 0h0m3 0h0m5.5 0h0m4 0h0m11 0h0m2.5 0h0m3.5 0h0m1 0h0m.5 0h0m7.5 0h0m.5 0h0m2 0h0m5.5 0h0m1 0h0m2.5 0h0m1 0h0m1 0h0m1 0h0m.5 0h0m6.5 0h0m8 0h0m11 0h0m-158 .5h0m22.5 0h0m.5 0h0m4.5 0h0m1.5 0h0m.5 0h0m1.5 0h0m5 0h0m.5 0h0m2 0h0m5.5 0h0m4 0h0m5 0h0m1 0h0m3.5 0h0m.5 0h0m3 0h0m2 0h0m7.5 0h0m1.5 0h0m3.5 0h0m9 0h0m2 0h0m5.5 0h0m4 0h0m1.5 0h0m8.5 0h0m2 0h0m4.5 0h0m1 0h0m2.5 0h0m1 0h0m1 0h0m3 0h0m5 0h0m1 0h0m3 0h0m8.5 0h0m.5 0h0m1.5 0h0m2.5 0h0m3 0h0m.5 0h0m2.5 0h0m.5 0h0m.5 0h0m2.5 0h0m5.5 0h0m-135 .5h0m6 0h0m2.5 0h0m1 0h0m4 0h0m7.5 0h0m2 0h0m5.5 0h0m1.5 0h0m4.5 0h0m13.5 0h0m5 0h0m15.5 0h0m3 0h0m5.5 0h0m4.5 0h0m2.5 0h0m5 0h0m1 0h0m4 0h0m.5 0h0m6.5 0h0m3 0h0m7.5 0h0m4.5 0h0m5 0h0m12 0h0m-157.5 .5h0m21.5 0h0m3.5 0h0m3 0h0m1.5 0h0m6.5 0h0m.5 0h0m4.5 0h0m1 0h0m4 0h0m1.5 0h0m1 0h0m1.5 0h0m2 0h0m4 0h0m8 0h0m9 0h0m14 0h0m1.5 0h0m18.5 0h0m5 0h0m1.5 0h0m3 0h0m2 0h0m4 0h0m1 0h0m1 0h0m2 0h0m2 0h0m1 0h0m3.5 0h0m1 0h0m6.5 0h0m2 0h0m2 0h0m5 0h0m2.5 0h0m2 0h0m3 0h0m.5 0h0m-158 .5h0m24.5 0h0m.5 0h0m6 0h0m.5 0h0m3 0h0m1 0h0m.5 0h0m3 0h0m9 0h0m1 0h0m3.5 0h0m2 0h0m3.5 0h0m4.5 0h0m2.5 0h0m4 0h0m3 0h0m2 0h0m7.5 0h0m.5 0h0m1.5 0h0m1 0h0m10.5 0h0m6.5 0h0m.5 0h0m1.5 0h0m3 0h0m3.5 0h0m3.5 0h0m.5 0h0m1 0h0m2.5 0h0m10 0h0m2 0h0m4 0h0m8 0h0m.5 0h0m2 0h0m.5 0h0m.5 0h0m3.5 0h0m.5 0h0m9 0h0m-159 .5h0m23 0h0m.5 0h0m7.5 0h0m3.5 0h0m7.5 0h0m4.5 0h0m5 0h0m8 0h0m1.5 0h0m1 0h0m14 0h0m12.5 0h0m8.5 0h0m9 0h0m.5 0h0m4.5 0h0m7 0h0m1.5 0h0m2 0h0m1.5 0h0m10 0h0m1.5 0h0m4 0h0m1 0h0m.5 0h0m1 0h0m1 0h0m1 0h0m1.5 0h0m.5 0h0m.5 0h0m2.5 0h0m1 0h0m2 0h0m2 0h0m.5 0h0m3.5 0h0m3.5 0h0m-159 .5h0m.5 0h0m22 0h0m2 0h0m3.5 0h0m3.5 0h0m1 0h0m.5 0h0m1.5 0h0m1 0h0m3.5 0h0m2.5 0h0m8 0h0m6 0h0m6 0h0m1.5 0h0m6 0h0m8 0h0m9 0h0m10.5 0h0m4 0h0m13.5 0h0m8.5 0h0m1.5 0h0m3.5 0h0m.5 0h0m3.5 0h0m1.5 0h0m1.5 0h0m6 0h0m6 0h0m.5 0h0m5.5 0h0m-129.5 .5h0m4.5 0h0m2.5 0h0m.5 0h0m5.5 0h0m4.5 0h0m2 0h0m2.5 0h0m4 0h0m.5 0h0m2 0h0m5.5 0h0m6.5 0h0m1 0h0m.5 0h0m2 0h0m1.5 0h0m2 0h0m17 0h0m3.5 0h0m10 0h0m.5 0h0m1 0h0m3.5 0h0m1 0h0m.5 0h0m1 0h0m2 0h0m9.5 0h0m2 0h0m1.5 0h0m.5 0h0m3.5 0h0m8 0h0m1.5 0h0m4.5 0h0m3 0h0m.5 0h0m5.5 0h0m8.5 0h0m-160 .5h0m30.5 0h0m2.5 0h0m5.5 0h0m1.5 0h0m1 0h0m1 0h0m.5 0h0m5.5 0h0m7 0h0m5.5 0h0m1.5 0h0m.5 0h0m6 0h0m2 0h0m2 0h0m8.5 0h0m1.5 0h0m2.5 0h0m1 0h0m1 0h0m16.5 0h0m6 0h0m7.5 0h0m1 0h0m3 0h0m.5 0h0m4 0h0m1 0h0m2 0h0m1 0h0m1 0h0m1 0h0m3.5 0h0m.5 0h0m5.5 0h0m1.5 0h0m2.5 0h0m.5 0h0m.5 0h0m2 0h0m3.5 0h0m1.5 0h0m1 0h0m9.5 0h0m-163.5 .5h0m30.5 0h0m6.5 0h0m3.5 0h0m6 0h0m2.5 0h0m3 0h0m.5 0h0m2 0h0m3 0h0m4.5 0h0m2 0h0m17 0h0m8 0h0m23 0h0m1 0h0m7.5 0h0m3.5 0h0m2 0h0m1 0h0m3 0h0m2 0h0m4.5 0h0m.5 0h0m3.5 0h0m.5 0h0m1 0h0m2 0h0m4.5 0h0m2 0h0m3.5 0h0m-131 .5h0m2.5 0h0m3.5 0h0m.5 0h0m1 0h0m1.5 0h0m1 0h0m1.5 0h0m6.5 0h0m1.5 0h0m.5 0h0m4 0h0m1 0h0m7 0h0m8 0h0m4 0h0m6.5 0h0m10.5 0h0m.5 0h0m10.5 0h0m5 0h0m7.5 0h0m7 0h0m1.5 0h0m10 0h0m8 0h0m1.5 0h0m.5 0h0m1 0h0m1 0h0m2 0h0m5.5 0h0m2.5 0h0m.5 0h0m2.5 0h0m9 0h0m-138 .5h0m4 0h0m1.5 0h0m4.5 0h0m6 0h0m1 0h0m2 0h0m2.5 0h0m5 0h0m3.5 0h0m6 0h0m1.5 0h0m2.5 0h0m5.5 0h0m3 0h0m11 0h0m18 0h0m5.5 0h0m5.5 0h0m2 0h0m6 0h0m3.5 0h0m.5 0h0m4 0h0m2.5 0h0m2.5 0h0m2 0h0m6 0h0m3.5 0h0m1 0h0m3 0h0m2.5 0h0m2.5 0h0m2 0h0m6 0h0m-161 .5h0m18.5 0h0m4 0h0m4 0h0m4 0h0m5 0h0m1 0h0m1.5 0h0m3.5 0h0m5.5 0h0m1.5 0h0m17 0h0m8.5 0h0m1 0h0m31 0h0m4 0h0m13 0h0m.5 0h0m15 0h0m1.5 0h0m5.5 0h0m5 0h0m.5 0h0m1 0h0m4.5 0h0m1 0h0m-158.5 .5h0m20.5 0h0m2 0h0m8 0h0m.5 0h0m3 0h0m.5 0h0m5.5 0h0m1 0h0m2.5 0h0m3.5 0h0m7.5 0h0m1.5 0h0m1.5 0h0m.5 0h0m8.5 0h0m4.5 0h0m2.5 0h0m3 0h0m13 0h0m4.5 0h0m8.5 0h0m3 0h0m5 0h0m1.5 0h0m.5 0h0m1 0h0m4 0h0m3 0h0m1.5 0h0m.5 0h0m12.5 0h0m.5 0h0m5 0h0m1.5 0h0m2 0h0m2.5 0h0m2.5 0h0m3 0h0m2.5 0h0m2.5 0h0m7.5 0h0m-162 .5h0m16 0h0m1.5 0h0m1.5 0h0m3.5 0h0m2.5 0h0m10.5 0h0m17.5 0h0m4 0h0m26.5 0h0m1.5 0h0m12 0h0m3.5 0h0m12.5 0h0m3 0h0m2 0h0m7 0h0m.5 0h0m2.5 0h0m4.5 0h0m11.5 0h0m5 0h0m4.5 0h0m4 0h0m5 0h0m-162.5 .5h0m16 0h0m7 0h0m1.5 0h0m1 0h0m4 0h0m1.5 0h0m1 0h0m2 0h0m24 0h0m2 0h0m9 0h0m12.5 0h0m24 0h0m1 0h0m3.5 0h0m1 0h0m4 0h0m16.5 0h0m7.5 0h0m1 0h0m.5 0h0m2.5 0h0m3 0h0m1.5 0h0m1 0h0m2.5 0h0m1 0h0m.5 0h0m4 0h0m1 0h0m1 0h0m-160 .5h0m1 0h0m16 0h0m4.5 0h0m2 0h0m1 0h0m1.5 0h0m14.5 0h0m.5 0h0m2 0h0m2.5 0h0m1.5 0h0m3 0h0m6.5 0h0m3.5 0h0m8.5 0h0m1 0h0m23 0h0m6.5 0h0m4.5 0h0m2.5 0h0m6.5 0h0m2 0h0m4 0h0m2 0h0m4.5 0h0m.5 0h0m10 0h0m.5 0h0m1 0h0m2.5 0h0m2 0h0m1.5 0h0m2 0h0m4.5 0h0m4 0h0m4 0h0m2.5 0h0m-160 .5h0m16.5 0h0m3.5 0h0m1.5 0h0m4 0h0m4 0h0m11 0h0m2.5 0h0m4 0h0m2.5 0h0m1.5 0h0m2.5 0h0m3.5 0h0m6.5 0h0m3 0h0m5.5 0h0m23.5 0h0m2 0h0m10 0h0m4 0h0m5 0h0m6 0h0m7 0h0m4 0h0m2.5 0h0m.5 0h0m1 0h0m.5 0h0m1 0h0m4 0h0m3.5 0h0m1 0h0m8 0h0m7.5 0h0m-163 .5h0m16.5 0h0m.5 0h0m2 0h0m4 0h0m2 0h0m1 0h0m4 0h0m5 0h0m1 0h0m14.5 0h0m2 0h0m3 0h0m2 0h0m9 0h0m8 0h0m5.5 0h0m16 0h0m1.5 0h0m18.5 0h0m3 0h0m5 0h0m3 0h0m4.5 0h0m3 0h0m1.5 0h0m2 0h0m6.5 0h0m1 0h0m3 0h0m6.5 0h0m2 0h0m2.5 0h0m3.5 0h0m-163 .5h0m.5 0h0m15.5 0h0m2 0h0m7.5 0h0m9 0h0m11 0h0m2.5 0h0m37 0h0m5.5 0h0m1.5 0h0m12.5 0h0m7 0h0m10.5 0h0m1 0h0m14.5 0h0m1.5 0h0m2.5 0h0m2.5 0h0m1.5 0h0m2 0h0m1 0h0m.5 0h0m.5 0h0m2.5 0h0m3.5 0h0m1 0h0m4.5 0h0m1 0h0m-162.5 .5h0m.5 0h0m15 0h0m.5 0h0m3 0h0m3.5 0h0m3 0h0m.5 0h0m2.5 0h0m3 0h0m2.5 0h0m10 0h0m36 0h0m11.5 0h0m4 0h0m12.5 0h0m.5 0h0m5 0h0m6.5 0h0m10.5 0h0m4.5 0h0m.5 0h0m1.5 0h0m11 0h0m2 0h0m.5 0h0m7.5 0h0m1.5 0h0m8 0h0m-148 .5h0m.5 0h0m1.5 0h0m7 0h0m3.5 0h0m6.5 0h0m16 0h0m21.5 0h0m11 0h0m12 0h0m23 0h0m2.5 0h0m5 0h0m1.5 0h0m2.5 0h0m6 0h0m9 0h0m2.5 0h0m7.5 0h0m1 0h0m3 0h0m5 0h0m1 0h0m-168.5 .5h0m.5 0h0m15.5 0h0m3 0h0m3 0h0m4 0h0m2.5 0h0m4.5 0h0m8.5 0h0m4 0h0m26 0h0m10 0h0m3 0h0m3 0h0m4.5 0h0m3.5 0h0m24 0h0m4.5 0h0m7.5 0h0m3 0h0m3.5 0h0m2 0h0m3 0h0m4 0h0m3.5 0h0m3.5 0h0m3 0h0m2 0h0m2 0h0m5.5 0h0m-158.5 .5h0m4 0h0m6 0h0m1 0h0m3 0h0m9 0h0m2.5 0h0m2 0h0m2.5 0h0m2 0h0m9.5 0h0m2.5 0h0m4.5 0h0m9.5 0h0m7.5 0h0m10.5 0h0m1 0h0m28 0h0m4 0h0m.5 0h0m12 0h0m8.5 0h0m3 0h0m3.5 0h0m.5 0h0m1 0h0m3.5 0h0m2.5 0h0m2 0h0m.5 0h0m.5 0h0m2.5 0h0m3.5 0h0m-144.5 .5h0m1 0h0m1.5 0h0m2 0h0m6 0h0m.5 0h0m9 0h0m5 0h0m18 0h0m9.5 0h0m8 0h0m1.5 0h0m11.5 0h0m3 0h0m.5 0h0m3 0h0m18.5 0h0m5 0h0m.5 0h0m8.5 0h0m20 0h0m3.5 0h0m2.5 0h0m11 0h0m-166 .5h0m.5 0h0m7.5 0h0m3 0h0m.5 0h0m8.5 0h0m4.5 0h0m.5 0h0m6 0h0m2.5 0h0m5 0h0m3 0h0m9 0h0m.5 0h0m3.5 0h0m7 0h0m3.5 0h0m1 0h0m7 0h0m11 0h0m27.5 0h0m9.5 0h0m13 0h0m5 0h0m1 0h0m1 0h0m.5 0h0m5 0h0m.5 0h0m9.5 0h0m3 0h0m-158.5 .5h0m5 0h0m1.5 0h0m3.5 0h0m2 0h0m.5 0h0m.5 0h0m7.5 0h0m9 0h0m2 0h0m6 0h0m1 0h0m4 0h0m2.5 0h0m.5 0h0m6 0h0m.5 0h0m1.5 0h0m20 0h0m7 0h0m12.5 0h0m14.5 0h0m1 0h0m20 0h0m1 0h0m9 0h0m4 0h0m3 0h0m5.5 0h0m2.5 0h0m3.5 0h0m-156.5 .5h0m6.5 0h0m7 0h0m2.5 0h0m23 0h0m7.5 0h0m9 0h0m6 0h0m5.5 0h0m19.5 0h0m24 0h0m13 0h0m3.5 0h0m16 0h0m2.5 0h0m2.5 0h0m1 0h0m1 0h0m3.5 0h0m6 0h0m-160.5 .5h0m2.5 0h0m1 0h0m.5 0h0m6.5 0h0m1 0h0m1 0h0m8.5 0h0m3 0h0m3 0h0m2 0h0m1 0h0m.5 0h0m2.5 0h0m5 0h0m5 0h0m31.5 0h0m24.5 0h0m15 0h0m2.5 0h0m4 0h0m8.5 0h0m5 0h0m2.5 0h0m3.5 0h0m.5 0h0m1 0h0m5 0h0m2.5 0h0m8 0h0m.5 0h0m4 0h0m-159.5 .5h0m4 0h0m1.5 0h0m7.5 0h0m9 0h0m4 0h0m2 0h0m2.5 0h0m2.5 0h0m2 0h0m1 0h0m4.5 0h0m10 0h0m5 0h0m18 0h0m15 0h0m2 0h0m6.5 0h0m1.5 0h0m6.5 0h0m30 0h0m2 0h0m3.5 0h0m2.5 0h0m3 0h0m5.5 0h0m2.5 0h0m.5 0h0m2.5 0h0m1.5 0h0m4 0h0m2 0h0m4 0h0m-168 .5h0m1 0h0m7.5 0h0m28 0h0m32 0h0m3 0h0m23.5 0h0m7.5 0h0m11 0h0m1 0h0m17 0h0m3 0h0m1 0h0m6.5 0h0m3.5 0h0m2 0h0m1.5 0h0m1 0h0m1.5 0h0m2.5 0h0m3 0h0m.5 0h0m-159 .5h0m3.5 0h0m3.5 0h0m9 0h0m3.5 0h0m.5 0h0m1 0h0m1.5 0h0m15.5 0h0m2 0h0m.5 0h0m6 0h0m3 0h0m9 0h0m31 0h0m13 0h0m3.5 0h0m6.5 0h0m11.5 0h0m1.5 0h0m17.5 0h0m5 0h0m2.5 0h0m.5 0h0m6.5 0h0m1 0h0m.5 0h0m5 0h0m3 0h0m-163 .5h0m5.5 0h0m5.5 0h0m11 0h0m11 0h0m3.5 0h0m17.5 0h0m.5 0h0m2.5 0h0m9.5 0h0m4.5 0h0m23 0h0m.5 0h0m6 0h0m.5 0h0m20.5 0h0m14.5 0h0m9 0h0m.5 0h0m6.5 0h0m3.5 0h0m5 0h0m1.5 0h0m-164.5 .5h0m4.5 0h0m18 0h0m9 0h0m3 0h0m2.5 0h0m5 0h0m4.5 0h0m15.5 0h0m46 0h0m12.5 0h0m3 0h0m9.5 0h0m5.5 0h0m4.5 0h0m5 0h0m3.5 0h0m6.5 0h0m2 0h0m1.5 0h0m2 0h0m.5 0h0m-164.5 .5h0m.5 0h0m6 0h0m18 0h0m15 0h0m.5 0h0m18.5 0h0m58 0h0m1 0h0m2.5 0h0m4.5 0h0m14 0h0m12 0h0m4.5 0h0m.5 0h0m1 0h0m-156.5 .5h0m1.5 0h0m13 0h0m16 0h0m8.5 0h0m.5 0h0m14.5 0h0m29 0h0m1 0h0m34.5 0h0m2 0h0m9 0h0m2.5 0h0m21 0h0m3 0h0m4.5 0h0m2 0h0m3.5 0h0m-150.5 .5h0m31 0h0m4.5 0h0m5 0h0m3 0h0m29 0h0m18 0h0m1 0h0m3 0h0m2.5 0h0m14 0h0m4.5 0h0m4.5 0h0m.5 0h0m19 0h0m2.5 0h0m2 0h0m7 0h0m-158 .5h0m1 0h0m6 0h0m1 0h0m1 0h0m13.5 0h0m6.5 0h0m12.5 0h0m33.5 0h0m13.5 0h0m7.5 0h0m2.5 0h0m14 0h0m22.5 0h0m5.5 0h0m25.5 0h0m-168.5 .5h0m51.5 0h0m15 0h0m30.5 0h0m22 0h0m11 0h0m2 0h0m4.5 0h0m4 0h0m1 0h0m10.5 0h0m13.5 0h0m-170.5 .5h0m12.5 0h0m7 0h0m14 0h0m5 0h0m5.5 0h0m8 0h0m61 0h0m4 0h0m32 0h0m3.5 0h0m14.5 0h0m3.5 0h0m4 0h0m-173.5 .5h0m.5 0h0m6 0h0m3.5 0h0m29.5 0h0m1.5 0h0m17 0h0m3 0h0m29 0h0m33.5 0h0m3 0h0m1.5 0h0m6.5 0h0m.5 0h0m2 0h0m11 0h0m2.5 0h0m14 0h0m-158 .5h0m26.5 0h0m27 0h0m45 0h0m37.5 0h0m5.5 0h0m8 0h0m-124.5 .5h0m18 0h0m3 0h0m5 0h0m2 0h0m3 0h0m.5 0h0m12 0h0m7.5 0h0m20.5 0h0m3 0h0m10 0h0m11.5 0h0m16 0h0m17.5 0h0m2.5 0h0m-143.5 .5h0m1 0h0m5 0h0m20.5 0h0m26 0h0m1 0h0m25.5 0h0m27 0h0m7.5 0h0m2 0h0m24 0h0m-134.5 .5h0m22.5 0h0m19 0h0m11 0h0m24 0h0m7.5 0h0m41.5 0h0m13.5 0h0m-125 .5h0m1.5 0h0m6.5 0h0m4 0h0m14.5 0h0m49.5 0h0m2.5 0h0m6.5 0h0m2.5 0h0m9 0h0m24 0h0m1 0h0m-154 .5h0m32 0h0m2 0h0m4 0h0m25.5 0h0m17.5 0h0m6 0h0m14.5 0h0m1 0h0m7 0h0m1.5 0h0m11 0h0m17.5 0h0m1 0h0m6 0h0m-148 .5h0m50 0h0m11 0h0m78.5 0h0m14 0h0m-122 .5h0m14 0h0m13.5 0h0m18.5 0h0m12.5 0h0m35 0h0m25 0h0m9.5 0h0m3.5 0h0m2 0h0m-160 .5h0m68.5 0h0m1.5 0h0m19 0h0m5.5 0h0m27 0h0m19 0h0m1.5 0h0m16.5 0h0m-163 .5h0m21.5 0h0m81.5 0h0m25 0h0m24 0h0m-118 .5h0m29 0h0m36 0h0m1.5 0h0m15 0h0m7 0h0m8.5 0h0m.5 0h0m2.5 0h0m18.5 0h0m-126 .5h0m8.5 0h0m21 0h0m54 0h0m8 0h0m18 0h0m30 0h0m-149.5 .5h0m7 0h0m20.5 0h0m24 0h0m12 0h0m30 0h0m29 0h0m23.5 0h0m3 0h0m-171 .5h0m26.5 0h0m14.5 0h0m15 0h0m1 0h0m4.5 0h0m29.5 0h0m32.5 0h0m13 0h0m3 0h0m22.5 0h0m-140 .5h0m30.5 0h0m6 0h0m74 0h0m23 0h0m11.5 0h0m1 0h0m-168 .5h0m9.5 0h0m41 0h0m58.5 0h0m5 0h0m-100 .5h0m18.5 0h0m102.5 0h0m29 0h0m-140 .5h0m5 0h0m1 0h0m22.5 0h0m3.5 0h0m8.5 0h0m26 0h0m-55.5 .5h0m12 0h0m78.5 0h0m17 0h0m10.5 0h0m-128.5 .5h0m93.5 0h0m7 0h0m21.5 0h0m8.5 0h0m3.5 0h0m-155 .5h0m51 0h0m6.5 0h0m76.5 0h0m17 0h0m-55 .5h0m29 0h0m13.5 0h0m-132 .5h0m14.5 0h0m45 0h0m84.5 0h0m-121 .5h0m3.5 0h0m9.5 0h0m65 0h0m15 0h0m58.5 0h0m-181 .5h0m66.5 0h0m13.5 0h0m75.5 0h0m-68 .5h0m46 0h0m11.5 0h0m21 0h0m-31 .5h0m29 0h0m15 0h0m-161 .5h0m1.5 0h0m5.5 0h0m4.5 0h0m18.5 0h0m21.5 0h0m32.5 0h0m37 0h0m-62 .5h0m37 0h0m27 0h0m7.5 0h0m22 0h0m-135.5 .5h0m48.5 0h0m81.5 0h0m2 0h0m9.5 0h0m3.5 0h0m-177 .5h0m20.5 0h0m75.5 0h0m27 0h0m31.5 0h0m10 0h0m-133.5 .5h0m8 0h0m118 .5h0m-157 .5h0m165 0h0m5.5 0h0m-152.5 .5h0m18 0h0m133.5 .5h0m-161.5 .5h0m17.5 0h0m12.5 0h0m49 0h0m13.5 0h0m30.5 0h0m18 0h0m-108.5 .5h0m42.5 0h0m-66.5 .5h0m42 0h0m-34 .5h0m5.5 0h0m86 .5h0m13.5 0h0m-102.5 .5h0m68.5 0h0m-93 1h0m14 0h0m12.5 0h0m4.5 0h0m16 0h0m71 0h0m-107 .5h0m61 0h0m43 0h0m-7.5 .5h0" stroke="#a8679f" stroke-width="1.7" stroke-linecap="round" fill="none"/></g>
<polyline points="317,434 319.7,432.21 322.41,430.37 325.11,428.49 327.81,426.57 330.52,424.61 333.22,422.61 335.93,420.56 338.63,418.48 341.33,416.36 344.04,414.21 346.74,412.03 349.44,409.82 352.15,407.58 354.85,405.32 357.56,403.05 360.26,400.77 362.96,398.48 365.67,396.19 368.37,393.91 371.07,391.64 373.78,389.4 376.48,387.18 379.19,385.01 381.89,382.88 384.59,380.81 387.3,378.81 390,376.89 392.7,375.05 395.41,373.32 398.11,371.69 400.82,370.18 403.52,368.79 406.22,367.55 408.93,366.44 411.63,365.49 414.33,364.7 417.04,364.07 419.74,363.61 422.45,363.32 425.15,363.2 427.85,363.26 430.56,363.49 433.26,363.89 435.96,364.46 438.67,365.19 441.37,366.08 444.08,367.13 446.78,368.31 449.48,369.64 452.19,371.09 454.89,372.66 457.59,374.33 460.3,376.11 463,377.97 465.71,379.91 468.41,381.92 471.11,383.99 473.82,386.1 476.52,388.26 479.22,390.44 481.93,392.65 484.63,394.87 487.34,397.1 490.04,399.33 492.74,401.55 495.45,403.76 498.15,405.96 500.86,408.14 503.56,410.29 506.26,412.41 508.97,414.5 511.67,416.56 514.37,418.58 517.08,420.57 519.78,422.51 522.49,424.41 525.19,426.27 527.89,428.09 530.6,429.87 533.3,431.6" fill="none" stroke="#ff1a1a" stroke-width="1.6" stroke-linejoin="round"/>
<rect x="308.6" y="358.3" width="233" height="98.4" fill="none" stroke="#707070" stroke-width="1"/>
<path d="M317 456.7v3.6M360.26 456.7v3.6M403.52 456.7v3.6M446.78 456.7v3.6M490.04 456.7v3.6M533.3 456.7v3.6M305 436.4h3.6M305 412.4h3.6M305 388.4h3.6M305 364.4h3.6" stroke="#707070" stroke-width="0.9" fill="none"/>
<text x="317" y="468.43" class="tk" text-anchor="middle">0.0</text>
<text x="360.26" y="468.43" class="tk" text-anchor="middle">0.2</text>
<text x="403.52" y="468.43" class="tk" text-anchor="middle">0.4</text>
<text x="446.78" y="468.43" class="tk" text-anchor="middle">0.6</text>
<text x="490.04" y="468.43" class="tk" text-anchor="middle">0.8</text>
<text x="533.3" y="468.43" class="tk" text-anchor="middle">1.0</text>
<text class="tk" text-anchor="middle" transform="translate(301.03 436.4) rotate(-90)">30</text>
<text class="tk" text-anchor="middle" transform="translate(301.03 412.4) rotate(-90)">40</text>
<text class="tk" text-anchor="middle" transform="translate(301.03 388.4) rotate(-90)">50</text>
<text class="tk" text-anchor="middle" transform="translate(301.03 364.4) rotate(-90)">60</text>
<text x="308.3" y="346.8" class="ti">Tapinoma geei</text>
<text x="428.9" y="478.6" class="lb" text-anchor="middle">GC3s</text>
<text class="lb" text-anchor="middle" transform="translate(294.1 398.35) rotate(-90)">ENC</text>
<g filter="url(#bl)"><path d="M104 527.5h2m1 0h3m1 0h71m1 0h2m3 0h1m1 0h1M115 528.5h1m1 0h2m3 0h4m1 0h2m2 0h3m1 0h4m1 0h32m2 0h3m1 0h4M111 529.5h1m8 0h3m2 0h5m1 0h2m3 0h3m1 0h2m2 0h10m2 0h5m1 0h2m2 0h5m2 0h4m2 0h1m1 0h1m2 0h2M120 530.5h1m1 0h2m1 0h5m1 0h2m2 0h3m6 0h7m1 0h2m1 0h7m2 0h1m3 0h3m1 0h2m1 0h5m1 0h2m3 0h1M114 531.5h6m1 0h15m1 0h8m1 0h4m1 0h10m3 0h4m1 0h5m3 0h5m4 0h1M112 532.5h1m2 0h2m3 0h16m1 0h1m1 0h5m2 0h3m2 0h24m2 0h1m1 0h1m4 0h2m2 0h1M110 533.5h4m3 0h1m1 0h7m1 0h3m2 0h12m1 0h20m1 0h14m2 0h1m1 0h2m3 0h1M107 534.5h2m1 0h4m2 0h10m1 0h31m1 0h10m1 0h12m1 0h3m1 0h2m2 0h1m1 0h1M100 535.5h2m5 0h2m2 0h1m2 0h1m1 0h1m2 0h4m1 0h9m1 0h5m1 0h23m1 0h23m4 0h1M103 536.5h6m1 0h2m2 0h7m2 0h3m1 0h5m2 0h40m1 0h13M105 537.5h1m1 0h14m2 0h5m1 0h58m2 0h1m4 0h3M105 538.5h1m1 0h10m1 0h4m2 0h27m1 0h36m1 0h1m2 0h1M102 539.5h1m2 0h17m1 0h57m1 0h9m2 0h1m4 0h1M102 540.5h3m1 0h1m1 0h33m1 0h6m1 0h44m2 0h4M102 541.5h1m1 0h11m1 0h21m2 0h56m1 0h1m1 0h1M100 542.5h28m1 0h11m1 0h15m1 0h37m3 0h1M102 543.5h3m1 0h1m1 0h61m1 0h25M80 544.5h1m3 0h1m14 0h6m1 0h13m2 0h5m1 0h14m1 0h7m2 0h18m1 0h5m1 0h18m1 0h2m4 0h2M99 545.5h1m2 0h41m1 0h23m1 0h24m1 0h4m7 0h1M99 546.5h34m1 0h3m1 0h5m1 0h5m1 0h2m2 0h4m2 0h13m1 0h17m1 0h9m5 0h1M80 547.5h1m16 0h2m2 0h32m1 0h10m1 0h3m3 0h1m1 0h47m8 0h1M80 548.5h1m12 0h1m3 0h27m1 0h7m1 0h3m1 0h9m3 0h1m3 0h3m4 0h2m1 0h12m1 0h24m3 0h1m6 0h1M89 549.5h2m2 0h1m6 0h20m1 0h7m1 0h1m1 0h1m1 0h3m1 0h6m2 0h8m1 0h1m2 0h1m2 0h2m1 0h2m2 0h2m1 0h5m1 0h14m2 0h2m1 0h3m1 0h5m6 0h1M98 550.5h29m2 0h1m1 0h1m3 0h2m1 0h5m1 0h7m1 0h1m1 0h1m2 0h3m2 0h9m1 0h7m1 0h12m1 0h13M92 551.5h1m2 0h2m1 0h36m1 0h3m1 0h1m4 0h5m2 0h2m4 0h5m2 0h3m2 0h1m2 0h7m1 0h7m1 0h3m2 0h8m1 0h3m2 0h1m3 0h1M92 552.5h1m1 0h32m1 0h4m1 0h3m2 0h3m3 0h1m5 0h4m3 0h1m3 0h3m2 0h1m1 0h1m1 0h1m1 0h5m1 0h2m2 0h3m2 0h5m1 0h10m3 0h1M92 553.5h2m1 0h2m1 0h33m3 0h1m2 0h3m1 0h3m1 0h3m2 0h1m5 0h1m2 0h7m3 0h1m4 0h8m1 0h1m2 0h16m2 0h3M87 554.5h1m3 0h1m4 0h26m1 0h2m4 0h3m2 0h3m1 0h3m1 0h1m1 0h1m2 0h2m1 0h1m2 0h1m3 0h1m3 0h4m4 0h1m4 0h4m2 0h3m3 0h11m3 0h6M87 555.5h1m3 0h5m1 0h25m3 0h1m2 0h3m1 0h2m1 0h1m2 0h2m2 0h1m2 0h1m1 0h1m1 0h2m4 0h2m1 0h8m1 0h1m2 0h3m1 0h5m1 0h1m3 0h2m1 0h1m1 0h3m2 0h2m1 0h1m2 0h2m2 0h2M88 556.5h16m1 0h13m1 0h1m1 0h1m3 0h1m1 0h1m1 0h1m2 0h5m2 0h1m1 0h2m2 0h1m2 0h3m3 0h2m3 0h7m6 0h2m1 0h2m2 0h1m3 0h1m3 0h5m6 0h4m1 0h4m4 0h2m1 0h1M89 557.5h12m1 0h16m1 0h5m2 0h4m1 0h1m2 0h2m2 0h5m6 0h3m2 0h1m1 0h1m2 0h2m1 0h1m3 0h1m2 0h2m1 0h5m6 0h2m4 0h10m3 0h6m1 0h6M76 558.5h1m9 0h1m2 0h28m3 0h3m4 0h3m1 0h2m1 0h2m1 0h6m14 0h1m1 0h1m1 0h1m2 0h1m5 0h1m1 0h1m3 0h1m2 0h1m1 0h2m2 0h3m1 0h1m1 0h2m3 0h7m3 0h2m1 0h3m2 0h1M78 559.5h1m7 0h2m1 0h6m1 0h22m2 0h8m1 0h1m1 0h3m3 0h3m2 0h3m11 0h1m2 0h1m8 0h1m1 0h1m5 0h1m4 0h1m3 0h4m2 0h2m1 0h7m2 0h8m1 0h2m1 0h1m2 0h1M85 560.5h26m1 0h6m2 0h1m2 0h6m1 0h1m1 0h1m3 0h1m19 0h1m6 0h1m2 0h1m2 0h3m4 0h1m8 0h1m6 0h1m1 0h6m2 0h11m2 0h1M84 561.5h26m1 0h6m1 0h1m1 0h1m3 0h1m2 0h1m1 0h1m2 0h1m2 0h1m3 0h2m10 0h1m3 0h3m8 0h1m8 0h1m3 0h1m6 0h1m5 0h3m1 0h4m2 0h9m1 0h2m2 0h1M81 562.5h1m3 0h28m1 0h1m1 0h1m1 0h2m5 0h3m3 0h1m2 0h2m3 0h2m3 0h1m12 0h1m2 0h1m5 0h1m13 0h2m2 0h2m2 0h3m1 0h1m1 0h1m2 0h2m1 0h6m3 0h2m2 0h1m1 0h1M81 563.5h3m1 0h22m1 0h3m5 0h2m1 0h1m5 0h1m2 0h1m3 0h1m1 0h1m9 0h2m12 0h2m4 0h3m4 0h1m10 0h4m3 0h3m2 0h1m2 0h2m2 0h2m4 0h4m1 0h2m3 0h1M83 564.5h2m1 0h19m3 0h3m5 0h1m2 0h2m29 0h1m15 0h2m1 0h1m1 0h1m2 0h2m10 0h4m4 0h1m1 0h1m1 0h1m3 0h1m3 0h4m1 0h3m1 0h1m8 0h1M80 565.5h1m2 0h25m2 0h3m37 0h2m2 0h1m12 0h3m1 0h2m3 0h2m6 0h1m1 0h1m5 0h3m3 0h2m3 0h3m4 0h2m2 0h1m3 0h1M78 566.5h2m2 0h26m3 0h1m1 0h1m2 0h1m12 0h2m1 0h1m9 0h1m21 0h4m3 0h2m5 0h1m3 0h4m6 0h3m3 0h1m4 0h10m2 0h2m1 0h1M79 567.5h1m1 0h20m2 0h2m3 0h3m2 0h3m8 0h1m5 0h4m36 0h1m1 0h1m8 0h1m1 0h1m7 0h1m2 0h1m3 0h3m2 0h2m1 0h8m1 0h1m2 0h1M79 568.5h22m5 0h1m1 0h1m1 0h1m13 0h1m29 0h1m7 0h1m5 0h1m1 0h1m1 0h1m6 0h1m10 0h2m3 0h2m1 0h1m8 0h3m1 0h1m1 0h2m1 0h1m2 0h4M78 569.5h20m1 0h6m3 0h1m10 0h1m38 0h1m1 0h1m7 0h1m19 0h2m2 0h1m2 0h4m1 0h3m2 0h3m1 0h1m1 0h4m6 0h2M78 570.5h17m1 0h1m2 0h3m1 0h1m4 0h4m46 0h2m17 0h2m5 0h1m7 0h6m5 0h1m2 0h2m3 0h2m5 0h4m1 0h1M75 571.5h1m1 0h25m7 0h2m4 0h1m3 0h1m6 0h2m10 0h1m38 0h1m2 0h1m1 0h1m2 0h1m1 0h2m6 0h1m1 0h1m1 0h1m3 0h1m2 0h3m2 0h1m1 0h5m2 0h2M75 572.5h17m2 0h6m1 0h3m5 0h1m5 0h1m3 0h1m7 0h1m40 0h1m8 0h1m11 0h2m10 0h1m1 0h2m5 0h1m9 0h3M73 573.5h22m2 0h1m2 0h2m20 0h1m5 0h1m4 0h1m23 0h1m31 0h1m3 0h1m22 0h2m2 0h3M71 574.5h26m2 0h1m15 0h1m5 0h1m12 0h1m76 0h2m2 0h3m9 0h1M73 575.5h21m1 0h1m1 0h2m2 0h1m6 0h1m4 0h1m7 0h1m29 0h1m17 0h1m22 0h1m1 0h1m1 0h1m2 0h1m3 0h1m7 0h1m1 0h2m2 0h1m2 0h2m3 0h3M72 576.5h14m1 0h4m1 0h2m1 0h2m1 0h1m7 0h1m1 0h2m1 0h1m6 0h1m32 0h1m19 0h2m21 0h1m1 0h1m9 0h1m5 0h2m3 0h2m8 0h1M72 577.5h16m1 0h2m2 0h2m2 0h4m4 0h4m10 0h1m9 0h1m51 0h1m12 0h1m4 0h1m5 0h1m5 0h1m4 0h1m1 0h4m4 0h2m3 0h1M72 578.5h16m2 0h1m2 0h2m3 0h1m1 0h1m42 0h1m3 0h1m57 0h1m4 0h3m1 0h3m7 0h2M71 579.5h11m2 0h1m1 0h3m2 0h2m8 0h1m29 0h1m10 0h1m3 0h1m1 0h1m55 0h1m2 0h1m8 0h1m1 0h1m2 0h1M69 580.5h13m2 0h2m5 0h1m9 0h1m9 0h1m10 0h1m1 0h1m20 0h2m1 0h1m23 0h1m41 0h1m1 0h1m9 0h3M71 581.5h8m1 0h3m1 0h4m5 0h1m3 0h1m86 0h1m31 0h1M72 582.5h10m2 0h3m5 0h1m15 0h1m6 0h1m70 0h1m19 0h1m2 0h1m8 0h1m10 0h1m6 0h1M71 583.5h5m2 0h3m2 0h1m2 0h2m100 0h2m20 0h1m7 0h1m7 0h2M73 584.5h3m3 0h1m3 0h1m69 0h1m20 0h1m41 0h1m9 0h2m5 0h1M71 585.5h1m1 0h5m2 0h1m4 0h1m5 0h3m23 0h1M73 586.5h4m1 0h1m14 0h1m24 0h1m23 0h1m18 0h1m29 0h1m15 0h1M71 587.5h3m2 0h1m11 0h1m9 0h1m79 0h1m37 0h2m22 0h1M72 588.5h2m4 0h1m1 0h1m6 0h1m10 0h1m95 0h1m14 0h1m7 0h2m2 0h1M89 589.5h1m7 0h1M76 590.5h1m21 0h1m134 0h1M77 591.5h1m4 0h1m20 0h1m70 0h1m57 0h3M123 592.5h1m90 0h1m6 0h1m3 0h1m21 0h1M79 593.5h1m43 0h1m72 0h1m16 0h1m12 0h1m17 0h1M101 594.5h1m66 0h1m65 0h1M204 595.5h1m8 0h1m3 0h1M224 596.5h1M206 597.5h1m37 0h1M108 600.5h1m114 0h2M208 601.5h1m17 0h1M237 604.5h1M76 607.5h1m71 0h1M90 608.5h1M167 609.5h1m33 0h1" stroke="#a8679f" stroke-width="1" fill="none" shape-rendering="crispEdges"/><path d="M96 527.5h0m7.5 0h0m.5 0h0m1.5 0h0m1 0h0m1.5 0h0m1 0h0m.5 0h0m2 0h0m.5 0h0m.5 0h0m.5 0h0m.5 0h0m.5 0h0m.5 0h0m.5 0h0m.5 0h0m.5 0h0m.5 0h0m.5 0h0m.5 0h0m.5 0h0m.5 0h0m.5 0h0m.5 0h0m.5 0h0m.5 0h0m.5 0h0m.5 0h0m.5 0h0m.5 0h0m.5 0h0m.5 0h0m.5 0h0m.5 0h0m.5 0h0m.5 0h0m.5 0h0m.5 0h0m.5 0h0m.5 0h0m.5 0h0m.5 0h0m.5 0h0m.5 0h0m.5 0h0m.5 0h0m.5 0h0m.5 0h0m.5 0h0m.5 0h0m.5 0h0m.5 0h0m.5 0h0m.5 0h0m.5 0h0m.5 0h0m.5 0h0m.5 0h0m.5 0h0m.5 0h0m.5 0h0m.5 0h0m.5 0h0m.5 0h0m.5 0h0m.5 0h0m.5 0h0m.5 0h0m.5 0h0m.5 0h0m.5 0h0m.5 0h0m.5 0h0m.5 0h0m.5 0h0m.5 0h0m.5 0h0m.5 0h0m.5 0h0m.5 0h0m.5 0h0m.5 0h0m.5 0h0m.5 0h0m.5 0h0m.5 0h0m.5 0h0m.5 0h0m.5 0h0m.5 0h0m.5 0h0m.5 0h0m.5 0h0m.5 0h0m.5 0h0m.5 0h0m.5 0h0m.5 0h0m.5 0h0m.5 0h0m.5 0h0m.5 0h0m.5 0h0m.5 0h0m.5 0h0m.5 0h0m.5 0h0m.5 0h0m.5 0h0m.5 0h0m.5 0h0m.5 0h0m.5 0h0m.5 0h0m.5 0h0m.5 0h0m.5 0h0m.5 0h0m.5 0h0m.5 0h0m.5 0h0m.5 0h0m.5 0h0m.5 0h0m.5 0h0m.5 0h0m.5 0h0m.5 0h0m.5 0h0m.5 0h0m.5 0h0m.5 0h0m.5 0h0m.5 0h0m.5 0h0m1 0h0m.5 0h0m.5 0h0m.5 0h0m.5 0h0m.5 0h0m.5 0h0m.5 0h0m.5 0h0m.5 0h0m.5 0h0m.5 0h0m2 0h0m1 0h0m4 0h0m2 0h0m-83.5 .5h0m6 0h0m10 0h0m4 0h0m.5 0h0m.5 0h0m7.5 0h0m8 0h0m4 0h0m3 0h0m4 0h0m1.5 0h0m.5 0h0m1 0h0m2 0h0m6.5 0h0m1 0h0m1 0h0m3 0h0m.5 0h0m2 0h0m4.5 0h0m-63 .5h0m8 0h0m.5 0h0m.5 0h0m.5 0h0m.5 0h0m2.5 0h0m.5 0h0m3 0h0m.5 0h0m1.5 0h0m2.5 0h0m5 0h0m3.5 0h0m10 0h0m.5 0h0m1 0h0m5.5 0h0m3 0h0m1 0h0m1 0h0m5 0h0m.5 0h0m3 0h0m2 0h0m-62 .5h0m3.5 0h0m1 0h0m1.5 0h0m2 0h0m4.5 0h0m1 0h0m8 0h0m6.5 0h0m1.5 0h0m.5 0h0m6.5 0h0m.5 0h0m2 0h0m1.5 0h0m11 0h0m4.5 0h0m6 0h0m5 0h0m-70 .5h0m10.5 0h0m1 0h0m2.5 0h0m.5 0h0m3 0h0m2 0h0m1 0h0m2 0h0m4 0h0m.5 0h0m1.5 0h0m1.5 0h0m10 0h0m.5 0h0m5 0h0m3.5 0h0m2.5 0h0m.5 0h0m6.5 0h0m6 0h0m3.5 0h0m2 0h0m3 0h0m1 0h0m-79 .5h0m2.5 0h0m2 0h0m2 0h0m9.5 0h0m4 0h0m30 0h0m.5 0h0m3.5 0h0m1.5 0h0m1.5 0h0m3 0h0m.5 0h0m1 0h0m5.5 0h0m.5 0h0m2 0h0m1.5 0h0m.5 0h0m.5 0h0m4 0h0m-67 .5h0m.5 0h0m4 0h0m1.5 0h0m2 0h0m.5 0h0m8 0h0m3.5 0h0m1.5 0h0m2.5 0h0m5 0h0m1 0h0m5 0h0m2.5 0h0m2.5 0h0m6.5 0h0m2.5 0h0m.5 0h0m3 0h0m2 0h0m.5 0h0m1.5 0h0m1.5 0h0m2 0h0m.5 0h0m1 0h0m2.5 0h0m2 0h0m.5 0h0m4.5 0h0m-83.5 .5h0m15 0h0m.5 0h0m.5 0h0m1 0h0m5.5 0h0m3.5 0h0m1 0h0m1 0h0m2 0h0m.5 0h0m.5 0h0m.5 0h0m.5 0h0m1.5 0h0m1 0h0m2 0h0m1.5 0h0m.5 0h0m3 0h0m1 0h0m4.5 0h0m3 0h0m1.5 0h0m9.5 0h0m6 0h0m2.5 0h0m.5 0h0m4 0h0m3 0h0m.5 0h0m6.5 0h0m-82 .5h0m3 0h0m6 0h0m.5 0h0m2.5 0h0m2 0h0m2 0h0m1 0h0m3 0h0m9.5 0h0m2.5 0h0m1 0h0m2 0h0m.5 0h0m1.5 0h0m.5 0h0m1 0h0m3 0h0m4.5 0h0m3.5 0h0m6 0h0m4 0h0m1.5 0h0m.5 0h0m1 0h0m2 0h0m4 0h0m3.5 0h0m2 0h0m3 0h0m4.5 0h0m2.5 0h0m-82.5 .5h0m5.5 0h0m4.5 0h0m5.5 0h0m4 0h0m4.5 0h0m4.5 0h0m2 0h0m2.5 0h0m3.5 0h0m1 0h0m2 0h0m6 0h0m8.5 0h0m2 0h0m.5 0h0m1.5 0h0m3 0h0m12 0h0m.5 0h0m3.5 0h0m.5 0h0m1 0h0m2.5 0h0m-77.5 .5h0m2.5 0h0m3 0h0m5 0h0m10.5 0h0m.5 0h0m3.5 0h0m2 0h0m2 0h0m4 0h0m.5 0h0m3 0h0m.5 0h0m4.5 0h0m9.5 0h0m1 0h0m1.5 0h0m2.5 0h0m3 0h0m5 0h0m.5 0h0m3 0h0m8 0h0m3.5 0h0m-97.5 .5h0m15.5 0h0m4 0h0m2.5 0h0m3.5 0h0m8.5 0h0m10 0h0m1.5 0h0m1.5 0h0m4.5 0h0m2.5 0h0m.5 0h0m4 0h0m.5 0h0m8 0h0m5.5 0h0m5.5 0h0m4.5 0h0m1.5 0h0m.5 0h0m2 0h0m1 0h0m11 0h0m-77 .5h0m.5 0h0m3 0h0m.5 0h0m.5 0h0m1.5 0h0m9 0h0m4 0h0m.5 0h0m3.5 0h0m13.5 0h0m.5 0h0m16.5 0h0m3 0h0m.5 0h0m5 0h0m.5 0h0m4 0h0m.5 0h0m2.5 0h0m1.5 0h0m.5 0h0m1 0h0m-78.5 .5h0m3.5 0h0m6 0h0m.5 0h0m1.5 0h0m4.5 0h0m.5 0h0m9.5 0h0m5 0h0m6 0h0m.5 0h0m19.5 0h0m2.5 0h0m4 0h0m9.5 0h0m1 0h0m4.5 0h0m5.5 0h0m-86 .5h0m2.5 0h0m.5 0h0m2.5 0h0m3 0h0m3.5 0h0m1 0h0m1 0h0m6.5 0h0m2.5 0h0m2.5 0h0m1 0h0m1.5 0h0m1 0h0m23.5 0h0m2 0h0m4.5 0h0m1.5 0h0m2.5 0h0m2.5 0h0m.5 0h0m9.5 0h0m3.5 0h0m1 0h0m2.5 0h0m1 0h0m.5 0h0m2 0h0m2.5 0h0m4 0h0m-89.5 .5h0m.5 0h0m3.5 0h0m.5 0h0m1.5 0h0m2.5 0h0m2.5 0h0m1 0h0m4.5 0h0m.5 0h0m1.5 0h0m4 0h0m3 0h0m.5 0h0m.5 0h0m5.5 0h0m1 0h0m16.5 0h0m4.5 0h0m6.5 0h0m6 0h0m8.5 0h0m2.5 0h0m7.5 0h0m-92.5 .5h0m1 0h0m9.5 0h0m3.5 0h0m5.5 0h0m2.5 0h0m36 0h0m3.5 0h0m2 0h0m.5 0h0m.5 0h0m17 0h0m1 0h0m4 0h0m3.5 0h0m-87 .5h0m1 0h0m3.5 0h0m.5 0h0m2 0h0m4 0h0m2.5 0h0m2 0h0m1 0h0m.5 0h0m.5 0h0m1.5 0h0m1 0h0m1 0h0m1 0h0m.5 0h0m1.5 0h0m13 0h0m.5 0h0m17 0h0m.5 0h0m5.5 0h0m19 0h0m8.5 0h0m-88.5 .5h0m7.5 0h0m3.5 0h0m4 0h0m2 0h0m5.5 0h0m2.5 0h0m3 0h0m3 0h0m.5 0h0m29 0h0m24 0h0m-83 .5h0m1.5 0h0m3.5 0h0m1.5 0h0m.5 0h0m2.5 0h0m1 0h0m.5 0h0m2 0h0m5.5 0h0m4.5 0h0m5.5 0h0m.5 0h0m40.5 0h0m14.5 0h0m1 0h0m5.5 0h0m1.5 0h0m-83.5 .5h0m.5 0h0m.5 0h0m3.5 0h0m3 0h0m5.5 0h0m3.5 0h0m22 0h0m22.5 0h0m.5 0h0m.5 0h0m-73 .5h0m3 0h0m2 0h0m5.5 0h0m1.5 0h0m2 0h0m2 0h0m2 0h0m1 0h0m3 0h0m.5 0h0m1.5 0h0m.5 0h0m.5 0h0m5 0h0m1.5 0h0m16.5 0h0m2.5 0h0m22.5 0h0m5.5 0h0m8.5 0h0m3.5 0h0m1.5 0h0m1 0h0m-95 .5h0m5 0h0m2 0h0m.5 0h0m9 0h0m1 0h0m.5 0h0m.5 0h0m2.5 0h0m4 0h0m4 0h0m51.5 0h0m7 0h0m1 0h0m.5 0h0m9 0h0m-108.5 .5h0m13.5 0h0m2.5 0h0m2 0h0m16 0h0m4.5 0h0m13.5 0h0m10.5 0h0m36 0h0m-96.5 .5h0m11 0h0m4 0h0m15 0h0m2 0h0m.5 0h0m17.5 0h0m37.5 0h0m10.5 0h0m2.5 0h0m.5 0h0m-95.5 .5h0m7 0h0m4 0h0m14 0h0m1 0h0m14 0h0m1 0h0m3 0h0m.5 0h0m1 0h0m6 0h0m40 0h0m1.5 0h0m.5 0h0m1.5 0h0m.5 0h0m.5 0h0m2 0h0m2 0h0m.5 0h0m.5 0h0m-100 .5h0m3.5 0h0m5 0h0m1.5 0h0m7.5 0h0m7 0h0m15 0h0m1 0h0m1.5 0h0m.5 0h0m2 0h0m.5 0h0m37 0h0m10 0h0m2 0h0m2.5 0h0m.5 0h0m.5 0h0m.5 0h0m2.5 0h0m-112.5 .5h0m16.5 0h0m2.5 0h0m12 0h0m5.5 0h0m5.5 0h0m11 0h0m1 0h0m.5 0h0m6.5 0h0m.5 0h0m2.5 0h0m46 0h0m8 0h0m-99.5 .5h0m1 0h0m11 0h0m12 0h0m.5 0h0m64.5 0h0m2.5 0h0m2.5 0h0m2 0h0m-120 .5h0m2.5 0h0m19 0h0m.5 0h0m2 0h0m.5 0h0m9.5 0h0m24 0h0m.5 0h0m.5 0h0m2 0h0m28 0h0m24.5 0h0m-94.5 .5h0m.5 0h0m1.5 0h0m4.5 0h0m9 0h0m1 0h0m11 0h0m2.5 0h0m8 0h0m2 0h0m2 0h0m13.5 0h0m2 0h0m.5 0h0m.5 0h0m35.5 0h0m4 0h0m-99.5 .5h0m1.5 0h0m3.5 0h0m3 0h0m9.5 0h0m12 0h0m1.5 0h0m10.5 0h0m2.5 0h0m7.5 0h0m.5 0h0m6.5 0h0m.5 0h0m1 0h0m12 0h0m5.5 0h0m18.5 0h0m7 0h0m-98 .5h0m5 0h0m12.5 0h0m5.5 0h0m.5 0h0m13.5 0h0m.5 0h0m.5 0h0m.5 0h0m7.5 0h0m19.5 0h0m7.5 0h0m19 0h0m-94.5 .5h0m6 0h0m11.5 0h0m1 0h0m2 0h0m5.5 0h0m1 0h0m13 0h0m8.5 0h0m19 0h0m3 0h0m25.5 0h0m5 0h0m-128.5 .5h0m7.5 0h0m4 0h0m15 0h0m2.5 0h0m2.5 0h0m2 0h0m1 0h0m11.5 0h0m2 0h0m1 0h0m3 0h0m2.5 0h0m.5 0h0m14.5 0h0m5.5 0h0m.5 0h0m3 0h0m.5 0h0m15 0h0m7 0h0m2 0h0m.5 0h0m16.5 0h0m.5 0h0m2.5 0h0m6.5 0h0m-109 .5h0m3.5 0h0m2 0h0m3 0h0m.5 0h0m3.5 0h0m1 0h0m11.5 0h0m1 0h0m1 0h0m5 0h0m15 0h0m.5 0h0m10 0h0m1.5 0h0m.5 0h0m38.5 0h0m1 0h0m1.5 0h0m2 0h0m8.5 0h0m-105.5 .5h0m3 0h0m.5 0h0m17.5 0h0m7 0h0m6.5 0h0m4 0h0m4 0h0m.5 0h0m.5 0h0m2 0h0m5 0h0m1 0h0m7.5 0h0m.5 0h0m.5 0h0m7.5 0h0m2.5 0h0m1 0h0m5 0h0m18 0h0m.5 0h0m10.5 0h0m-119 .5h0m16.5 0h0m19 0h0m16 0h0m6 0h0m2 0h0m4.5 0h0m1.5 0h0m1.5 0h0m2 0h0m.5 0h0m6 0h0m7 0h0m2.5 0h0m28.5 0h0m-99 .5h0m1 0h0m.5 0h0m.5 0h0m33 0h0m1.5 0h0m6.5 0h0m5.5 0h0m2.5 0h0m.5 0h0m.5 0h0m3 0h0m2.5 0h0m2.5 0h0m1.5 0h0m7 0h0m4.5 0h0m17.5 0h0m.5 0h0m2 0h0m6 0h0m1.5 0h0m.5 0h0m.5 0h0m1.5 0h0m4 0h0m4 0h0m-119.5 .5h0m43.5 0h0m.5 0h0m8 0h0m2 0h0m3 0h0m9 0h0m2.5 0h0m43 0h0m-122 .5h0m17 0h0m.5 0h0m.5 0h0m3 0h0m23 0h0m.5 0h0m9.5 0h0m.5 0h0m2.5 0h0m7.5 0h0m1 0h0m5 0h0m6 0h0m1 0h0m1 0h0m.5 0h0m.5 0h0m13 0h0m1 0h0m17.5 0h0m16.5 0h0m-114.5 .5h0m29.5 0h0m.5 0h0m4.5 0h0m1 0h0m1.5 0h0m2.5 0h0m1.5 0h0m1.5 0h0m1.5 0h0m6 0h0m1 0h0m5 0h0m3.5 0h0m2.5 0h0m6 0h0m1 0h0m3 0h0m4 0h0m4.5 0h0m1 0h0m23.5 0h0m1 0h0m.5 0h0m10.5 0h0m-130 .5h0m12 0h0m4 0h0m1 0h0m2 0h0m.5 0h0m20 0h0m.5 0h0m.5 0h0m9.5 0h0m3 0h0m2 0h0m18 0h0m.5 0h0m20 0h0m2 0h0m14 0h0m1.5 0h0m3 0h0m4.5 0h0m.5 0h0m4 0h0m-114 .5h0m8 0h0m.5 0h0m25.5 0h0m5.5 0h0m2 0h0m.5 0h0m6 0h0m7 0h0m.5 0h0m.5 0h0m.5 0h0m1 0h0m3 0h0m2.5 0h0m1 0h0m1.5 0h0m.5 0h0m2 0h0m.5 0h0m2.5 0h0m3 0h0m1 0h0m.5 0h0m3 0h0m1.5 0h0m.5 0h0m7 0h0m13 0h0m2 0h0m.5 0h0m3.5 0h0m1.5 0h0m3.5 0h0m1 0h0m.5 0h0m.5 0h0m1.5 0h0m2 0h0m-115.5 .5h0m2 0h0m.5 0h0m30.5 0h0m.5 0h0m3 0h0m5.5 0h0m.5 0h0m.5 0h0m14 0h0m.5 0h0m2.5 0h0m6.5 0h0m2 0h0m.5 0h0m1.5 0h0m1.5 0h0m1 0h0m4 0h0m1 0h0m1 0h0m.5 0h0m1.5 0h0m2.5 0h0m2 0h0m3 0h0m10 0h0m4 0h0m6 0h0m2 0h0m.5 0h0m1 0h0m7.5 0h0m-124 .5h0m1 0h0m10.5 0h0m1.5 0h0m21.5 0h0m1 0h0m2 0h0m1 0h0m4 0h0m2 0h0m.5 0h0m2 0h0m1 0h0m.5 0h0m1 0h0m6 0h0m7.5 0h0m7.5 0h0m5 0h0m.5 0h0m5 0h0m3.5 0h0m1.5 0h0m2 0h0m13 0h0m2 0h0m.5 0h0m2.5 0h0m.5 0h0m1 0h0m5 0h0m2.5 0h0m.5 0h0m-102.5 .5h0m27.5 0h0m8.5 0h0m2 0h0m1 0h0m2 0h0m4 0h0m6.5 0h0m1.5 0h0m1.5 0h0m3 0h0m1.5 0h0m.5 0h0m.5 0h0m.5 0h0m3 0h0m.5 0h0m2 0h0m.5 0h0m1 0h0m1.5 0h0m1.5 0h0m2.5 0h0m3 0h0m2.5 0h0m.5 0h0m13 0h0m2.5 0h0m.5 0h0m4.5 0h0m6 0h0m-109 .5h0m4 0h0m28.5 0h0m3 0h0m4.5 0h0m.5 0h0m4.5 0h0m2 0h0m.5 0h0m.5 0h0m2 0h0m1 0h0m5 0h0m5 0h0m1.5 0h0m.5 0h0m.5 0h0m2 0h0m8 0h0m7 0h0m3.5 0h0m.5 0h0m4.5 0h0m.5 0h0m3.5 0h0m1.5 0h0m3 0h0m.5 0h0m.5 0h0m9 0h0m1 0h0m2 0h0m-120 .5h0m5.5 0h0m3.5 0h0m2.5 0h0m.5 0h0m27.5 0h0m1 0h0m1 0h0m.5 0h0m2 0h0m2 0h0m.5 0h0m1 0h0m3.5 0h0m1.5 0h0m5.5 0h0m.5 0h0m1.5 0h0m2 0h0m3 0h0m6 0h0m4 0h0m2 0h0m1 0h0m2 0h0m5.5 0h0m13 0h0m1 0h0m.5 0h0m2 0h0m4.5 0h0m7 0h0m2 0h0m.5 0h0m1.5 0h0m.5 0h0m3.5 0h0m3.5 0h0m-116.5 .5h0m2 0h0m1 0h0m29.5 0h0m4 0h0m.5 0h0m2 0h0m1 0h0m2.5 0h0m12 0h0m1 0h0m1 0h0m.5 0h0m1 0h0m4 0h0m3 0h0m2 0h0m7 0h0m.5 0h0m.5 0h0m1.5 0h0m.5 0h0m2 0h0m8 0h0m1.5 0h0m4 0h0m2.5 0h0m1 0h0m10.5 0h0m3.5 0h0m.5 0h0m-113 .5h0m2 0h0m30.5 0h0m5 0h0m4 0h0m1 0h0m3.5 0h0m5 0h0m9 0h0m10 0h0m2.5 0h0m7 0h0m1 0h0m4 0h0m1 0h0m.5 0h0m2 0h0m2 0h0m1 0h0m3 0h0m1 0h0m2.5 0h0m.5 0h0m2 0h0m9 0h0m3.5 0h0m-130.5 .5h0m18 0h0m6 0h0m29 0h0m2.5 0h0m2.5 0h0m4.5 0h0m2.5 0h0m2 0h0m10.5 0h0m4 0h0m5 0h0m2 0h0m4.5 0h0m1.5 0h0m.5 0h0m4 0h0m7 0h0m1.5 0h0m1.5 0h0m18 0h0m13 0h0m-123 .5h0m2 0h0m2 0h0m.5 0h0m.5 0h0m30 0h0m4 0h0m1 0h0m3 0h0m7.5 0h0m1.5 0h0m1.5 0h0m1.5 0h0m.5 0h0m1.5 0h0m1.5 0h0m6 0h0m.5 0h0m.5 0h0m2.5 0h0m1 0h0m.5 0h0m3.5 0h0m1 0h0m9 0h0m2 0h0m2 0h0m.5 0h0m1 0h0m1 0h0m.5 0h0m4.5 0h0m.5 0h0m4.5 0h0m.5 0h0m6.5 0h0m3.5 0h0m4.5 0h0m-115 .5h0m7.5 0h0m.5 0h0m22 0h0m3.5 0h0m1.5 0h0m1 0h0m2 0h0m5.5 0h0m4 0h0m2 0h0m1.5 0h0m3 0h0m4 0h0m1.5 0h0m2.5 0h0m3.5 0h0m2.5 0h0m2 0h0m26 0h0m4 0h0m.5 0h0m1 0h0m1 0h0m6 0h0m1 0h0m2 0h0m1.5 0h0m2 0h0m-119 .5h0m4 0h0m5 0h0m.5 0h0m.5 0h0m1 0h0m23 0h0m2.5 0h0m5.5 0h0m.5 0h0m.5 0h0m1.5 0h0m2.5 0h0m1 0h0m1 0h0m2 0h0m2.5 0h0m3.5 0h0m4.5 0h0m5 0h0m3.5 0h0m.5 0h0m4 0h0m3 0h0m9.5 0h0m.5 0h0m3 0h0m3.5 0h0m.5 0h0m.5 0h0m2.5 0h0m3.5 0h0m5 0h0m3.5 0h0m.5 0h0m3 0h0m10 0h0m-122.5 .5h0m4.5 0h0m.5 0h0m.5 0h0m1 0h0m3 0h0m.5 0h0m6.5 0h0m17 0h0m2.5 0h0m5 0h0m6.5 0h0m7 0h0m3 0h0m2.5 0h0m3 0h0m4.5 0h0m.5 0h0m3 0h0m.5 0h0m1 0h0m5.5 0h0m3.5 0h0m1 0h0m.5 0h0m1.5 0h0m3 0h0m2.5 0h0m3 0h0m.5 0h0m3 0h0m1.5 0h0m1 0h0m5.5 0h0m1 0h0m2.5 0h0m4.5 0h0m1 0h0m2 0h0m.5 0h0m2 0h0m4.5 0h0m2 0h0m6.5 0h0m-128 .5h0m1.5 0h0m1.5 0h0m1 0h0m10 0h0m14 0h0m1.5 0h0m5 0h0m3 0h0m4 0h0m1.5 0h0m2 0h0m4 0h0m6 0h0m4 0h0m.5 0h0m1 0h0m5.5 0h0m11 0h0m3 0h0m1 0h0m2 0h0m4 0h0m1 0h0m2 0h0m4 0h0m1.5 0h0m4 0h0m5 0h0m3 0h0m.5 0h0m2 0h0m3.5 0h0m2.5 0h0m9.5 0h0m3 0h0m-131.5 .5h0m4.5 0h0m2 0h0m9 0h0m18.5 0h0m5.5 0h0m11.5 0h0m3.5 0h0m1 0h0m2.5 0h0m2 0h0m7 0h0m5 0h0m6 0h0m8 0h0m9 0h0m3 0h0m2.5 0h0m1 0h0m5 0h0m1.5 0h0m4 0h0m.5 0h0m1 0h0m1 0h0m2 0h0m2 0h0m6 0h0m2.5 0h0m-126 .5h0m1.5 0h0m1 0h0m11 0h0m1.5 0h0m1.5 0h0m12.5 0h0m2 0h0m2.5 0h0m3.5 0h0m7 0h0m1.5 0h0m5 0h0m2.5 0h0m4 0h0m3 0h0m6.5 0h0m4.5 0h0m1.5 0h0m2 0h0m3 0h0m2 0h0m5 0h0m3 0h0m3.5 0h0m4 0h0m4 0h0m1.5 0h0m3 0h0m4 0h0m2 0h0m.5 0h0m5 0h0m3 0h0m4.5 0h0m-120.5 .5h0m6 0h0m6 0h0m1 0h0m1 0h0m15.5 0h0m.5 0h0m3 0h0m.5 0h0m8 0h0m2 0h0m1.5 0h0m3 0h0m.5 0h0m2.5 0h0m1 0h0m6 0h0m1 0h0m.5 0h0m1.5 0h0m2.5 0h0m3 0h0m2.5 0h0m3 0h0m.5 0h0m1.5 0h0m5 0h0m6 0h0m.5 0h0m.5 0h0m7 0h0m4.5 0h0m1 0h0m3 0h0m1 0h0m3 0h0m.5 0h0m6 0h0m.5 0h0m1.5 0h0m1 0h0m1.5 0h0m.5 0h0m2.5 0h0m3 0h0m-112.5 .5h0m1 0h0m.5 0h0m1 0h0m14 0h0m2 0h0m1.5 0h0m5.5 0h0m2 0h0m1 0h0m2 0h0m4 0h0m.5 0h0m2 0h0m13 0h0m3.5 0h0m2 0h0m4 0h0m9.5 0h0m.5 0h0m2 0h0m.5 0h0m1.5 0h0m2 0h0m.5 0h0m3.5 0h0m3 0h0m1.5 0h0m8 0h0m1 0h0m1 0h0m1 0h0m3 0h0m.5 0h0m4 0h0m.5 0h0m1.5 0h0m4.5 0h0m1.5 0h0m1.5 0h0m1 0h0m.5 0h0m6 0h0m-143.5 .5h0m10 0h0m1 0h0m2 0h0m5.5 0h0m5.5 0h0m.5 0h0m1.5 0h0m2 0h0m16.5 0h0m1.5 0h0m.5 0h0m5 0h0m1.5 0h0m5.5 0h0m.5 0h0m1 0h0m4 0h0m.5 0h0m1 0h0m4.5 0h0m5.5 0h0m10 0h0m4.5 0h0m3.5 0h0m3.5 0h0m1 0h0m2.5 0h0m6 0h0m1.5 0h0m1 0h0m.5 0h0m.5 0h0m.5 0h0m2 0h0m3.5 0h0m4.5 0h0m.5 0h0m.5 0h0m.5 0h0m1 0h0m1 0h0m1.5 0h0m3.5 0h0m1 0h0m2 0h0m1 0h0m-123.5 .5h0m3.5 0h0m6 0h0m.5 0h0m5.5 0h0m15 0h0m2 0h0m2.5 0h0m1 0h0m.5 0h0m10 0h0m1 0h0m1 0h0m3 0h0m3.5 0h0m16 0h0m.5 0h0m1.5 0h0m1 0h0m2 0h0m2.5 0h0m1 0h0m5.5 0h0m1 0h0m4.5 0h0m2.5 0h0m.5 0h0m2 0h0m7.5 0h0m1.5 0h0m.5 0h0m5.5 0h0m.5 0h0m4 0h0m1 0h0m3 0h0m2.5 0h0m4.5 0h0m6 0h0m3 0h0m-135 .5h0m1 0h0m2.5 0h0m6 0h0m6 0h0m15.5 0h0m.5 0h0m4.5 0h0m1 0h0m1.5 0h0m1.5 0h0m1.5 0h0m2 0h0m2 0h0m3.5 0h0m5 0h0m2.5 0h0m.5 0h0m23 0h0m13 0h0m8.5 0h0m3.5 0h0m.5 0h0m.5 0h0m.5 0h0m2.5 0h0m6 0h0m3 0h0m.5 0h0m2.5 0h0m3 0h0m5 0h0m-136.5 .5h0m8.5 0h0m2 0h0m7.5 0h0m20.5 0h0m3 0h0m7.5 0h0m4 0h0m2 0h0m4 0h0m7.5 0h0m6 0h0m1.5 0h0m3.5 0h0m3.5 0h0m3.5 0h0m5.5 0h0m2 0h0m5.5 0h0m5.5 0h0m3.5 0h0m.5 0h0m1 0h0m5 0h0m3 0h0m1.5 0h0m7.5 0h0m1.5 0h0m3.5 0h0m.5 0h0m2 0h0m2 0h0m.5 0h0m5 0h0m-135.5 .5h0m2.5 0h0m10.5 0h0m.5 0h0m14 0h0m7 0h0m5 0h0m1 0h0m2 0h0m5 0h0m8.5 0h0m3.5 0h0m.5 0h0m1.5 0h0m15 0h0m7 0h0m3.5 0h0m1 0h0m1 0h0m2.5 0h0m8.5 0h0m2.5 0h0m.5 0h0m2 0h0m5 0h0m6.5 0h0m10.5 0h0m2.5 0h0m.5 0h0m2.5 0h0m-130.5 .5h0m3.5 0h0m24.5 0h0m5 0h0m1.5 0h0m1 0h0m6 0h0m1.5 0h0m4.5 0h0m4 0h0m20 0h0m7.5 0h0m5 0h0m1.5 0h0m6 0h0m3.5 0h0m5.5 0h0m6 0h0m3.5 0h0m.5 0h0m6.5 0h0m1 0h0m9.5 0h0m3 0h0m-106 .5h0m2.5 0h0m.5 0h0m4.5 0h0m6.5 0h0m5 0h0m.5 0h0m6 0h0m4 0h0m1 0h0m1 0h0m7 0h0m8.5 0h0m1.5 0h0m4 0h0m2 0h0m2 0h0m3 0h0m2 0h0m4 0h0m3 0h0m14.5 0h0m1.5 0h0m1 0h0m4 0h0m3 0h0m4 0h0m1.5 0h0m5 0h0m.5 0h0m3.5 0h0m-132 .5h0m24.5 0h0m2.5 0h0m1.5 0h0m3.5 0h0m8 0h0m3 0h0m4.5 0h0m7 0h0m1 0h0m4.5 0h0m1 0h0m6 0h0m3.5 0h0m.5 0h0m4.5 0h0m4 0h0m2.5 0h0m9 0h0m3.5 0h0m7.5 0h0m7.5 0h0m.5 0h0m2 0h0m.5 0h0m2.5 0h0m.5 0h0m1.5 0h0m.5 0h0m6.5 0h0m1.5 0h0m1 0h0m3 0h0m-133 .5h0m29 0h0m2.5 0h0m.5 0h0m.5 0h0m1 0h0m.5 0h0m3.5 0h0m2 0h0m10 0h0m4.5 0h0m4.5 0h0m13.5 0h0m28 0h0m3 0h0m3.5 0h0m2.5 0h0m8 0h0m3 0h0m2.5 0h0m1 0h0m11.5 0h0m-130.5 .5h0m25 0h0m1.5 0h0m4.5 0h0m2 0h0m1 0h0m5.5 0h0m1 0h0m5.5 0h0m3 0h0m.5 0h0m22 0h0m.5 0h0m3 0h0m6.5 0h0m16.5 0h0m1.5 0h0m2.5 0h0m1.5 0h0m.5 0h0m.5 0h0m2.5 0h0m12.5 0h0m4.5 0h0m.5 0h0m.5 0h0m3.5 0h0m-131.5 .5h0m.5 0h0m3 0h0m19.5 0h0m5 0h0m.5 0h0m8 0h0m8.5 0h0m1 0h0m3.5 0h0m2.5 0h0m6 0h0m2.5 0h0m.5 0h0m.5 0h0m14 0h0m8 0h0m14 0h0m2 0h0m1.5 0h0m1 0h0m1 0h0m2.5 0h0m1.5 0h0m2 0h0m2 0h0m1 0h0m6 0h0m.5 0h0m.5 0h0m1 0h0m1.5 0h0m.5 0h0m2.5 0h0m2.5 0h0m1 0h0m2 0h0m.5 0h0m1.5 0h0m1.5 0h0m6.5 0h0m-141.5 .5h0m2.5 0h0m2.5 0h0m19.5 0h0m3.5 0h0m8 0h0m.5 0h0m2 0h0m9.5 0h0m3.5 0h0m13 0h0m.5 0h0m4 0h0m4.5 0h0m4.5 0h0m5.5 0h0m1.5 0h0m5 0h0m.5 0h0m18 0h0m1 0h0m7 0h0m1 0h0m8.5 0h0m1.5 0h0m2 0h0m2 0h0m.5 0h0m4.5 0h0m-133.5 .5h0m24.5 0h0m7.5 0h0m9.5 0h0m15.5 0h0m4 0h0m4 0h0m9.5 0h0m5.5 0h0m5.5 0h0m4.5 0h0m9 0h0m7.5 0h0m1 0h0m2.5 0h0m3 0h0m1.5 0h0m4 0h0m4.5 0h0m2 0h0m2 0h0m2 0h0m2.5 0h0m-135 .5h0m2.5 0h0m1 0h0m1.5 0h0m1.5 0h0m21 0h0m.5 0h0m.5 0h0m1.5 0h0m5.5 0h0m7 0h0m44 0h0m.5 0h0m4.5 0h0m3 0h0m.5 0h0m11 0h0m1 0h0m1.5 0h0m5.5 0h0m1.5 0h0m2.5 0h0m4 0h0m3.5 0h0m1.5 0h0m6 0h0m11 0h0m-138.5 .5h0m18.5 0h0m2.5 0h0m1.5 0h0m10.5 0h0m.5 0h0m1 0h0m12.5 0h0m17.5 0h0m18 0h0m1 0h0m1.5 0h0m3 0h0m10.5 0h0m2 0h0m2.5 0h0m3 0h0m1.5 0h0m9.5 0h0m2 0h0m.5 0h0m.5 0h0m5.5 0h0m2 0h0m9 0h0m-142.5 .5h0m3.5 0h0m22 0h0m1 0h0m1 0h0m3 0h0m1 0h0m1 0h0m.5 0h0m18 0h0m4 0h0m3.5 0h0m11 0h0m2.5 0h0m2.5 0h0m17.5 0h0m5 0h0m7.5 0h0m13.5 0h0m1 0h0m3 0h0m1.5 0h0m3.5 0h0m3 0h0m4.5 0h0m3.5 0h0m.5 0h0m-139 .5h0m3 0h0m.5 0h0m19 0h0m5 0h0m1 0h0m5.5 0h0m8.5 0h0m.5 0h0m1.5 0h0m2 0h0m2.5 0h0m19 0h0m3.5 0h0m1.5 0h0m6 0h0m5.5 0h0m3 0h0m8.5 0h0m6 0h0m1 0h0m.5 0h0m1.5 0h0m1 0h0m7 0h0m2.5 0h0m9 0h0m4.5 0h0m2 0h0m2 0h0m2 0h0m-136 .5h0m23 0h0m1.5 0h0m2.5 0h0m2 0h0m3.5 0h0m5.5 0h0m9 0h0m.5 0h0m3.5 0h0m.5 0h0m2.5 0h0m10.5 0h0m12 0h0m5 0h0m4 0h0m.5 0h0m1 0h0m6 0h0m2 0h0m4.5 0h0m5.5 0h0m7.5 0h0m1 0h0m1 0h0m.5 0h0m5.5 0h0m4.5 0h0m2 0h0m1 0h0m1.5 0h0m4 0h0m3 0h0m1 0h0m-136.5 .5h0m1.5 0h0m.5 0h0m19 0h0m2.5 0h0m4.5 0h0m6.5 0h0m2 0h0m15 0h0m1.5 0h0m9 0h0m29.5 0h0m1.5 0h0m2 0h0m3.5 0h0m7.5 0h0m3.5 0h0m3.5 0h0m.5 0h0m1.5 0h0m6.5 0h0m3.5 0h0m3 0h0m2 0h0m.5 0h0m3 0h0m2.5 0h0m-138.5 .5h0m5 0h0m22 0h0m5.5 0h0m.5 0h0m.5 0h0m2.5 0h0m.5 0h0m1 0h0m6.5 0h0m3 0h0m6 0h0m1 0h0m1.5 0h0m1 0h0m.5 0h0m22 0h0m5 0h0m9 0h0m2 0h0m.5 0h0m9 0h0m2.5 0h0m7.5 0h0m3.5 0h0m3 0h0m1.5 0h0m1.5 0h0m2 0h0m.5 0h0m9 0h0m2.5 0h0m3.5 0h0m3 0h0m-144.5 .5h0m3 0h0m.5 0h0m25.5 0h0m2.5 0h0m14.5 0h0m4 0h0m20.5 0h0m6 0h0m1 0h0m8 0h0m21 0h0m6.5 0h0m1 0h0m5 0h0m10.5 0h0m2 0h0m1.5 0h0m3 0h0m1 0h0m3 0h0m3.5 0h0m2 0h0m1 0h0m2.5 0h0m-146.5 .5h0m19 0h0m1.5 0h0m.5 0h0m7.5 0h0m2 0h0m14.5 0h0m13 0h0m2.5 0h0m28 0h0m2.5 0h0m1.5 0h0m7.5 0h0m15.5 0h0m1.5 0h0m2 0h0m.5 0h0m12.5 0h0m8 0h0m2.5 0h0m-144 .5h0m1 0h0m.5 0h0m16 0h0m5 0h0m.5 0h0m.5 0h0m1 0h0m1 0h0m.5 0h0m4 0h0m6 0h0m1.5 0h0m4 0h0m21.5 0h0m27.5 0h0m22.5 0h0m4 0h0m.5 0h0m3 0h0m7 0h0m1 0h0m1 0h0m2 0h0m4.5 0h0m2.5 0h0m8 0h0m-127.5 .5h0m4.5 0h0m.5 0h0m3 0h0m9 0h0m11 0h0m1.5 0h0m31.5 0h0m2 0h0m.5 0h0m6 0h0m1.5 0h0m6.5 0h0m2.5 0h0m7.5 0h0m4 0h0m1 0h0m2.5 0h0m1 0h0m2 0h0m5.5 0h0m.5 0h0m1 0h0m11 0h0m1 0h0m.5 0h0m.5 0h0m6 0h0m.5 0h0m2 0h0m-144.5 .5h0m15 0h0m.5 0h0m1 0h0m.5 0h0m3 0h0m3 0h0m1 0h0m1 0h0m4.5 0h0m65.5 0h0m3 0h0m21 0h0m5 0h0m2 0h0m1 0h0m2 0h0m4 0h0m2 0h0m4 0h0m.5 0h0m4 0h0m.5 0h0m-148 .5h0m3.5 0h0m20.5 0h0m10.5 0h0m1.5 0h0m8 0h0m39 0h0m20.5 0h0m6 0h0m7.5 0h0m.5 0h0m1.5 0h0m2.5 0h0m.5 0h0m.5 0h0m5.5 0h0m.5 0h0m2 0h0m6 0h0m7.5 0h0m.5 0h0m1.5 0h0m-144 .5h0m.5 0h0m.5 0h0m.5 0h0m15.5 0h0m3 0h0m.5 0h0m2 0h0m9 0h0m.5 0h0m3 0h0m14 0h0m21.5 0h0m5.5 0h0m6.5 0h0m16.5 0h0m2.5 0h0m2 0h0m8 0h0m7 0h0m2.5 0h0m1 0h0m7.5 0h0m.5 0h0m5.5 0h0m2.5 0h0m2 0h0m.5 0h0m7 0h0m1 0h0m4.5 0h0m-137.5 .5h0m.5 0h0m2.5 0h0m4.5 0h0m1.5 0h0m.5 0h0m7 0h0m1.5 0h0m4.5 0h0m.5 0h0m4 0h0m3 0h0m5 0h0m7 0h0m4 0h0m43.5 0h0m3.5 0h0m1 0h0m1.5 0h0m15.5 0h0m4.5 0h0m1 0h0m4.5 0h0m2 0h0m.5 0h0m5 0h0m-146 .5h0m22 0h0m5 0h0m.5 0h0m8 0h0m3 0h0m16.5 0h0m9.5 0h0m25 0h0m9.5 0h0m3 0h0m.5 0h0m13 0h0m7 0h0m4 0h0m.5 0h0m1 0h0m3.5 0h0m3 0h0m.5 0h0m1.5 0h0m2 0h0m2 0h0m1 0h0m4 0h0m2.5 0h0m-147.5 .5h0m.5 0h0m18.5 0h0m1 0h0m1 0h0m1.5 0h0m.5 0h0m3 0h0m2 0h0m12.5 0h0m3 0h0m8 0h0m16.5 0h0m23.5 0h0m1.5 0h0m12 0h0m9 0h0m12 0h0m2 0h0m1 0h0m6 0h0m9.5 0h0m1 0h0m1.5 0h0m-148.5 .5h0m18 0h0m.5 0h0m2.5 0h0m3 0h0m2 0h0m3.5 0h0m3.5 0h0m2.5 0h0m7.5 0h0m11 0h0m4 0h0m1.5 0h0m26 0h0m7.5 0h0m32 0h0m.5 0h0m18 0h0m3 0h0m.5 0h0m1.5 0h0m6.5 0h0m-156 .5h0m1 0h0m19.5 0h0m3.5 0h0m1 0h0m2 0h0m1.5 0h0m21 0h0m6 0h0m4.5 0h0m14 0h0m10.5 0h0m26.5 0h0m6 0h0m3.5 0h0m13.5 0h0m5 0h0m4 0h0m6 0h0m1 0h0m4.5 0h0m-155.5 .5h0m22.5 0h0m21 0h0m5.5 0h0m.5 0h0m13 0h0m1 0h0m10 0h0m13.5 0h0m12 0h0m10 0h0m8 0h0m15.5 0h0m6 0h0m7.5 0h0m3 0h0m-149.5 .5h0m1.5 0h0m22 0h0m1 0h0m3.5 0h0m.5 0h0m26 0h0m52 0h0m22 0h0m2 0h0m3.5 0h0m6.5 0h0m2 0h0m1.5 0h0m.5 0h0m-142.5 .5h0m18.5 0h0m6.5 0h0m9.5 0h0m5.5 0h0m81 0h0m9 0h0m3 0h0m5 0h0m1.5 0h0m1.5 0h0m2 0h0m.5 0h0m6.5 0h0m4 0h0m.5 0h0m-154.5 .5h0m.5 0h0m12 0h0m1 0h0m8.5 0h0m1.5 0h0m1 0h0m.5 0h0m2.5 0h0m2 0h0m3.5 0h0m5.5 0h0m9.5 0h0m10.5 0h0m19.5 0h0m18 0h0m3.5 0h0m9 0h0m1.5 0h0m9 0h0m3.5 0h0m3 0h0m12 0h0m2 0h0m7.5 0h0m.5 0h0m4.5 0h0m1 0h0m-153.5 .5h0m1 0h0m19 0h0m.5 0h0m2 0h0m16 0h0m3 0h0m27 0h0m42.5 0h0m10 0h0m19 0h0m5.5 0h0m.5 0h0m8.5 0h0m-139.5 .5h0m.5 0h0m.5 0h0m1 0h0m2 0h0m3 0h0m1.5 0h0m12.5 0h0m1.5 0h0m8 0h0m33 0h0m17 0h0m3 0h0m1.5 0h0m23.5 0h0m10 0h0m6 0h0m1 0h0m1.5 0h0m2.5 0h0m3 0h0m-148.5 .5h0m15.5 0h0m.5 0h0m1 0h0m6 0h0m2 0h0m.5 0h0m2.5 0h0m7 0h0m1 0h0m4 0h0m7 0h0m10 0h0m8 0h0m13.5 0h0m40 0h0m9 0h0m6 0h0m13.5 0h0m7 0h0m5 0h0m-159 .5h0m1 0h0m14.5 0h0m3 0h0m3.5 0h0m5 0h0m6.5 0h0m3.5 0h0m11 0h0m12 0h0m49.5 0h0m13 0h0m4.5 0h0m6 0h0m5 0h0m1.5 0h0m4.5 0h0m1.5 0h0m3 0h0m.5 0h0m.5 0h0m2.5 0h0m3.5 0h0m-155.5 .5h0m.5 0h0m.5 0h0m9 0h0m1 0h0m3 0h0m1 0h0m.5 0h0m6.5 0h0m4.5 0h0m1.5 0h0m7 0h0m19 0h0m21 0h0m35 0h0m19.5 0h0m9 0h0m1.5 0h0m2.5 0h0m2 0h0m2.5 0h0m12.5 0h0m-159 .5h0m9.5 0h0m1 0h0m.5 0h0m2.5 0h0m4.5 0h0m2 0h0m.5 0h0m1 0h0m.5 0h0m19.5 0h0m14.5 0h0m12 0h0m2.5 0h0m21 0h0m48 0h0m3 0h0m1 0h0m8.5 0h0m1 0h0m.5 0h0m-154 .5h0m.5 0h0m9 0h0m5 0h0m1 0h0m.5 0h0m1 0h0m.5 0h0m1.5 0h0m1 0h0m.5 0h0m.5 0h0m4.5 0h0m3.5 0h0m3.5 0h0m10 0h0m6.5 0h0m25 0h0m2.5 0h0m7.5 0h0m1.5 0h0m4 0h0m42.5 0h0m1 0h0m5 0h0m6.5 0h0m9 0h0m-139.5 .5h0m.5 0h0m2 0h0m18.5 0h0m8 0h0m7 0h0m9 0h0m11 0h0m30.5 0h0m34.5 0h0m7.5 0h0m4 0h0m3 0h0m-152 .5h0m2 0h0m8 0h0m2 0h0m9.5 0h0m33.5 0h0m20.5 0h0m3.5 0h0m23.5 0h0m23.5 0h0m12 0h0m8.5 0h0m2 0h0m1 0h0m8.5 0h0m9 0h0m-165.5 .5h0m13.5 0h0m9.5 0h0m3.5 0h0m1.5 0h0m2.5 0h0m9.5 0h0m11 0h0m.5 0h0m1.5 0h0m22.5 0h0m26 0h0m42 0h0m11 0h0m1 0h0m4 0h0m-149 .5h0m1 0h0m1.5 0h0m.5 0h0m1 0h0m3.5 0h0m2.5 0h0m.5 0h0m1 0h0m1 0h0m1.5 0h0m32.5 0h0m19 0h0m10 0h0m27 0h0m45 0h0m-158 .5h0m9 0h0m.5 0h0m3.5 0h0m.5 0h0m3 0h0m87 0h0m9.5 0h0m19.5 0h0m13 0h0m13 0h0m1.5 0h0m2 0h0m-161 .5h0m4 0h0m2 0h0m3 0h0m.5 0h0m2.5 0h0m1 0h0m12 0h0m3 0h0m1 0h0m7 0h0m8 0h0m39.5 0h0m11 0h0m17.5 0h0m25 0h0m6.5 0h0m2.5 0h0m11 0h0m-157 .5h0m.5 0h0m3.5 0h0m3 0h0m.5 0h0m2 0h0m.5 0h0m1.5 0h0m1 0h0m2 0h0m6.5 0h0m15.5 0h0m4.5 0h0m2.5 0h0m22.5 0h0m45 0h0m3.5 0h0m13 0h0m6.5 0h0m12 0h0m8.5 0h0m2.5 0h0m7.5 0h0m-165 .5h0m1 0h0m.5 0h0m3.5 0h0m3 0h0m1.5 0h0m1.5 0h0m10 0h0m9 0h0m103 0h0m23 0h0m9.5 0h0m-165.5 .5h0m1 0h0m6 0h0m5.5 0h0m2.5 0h0m21.5 0h0m7 0h0m43 0h0m29.5 0h0m2 0h0m21 0h0m8 0h0m.5 0h0m2 0h0m5 0h0m8 0h0m-158.5 .5h0m5 0h0m7 0h0m9.5 0h0m15.5 0h0m58 0h0m.5 0h0m3.5 0h0m6 0h0m53 0h0m-160 .5h0m4 0h0m2.5 0h0m2.5 0h0m1.5 0h0m7 0h0m1.5 0h0m61 0h0m17.5 0h0m45 0h0m.5 0h0m10 0h0m.5 0h0m9.5 0h0m-161 .5h0m1 0h0m.5 0h0m.5 0h0m7 0h0m9.5 0h0m33.5 0h0m70.5 0h0m8.5 0h0m31.5 0h0m-166.5 .5h0m5 0h0m.5 0h0m3 0h0m5.5 0h0m6 0h0m1.5 0h0m6.5 0h0m18 0h0m94.5 0h0m3 0h0m-144 .5h0m2 0h0m.5 0h0m2 0h0m2.5 0h0m.5 0h0m2 0h0m38.5 0h0m11 0h0m-54 .5h0m14.5 0h0m3 0h0m10.5 0h0m14.5 0h0m2.5 0h0m21.5 0h0m19 0h0m30 0h0m16 0h0m1.5 0h0m15 0h0m-153.5 .5h0m2.5 0h0m1.5 0h0m10.5 0h0m3.5 0h0m8 0h0m21.5 0h0m31.5 0h0m29 0h0m38 0h0m15 0h0m2.5 0h0m6.5 0h0m-169 .5h0m1 0h0m1 0h0m2.5 0h0m13 0h0m9 0h0m4.5 0h0m9.5 0h0m30 0h0m69.5 0h0m4.5 0h0m-143 .5h0m.5 0h0m7 0h0m85.5 0h0m31 0h0m12 0h0m5.5 0h0m3 0h0m.5 0h0m7.5 0h0m1 0h0m5 0h0m-160 .5h0m4.5 0h0m2.5 0h0m6.5 0h0m2.5 0h0m11 0h0m53.5 0h0m1.5 0h0m3 0h0m37.5 0h0m27.5 0h0m-132.5 .5h0m47 0h0m75.5 0h0m5 0h0m.5 0h0m20 0h0m-161 .5h0m13.5 0h0m7.5 0h0m132.5 0h0m-153.5 .5h0m7 0h0m5 0h0m10.5 0h0m9 0h0m1.5 0h0m63.5 0h0m37 0h0m22 0h0m1 0h0m-160.5 .5h0m14 0h0m12.5 0h0m51.5 0h0m68 0h0m15.5 0h0m-156.5 .5h0m13.5 0h0m42 0h0m41.5 0h0m30.5 0h0m-122 .5h0m21 0h0m19.5 0h0m83 0h0m22.5 0h0m4 0h0m1.5 0h0m1 0h0m-160 .5h0m2 0h0m64.5 0h0m33.5 0h0m9 0h0m37.5 0h0m3.5 0h0m-123.5 .5h0m113 0h0m7 0h0m26 0h0m-67 .5h0m14.5 0h0m1.5 0h0m2.5 0h0m14.5 0h0m13 0h0m18.5 0h0m-165 .5h0m4 0h0m39.5 0h0m33 0h0m33 0h0m36.5 0h0m2 0h0m4 0h0m4.5 0h0m8 0h0m1.5 0h0m-167.5 .5h0m23 0h0m58 0h0m6 0h0m5.5 0h0m35.5 0h0m7 0h0m-109.5 .5h0m64.5 0h0m51 0h0m15 0h0m-133.5 .5h0m67.5 0h0m27.5 0h0m26.5 0h0m16.5 0h0m-38.5 .5h0m4 0h0m9 0h0m1.5 0h0m14.5 0h0m18.5 0h0m-160.5 .5h0m125 0h0m3 0h0m1.5 0h0m.5 0h0m-117.5 .5h0m54 0h0m70.5 0h0m11.5 0h0m-40 .5h0m5 0h0m5 0h0m-97.5 .5h0m136 0h0m-161 .5h0m152 .5h0m4.5 0h0m-136 .5h0m114.5 0h0m2.5 0h0m20.5 0h0m12.5 0h0m-118.5 .5h0m80.5 0h0m-96 .5h0m103.5 0h0m11 0h0m-126.5 .5h0m117 0h0m-32 .5h0m17.5 0h0m-2 .5h0m18 0h0m18.5 0h0m-164 .5h0m92.5 0h0m25.5 0h0m18.5 0h0m-104.5 .5h0m69.5 0h0m44.5 0h0m13 .5h0m-2.5 1h0m-167 1.5h0m113.5 0h0m-90 .5h0m85.5 0h0m-34.5 .5h0m-12 .5h0m19 0h0m-75.5 .5h0m72 0h0m-58 .5h0m40 0h0m4 0h0m61.5 0h0m-96 .5h0m63 0h0m38.5 .5h0m40.5 0h0m-74.5 .5h0m-53.5 .5h0m112.5 0h0m-139.5 .5h0" stroke="#a8679f" stroke-width="1.7" stroke-linecap="round" fill="none"/></g>
<polyline points="44.1,596.59 46.8,594.87 49.5,593.11 52.2,591.3 54.9,589.46 57.59,587.57 60.29,585.64 62.99,583.68 65.69,581.68 68.39,579.64 71.09,577.57 73.79,575.48 76.49,573.35 79.18,571.2 81.88,569.03 84.58,566.85 87.28,564.65 89.98,562.45 92.68,560.25 95.38,558.06 98.08,555.88 100.77,553.72 103.47,551.6 106.17,549.5 108.87,547.46 111.57,545.47 114.27,543.55 116.97,541.7 119.67,539.94 122.36,538.27 125.06,536.7 127.76,535.25 130.46,533.92 133.16,532.72 135.86,531.66 138.56,530.75 141.25,529.99 143.95,529.38 146.65,528.94 149.35,528.66 152.05,528.55 154.75,528.6 157.45,528.82 160.15,529.21 162.85,529.76 165.54,530.46 168.24,531.32 170.94,532.32 173.64,533.46 176.34,534.73 179.04,536.13 181.74,537.64 184.44,539.25 187.13,540.95 189.83,542.74 192.53,544.61 195.23,546.54 197.93,548.52 200.63,550.56 203.33,552.63 206.03,554.73 208.72,556.85 211.42,558.98 214.12,561.13 216.82,563.27 219.52,565.41 222.22,567.53 224.92,569.64 227.62,571.74 230.31,573.8 233.01,575.84 235.71,577.86 238.41,579.83 241.11,581.78 243.81,583.68 246.51,585.55 249.21,587.38 251.9,589.17 254.6,590.92 257.3,592.62 260,594.29" fill="none" stroke="#ff1a1a" stroke-width="1.6" stroke-linejoin="round"/>
<rect x="35.5" y="523.9" width="233.2" height="99.3" fill="none" stroke="#707070" stroke-width="1"/>
<path d="M44.1 623.2v3.6M87.28 623.2v3.6M130.46 623.2v3.6M173.64 623.2v3.6M216.82 623.2v3.6M260 623.2v3.6M31.9 598.9h3.6M31.9 575.83h3.6M31.9 552.77h3.6M31.9 529.7h3.6M31.9 621.97h3.6" stroke="#707070" stroke-width="0.9" fill="none"/>
<text x="44.1" y="634.93" class="tk" text-anchor="middle">0.0</text>
<text x="87.28" y="634.93" class="tk" text-anchor="middle">0.2</text>
<text x="130.46" y="634.93" class="tk" text-anchor="middle">0.4</text>
<text x="173.64" y="634.93" class="tk" text-anchor="middle">0.6</text>
<text x="216.82" y="634.93" class="tk" text-anchor="middle">0.8</text>
<text x="260" y="634.93" class="tk" text-anchor="middle">1.0</text>
<text class="tk" text-anchor="middle" transform="translate(27.93 598.9) rotate(-90)">30</text>
<text class="tk" text-anchor="middle" transform="translate(27.93 575.83) rotate(-90)">40</text>
<text class="tk" text-anchor="middle" transform="translate(27.93 552.77) rotate(-90)">50</text>
<text class="tk" text-anchor="middle" transform="translate(27.93 529.7) rotate(-90)">60</text>
<text class="tk" text-anchor="middle" transform="translate(27.93 621.97) rotate(-90)">20</text>
<text x="35.5" y="511.7" class="ti">Tapinoma rectinotum</text>
<text x="157.1" y="642.2" class="lb" text-anchor="middle">GC3s</text>
<text class="lb" text-anchor="middle" transform="translate(22.4 561.7) rotate(-90)">ENC</text>
<g filter="url(#bl)"><path d="M372 528.5h1m9 0h5m1 0h69M384 529.5h3m5 0h2m1 0h1m1 0h1m2 0h18m2 0h5m3 0h24m4 0h1M384 530.5h1m4 0h3m3 0h6m2 0h22m2 0h10m1 0h2m1 0h14m4 0h1M385 531.5h1m3 0h1m1 0h2m3 0h2m2 0h2m1 0h34m1 0h3m2 0h13m3 0h1M382 532.5h2m3 0h3m1 0h2m2 0h24m2 0h3m1 0h16m2 0h14M382 533.5h2m2 0h1m2 0h4m3 0h1m1 0h21m1 0h3m3 0h3m1 0h8m3 0h13m3 0h1m2 0h1m4 0h1M374 534.5h1m8 0h2m7 0h3m1 0h28m1 0h3m2 0h5m1 0h20m2 0h1m3 0h1m2 0h1M378 535.5h1m4 0h6m3 0h25m1 0h17m1 0h18m1 0h5M371 536.5h2m2 0h2m1 0h1m3 0h8m1 0h4m1 0h8m1 0h55m3 0h2M376 537.5h1m2 0h1m3 0h4m1 0h13m1 0h4m1 0h46m2 0h5m2 0h1m2 0h1M383 538.5h4m1 0h18m1 0h37m1 0h16m1 0h1m2 0h1M375 539.5h1m3 0h16m1 0h61m2 0h2m1 0h1m4 0h1m1 0h1M376 540.5h1m1 0h81m2 0h1m1 0h2M377 541.5h7m2 0h73m1 0h5M359 542.5h1m4 0h1m8 0h1m2 0h3m1 0h3m1 0h75m2 0h5m3 0h2M373 543.5h2m1 0h5m3 0h75m3 0h1m2 0h3M369 544.5h2m3 0h8m1 0h80m1 0h1m2 0h2M367 545.5h1m2 0h1m3 0h58m2 0h4m1 0h21m1 0h5m1 0h2m2 0h2M353 546.5h1m12 0h1m3 0h24m2 0h31m1 0h4m2 0h5m1 0h20m1 0h8M359 547.5h1m5 0h1m4 0h29m1 0h31m2 0h6m1 0h36m2 0h1M365 548.5h1m4 0h37m1 0h5m2 0h6m1 0h6m1 0h3m2 0h7m1 0h4m1 0h12m1 0h11m1 0h1m2 0h1m2 0h2M371 549.5h6m1 0h21m1 0h5m1 0h3m2 0h6m1 0h6m1 0h3m2 0h7m1 0h8m1 0h24m1 0h1m1 0h2m1 0h1M361 550.5h1m3 0h1m1 0h12m1 0h24m2 0h10m3 0h7m2 0h4m1 0h10m1 0h2m2 0h4m2 0h8m1 0h12M361 551.5h1m4 0h13m1 0h24m1 0h9m1 0h3m1 0h6m1 0h1m1 0h7m3 0h2m2 0h2m1 0h1m1 0h5m2 0h22m1 0h1M362 552.5h3m1 0h10m1 0h34m4 0h7m1 0h2m5 0h5m3 0h2m3 0h24m1 0h1m1 0h4m2 0h1M361 553.5h2m1 0h12m1 0h24m2 0h8m2 0h7m1 0h1m1 0h2m4 0h3m1 0h2m1 0h7m2 0h8m1 0h14m1 0h1m2 0h4m3 0h1m3 0h1M358 554.5h1m3 0h2m1 0h36m2 0h8m1 0h1m1 0h10m1 0h1m2 0h1m1 0h3m1 0h8m2 0h2m2 0h4m2 0h17m1 0h1m1 0h1m2 0h1M359 555.5h1m1 0h1m1 0h1m1 0h38m1 0h1m3 0h1m4 0h4m3 0h1m1 0h1m1 0h3m1 0h5m2 0h2m2 0h3m1 0h9m2 0h9m1 0h10m1 0h3M359 556.5h1m1 0h3m1 0h1m1 0h7m1 0h19m1 0h5m1 0h2m1 0h7m4 0h2m1 0h1m6 0h2m1 0h3m5 0h2m3 0h8m2 0h10m1 0h2m1 0h14M355 557.5h1m3 0h1m2 0h3m2 0h24m1 0h9m2 0h7m6 0h2m4 0h1m2 0h4m1 0h2m4 0h2m1 0h1m3 0h3m1 0h2m2 0h2m2 0h6m2 0h16m2 0h1m2 0h1M359 558.5h42m4 0h5m3 0h7m3 0h2m2 0h3m1 0h1m4 0h1m2 0h1m9 0h3m4 0h1m4 0h19m1 0h6M356 559.5h1m2 0h21m2 0h3m1 0h5m1 0h2m1 0h4m1 0h1m3 0h4m2 0h3m1 0h1m1 0h6m1 0h1m6 0h1m5 0h2m6 0h2m5 0h2m1 0h4m1 0h1m1 0h19m1 0h2M356 560.5h2m1 0h2m1 0h30m5 0h1m9 0h1m1 0h4m4 0h4m1 0h2m10 0h3m3 0h1m4 0h1m1 0h2m3 0h1m2 0h15m1 0h7m1 0h4m8 0h1M354 561.5h1m1 0h36m4 0h1m2 0h4m1 0h1m2 0h3m3 0h1m5 0h2m3 0h1m4 0h2m9 0h3m3 0h1m1 0h1m8 0h2m1 0h13m1 0h11m2 0h2m5 0h1M355 562.5h1m1 0h29m2 0h1m1 0h8m1 0h4m4 0h4m2 0h1m3 0h1m5 0h3m4 0h1m7 0h1m1 0h3m4 0h2m2 0h1m5 0h1m3 0h6m1 0h11m1 0h4m7 0h1M355 563.5h30m1 0h3m1 0h4m2 0h3m1 0h1m1 0h1m3 0h2m1 0h3m13 0h2m3 0h1m5 0h1m1 0h1m1 0h1m5 0h1m3 0h5m1 0h2m3 0h5m1 0h3m1 0h3m1 0h9m7 0h2M354 564.5h1m1 0h18m1 0h10m1 0h2m1 0h3m1 0h1m3 0h1m2 0h1m1 0h2m6 0h8m5 0h1m2 0h1m3 0h1m5 0h1m1 0h2m4 0h1m1 0h1m5 0h3m2 0h2m2 0h4m3 0h1m2 0h3m1 0h2m2 0h1m1 0h2m5 0h1m3 0h1M353 565.5h1m3 0h12m1 0h1m1 0h5m1 0h17m3 0h1m3 0h1m4 0h1m3 0h2m1 0h4m1 0h1m1 0h1m3 0h4m11 0h1m2 0h1m3 0h1m2 0h5m1 0h1m1 0h4m3 0h3m3 0h6m2 0h1m3 0h2m3 0h1M351 566.5h2m1 0h17m1 0h5m5 0h3m1 0h4m2 0h3m3 0h3m8 0h2m4 0h1m12 0h1m18 0h1m8 0h1m2 0h1m1 0h1m1 0h1m1 0h1m1 0h2m1 0h2m1 0h1m3 0h2m1 0h1m2 0h1m1 0h2m2 0h1M351 567.5h37m1 0h5m1 0h3m12 0h1m12 0h1m4 0h1m12 0h2m11 0h1m4 0h4m1 0h4m2 0h2m4 0h1m1 0h4m1 0h4m4 0h1M351 568.5h20m1 0h1m1 0h7m3 0h3m1 0h1m1 0h3m2 0h1m8 0h3m6 0h1m4 0h1m16 0h2m17 0h1m1 0h6m1 0h5m2 0h2m3 0h5m1 0h3m1 0h2M351 569.5h19m2 0h4m1 0h4m2 0h2m3 0h1m11 0h1m1 0h1m1 0h1m2 0h1m25 0h3m5 0h1m6 0h1m2 0h1m3 0h2m2 0h1m1 0h1m2 0h3m6 0h9m2 0h2m5 0h1M349 570.5h6m2 0h16m1 0h2m2 0h7m5 0h2m1 0h2m9 0h1m2 0h1m22 0h1m3 0h2m9 0h1m3 0h1m1 0h1m2 0h1m11 0h1m1 0h1m1 0h1m1 0h8m4 0h2m4 0h2m2 0h1M348 571.5h22m3 0h1m2 0h1m2 0h2m1 0h1m5 0h1m1 0h1m3 0h1m13 0h1m5 0h1m8 0h1m7 0h1m2 0h2m3 0h1m2 0h1m1 0h1m5 0h1m1 0h2m6 0h1m2 0h1m1 0h1m1 0h1m2 0h1m2 0h7m1 0h1m3 0h1m3 0h2m2 0h1M350 572.5h20m1 0h1m4 0h1m4 0h2m7 0h1m9 0h1m17 0h1m9 0h1m2 0h1m7 0h2m4 0h1m2 0h1m4 0h1m12 0h1m2 0h2m1 0h2m1 0h2m1 0h9m1 0h3m3 0h1m1 0h1M349 573.5h19m2 0h1m4 0h2m2 0h1m4 0h2m4 0h1m8 0h2m1 0h1m46 0h1m1 0h1m5 0h3m3 0h2m1 0h1m3 0h3m2 0h1m3 0h1m2 0h3m1 0h1m1 0h1m2 0h1M349 574.5h18m7 0h5m1 0h1m9 0h2m6 0h1m1 0h1m2 0h1m30 0h1m14 0h1m3 0h3m2 0h1m3 0h1m4 0h1m2 0h1m3 0h2m3 0h2m1 0h2m2 0h1m1 0h1m1 0h2m5 0h1M349 575.5h10m3 0h1m2 0h2m1 0h1m7 0h1m1 0h2m7 0h1m3 0h3m3 0h1m28 0h2m1 0h1m4 0h1m4 0h1m18 0h1m8 0h1m11 0h2m3 0h5m2 0h3M349 576.5h12m9 0h1m5 0h1m3 0h1m3 0h1m22 0h1m46 0h1m10 0h6m6 0h5m2 0h2m2 0h1m2 0h2m2 0h1M348 577.5h12m14 0h1m3 0h1m14 0h2m2 0h1m38 0h1m31 0h1m4 0h1m1 0h1m11 0h2m1 0h1m4 0h2m1 0h1M347 578.5h8m1 0h1m23 0h2m7 0h1m3 0h1m3 0h1m6 0h2m13 0h1m18 0h1m27 0h1m8 0h2m6 0h1m1 0h1m4 0h1m2 0h1m4 0h1M347 579.5h10m2 0h2m1 0h1m16 0h2m7 0h1m9 0h1m57 0h1m15 0h1m2 0h1m2 0h1m4 0h1m9 0h1M347 580.5h11m2 0h1m2 0h1m16 0h2m21 0h1m42 0h1m10 0h1m9 0h1m2 0h1m12 0h1m4 0h1m1 0h1m2 0h1M348 581.5h1m2 0h4m1 0h1m4 0h1m1 0h1m1 0h1m5 0h1m12 0h1m13 0h2m15 0h1m31 0h1m22 0h2m16 0h2m10 0h1M349 582.5h6m2 0h1m11 0h1m42 0h1m2 0h1m29 0h1m6 0h1m15 0h1m1 0h2m5 0h1m6 0h4m6 0h1m3 0h3M346 583.5h3m1 0h1m40 0h1m4 0h1m6 0h1m13 0h2m7 0h1m25 0h1m18 0h1m6 0h1m20 0h1m3 0h2M346 584.5h1m6 0h1m19 0h1m34 0h1m1 0h1m13 0h1m3 0h1m8 0h1m8 0h1m21 0h1m4 0h1m14 0h3m4 0h1m8 0h1M349 585.5h1m7 0h1m2 0h1m2 0h2m42 0h1m54 0h1m26 0h1m3 0h1m1 0h1m1 0h2m4 0h1M360 586.5h1m4 0h1m12 0h1m15 0h1m7 0h1m8 0h1m41 0h1m8 0h1m19 0h2m7 0h1m2 0h2m1 0h1M351 587.5h1m9 0h1m90 0h1m11 0h1m7 0h1m13 0h1m5 0h2M358 588.5h1m17 0h1m37 0h1m51 0h1m6 0h1m12 0h1m3 0h1m1 0h1M372 589.5h1m69 0h1m10 0h1m11 0h1m8 0h1m17 0h1m4 0h1m10 0h1M357 590.5h1m21 0h1m90 0h1m12 0h1m2 0h2m6 0h1m2 0h1M434 591.5h1m54 0h1m6 0h1m15 0h1M347 592.5h1m35 0h1m66 0h1m23 0h1m15 0h1m8 0h1M512 593.5h1M377 594.5h1m15 0h1m3 0h1m85 0h1m7 0h1m6 0h1M390 595.5h1m15 0h1m80 0h1m5 0h1m1 0h1M394 596.5h1m13 0h1m100 0h1M372 597.5h1m76 0h1m23 0h1m23 0h2m3 0h1m5 0h1m8 0h1M374 598.5h1m133 0h1m8 0h1M507 599.5h1m11 0h1M449 600.5h1m47 0h1m7 0h1M490 602.5h1M513 603.5h2M489 604.5h1m22 0h1M383 605.5h1m56 0h1m10 0h1m20 0h1m23 0h2M428 606.5h1m82 0h1M445 607.5h1M402 608.5h1m117 0h1M402 609.5h1m5 0h1M459 611.5h1M425 613.5h1M514 614.5h1" stroke="#a8679f" stroke-width="1" fill="none" shape-rendering="crispEdges"/><path d="M372 528h0m.5 0h0m.5 0h0m2 0h0m7.5 0h0m.5 0h0m.5 0h0m.5 0h0m.5 0h0m.5 0h0m1 0h0m.5 0h0m.5 0h0m.5 0h0m1 0h0m1 0h0m.5 0h0m.5 0h0m.5 0h0m.5 0h0m.5 0h0m.5 0h0m.5 0h0m1 0h0m.5 0h0m.5 0h0m1 0h0m.5 0h0m.5 0h0m.5 0h0m.5 0h0m.5 0h0m.5 0h0m.5 0h0m.5 0h0m.5 0h0m.5 0h0m.5 0h0m.5 0h0m.5 0h0m.5 0h0m.5 0h0m.5 0h0m.5 0h0m.5 0h0m.5 0h0m.5 0h0m.5 0h0m.5 0h0m.5 0h0m.5 0h0m.5 0h0m.5 0h0m.5 0h0m.5 0h0m.5 0h0m.5 0h0m.5 0h0m.5 0h0m.5 0h0m.5 0h0m.5 0h0m.5 0h0m.5 0h0m.5 0h0m.5 0h0m.5 0h0m.5 0h0m.5 0h0m.5 0h0m.5 0h0m.5 0h0m.5 0h0m.5 0h0m.5 0h0m.5 0h0m.5 0h0m.5 0h0m.5 0h0m.5 0h0m.5 0h0m.5 0h0m.5 0h0m.5 0h0m.5 0h0m.5 0h0m.5 0h0m.5 0h0m.5 0h0m.5 0h0m.5 0h0m.5 0h0m.5 0h0m.5 0h0m.5 0h0m.5 0h0m.5 0h0m.5 0h0m.5 0h0m.5 0h0m.5 0h0m.5 0h0m.5 0h0m.5 0h0m.5 0h0m.5 0h0m.5 0h0m.5 0h0m.5 0h0m.5 0h0m.5 0h0m.5 0h0m.5 0h0m.5 0h0m.5 0h0m.5 0h0m.5 0h0m.5 0h0m.5 0h0m.5 0h0m.5 0h0m.5 0h0m.5 0h0m.5 0h0m.5 0h0m.5 0h0m.5 0h0m.5 0h0m.5 0h0m.5 0h0m.5 0h0m.5 0h0m.5 0h0m.5 0h0m.5 0h0m.5 0h0m.5 0h0m.5 0h0m.5 0h0m.5 0h0m.5 0h0m.5 0h0m.5 0h0m.5 0h0m.5 0h0m.5 0h0m1.5 0h0m1.5 0h0m4 0h0m-72.5 .5h0m3 0h0m5.5 0h0m2 0h0m1.5 0h0m2.5 0h0m.5 0h0m.5 0h0m.5 0h0m1 0h0m.5 0h0m2 0h0m.5 0h0m.5 0h0m6.5 0h0m1 0h0m3.5 0h0m3 0h0m1 0h0m3 0h0m1 0h0m4 0h0m1.5 0h0m1 0h0m1.5 0h0m2 0h0m1 0h0m2 0h0m1.5 0h0m1.5 0h0m2.5 0h0m5.5 0h0m.5 0h0m1.5 0h0m1.5 0h0m-72 .5h0m8.5 0h0m1.5 0h0m1 0h0m1 0h0m4.5 0h0m4 0h0m1.5 0h0m2 0h0m.5 0h0m2.5 0h0m.5 0h0m2.5 0h0m2.5 0h0m2.5 0h0m4 0h0m4.5 0h0m2 0h0m1 0h0m5.5 0h0m.5 0h0m.5 0h0m2 0h0m1 0h0m1 0h0m.5 0h0m2 0h0m1.5 0h0m4.5 0h0m1 0h0m2 0h0m-81 .5h0m13 0h0m1 0h0m2.5 0h0m3 0h0m9.5 0h0m1 0h0m.5 0h0m17 0h0m.5 0h0m6.5 0h0m1.5 0h0m9.5 0h0m18 0h0m-71.5 .5h0m2.5 0h0m2.5 0h0m4 0h0m1.5 0h0m.5 0h0m3.5 0h0m1 0h0m.5 0h0m.5 0h0m1 0h0m15 0h0m1.5 0h0m.5 0h0m5.5 0h0m12.5 0h0m2.5 0h0m13 0h0m6.5 0h0m-69.5 .5h0m1 0h0m1 0h0m4.5 0h0m2 0h0m1 0h0m4.5 0h0m21 0h0m.5 0h0m14 0h0m2 0h0m2 0h0m11 0h0m1 0h0m4 0h0m.5 0h0m3.5 0h0m-91 .5h0m17 0h0m2 0h0m4.5 0h0m1 0h0m.5 0h0m3.5 0h0m3 0h0m16.5 0h0m.5 0h0m4 0h0m.5 0h0m.5 0h0m2 0h0m8.5 0h0m5.5 0h0m1.5 0h0m12 0h0m-69.5 .5h0m6 0h0m2.5 0h0m2.5 0h0m4 0h0m.5 0h0m2.5 0h0m17.5 0h0m4 0h0m.5 0h0m.5 0h0m1 0h0m12 0h0m2 0h0m2.5 0h0m12 0h0m3.5 0h0m.5 0h0m3.5 0h0m-79.5 .5h0m2.5 0h0m3 0h0m2 0h0m2 0h0m2.5 0h0m1.5 0h0m1 0h0m1 0h0m2 0h0m.5 0h0m.5 0h0m.5 0h0m15.5 0h0m.5 0h0m2.5 0h0m4 0h0m2 0h0m10 0h0m.5 0h0m.5 0h0m1.5 0h0m1 0h0m2.5 0h0m.5 0h0m.5 0h0m10.5 0h0m2 0h0m-74 .5h0m5 0h0m1 0h0m1 0h0m1.5 0h0m1 0h0m3 0h0m3 0h0m.5 0h0m1 0h0m.5 0h0m18.5 0h0m3.5 0h0m1.5 0h0m1.5 0h0m1 0h0m11 0h0m1.5 0h0m2.5 0h0m2.5 0h0m-71 .5h0m10 0h0m1 0h0m2 0h0m2.5 0h0m.5 0h0m2.5 0h0m4 0h0m1 0h0m22.5 0h0m10 0h0m1 0h0m.5 0h0m12 0h0m13 0h0m1.5 0h0m-86.5 .5h0m12 0h0m2 0h0m6 0h0m1 0h0m1 0h0m2.5 0h0m2 0h0m2.5 0h0m19 0h0m1 0h0m1.5 0h0m2 0h0m4.5 0h0m1 0h0m2.5 0h0m5 0h0m5.5 0h0m1.5 0h0m11 0h0m4 0h0m1 0h0m2 0h0m1.5 0h0m3 0h0m-90.5 .5h0m5.5 0h0m6.5 0h0m6.5 0h0m1.5 0h0m4 0h0m22.5 0h0m2 0h0m.5 0h0m7.5 0h0m4 0h0m1 0h0m.5 0h0m3 0h0m1 0h0m13 0h0m-70 .5h0m.5 0h0m4.5 0h0m5 0h0m4 0h0m.5 0h0m19.5 0h0m1.5 0h0m5 0h0m4 0h0m6 0h0m2 0h0m2 0h0m1 0h0m.5 0h0m1 0h0m14.5 0h0m.5 0h0m2.5 0h0m5 0h0m2 0h0m-87 .5h0m5.5 0h0m8.5 0h0m.5 0h0m3.5 0h0m.5 0h0m8 0h0m12 0h0m2.5 0h0m.5 0h0m.5 0h0m4 0h0m.5 0h0m1 0h0m.5 0h0m1.5 0h0m1 0h0m1 0h0m9 0h0m.5 0h0m.5 0h0m14.5 0h0m2.5 0h0m1.5 0h0m4.5 0h0m-90 .5h0m11 0h0m2 0h0m1 0h0m.5 0h0m5 0h0m1 0h0m2.5 0h0m23 0h0m.5 0h0m5 0h0m.5 0h0m4.5 0h0m.5 0h0m.5 0h0m4.5 0h0m2 0h0m19.5 0h0m1 0h0m-102.5 .5h0m16.5 0h0m5 0h0m2 0h0m4 0h0m1 0h0m2 0h0m1.5 0h0m1 0h0m2 0h0m2.5 0h0m1 0h0m2 0h0m11 0h0m.5 0h0m10 0h0m2 0h0m11 0h0m5.5 0h0m.5 0h0m1 0h0m.5 0h0m16.5 0h0m6 0h0m11.5 0h0m-99 .5h0m10 0h0m10 0h0m13 0h0m12.5 0h0m18 0h0m.5 0h0m17.5 0h0m6.5 0h0m4 0h0m-91.5 .5h0m2.5 0h0m3.5 0h0m3.5 0h0m4.5 0h0m4 0h0m.5 0h0m3.5 0h0m.5 0h0m1.5 0h0m5 0h0m5 0h0m29 0h0m9 0h0m8 0h0m3 0h0m3.5 0h0m4.5 0h0m1 0h0m1.5 0h0m-89.5 .5h0m3 0h0m6.5 0h0m.5 0h0m2 0h0m.5 0h0m11 0h0m2 0h0m.5 0h0m2 0h0m.5 0h0m1 0h0m1.5 0h0m37 0h0m8 0h0m2 0h0m4.5 0h0m.5 0h0m3 0h0m3 0h0m4 0h0m-86 .5h0m5 0h0m13 0h0m4 0h0m53 0h0m2 0h0m-74.5 .5h0m10 0h0m11.5 0h0m38.5 0h0m7 0h0m4 0h0m2 0h0m3.5 0h0m5.5 0h0m-100 .5h0m7 0h0m2 0h0m3.5 0h0m1.5 0h0m1 0h0m3.5 0h0m7.5 0h0m3 0h0m9 0h0m1 0h0m.5 0h0m36.5 0h0m2 0h0m13 0h0m6 0h0m4 0h0m-94 .5h0m.5 0h0m4.5 0h0m.5 0h0m1 0h0m1 0h0m13.5 0h0m10 0h0m.5 0h0m.5 0h0m37 0h0m12.5 0h0m3 0h0m2.5 0h0m.5 0h0m5 0h0m1.5 0h0m-92.5 .5h0m2.5 0h0m2.5 0h0m3 0h0m.5 0h0m3 0h0m70.5 0h0m.5 0h0m2 0h0m2.5 0h0m.5 0h0m8.5 0h0m-109.5 .5h0m13.5 0h0m2 0h0m17 0h0m.5 0h0m61 0h0m.5 0h0m4.5 0h0m5 0h0m-97 .5h0m3 0h0m10.5 0h0m.5 0h0m3 0h0m8 0h0m65.5 0h0m.5 0h0m4 0h0m2 0h0m-104 .5h0m14 0h0m2.5 0h0m7 0h0m.5 0h0m71 0h0m1.5 0h0m.5 0h0m2 0h0m.5 0h0m6.5 0h0m-102.5 .5h0m12 0h0m1.5 0h0m1 0h0m.5 0h0m1.5 0h0m1 0h0m1.5 0h0m.5 0h0m.5 0h0m72.5 0h0m.5 0h0m1 0h0m4.5 0h0m4 0h0m.5 0h0m-110.5 .5h0m5.5 0h0m8.5 0h0m3 0h0m.5 0h0m.5 0h0m1 0h0m4.5 0h0m2 0h0m73.5 0h0m3.5 0h0m.5 0h0m2.5 0h0m2.5 0h0m3.5 0h0m-97.5 .5h0m.5 0h0m3.5 0h0m81.5 0h0m3.5 0h0m1 0h0m2 0h0m2 0h0m-92.5 .5h0m1.5 0h0m.5 0h0m3.5 0h0m.5 0h0m4 0h0m73.5 0h0m.5 0h0m7.5 0h0m.5 0h0m4.5 0h0m-102 .5h0m.5 0h0m4.5 0h0m1 0h0m.5 0h0m4 0h0m2 0h0m2.5 0h0m.5 0h0m74.5 0h0m.5 0h0m9 0h0m6 0h0m4 0h0m-108 .5h0m4 0h0m6.5 0h0m2.5 0h0m49.5 0h0m5 0h0m.5 0h0m23.5 0h0m2 0h0m.5 0h0m.5 0h0m2 0h0m1.5 0h0m-101 .5h0m2.5 0h0m3.5 0h0m.5 0h0m7.5 0h0m14 0h0m31.5 0h0m7 0h0m4 0h0m22.5 0h0m.5 0h0m.5 0h0m.5 0h0m1.5 0h0m.5 0h0m1 0h0m4 0h0m2 0h0m1.5 0h0m-90 .5h0m51.5 0h0m3.5 0h0m2 0h0m19.5 0h0m2 0h0m2.5 0h0m1.5 0h0m2 0h0m2 0h0m2 0h0m.5 0h0m-101 .5h0m1.5 0h0m22 0h0m1 0h0m1 0h0m30.5 0h0m1.5 0h0m.5 0h0m3 0h0m7 0h0m1 0h0m1 0h0m21 0h0m-108.5 .5h0m13.5 0h0m.5 0h0m4 0h0m2.5 0h0m19.5 0h0m.5 0h0m2.5 0h0m35.5 0h0m2 0h0m.5 0h0m6.5 0h0m18.5 0h0m.5 0h0m2 0h0m.5 0h0m4.5 0h0m-107 .5h0m7.5 0h0m3 0h0m1.5 0h0m.5 0h0m.5 0h0m1 0h0m.5 0h0m19.5 0h0m13.5 0h0m21.5 0h0m.5 0h0m1 0h0m1 0h0m3 0h0m.5 0h0m6.5 0h0m5 0h0m13 0h0m1 0h0m9 0h0m1.5 0h0m2.5 0h0m1 0h0m-108 .5h0m3.5 0h0m1.5 0h0m23.5 0h0m1 0h0m12 0h0m5.5 0h0m.5 0h0m.5 0h0m13.5 0h0m3 0h0m2.5 0h0m8 0h0m1 0h0m18 0h0m1 0h0m11 0h0m1 0h0m1 0h0m2 0h0m2.5 0h0m-120 .5h0m7 0h0m5 0h0m.5 0h0m6.5 0h0m18 0h0m4.5 0h0m5 0h0m3.5 0h0m.5 0h0m1 0h0m.5 0h0m.5 0h0m1.5 0h0m7.5 0h0m5 0h0m2 0h0m2 0h0m.5 0h0m2 0h0m8.5 0h0m1.5 0h0m.5 0h0m18 0h0m12 0h0m3.5 0h0m-109.5 .5h0m4.5 0h0m35 0h0m3 0h0m1 0h0m6 0h0m1.5 0h0m.5 0h0m3 0h0m2 0h0m7.5 0h0m2 0h0m2.5 0h0m3.5 0h0m1 0h0m3 0h0m3.5 0h0m14.5 0h0m.5 0h0m10 0h0m5 0h0m3 0h0m1 0h0m-80.5 .5h0m2 0h0m7.5 0h0m.5 0h0m3.5 0h0m4 0h0m2.5 0h0m8 0h0m.5 0h0m2.5 0h0m2.5 0h0m2.5 0h0m3 0h0m9 0h0m6.5 0h0m6 0h0m1 0h0m2.5 0h0m9.5 0h0m5.5 0h0m-110 .5h0m4 0h0m4 0h0m3 0h0m1 0h0m20 0h0m4 0h0m.5 0h0m2 0h0m2 0h0m3 0h0m3 0h0m4 0h0m.5 0h0m2 0h0m2.5 0h0m2.5 0h0m.5 0h0m4 0h0m7.5 0h0m.5 0h0m3 0h0m2.5 0h0m3 0h0m.5 0h0m5 0h0m1.5 0h0m16 0h0m4.5 0h0m.5 0h0m2 0h0m-107 .5h0m6.5 0h0m.5 0h0m1 0h0m.5 0h0m1 0h0m.5 0h0m1 0h0m17 0h0m2.5 0h0m7 0h0m5.5 0h0m2 0h0m10.5 0h0m2.5 0h0m3.5 0h0m2 0h0m3 0h0m4.5 0h0m.5 0h0m3.5 0h0m3.5 0h0m3 0h0m1.5 0h0m1.5 0h0m5 0h0m13.5 0h0m1.5 0h0m-114 .5h0m1 0h0m3.5 0h0m.5 0h0m1.5 0h0m2 0h0m8.5 0h0m1 0h0m2 0h0m19.5 0h0m6 0h0m.5 0h0m3 0h0m.5 0h0m4 0h0m10.5 0h0m3.5 0h0m1 0h0m.5 0h0m2 0h0m4.5 0h0m.5 0h0m1 0h0m3 0h0m3.5 0h0m4 0h0m1 0h0m5 0h0m.5 0h0m9 0h0m7.5 0h0m1 0h0m2 0h0m-108 .5h0m1.5 0h0m1 0h0m.5 0h0m1 0h0m7.5 0h0m.5 0h0m.5 0h0m2 0h0m19 0h0m4 0h0m7 0h0m.5 0h0m1 0h0m2 0h0m1 0h0m1 0h0m1.5 0h0m2 0h0m.5 0h0m6.5 0h0m2 0h0m1 0h0m1.5 0h0m2 0h0m2 0h0m7 0h0m.5 0h0m1 0h0m2 0h0m6 0h0m2.5 0h0m8 0h0m1 0h0m5 0h0m6 0h0m1 0h0m-113.5 .5h0m15 0h0m.5 0h0m3.5 0h0m.5 0h0m25 0h0m9 0h0m.5 0h0m1 0h0m12.5 0h0m10 0h0m.5 0h0m3 0h0m5 0h0m4 0h0m.5 0h0m10 0h0m12.5 0h0m2.5 0h0m.5 0h0m-114.5 .5h0m1.5 0h0m2 0h0m10.5 0h0m.5 0h0m.5 0h0m1.5 0h0m.5 0h0m23.5 0h0m.5 0h0m1 0h0m5 0h0m1 0h0m1.5 0h0m6.5 0h0m2 0h0m3.5 0h0m5.5 0h0m3 0h0m5 0h0m1.5 0h0m7 0h0m.5 0h0m5.5 0h0m1 0h0m1.5 0h0m17 0h0m1.5 0h0m3 0h0m-114.5 .5h0m13.5 0h0m4.5 0h0m21.5 0h0m1 0h0m7.5 0h0m.5 0h0m4.5 0h0m.5 0h0m2.5 0h0m6 0h0m4 0h0m6.5 0h0m3.5 0h0m.5 0h0m4.5 0h0m.5 0h0m.5 0h0m1 0h0m1 0h0m.5 0h0m6 0h0m.5 0h0m1 0h0m12 0h0m.5 0h0m1.5 0h0m2 0h0m1 0h0m2.5 0h0m2.5 0h0m-114 .5h0m1.5 0h0m3 0h0m10.5 0h0m.5 0h0m32.5 0h0m3 0h0m.5 0h0m2.5 0h0m4.5 0h0m.5 0h0m6 0h0m3 0h0m3 0h0m4.5 0h0m.5 0h0m1 0h0m2 0h0m.5 0h0m6.5 0h0m19 0h0m5 0h0m1.5 0h0m1.5 0h0m4.5 0h0m3.5 0h0m-122.5 .5h0m4 0h0m.5 0h0m1 0h0m34 0h0m3.5 0h0m11 0h0m5.5 0h0m3 0h0m1 0h0m6 0h0m1 0h0m2 0h0m.5 0h0m1.5 0h0m1 0h0m4.5 0h0m2 0h0m3 0h0m.5 0h0m2 0h0m4 0h0m.5 0h0m1.5 0h0m13 0h0m.5 0h0m2 0h0m3 0h0m1.5 0h0m.5 0h0m5 0h0m.5 0h0m4 0h0m-126 .5h0m2.5 0h0m1.5 0h0m1.5 0h0m12.5 0h0m29 0h0m1.5 0h0m1 0h0m2.5 0h0m2 0h0m.5 0h0m6.5 0h0m.5 0h0m2.5 0h0m1 0h0m2 0h0m5.5 0h0m1 0h0m1.5 0h0m2 0h0m.5 0h0m1.5 0h0m1.5 0h0m3 0h0m4.5 0h0m.5 0h0m.5 0h0m1 0h0m3.5 0h0m17 0h0m3.5 0h0m2.5 0h0m-111.5 .5h0m2.5 0h0m.5 0h0m10.5 0h0m23.5 0h0m.5 0h0m5.5 0h0m.5 0h0m3 0h0m1 0h0m2.5 0h0m1.5 0h0m3.5 0h0m2.5 0h0m1 0h0m1.5 0h0m5 0h0m6 0h0m1 0h0m3 0h0m3 0h0m3 0h0m1 0h0m4 0h0m2.5 0h0m3 0h0m9 0h0m4.5 0h0m1 0h0m1 0h0m.5 0h0m1.5 0h0m2.5 0h0m3 0h0m.5 0h0m-119.5 .5h0m6.5 0h0m37.5 0h0m6 0h0m6.5 0h0m1.5 0h0m4.5 0h0m5 0h0m4 0h0m1 0h0m8 0h0m4.5 0h0m2.5 0h0m5 0h0m11 0h0m9.5 0h0m2.5 0h0m1 0h0m.5 0h0m1 0h0m9.5 0h0m-124.5 .5h0m2 0h0m2 0h0m1.5 0h0m7 0h0m.5 0h0m20 0h0m6.5 0h0m.5 0h0m11.5 0h0m.5 0h0m7 0h0m2 0h0m2 0h0m2.5 0h0m1.5 0h0m1 0h0m2.5 0h0m3 0h0m1 0h0m4 0h0m.5 0h0m.5 0h0m8.5 0h0m2.5 0h0m2.5 0h0m6.5 0h0m.5 0h0m.5 0h0m2 0h0m8 0h0m5 0h0m5.5 0h0m7.5 0h0m-139 .5h0m6 0h0m2.5 0h0m1.5 0h0m1 0h0m1 0h0m.5 0h0m2 0h0m1.5 0h0m.5 0h0m.5 0h0m5 0h0m1.5 0h0m.5 0h0m20.5 0h0m4 0h0m5 0h0m.5 0h0m1.5 0h0m1.5 0h0m3 0h0m4 0h0m1 0h0m2.5 0h0m8 0h0m3 0h0m6.5 0h0m.5 0h0m5.5 0h0m5 0h0m1.5 0h0m.5 0h0m2.5 0h0m1.5 0h0m1.5 0h0m7.5 0h0m2 0h0m14.5 0h0m-116.5 .5h0m1.5 0h0m4.5 0h0m7 0h0m1 0h0m16 0h0m1 0h0m2 0h0m.5 0h0m6 0h0m.5 0h0m.5 0h0m2.5 0h0m2 0h0m2.5 0h0m6.5 0h0m6 0h0m4 0h0m1 0h0m3.5 0h0m7 0h0m4.5 0h0m4.5 0h0m6 0h0m1 0h0m9.5 0h0m3 0h0m8.5 0h0m4 0h0m11.5 0h0m-134.5 .5h0m4 0h0m2.5 0h0m2 0h0m4 0h0m5 0h0m.5 0h0m2 0h0m17 0h0m6.5 0h0m2.5 0h0m1.5 0h0m.5 0h0m3 0h0m3.5 0h0m6.5 0h0m1 0h0m4.5 0h0m3 0h0m3 0h0m1 0h0m1 0h0m.5 0h0m3 0h0m3.5 0h0m7.5 0h0m4 0h0m3 0h0m1 0h0m3 0h0m4.5 0h0m3 0h0m3 0h0m15 0h0m3.5 0h0m8 0h0m-133.5 .5h0m1 0h0m4 0h0m.5 0h0m3.5 0h0m7 0h0m15.5 0h0m1.5 0h0m.5 0h0m2 0h0m5.5 0h0m.5 0h0m3 0h0m6 0h0m6.5 0h0m.5 0h0m3.5 0h0m5.5 0h0m1 0h0m1.5 0h0m3.5 0h0m5 0h0m3 0h0m4 0h0m2 0h0m2 0h0m.5 0h0m.5 0h0m7.5 0h0m2 0h0m2 0h0m3.5 0h0m1.5 0h0m15.5 0h0m.5 0h0m4.5 0h0m-131.5 .5h0m6.5 0h0m2 0h0m4 0h0m8 0h0m.5 0h0m6 0h0m5 0h0m13.5 0h0m1 0h0m9 0h0m5 0h0m2.5 0h0m6 0h0m2 0h0m.5 0h0m1.5 0h0m1 0h0m3 0h0m5.5 0h0m2 0h0m1 0h0m11 0h0m.5 0h0m.5 0h0m6 0h0m3.5 0h0m.5 0h0m17.5 0h0m3 0h0m1.5 0h0m3.5 0h0m-128 .5h0m8 0h0m14 0h0m.5 0h0m3.5 0h0m10 0h0m6 0h0m.5 0h0m7.5 0h0m5 0h0m.5 0h0m5 0h0m3.5 0h0m4.5 0h0m2 0h0m2 0h0m.5 0h0m8 0h0m2 0h0m19 0h0m1 0h0m.5 0h0m.5 0h0m18 0h0m.5 0h0m1 0h0m4 0h0m-130 .5h0m4.5 0h0m5.5 0h0m12.5 0h0m5.5 0h0m6 0h0m1.5 0h0m.5 0h0m.5 0h0m3.5 0h0m1.5 0h0m1.5 0h0m6 0h0m5 0h0m1.5 0h0m.5 0h0m4 0h0m.5 0h0m1.5 0h0m8.5 0h0m1.5 0h0m3.5 0h0m5.5 0h0m6.5 0h0m1.5 0h0m3.5 0h0m.5 0h0m1.5 0h0m5.5 0h0m2.5 0h0m2.5 0h0m.5 0h0m8.5 0h0m8.5 0h0m3.5 0h0m-126 .5h0m.5 0h0m2.5 0h0m2 0h0m17.5 0h0m.5 0h0m4.5 0h0m2 0h0m7 0h0m2 0h0m2 0h0m3.5 0h0m3.5 0h0m2.5 0h0m1.5 0h0m2.5 0h0m4.5 0h0m6 0h0m3 0h0m6 0h0m6.5 0h0m8 0h0m4 0h0m5.5 0h0m1.5 0h0m1.5 0h0m2 0h0m19.5 0h0m1 0h0m2 0h0m1 0h0m2.5 0h0m-125.5 .5h0m32.5 0h0m5 0h0m1 0h0m5.5 0h0m1.5 0h0m1 0h0m.5 0h0m1 0h0m1.5 0h0m2.5 0h0m3 0h0m2.5 0h0m3 0h0m2.5 0h0m1 0h0m12 0h0m1 0h0m3.5 0h0m1 0h0m2 0h0m5 0h0m4 0h0m.5 0h0m3 0h0m2.5 0h0m16 0h0m7 0h0m1.5 0h0m-126 .5h0m.5 0h0m.5 0h0m1.5 0h0m1 0h0m2 0h0m19 0h0m.5 0h0m.5 0h0m3.5 0h0m12 0h0m13.5 0h0m2 0h0m4.5 0h0m4.5 0h0m12.5 0h0m6.5 0h0m4 0h0m2.5 0h0m8 0h0m1 0h0m2 0h0m.5 0h0m.5 0h0m1 0h0m9 0h0m2.5 0h0m8 0h0m11.5 0h0m-135.5 .5h0m2 0h0m1.5 0h0m2.5 0h0m27.5 0h0m6.5 0h0m6 0h0m8 0h0m14 0h0m4.5 0h0m.5 0h0m1 0h0m2.5 0h0m7.5 0h0m.5 0h0m5 0h0m3.5 0h0m2.5 0h0m3 0h0m.5 0h0m.5 0h0m2.5 0h0m.5 0h0m14 0h0m6.5 0h0m.5 0h0m4.5 0h0m3 0h0m8 0h0m-141 .5h0m4 0h0m.5 0h0m3.5 0h0m27.5 0h0m7.5 0h0m2 0h0m1 0h0m1 0h0m.5 0h0m7 0h0m.5 0h0m10 0h0m1.5 0h0m10 0h0m.5 0h0m4 0h0m6 0h0m.5 0h0m1 0h0m3.5 0h0m3 0h0m11.5 0h0m.5 0h0m17.5 0h0m9 0h0m1.5 0h0m-132 .5h0m2 0h0m2 0h0m1 0h0m26 0h0m1 0h0m2.5 0h0m.5 0h0m1 0h0m.5 0h0m2.5 0h0m3 0h0m5.5 0h0m2.5 0h0m1 0h0m6 0h0m2.5 0h0m1 0h0m3 0h0m5 0h0m1.5 0h0m6 0h0m5 0h0m2.5 0h0m6.5 0h0m1 0h0m3.5 0h0m5.5 0h0m1 0h0m8.5 0h0m.5 0h0m2 0h0m2 0h0m3 0h0m4.5 0h0m.5 0h0m.5 0h0m4.5 0h0m10.5 0h0m3.5 0h0m-142.5 .5h0m2 0h0m.5 0h0m30 0h0m2 0h0m.5 0h0m2 0h0m1.5 0h0m1 0h0m1 0h0m3.5 0h0m3 0h0m5 0h0m3.5 0h0m2 0h0m4 0h0m6.5 0h0m1 0h0m6 0h0m8 0h0m3.5 0h0m.5 0h0m4.5 0h0m.5 0h0m1 0h0m4.5 0h0m7.5 0h0m.5 0h0m5 0h0m2.5 0h0m.5 0h0m2 0h0m3 0h0m4 0h0m.5 0h0m.5 0h0m4 0h0m2.5 0h0m6 0h0m-134 .5h0m27 0h0m2 0h0m6.5 0h0m3.5 0h0m.5 0h0m.5 0h0m1 0h0m.5 0h0m8 0h0m1 0h0m1.5 0h0m13 0h0m3 0h0m16 0h0m4.5 0h0m6.5 0h0m2 0h0m3 0h0m8 0h0m.5 0h0m2.5 0h0m2 0h0m2.5 0h0m.5 0h0m1 0h0m.5 0h0m5.5 0h0m-125 .5h0m.5 0h0m18 0h0m1 0h0m12 0h0m1.5 0h0m1.5 0h0m3.5 0h0m8.5 0h0m.5 0h0m3.5 0h0m5.5 0h0m3 0h0m5 0h0m7 0h0m3.5 0h0m1 0h0m5.5 0h0m2 0h0m1.5 0h0m10.5 0h0m1 0h0m1.5 0h0m3.5 0h0m1.5 0h0m3.5 0h0m6 0h0m.5 0h0m7 0h0m2 0h0m2 0h0m1.5 0h0m3.5 0h0m7 0h0m1 0h0m-138 .5h0m2.5 0h0m.5 0h0m30.5 0h0m6 0h0m9 0h0m.5 0h0m7 0h0m1 0h0m1.5 0h0m.5 0h0m2 0h0m15 0h0m6.5 0h0m2 0h0m8 0h0m6 0h0m1 0h0m7.5 0h0m1 0h0m1 0h0m10 0h0m10 0h0m4.5 0h0m1.5 0h0m3.5 0h0m-138.5 .5h0m3 0h0m15 0h0m1.5 0h0m1.5 0h0m2 0h0m.5 0h0m7 0h0m1.5 0h0m1.5 0h0m4 0h0m4 0h0m5 0h0m3.5 0h0m4 0h0m9 0h0m6.5 0h0m2.5 0h0m5 0h0m8.5 0h0m5 0h0m6 0h0m1.5 0h0m.5 0h0m2.5 0h0m.5 0h0m1 0h0m1 0h0m1 0h0m4 0h0m1 0h0m.5 0h0m1 0h0m3.5 0h0m3 0h0m.5 0h0m1.5 0h0m2 0h0m1 0h0m2.5 0h0m1 0h0m2 0h0m.5 0h0m5.5 0h0m-135 .5h0m4 0h0m.5 0h0m10.5 0h0m9 0h0m1 0h0m.5 0h0m6.5 0h0m2.5 0h0m2 0h0m1.5 0h0m3.5 0h0m2 0h0m2 0h0m3.5 0h0m1.5 0h0m9.5 0h0m1.5 0h0m2 0h0m.5 0h0m2.5 0h0m2 0h0m4 0h0m4.5 0h0m10 0h0m4 0h0m2.5 0h0m1 0h0m2.5 0h0m3 0h0m3.5 0h0m1.5 0h0m1.5 0h0m1.5 0h0m5 0h0m2.5 0h0m3 0h0m4 0h0m.5 0h0m1 0h0m3 0h0m5 0h0m7.5 0h0m-139.5 .5h0m4.5 0h0m11 0h0m.5 0h0m3.5 0h0m6 0h0m1 0h0m6.5 0h0m5.5 0h0m3.5 0h0m4 0h0m3.5 0h0m5 0h0m3.5 0h0m.5 0h0m.5 0h0m2.5 0h0m7 0h0m3.5 0h0m2 0h0m1 0h0m15.5 0h0m8.5 0h0m.5 0h0m.5 0h0m1.5 0h0m4 0h0m.5 0h0m1.5 0h0m2.5 0h0m2.5 0h0m.5 0h0m.5 0h0m4 0h0m4.5 0h0m1 0h0m3.5 0h0m3.5 0h0m1.5 0h0m.5 0h0m3.5 0h0m8 0h0m-145 .5h0m3.5 0h0m1.5 0h0m13.5 0h0m2 0h0m2.5 0h0m12 0h0m.5 0h0m1 0h0m.5 0h0m1 0h0m.5 0h0m2 0h0m18.5 0h0m7 0h0m11.5 0h0m1 0h0m13 0h0m8 0h0m1 0h0m1.5 0h0m7.5 0h0m4 0h0m2 0h0m.5 0h0m3.5 0h0m.5 0h0m.5 0h0m.5 0h0m3 0h0m5 0h0m4.5 0h0m1.5 0h0m-132.5 .5h0m.5 0h0m1 0h0m13.5 0h0m1.5 0h0m2 0h0m3.5 0h0m.5 0h0m.5 0h0m12 0h0m9.5 0h0m1 0h0m1.5 0h0m8.5 0h0m19 0h0m17.5 0h0m1 0h0m9.5 0h0m4.5 0h0m2 0h0m5.5 0h0m4.5 0h0m.5 0h0m3.5 0h0m.5 0h0m.5 0h0m5.5 0h0m2.5 0h0m.5 0h0m2.5 0h0m.5 0h0m-138 .5h0m1 0h0m18.5 0h0m.5 0h0m1 0h0m5.5 0h0m3 0h0m.5 0h0m.5 0h0m.5 0h0m2 0h0m7 0h0m1.5 0h0m1.5 0h0m3 0h0m2 0h0m16 0h0m8 0h0m10 0h0m9.5 0h0m11.5 0h0m1 0h0m4 0h0m3.5 0h0m1 0h0m3.5 0h0m2.5 0h0m.5 0h0m.5 0h0m7.5 0h0m2.5 0h0m3 0h0m2 0h0m5.5 0h0m-138.5 .5h0m18 0h0m.5 0h0m.5 0h0m1.5 0h0m4 0h0m.5 0h0m1 0h0m.5 0h0m2 0h0m.5 0h0m1 0h0m4 0h0m2 0h0m1 0h0m3 0h0m2 0h0m1 0h0m.5 0h0m.5 0h0m10 0h0m3 0h0m1 0h0m9 0h0m8 0h0m13.5 0h0m16 0h0m8.5 0h0m2 0h0m11 0h0m.5 0h0m1.5 0h0m.5 0h0m2 0h0m2.5 0h0m-114.5 .5h0m5 0h0m2 0h0m2 0h0m.5 0h0m4.5 0h0m7.5 0h0m6.5 0h0m5 0h0m.5 0h0m1 0h0m12 0h0m5.5 0h0m12 0h0m3 0h0m1 0h0m3.5 0h0m11.5 0h0m3.5 0h0m2 0h0m2 0h0m.5 0h0m7.5 0h0m2 0h0m4.5 0h0m1 0h0m4 0h0m1 0h0m2.5 0h0m-134 .5h0m.5 0h0m18.5 0h0m7 0h0m3 0h0m5 0h0m1.5 0h0m2 0h0m3.5 0h0m12.5 0h0m9 0h0m8.5 0h0m12.5 0h0m1.5 0h0m20.5 0h0m10.5 0h0m4.5 0h0m4 0h0m4 0h0m4 0h0m2 0h0m1.5 0h0m2 0h0m4 0h0m-119.5 .5h0m10 0h0m1 0h0m4 0h0m2 0h0m4.5 0h0m2 0h0m3 0h0m2.5 0h0m5.5 0h0m3.5 0h0m21.5 0h0m2.5 0h0m12.5 0h0m7.5 0h0m.5 0h0m.5 0h0m1 0h0m3.5 0h0m2.5 0h0m.5 0h0m10 0h0m7.5 0h0m1.5 0h0m5 0h0m3.5 0h0m-139.5 .5h0m3.5 0h0m1 0h0m13 0h0m2.5 0h0m.5 0h0m.5 0h0m.5 0h0m.5 0h0m3 0h0m.5 0h0m3.5 0h0m2.5 0h0m.5 0h0m.5 0h0m3.5 0h0m12.5 0h0m2 0h0m7 0h0m21.5 0h0m4 0h0m6.5 0h0m7 0h0m3 0h0m5.5 0h0m2 0h0m6.5 0h0m2.5 0h0m4 0h0m1.5 0h0m.5 0h0m6 0h0m1 0h0m.5 0h0m3 0h0m.5 0h0m5.5 0h0m.5 0h0m.5 0h0m8 0h0m-150.5 .5h0m5.5 0h0m2 0h0m.5 0h0m12.5 0h0m2 0h0m2.5 0h0m1.5 0h0m2.5 0h0m4 0h0m2.5 0h0m9 0h0m1 0h0m.5 0h0m7.5 0h0m1.5 0h0m.5 0h0m2.5 0h0m20 0h0m5.5 0h0m2 0h0m1 0h0m13.5 0h0m5.5 0h0m1 0h0m1 0h0m9.5 0h0m3.5 0h0m.5 0h0m20.5 0h0m4 0h0m-144.5 .5h0m4.5 0h0m2.5 0h0m.5 0h0m13 0h0m1 0h0m6.5 0h0m3.5 0h0m.5 0h0m.5 0h0m1.5 0h0m.5 0h0m3.5 0h0m2.5 0h0m.5 0h0m.5 0h0m16 0h0m22.5 0h0m4.5 0h0m1 0h0m9.5 0h0m6.5 0h0m16.5 0h0m2.5 0h0m1.5 0h0m8 0h0m5 0h0m5 0h0m1 0h0m-137 .5h0m3 0h0m15.5 0h0m2 0h0m1.5 0h0m2 0h0m1.5 0h0m4 0h0m1 0h0m5 0h0m1 0h0m3.5 0h0m4.5 0h0m9.5 0h0m6.5 0h0m5 0h0m3.5 0h0m6.5 0h0m5.5 0h0m9.5 0h0m9 0h0m10 0h0m1 0h0m2.5 0h0m.5 0h0m2.5 0h0m1 0h0m2 0h0m.5 0h0m12 0h0m7 0h0m.5 0h0m-145 .5h0m2 0h0m5 0h0m.5 0h0m1 0h0m.5 0h0m12.5 0h0m3.5 0h0m7.5 0h0m1.5 0h0m6.5 0h0m6.5 0h0m13.5 0h0m23 0h0m2 0h0m.5 0h0m2 0h0m3.5 0h0m3 0h0m7.5 0h0m.5 0h0m2 0h0m7.5 0h0m5.5 0h0m2 0h0m2.5 0h0m3.5 0h0m1 0h0m3 0h0m1.5 0h0m2.5 0h0m1.5 0h0m2 0h0m.5 0h0m4 0h0m1 0h0m.5 0h0m3 0h0m-145 .5h0m7.5 0h0m.5 0h0m12 0h0m4 0h0m3.5 0h0m3.5 0h0m2.5 0h0m8 0h0m9.5 0h0m4 0h0m10 0h0m7.5 0h0m2.5 0h0m4.5 0h0m8 0h0m4 0h0m4 0h0m1 0h0m3.5 0h0m4.5 0h0m4.5 0h0m4 0h0m14.5 0h0m.5 0h0m.5 0h0m2.5 0h0m.5 0h0m1 0h0m7 0h0m5.5 0h0m-144 .5h0m1 0h0m17.5 0h0m.5 0h0m1 0h0m.5 0h0m1 0h0m5 0h0m5 0h0m1 0h0m3.5 0h0m12 0h0m4.5 0h0m8.5 0h0m7.5 0h0m10.5 0h0m9.5 0h0m2 0h0m7 0h0m8 0h0m10.5 0h0m1 0h0m3 0h0m2.5 0h0m.5 0h0m2.5 0h0m3 0h0m3.5 0h0m1.5 0h0m2.5 0h0m4 0h0m4.5 0h0m2 0h0m-129.5 .5h0m23.5 0h0m2.5 0h0m2 0h0m2.5 0h0m2 0h0m1.5 0h0m7 0h0m2.5 0h0m20 0h0m1 0h0m19.5 0h0m1 0h0m1 0h0m6.5 0h0m9.5 0h0m2 0h0m1 0h0m.5 0h0m7 0h0m4.5 0h0m.5 0h0m3.5 0h0m.5 0h0m2.5 0h0m6 0h0m-148.5 .5h0m1 0h0m.5 0h0m18 0h0m2 0h0m5.5 0h0m4 0h0m4 0h0m1 0h0m.5 0h0m6 0h0m9 0h0m2.5 0h0m47 0h0m5.5 0h0m2.5 0h0m.5 0h0m6 0h0m.5 0h0m2 0h0m4.5 0h0m1 0h0m3 0h0m5 0h0m6 0h0m5 0h0m8 0h0m-138.5 .5h0m3 0h0m3 0h0m7.5 0h0m1.5 0h0m1.5 0h0m57 0h0m9 0h0m10.5 0h0m9 0h0m4.5 0h0m6.5 0h0m1.5 0h0m2 0h0m2.5 0h0m2.5 0h0m8.5 0h0m2.5 0h0m2.5 0h0m2.5 0h0m-148.5 .5h0m9.5 0h0m.5 0h0m.5 0h0m.5 0h0m1.5 0h0m2.5 0h0m1.5 0h0m.5 0h0m8.5 0h0m3 0h0m.5 0h0m1.5 0h0m10 0h0m2 0h0m6.5 0h0m5 0h0m16 0h0m9 0h0m6 0h0m14.5 0h0m6 0h0m3.5 0h0m3.5 0h0m5.5 0h0m2.5 0h0m5 0h0m4 0h0m.5 0h0m.5 0h0m2.5 0h0m.5 0h0m3 0h0m2 0h0m2 0h0m1.5 0h0m4.5 0h0m1.5 0h0m-148.5 .5h0m9 0h0m4 0h0m1.5 0h0m8.5 0h0m6 0h0m1.5 0h0m10 0h0m3 0h0m7 0h0m.5 0h0m8.5 0h0m12.5 0h0m4 0h0m4 0h0m11 0h0m4 0h0m8.5 0h0m17.5 0h0m6.5 0h0m3 0h0m1 0h0m7.5 0h0m1.5 0h0m3.5 0h0m7 0h0m-135.5 .5h0m.5 0h0m1.5 0h0m.5 0h0m1.5 0h0m8 0h0m3 0h0m.5 0h0m7 0h0m4 0h0m1 0h0m1.5 0h0m2 0h0m2 0h0m9 0h0m.5 0h0m11.5 0h0m8 0h0m1 0h0m6.5 0h0m5 0h0m19.5 0h0m6.5 0h0m2 0h0m17 0h0m1.5 0h0m1 0h0m4.5 0h0m2.5 0h0m-144 .5h0m8.5 0h0m10.5 0h0m18.5 0h0m35 0h0m17.5 0h0m9 0h0m20.5 0h0m1.5 0h0m6.5 0h0m4 0h0m.5 0h0m.5 0h0m2.5 0h0m4 0h0m4 0h0m-143.5 .5h0m1 0h0m9.5 0h0m1 0h0m.5 0h0m.5 0h0m9 0h0m6 0h0m4 0h0m4 0h0m23 0h0m1.5 0h0m45.5 0h0m10.5 0h0m1.5 0h0m1 0h0m2 0h0m1.5 0h0m7 0h0m1.5 0h0m1.5 0h0m4.5 0h0m3.5 0h0m2 0h0m1 0h0m3.5 0h0m-147.5 .5h0m.5 0h0m1 0h0m7.5 0h0m1.5 0h0m1.5 0h0m3.5 0h0m10.5 0h0m1.5 0h0m11.5 0h0m8 0h0m34 0h0m7 0h0m13 0h0m19.5 0h0m4.5 0h0m.5 0h0m7.5 0h0m7.5 0h0m2 0h0m4.5 0h0m1 0h0m3.5 0h0m-144 .5h0m2 0h0m1.5 0h0m.5 0h0m18.5 0h0m15.5 0h0m3.5 0h0m9.5 0h0m4.5 0h0m8.5 0h0m16.5 0h0m32 0h0m5 0h0m2 0h0m12.5 0h0m1.5 0h0m6 0h0m3 0h0m-149 .5h0m5.5 0h0m3 0h0m1 0h0m6 0h0m4 0h0m6.5 0h0m6 0h0m8 0h0m3 0h0m1.5 0h0m2.5 0h0m7.5 0h0m8.5 0h0m3 0h0m1 0h0m1.5 0h0m1.5 0h0m1 0h0m40.5 0h0m10.5 0h0m4.5 0h0m4 0h0m4 0h0m2 0h0m7.5 0h0m11.5 0h0m-157.5 .5h0m7 0h0m28 0h0m3 0h0m7 0h0m5.5 0h0m1.5 0h0m39.5 0h0m12 0h0m2 0h0m13.5 0h0m9 0h0m1.5 0h0m.5 0h0m1.5 0h0m11.5 0h0m3 0h0m5.5 0h0m2.5 0h0m-146.5 .5h0m5.5 0h0m8 0h0m11.5 0h0m10 0h0m4 0h0m11.5 0h0m58 0h0m9 0h0m3.5 0h0m8 0h0m10 0h0m1 0h0m-147.5 .5h0m9.5 0h0m3 0h0m2.5 0h0m19 0h0m5.5 0h0m2 0h0m6.5 0h0m31 0h0m2 0h0m15 0h0m13.5 0h0m17.5 0h0m1.5 0h0m.5 0h0m27 0h0m-155 .5h0m1.5 0h0m1 0h0m5 0h0m2 0h0m2.5 0h0m3 0h0m15.5 0h0m18 0h0m2 0h0m4.5 0h0m43.5 0h0m14.5 0h0m.5 0h0m3.5 0h0m3 0h0m4.5 0h0m5 0h0m1.5 0h0m8 0h0m1.5 0h0m2.5 0h0m2 0h0m4.5 0h0m4.5 0h0m-155 .5h0m1 0h0m7.5 0h0m5 0h0m3 0h0m.5 0h0m9 0h0m5 0h0m3.5 0h0m21.5 0h0m48 0h0m6.5 0h0m9.5 0h0m3 0h0m13 0h0m.5 0h0m6 0h0m8.5 0h0m-147 .5h0m3.5 0h0m1 0h0m1.5 0h0m7.5 0h0m11.5 0h0m4 0h0m9.5 0h0m3 0h0m1.5 0h0m6 0h0m5.5 0h0m64.5 0h0m23.5 0h0m1 0h0m5.5 0h0m-151.5 .5h0m3.5 0h0m9.5 0h0m1.5 0h0m3 0h0m5 0h0m13.5 0h0m14 0h0m9.5 0h0m7.5 0h0m22.5 0h0m9 0h0m17 0h0m7 0h0m10 0h0m7 0h0m1.5 0h0m.5 0h0m6 0h0m-146.5 .5h0m1.5 0h0m1.5 0h0m4 0h0m9.5 0h0m3 0h0m52.5 0h0m35.5 0h0m21 0h0m2.5 0h0m5 0h0m.5 0h0m1 0h0m-136.5 .5h0m1.5 0h0m.5 0h0m2 0h0m18.5 0h0m3 0h0m10 0h0m5 0h0m12 0h0m9 0h0m3.5 0h0m13.5 0h0m16.5 0h0m7 0h0m16 0h0m2 0h0m.5 0h0m2.5 0h0m11 0h0m1.5 0h0m1.5 0h0m.5 0h0m5.5 0h0m1 0h0m3.5 0h0m1 0h0m1 0h0m-151 .5h0m5 0h0m3.5 0h0m1 0h0m2.5 0h0m2.5 0h0m5.5 0h0m19 0h0m8 0h0m13 0h0m17 0h0m50.5 0h0m2 0h0m5 0h0m4 0h0m-141.5 .5h0m4.5 0h0m6.5 0h0m16 0h0m7.5 0h0m11 0h0m12.5 0h0m20 0h0m9.5 0h0m8 0h0m29.5 0h0m8 0h0m13.5 0h0m7 0h0m4 0h0m1 0h0m-157.5 .5h0m.5 0h0m18.5 0h0m2 0h0m9 0h0m3 0h0m13.5 0h0m12.5 0h0m11 0h0m1 0h0m.5 0h0m10 0h0m9 0h0m14 0h0m.5 0h0m10 0h0m11.5 0h0m8.5 0h0m3.5 0h0m2.5 0h0m8 0h0m3.5 0h0m-154 .5h0m8 0h0m19.5 0h0m28 0h0m7 0h0m2.5 0h0m13.5 0h0m6 0h0m16.5 0h0m.5 0h0m2 0h0m9 0h0m10 0h0m1 0h0m20 0h0m1.5 0h0m13.5 0h0m-154.5 .5h0m2.5 0h0m5.5 0h0m1.5 0h0m4 0h0m1 0h0m22 0h0m22 0h0m19 0h0m.5 0h0m4 0h0m28 0h0m3 0h0m27 0h0m6 0h0m2 0h0m6 0h0m-155.5 .5h0m12.5 0h0m4 0h0m1 0h0m8.5 0h0m5 0h0m12 0h0m2.5 0h0m5.5 0h0m8 0h0m.5 0h0m31.5 0h0m27 0h0m11 0h0m12.5 0h0m4 0h0m5 0h0m5 0h0m2 0h0m2 0h0m-161.5 .5h0m3.5 0h0m13.5 0h0m2.5 0h0m41.5 0h0m2.5 0h0m44 0h0m1 0h0m7.5 0h0m19.5 0h0m2 0h0m3 0h0m4.5 0h0m2.5 0h0m1.5 0h0m2.5 0h0m10.5 0h0m-150 .5h0m2.5 0h0m17.5 0h0m5 0h0m11.5 0h0m7.5 0h0m9.5 0h0m79.5 0h0m.5 0h0m3 0h0m5.5 0h0m-138.5 .5h0m15.5 0h0m4.5 0h0m73.5 0h0m27.5 0h0m4.5 0h0m5 0h0m4 0h0m-145 .5h0m.5 0h0m10 0h0m4.5 0h0m38 0h0m48.5 0h0m12 0h0m8 0h0m13.5 0h0m6 0h0m1.5 0h0m11 0h0m-149 .5h0m9 0h0m24.5 0h0m13 0h0m12 0h0m71 0h0m4.5 0h0m9 0h0m.5 0h0m3 0h0m-143.5 .5h0m17.5 0h0m90.5 0h0m20 0h0m3.5 0h0m2 0h0m2 0h0m-122 .5h0m7 0h0m8 0h0m22.5 0h0m29 0h0m22.5 0h0m4.5 0h0m8 0h0m6.5 0h0m12.5 0h0m-118.5 .5h0m68.5 0h0m11 0h0m12 0h0m9 0h0m23 0h0m11 0h0m-158.5 .5h0m25 0h0m32 0h0m36 0h0m9.5 0h0m10.5 0h0m9 0h0m11.5 0h0m2.5 0h0m6 0h0m2.5 0h0m1 0h0m11 0h0m2.5 0h0m-151.5 .5h0m13.5 0h0m8.5 0h0m90.5 0h0m17 0h0m.5 0h0m13 0h0m4.5 0h0m-138.5 .5h0m5 0h0m7 0h0m39.5 0h0m76 0h0m2.5 0h0m.5 0h0m5 0h0m-104 .5h0m36 0h0m15 0h0m28 0h0m6.5 0h0m5.5 0h0m23.5 0h0m1 0h0m-129.5 .5h0m19 0h0m32 0h0m2.5 0h0m4.5 0h0m48.5 0h0m8.5 0h0m1 0h0m-152.5 .5h0m36 0h0m6.5 0h0m2.5 0h0m18.5 0h0m22.5 0h0m17 0h0m23.5 0h0m33 0h0m-147 .5h0m7.5 0h0m27.5 0h0m23 .5h0m23.5 0h0m8.5 0h0m20.5 0h0m3.5 0h0m22 0h0m7.5 0h0m9 0h0m-135 .5h0m56.5 0h0m1 0h0m44 0h0m12 0h0m13.5 0h0m-111 .5h0m4 0h0m86 0h0m4.5 0h0m10.5 0h0m2 0h0m-124 .5h0m.5 0h0m72 0h0m9 0h0m8 0h0m.5 0h0m18 0h0m3.5 0h0m4 0h0m3 0h0m7 0h0m2 0h0m-121.5 .5h0m8 0h0m16 0h0m31 0h0m50 0h0m6 0h0m-99 .5h0m105 0h0m-126.5 .5h0m8 0h0m27.5 0h0m55.5 0h0m20.5 0h0m22.5 0h0m2.5 0h0m-140.5 .5h0m3.5 0h0m7 0h0m10.5 0h0m52.5 0h0m31 0h0m17.5 0h0m6 0h0m5 0h0m6 0h0m2 0h0m.5 0h0m6.5 0h0m1.5 0h0m-147 .5h0m78 0h0m49 0h0m4 0h0m-108 .5h0m60.5 0h0m62 0h0m-142.5 .5h0m15.5 0h0m13 0h0m50 0h0m40 0h0m8 0h0m4 0h0m3.5 0h0m3 0h0m-98 .5h0m71 0h0m8 0h0m3 0h0m12 0h0m12 0h0m-135 .5h0m3 0h0m41.5 0h0m37 0h0m22 0h0m-117.5 .5h0m127.5 0h0m7.5 0h0m-56 .5h0m-45.5 .5h0m93 0h0m-13 .5h0m16.5 0h0m3.5 0h0m-119.5 .5h0m5 0h0m85 0h0m15.5 0h0m4.5 0h0m12.5 0h0m2 0h0m-38.5 .5h0m19.5 0h0m-59 .5h0m.5 0h0m60 0h0m14 0h0m8.5 0h0m-1.5 .5h0m2 0h0m-146 .5h0m121 0h0m35.5 0h0m-36 .5h0m23.5 0h0m1.5 0h0m-141 .5h0m10 0h0m57 0h0m-57 .5h0m68.5 0h0m3.5 0h0m17 0h0m24.5 0h0m.5 0h0m-89.5 .5h0m81.5 0h0m-107.5 .5h0m47 0h0m17.5 0h0m60.5 0h0m4.5 0h0m-134 .5h0m10.5 0h0m58 .5h0m10.5 0h0m-72.5 .5h0m121.5 0h0m7.5 0h0m6.5 0h0m-116.5 .5h0m118 0h0m-58.5 .5h0m41 0h0m-120.5 .5h0m20 0h0m5.5 0h0m106 0h0m5 0h0m-78.5 .5h0m41.5 0h0m32.5 0h0m-13 .5h0m-42.5 .5h0m15.5 0h0m19 1h0m-64 .5h0m-4 1h0m-43 .5h0m130 0h0m1.5 .5h0m9 0h0m.5 0h0m-157.5 .5h0m103 .5h0m47 .5h0" stroke="#a8679f" stroke-width="1.7" stroke-linecap="round" fill="none"/></g>
<polyline points="316.9,602.22 319.6,600.37 322.31,598.48 325.01,596.54 327.72,594.56 330.42,592.53 333.13,590.47 335.83,588.36 338.54,586.21 341.25,584.02 343.95,581.8 346.65,579.55 349.36,577.27 352.06,574.96 354.77,572.63 357.47,570.29 360.18,567.93 362.88,565.57 365.59,563.2 368.29,560.85 371,558.51 373.7,556.19 376.41,553.91 379.12,551.66 381.82,549.47 384.52,547.34 387.23,545.27 389.93,543.29 392.64,541.39 395.34,539.6 398.05,537.92 400.75,536.36 403.46,534.93 406.16,533.65 408.87,532.51 411.57,531.53 414.28,530.71 416.98,530.06 419.69,529.58 422.39,529.28 425.1,529.16 427.8,529.22 430.51,529.46 433.21,529.87 435.92,530.46 438.62,531.22 441.33,532.14 444.03,533.21 446.74,534.44 449.44,535.8 452.15,537.3 454.86,538.92 457.56,540.65 460.26,542.48 462.97,544.4 465.67,546.41 468.38,548.48 471.08,550.61 473.79,552.79 476.5,555.02 479.2,557.27 481.9,559.55 484.61,561.84 487.31,564.14 490.02,566.44 492.72,568.74 495.43,571.02 498.13,573.29 500.84,575.53 503.54,577.75 506.25,579.95 508.95,582.1 511.66,584.23 514.37,586.31 517.07,588.36 519.77,590.37 522.48,592.33 525.18,594.25 527.89,596.13 530.6,597.96 533.3,599.75" fill="none" stroke="#ff1a1a" stroke-width="1.6" stroke-linejoin="round"/>
<rect x="308.6" y="524" width="233" height="98.8" fill="none" stroke="#707070" stroke-width="1"/>
<path d="M316.9 622.8v3.6M360.18 622.8v3.6M403.46 622.8v3.6M446.74 622.8v3.6M490.02 622.8v3.6M533.3 622.8v3.6M305 604.7h3.6M305 579.93h3.6M305 555.17h3.6M305 530.4h3.6" stroke="#707070" stroke-width="0.9" fill="none"/>
<text x="316.9" y="634.53" class="tk" text-anchor="middle">0.0</text>
<text x="360.18" y="634.53" class="tk" text-anchor="middle">0.2</text>
<text x="403.46" y="634.53" class="tk" text-anchor="middle">0.4</text>
<text x="446.74" y="634.53" class="tk" text-anchor="middle">0.6</text>
<text x="490.02" y="634.53" class="tk" text-anchor="middle">0.8</text>
<text x="533.3" y="634.53" class="tk" text-anchor="middle">1.0</text>
<text class="tk" text-anchor="middle" transform="translate(301.03 604.7) rotate(-90)">30</text>
<text class="tk" text-anchor="middle" transform="translate(301.03 579.93) rotate(-90)">40</text>
<text class="tk" text-anchor="middle" transform="translate(301.03 555.17) rotate(-90)">50</text>
<text class="tk" text-anchor="middle" transform="translate(301.03 530.4) rotate(-90)">60</text>
<text x="308.3" y="511.5" class="ti">Tetramorium tsushimae</text>
<text x="427.5" y="642.2" class="lb" text-anchor="middle">GC3s</text>
<text class="lb" text-anchor="middle" transform="translate(293.2 561.7) rotate(-90)">ENC</text>
</svg>
</body></html>
